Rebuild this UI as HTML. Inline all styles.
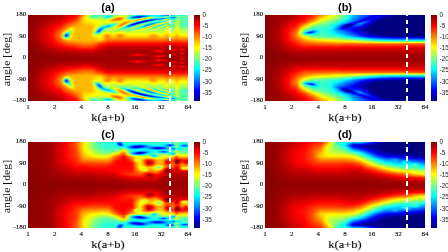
<!DOCTYPE html>
<html><head><meta charset="utf-8"><style>
*{margin:0;padding:0;box-sizing:border-box}
html,body{width:448px;height:252px;background:#fff;overflow:hidden;position:relative}
.p{position:absolute;width:160px;height:86px;overflow:hidden}
.p i{display:block;height:1px;width:160px}
.cb{position:absolute;width:6.3px;height:86.4px}
.t{position:absolute;font:bold 11px "Liberation Sans",Arial,sans-serif;color:#000;width:40px;text-align:center;line-height:1}
.yt{position:absolute;font:7px "Liberation Serif",serif;color:#000;-webkit-text-stroke:0.1px #000;text-align:right;width:20px;line-height:1}
.xt{position:absolute;font:7px "Liberation Serif",serif;color:#000;-webkit-text-stroke:0.1px #000;text-align:center;width:20px;line-height:1}
.xl{position:absolute;font:11px "Liberation Serif",serif;color:#111;-webkit-text-stroke:0.15px #111;text-align:center;width:60px;line-height:1;transform:scaleX(1.13);transform-origin:50% 50%}
.yl{position:absolute;font:11px "Liberation Serif",serif;color:#111;text-align:center;width:70px;line-height:1;transform:rotate(-90deg) scaleX(1.07);transform-origin:50% 50%}
.cl{position:absolute;font:6.4px "Liberation Sans",Arial,sans-serif;color:#222;line-height:1}
.dl{position:absolute;width:1.5px;height:86.4px}
</style></head><body>
<div class="p" style="left:28px;top:15px"><i style="background:linear-gradient(90deg,#8f0000,#900000,#920000,#930000,#940000,#960000,#970000,#990000,#9a0000,#9d0000,#9f0000,#a10000,#a30000,#a70000,#aa0000,#ae0000,#b10000,#bd0000,#c80000,#d30000,#df0000,#e60000,#ed0000,#f40000,#fb0000,#ff2700,#ff5200,#ff7d00,#ffa900,#ffd700,#f2ff0d,#b0ff4f,#64ff9b,#3dffc2,#2dffd2,#3affc5,#54ffab,#67ff98,#63ff9c,#4bffb4,#35ffca,#40ffbf,#5fffa0,#7fff80,#96ff69,#a8ff57,#b9ff46,#c5ff3a,#c6ff39,#b8ff47,#9eff61,#79ff86,#4effb1,#20ffdf,#00f6ff,#00d4ff,#00beff,#00b2ff,#00b6ff,#00c4ff,#00d4ff,#00e6ff,#00f5ff,#02fffd,#05fffa,#00faff,#00e2ff,#00beff,#009bff,#009bff,#008bff,#009aff,#00d2ff,#00ecff,#45ffba,#5bffa4,#29ffd6,#2dffd2,#31ffce,#35ffca,#39ffc6)"></i><i style="background:linear-gradient(90deg,#8f0000,#900000,#920000,#930000,#940000,#960000,#980000,#9a0000,#9c0000,#9f0000,#a10000,#a40000,#a70000,#ab0000,#af0000,#b20000,#b60000,#c20000,#ce0000,#da0000,#e60000,#ee0000,#f60000,#fe0000,#ff0700,#ff3200,#ff5e00,#ff8b00,#ffbc00,#ffeb00,#d6ff29,#8cff73,#46ffb9,#32ffcd,#3fffc0,#5dffa2,#74ff8b,#74ff8b,#4dffb2,#05fffa,#00d0ff,#00edff,#43ffbc,#95ff6a,#cbff34,#efff10,#fff700,#ffee00,#feff01,#cdff32,#88ff77,#36ffc9,#00deff,#0090ff,#0053ff,#002eff,#0025ff,#0031ff,#0056ff,#008cff,#00c6ff,#00fcff,#24ffdb,#31ffce,#22ffdd,#00ffff,#00e1ff,#00ddff,#02fffd,#5cffa3,#8dff72,#58ffa7,#25ffda,#2bffd4,#95ff6a,#b6ff49,#77ff88,#6cff93,#5bffa4,#49ffb6,#38ffc7)"></i><i style="background:linear-gradient(90deg,#8f0000,#900000,#920000,#930000,#940000,#970000,#990000,#9b0000,#9d0000,#a10000,#a40000,#a70000,#ab0000,#af0000,#b30000,#b70000,#bb0000,#c80000,#d40000,#e10000,#ed0000,#f60000,#ff0000,#ff0900,#ff1100,#ff3e00,#ff6c00,#ff9c00,#ffd200,#fdff02,#c5ff3a,#8eff71,#6aff95,#6fff90,#82ff7d,#91ff6e,#93ff6c,#86ff79,#5bffa4,#15ffea,#00e7ff,#11ffee,#77ff88,#dbff24,#ffdd00,#ffb300,#ffa100,#ffae00,#ffe100,#c5ff3a,#5dffa2,#00f1ff,#0093ff,#004fff,#0030ff,#0039ff,#0069ff,#00b5ff,#19ffe6,#7bff84,#c4ff3b,#e3ff1c,#cfff30,#99ff66,#60ff9f,#44ffbb,#50ffaf,#6bff94,#72ff8d,#79ff86,#3dffc2,#00d1ff,#0095ff,#006eff,#00f3ff,#51ffae,#40ffbf,#62ff9d,#7cff83,#87ff78,#7eff81)"></i><i style="background:linear-gradient(90deg,#8f0000,#900000,#920000,#930000,#940000,#970000,#9a0000,#9c0000,#9f0000,#a30000,#a60000,#aa0000,#ae0000,#b30000,#b70000,#bc0000,#c00000,#cd0000,#da0000,#e70000,#f40000,#fe0000,#ff0900,#ff1300,#ff1c00,#ff4a00,#ff7a00,#ffac00,#ffe300,#f8ff07,#d6ff29,#bdff42,#b1ff4e,#b3ff4c,#b3ff4c,#afff50,#a6ff59,#9fff60,#91ff6e,#7fff80,#7fff80,#abff54,#f5ff0a,#ffbe00,#ff8600,#ff6a00,#ff6f00,#ff9700,#ffe300,#bbff44,#5cffa3,#0dfff2,#00d7ff,#00c5ff,#00dcff,#1fffe0,#84ff7b,#f0ff0f,#ffc300,#ffbd00,#fff900,#a3ff5c,#3affc5,#00ecff,#00caff,#00c2ff,#00b3ff,#008cff,#0072ff,#00b3ff,#00f9ff,#13ffec,#00e9ff,#00ccff,#59ffa6,#99ff66,#4affb5,#32ffcd,#2affd5,#44ffbb,#70ff8f)"></i><i style="background:linear-gradient(90deg,#8f0000,#910000,#920000,#940000,#960000,#990000,#9c0000,#9f0000,#a20000,#a70000,#ab0000,#af0000,#b40000,#b90000,#be0000,#c30000,#c70000,#d50000,#e30000,#f10000,#ff0000,#ff0c00,#ff1900,#ff2500,#ff3100,#ff5b00,#ff8500,#ffb100,#ffdf00,#fff300,#f9ff06,#ebff14,#dfff20,#d9ff26,#d0ff2f,#c7ff38,#bfff40,#bcff43,#beff41,#c8ff37,#e0ff1f,#fff000,#ffb800,#ff8600,#ff6700,#ff6300,#ff7e00,#ffb200,#fff500,#cbff34,#9eff61,#84ff7b,#7fff80,#99ff66,#d6ff29,#ffd900,#ff9f00,#ffac00,#f5ff0a,#6aff95,#00e0ff,#007aff,#0047ff,#0046ff,#0061ff,#007bff,#0099ff,#00e0ff,#5effa1,#fff700,#ffcf00,#93ff6c,#24ffdb,#00f0ff,#58ffa7,#91ff6e,#6fff90,#87ff78,#6cff93,#39ffc6,#2dffd2)"></i><i style="background:linear-gradient(90deg,#8f0000,#910000,#930000,#950000,#970000,#9b0000,#9e0000,#a20000,#a60000,#ab0000,#b00000,#b50000,#ba0000,#bf0000,#c40000,#c90000,#cf0000,#dd0000,#ec0000,#fb0000,#ff0b00,#ff1a00,#ff2900,#ff3800,#ff4700,#ff6b00,#ff8f00,#ffb300,#ffd800,#ffe500,#fff100,#fffd00,#f6ff09,#edff12,#e5ff1a,#deff21,#d9ff26,#d6ff29,#dbff24,#eaff15,#fffc00,#ffd300,#ffad00,#ff9200,#ff8d00,#ff9b00,#ffbc00,#ffe300,#feff01,#f6ff09,#f9ff06,#fffd00,#ffeb00,#ffcb00,#ffb500,#ffd100,#c9ff36,#31ffce,#009bff,#002fff,#0000fb,#0011ff,#005dff,#00b5ff,#00f9ff,#30ffcf,#71ff8e,#a8ff57,#a4ff5b,#85ff7a,#21ffde,#05fffa,#47ffb8,#72ff8d,#e4ff1b,#c4ff3b,#32ffcd,#34ffcb,#6eff91,#84ff7b,#4affb5)"></i><i style="background:linear-gradient(90deg,#8f0000,#920000,#940000,#960000,#990000,#9d0000,#a10000,#a50000,#a90000,#af0000,#b40000,#ba0000,#bf0000,#c50000,#cb0000,#d00000,#d60000,#e60000,#f50000,#ff0600,#ff1600,#ff2800,#ff3900,#ff4b00,#ff5d00,#ff7b00,#ff9900,#ffb700,#ffd500,#ffde00,#ffe700,#fff000,#fff900,#feff01,#f8ff07,#f3ff0c,#f2ff0d,#edff12,#eeff11,#f6ff09,#fffc00,#ffe400,#ffd300,#ffd000,#ffdc00,#ffee00,#feff01,#fdff02,#ffea00,#ffc700,#ffb400,#ffb700,#ffca00,#fff600,#a9ff56,#16ffe9,#0077ff,#0000ff,#0000d6,#0000ff,#0066ff,#00e5ff,#41ffbe,#5bffa4,#50ffaf,#40ffbf,#27ffd8,#00feff,#00f4ff,#70ff8f,#f0ff0f,#ccff33,#74ff8b,#3fffc0,#94ff6b,#c4ff3b,#89ff76,#61ff9e,#2affd5,#57ffa8,#86ff79)"></i><i style="background:linear-gradient(90deg,#8f0000,#920000,#950000,#970000,#9a0000,#9f0000,#a40000,#a80000,#ad0000,#b30000,#b90000,#c00000,#c60000,#cc0000,#d20000,#d80000,#de0000,#ef0000,#ff0200,#ff1300,#ff2400,#ff3700,#ff4a00,#ff5d00,#ff7100,#ff8900,#ffa100,#ffba00,#ffd200,#ffd800,#ffde00,#ffe400,#ffea00,#fff100,#fff800,#fffd00,#ffff00,#f6ff09,#f0ff0f,#edff12,#eaff15,#f0ff0f,#ecff13,#dfff20,#ceff31,#ccff33,#e3ff1c,#ffe700,#ffa800,#ff8900,#ffa500,#ffe900,#b5ff4a,#2effd1,#0085ff,#0000f8,#0000c9,#0000f9,#0073ff,#04fffb,#6bff94,#80ff7f,#45ffba,#00f5ff,#00c6ff,#00c8ff,#04fffb,#74ff8b,#f4ff0b,#ffb000,#cdff32,#0dfff2,#2fffd0,#6eff91,#f2ff0d,#b9ff46,#2effd1,#6eff91,#79ff86,#2cffd3,#5affa5)"></i><i style="background:linear-gradient(90deg,#8f0000,#920000,#950000,#980000,#9c0000,#a10000,#a70000,#ac0000,#b20000,#b80000,#bf0000,#c60000,#cd0000,#d40000,#db0000,#e20000,#e90000,#fd0000,#ff1200,#ff2600,#ff3a00,#ff4b00,#ff5d00,#ff6f00,#ff8000,#ff9200,#ffa500,#ffb800,#ffcb00,#ffcf00,#ffd300,#ffd700,#ffdb00,#ffe800,#fff400,#ffff00,#f5ff0a,#eaff15,#deff21,#d1ff2e,#c0ff3f,#b2ff4d,#9bff64,#87ff78,#86ff79,#b1ff4e,#fff900,#ff9f00,#ff7200,#ff9600,#fff800,#82ff7d,#00deff,#002fff,#0000ca,#0000ec,#0073ff,#0ffff0,#8bff74,#adff52,#64ff9b,#00ebff,#0093ff,#0091ff,#00f1ff,#8bff74,#fff200,#ffe100,#9cff63,#32ffcd,#32ffcd,#91ff6e,#8aff75,#4dffb2,#9bff64,#ddff22,#7cff83,#2bffd4,#59ffa6,#73ff8c,#20ffdf)"></i><i style="background:linear-gradient(90deg,#8f0000,#930000,#960000,#9a0000,#9d0000,#a30000,#a90000,#b00000,#b60000,#be0000,#c50000,#cd0000,#d40000,#dc0000,#e40000,#ec0000,#f40000,#ff0c00,#ff2200,#ff3900,#ff5000,#ff5f00,#ff7000,#ff8100,#ff9000,#ff9b00,#ffa900,#ffb600,#ffc400,#ffc600,#ffc800,#ffcb00,#ffcd00,#ffdf00,#fff200,#fbff04,#e9ff16,#d8ff27,#bfff40,#9eff61,#72ff8d,#48ffb7,#2bffd4,#33ffcc,#6dff92,#d9ff26,#ffb000,#ff6f00,#ff8800,#fff200,#72ff8d,#00bbff,#0018ff,#0000e8,#004aff,#00efff,#83ff7c,#cdff32,#aaff55,#26ffd9,#009cff,#006dff,#00b9ff,#68ff97,#ffed00,#ffc000,#c7ff38,#0ffff0,#00e5ff,#ccff33,#ffb300,#6aff95,#24ffdb,#5fffa0,#f3ff0c,#a8ff57,#4affb5,#82ff7d,#28ffd7,#5dffa2,#4dffb2)"></i><i style="background:linear-gradient(90deg,#8f0000,#930000,#970000,#9b0000,#9e0000,#a50000,#ac0000,#b30000,#ba0000,#c30000,#cb0000,#d30000,#db0000,#e40000,#ed0000,#f60000,#ff0000,#ff1900,#ff3300,#ff4c00,#ff6500,#ff7400,#ff8600,#ff9800,#ffa000,#ffa400,#ffac00,#ffb400,#ffbd00,#ffbd00,#ffbe00,#ffbe00,#ffbe00,#ffd700,#ffef00,#f5ff0a,#d5ff2a,#acff53,#6eff91,#2dffd2,#00f0ff,#00d4ff,#00ecff,#39ffc6,#a9ff56,#ffd900,#ff8800,#ff8d00,#ffeb00,#75ff8a,#00beff,#0037ff,#0035ff,#00b0ff,#4bffb4,#b7ff48,#d1ff2e,#82ff7d,#00efff,#0081ff,#0085ff,#13ffec,#dfff20,#ffa800,#ffe700,#58ffa7,#00d7ff,#37ffc8,#fbff04,#ffe700,#35ffca,#2affd5,#89ff76,#5dffa2,#9aff65,#ecff13,#56ffa9,#37ffc8,#78ff87,#17ffe8,#6eff91)"></i><i style="background:linear-gradient(90deg,#8f0000,#930000,#980000,#9c0000,#a00000,#a80000,#b00000,#b70000,#bf0000,#c80000,#d10000,#da0000,#e30000,#ed0000,#f80000,#ff0300,#ff0d00,#ff2900,#ff4400,#ff6000,#ff7b00,#ff8a00,#ffa300,#ffb000,#ffab00,#ffab00,#ffb000,#ffb500,#ffba00,#ffba00,#ffba00,#ffba00,#ffba00,#ffd600,#fff500,#e2ff1d,#9fff60,#40ffbf,#00e7ff,#00c1ff,#00bcff,#00e7ff,#38ffc7,#98ff67,#fbff04,#ffb700,#ffad00,#fff200,#86ff79,#00e6ff,#0081ff,#0098ff,#0bfff4,#7eff81,#baff45,#aaff55,#55ffaa,#00e4ff,#00aaff,#00e2ff,#82ff7d,#ffd200,#ffaf00,#cfff30,#24ffdb,#06fff9,#9cff63,#fffc00,#7dff82,#3bffc4,#d9ff26,#c1ff3e,#46ffb9,#61ff9e,#f6ff09,#acff53,#7eff81,#60ff9f,#52ffad,#67ff98,#45ffba)"></i><i style="background:linear-gradient(90deg,#8f0000,#940000,#980000,#9d0000,#a10000,#aa0000,#b30000,#bc0000,#c40000,#ce0000,#d70000,#e10000,#ea0000,#f60000,#ff0300,#ff1000,#ff1c00,#ff3900,#ff5600,#ff7400,#ff9200,#ffa700,#ffcb00,#ffc700,#ffb300,#ffb000,#ffb300,#ffb700,#ffba00,#ffba00,#ffba00,#ffbb00,#ffbb00,#ffdc00,#f9ff06,#b7ff48,#39ffc6,#00bbff,#00aeff,#00eaff,#22ffdd,#5fffa0,#9eff61,#dcff23,#ffee00,#ffde00,#f3ff0c,#90ff6f,#1affe5,#00d6ff,#00f3ff,#49ffb6,#91ff6e,#a8ff57,#89ff76,#45ffba,#0afff5,#00fcff,#46ffb9,#d5ff2a,#ffc100,#ffda00,#a0ff5f,#30ffcf,#4dffb2,#cdff32,#dfff20,#55ffaa,#3effc1,#ffe300,#faff05,#42ffbd,#8eff71,#8bff74,#c7ff38,#fffe00,#66ff99,#8eff71,#64ff9b,#88ff77,#54ffab)"></i><i style="background:linear-gradient(90deg,#8f0000,#940000,#990000,#9e0000,#a30000,#ac0000,#b60000,#c00000,#c90000,#d30000,#dd0000,#e70000,#f10000,#ff0000,#ff0e00,#ff1c00,#ff2b00,#ff4a00,#ff6900,#ff8800,#ffad00,#ffd500,#feff01,#ffda00,#ffb900,#ffb600,#ffb700,#ffb900,#ffba00,#ffba00,#ffbb00,#ffbb00,#ffbe00,#ffe500,#e3ff1c,#7aff85,#00c1ff,#0084ff,#00fcff,#61ff9e,#88ff77,#a6ff59,#c5ff3a,#e4ff1b,#f0ff0f,#d6ff29,#94ff6b,#48ffb7,#23ffdc,#3cffc3,#72ff8d,#97ff68,#98ff67,#7bff84,#55ffaa,#40ffbf,#4fffb0,#92ff6d,#f9ff06,#ffd300,#f8ff07,#93ff6c,#57ffa8,#83ff7c,#d5ff2a,#c2ff3d,#62ff9d,#77ff88,#dfff20,#dfff20,#9fff60,#c0ff3f,#90ff6f,#8aff75,#fffa00,#ddff22,#a9ff56,#7dff82,#a4ff5b,#7bff84,#97ff68)"></i><i style="background:linear-gradient(90deg,#8f0000,#940000,#9a0000,#9f0000,#a40000,#af0000,#b90000,#c40000,#ce0000,#d90000,#e30000,#ee0000,#f80000,#ff0900,#ff1900,#ff2900,#ff3900,#ff5a00,#ff7c00,#ff9f00,#ffd000,#e8ff17,#cfff30,#ffe100,#ffbe00,#ffba00,#ffba00,#ffba00,#ffba00,#ffba00,#ffbb00,#ffbc00,#ffc000,#ffea00,#ceff31,#21ffde,#0054ff,#00a3ff,#5cffa3,#9fff60,#aaff55,#b8ff47,#c7ff38,#cfff30,#c2ff3d,#9cff63,#70ff8f,#60ff9f,#72ff8d,#8eff71,#9aff65,#92ff6d,#7fff80,#73ff8c,#76ff89,#8dff72,#c1ff3e,#faff05,#fff900,#d9ff26,#9fff60,#86ff79,#a4ff5b,#cbff34,#b7ff48,#87ff78,#9eff61,#ccff33,#a2ff5d,#d2ff2d,#ffee00,#a1ff5e,#a6ff59,#b1ff4e,#f6ff09,#fff400,#9fff60,#b2ff4d,#a2ff5d,#a8ff57,#b1ff4e)"></i><i style="background:linear-gradient(90deg,#8f0000,#950000,#9a0000,#9f0000,#a50000,#b00000,#bb0000,#c50000,#d00000,#dc0000,#e70000,#f20000,#fd0000,#ff1100,#ff2300,#ff3500,#ff4800,#ff6900,#ff9000,#ffba00,#ffff00,#a4ff5b,#beff41,#ffda00,#ffbc00,#ffba00,#ffba00,#ffba00,#ffba00,#ffbb00,#ffbb00,#ffbc00,#ffbf00,#ffec00,#9fff60,#00a1ff,#002eff,#02fffd,#9cff63,#bbff44,#beff41,#c4ff3b,#c6ff39,#c0ff3f,#adff52,#9bff64,#97ff68,#a2ff5d,#aaff55,#a8ff57,#9cff63,#94ff6b,#98ff67,#a8ff57,#c0ff3f,#dfff20,#eeff11,#dfff20,#c6ff39,#b8ff47,#b4ff4b,#b8ff47,#bdff42,#bbff44,#b6ff49,#b7ff48,#baff45,#b5ff4a,#b9ff46,#fbff04,#f6ff09,#bbff44,#b7ff48,#b7ff48,#fff700,#fff800,#b9ff46,#b6ff49,#b6ff49,#b8ff47,#b6ff49)"></i><i style="background:linear-gradient(90deg,#8f0000,#950000,#9a0000,#a00000,#a60000,#b10000,#bc0000,#c70000,#d30000,#df0000,#eb0000,#f60000,#ff0300,#ff1800,#ff2d00,#ff4100,#ff5600,#ff7b00,#ffaf00,#fff100,#b4ff4b,#71ff8e,#ccff33,#ffd100,#ffbb00,#ffba00,#ffba00,#ffba00,#ffba00,#ffbb00,#ffbb00,#ffbb00,#ffbe00,#fffd00,#48ffb7,#0055ff,#0089ff,#6aff95,#bfff40,#ceff31,#d1ff2e,#cfff30,#c9ff36,#c0ff3f,#bdff42,#c5ff3a,#cfff30,#ceff31,#c2ff3d,#b5ff4a,#b1ff4e,#b7ff48,#c3ff3c,#d5ff2a,#e7ff18,#e9ff16,#daff25,#ccff33,#c6ff39,#c6ff39,#c7ff38,#cbff34,#cfff30,#d0ff2f,#cdff32,#c9ff36,#c6ff39,#c5ff3a,#c9ff36,#fffb00,#fffb00,#c9ff36,#c5ff3a,#c7ff38,#fff100,#fff100,#c7ff38,#c5ff3a,#c5ff3a,#c5ff3a,#c5ff3a)"></i><i style="background:linear-gradient(90deg,#8f0000,#950000,#9b0000,#a10000,#a60000,#b20000,#be0000,#c90000,#d50000,#e10000,#ee0000,#fb0000,#ff0900,#ff2000,#ff3700,#ff4e00,#ff6500,#ff8f00,#ffe600,#a2ff5d,#4bffb4,#63ff9c,#eaff15,#ffcc00,#ffbb00,#ffba00,#ffba00,#ffba00,#ffba00,#ffba00,#ffba00,#ffbb00,#ffc200,#ddff22,#0afff5,#0098ff,#23ffdc,#afff50,#d9ff26,#e9ff16,#edff12,#e3ff1c,#d6ff29,#d4ff2b,#e0ff1f,#f5ff0a,#feff01,#f2ff0d,#dcff23,#d0ff2f,#d0ff2f,#d6ff29,#e2ff1d,#ecff13,#e9ff16,#deff21,#d6ff29,#d4ff2b,#d4ff2b,#d5ff2a,#d9ff26,#e1ff1e,#eaff15,#edff12,#e6ff19,#dcff23,#d6ff29,#d4ff2b,#d7ff28,#fff100,#fff100,#d7ff28,#d4ff2b,#d5ff2a,#ffeb00,#ffeb00,#d5ff2a,#d4ff2b,#d4ff2b,#d4ff2b,#d4ff2b)"></i><i style="background:linear-gradient(90deg,#8f0000,#950000,#9b0000,#a10000,#a70000,#b30000,#be0000,#ca0000,#d60000,#e30000,#f00000,#fd0000,#ff0b00,#ff2400,#ff3d00,#ff5500,#ff6f00,#ffa300,#ccff33,#04fffb,#00dcff,#78ff87,#fff700,#ffca00,#ffba00,#ffba00,#ffba00,#ffba00,#ffba00,#ffba00,#ffba00,#ffbb00,#ffcb00,#c2ff3d,#2bffd4,#35ffca,#96ff69,#d8ff27,#f9ff06,#ffea00,#ffe400,#fff800,#f3ff0c,#f1ff0e,#fffa00,#ffdc00,#ffce00,#ffdf00,#fffc00,#efff10,#ecff13,#f1ff0e,#f4ff0b,#f1ff0e,#eaff15,#e7ff18,#e6ff19,#e6ff19,#e6ff19,#e8ff17,#efff10,#feff01,#ffee00,#ffe900,#fff600,#f5ff0a,#eaff15,#e7ff18,#e9ff16,#ffe400,#ffe400,#e9ff16,#e6ff19,#e7ff18,#ffe100,#ffe100,#e7ff18,#e6ff19,#e6ff19,#e6ff19,#e6ff19)"></i><i style="background:linear-gradient(90deg,#8e0000,#940000,#9a0000,#a10000,#a70000,#b30000,#be0000,#ca0000,#d60000,#e30000,#f10000,#fe0000,#ff0c00,#ff2500,#ff3f00,#ff5800,#ff7300,#ffb100,#80ff7f,#0066ff,#008cff,#98ff67,#ffe500,#ffc800,#ffba00,#ffba00,#ffba00,#ffba00,#ffba00,#ffba00,#ffba00,#ffbd00,#ffd300,#cdff32,#90ff6f,#b3ff4c,#d1ff2e,#f5ff0a,#ffdf00,#ffb700,#ffae00,#ffcd00,#ffea00,#fff000,#ffda00,#ffb400,#ffa000,#ffb300,#ffd900,#fff200,#fff900,#fffa00,#fffd00,#fdff02,#fcff03,#fcff03,#fcff03,#fcff03,#fcff03,#ffff00,#fff500,#ffdf00,#ffc500,#ffbe00,#ffd100,#ffec00,#fffc00,#fdff02,#ffff00,#ffd300,#ffd300,#ffff00,#fcff03,#fdff02,#ffd300,#ffd300,#fdff02,#fcff03,#fcff03,#fcff03,#fcff03)"></i><i style="background:linear-gradient(90deg,#8d0000,#940000,#9a0000,#a00000,#a70000,#b30000,#be0000,#ca0000,#d60000,#e30000,#f10000,#fe0000,#ff0d00,#ff2700,#ff4100,#ff5b00,#ff7700,#ffba00,#58ffa7,#001cff,#007fff,#b5ff4a,#ffdd00,#ffc800,#ffba00,#ffba00,#ffba00,#ffba00,#ffba00,#ffba00,#ffbb00,#ffbe00,#ffd200,#f4ff0b,#e5ff1a,#efff10,#eaff15,#fff400,#ffc300,#ff9500,#ff8a00,#ffad00,#ffd000,#ffd900,#ffc300,#ff9c00,#ff8800,#ff9b00,#ffc100,#ffdb00,#ffe600,#ffea00,#ffec00,#ffec00,#ffec00,#ffec00,#ffec00,#ffec00,#ffec00,#ffe900,#ffde00,#ffc500,#ffa700,#ff9f00,#ffb500,#ffd300,#ffe500,#ffeb00,#ffea00,#ffc200,#ffc200,#ffea00,#ffec00,#ffec00,#ffc500,#ffc500,#ffec00,#ffec00,#ffec00,#ffec00,#ffec00)"></i><i style="background:linear-gradient(90deg,#8d0000,#930000,#9a0000,#a00000,#a70000,#b30000,#be0000,#ca0000,#d60000,#e40000,#f10000,#ff0000,#ff0e00,#ff2800,#ff4300,#ff5e00,#ff7a00,#ffb900,#6eff91,#0059ff,#00c4ff,#d0ff2f,#ffda00,#ffc800,#ffba00,#ffba00,#ffba00,#ffba00,#ffba00,#ffba00,#ffbb00,#ffbe00,#ffca00,#ffe400,#ffee00,#fff800,#f9ff06,#ffe700,#ffba00,#ff8f00,#ff8200,#ffa000,#ffbf00,#ffc700,#ffb600,#ff9700,#ff8700,#ff9600,#ffb400,#ffca00,#ffd400,#ffd600,#ffd700,#ffd700,#ffd700,#ffd700,#ffd700,#ffd700,#ffd600,#ffd400,#ffca00,#ffb400,#ff9a00,#ff9200,#ffa600,#ffc000,#ffd000,#ffd500,#ffd400,#ffb100,#ffb100,#ffd400,#ffd700,#ffd600,#ffb600,#ffb600,#ffd600,#ffd700,#ffd700,#ffd700,#ffd700)"></i><i style="background:linear-gradient(90deg,#8d0000,#930000,#990000,#a00000,#a60000,#b20000,#bd0000,#c80000,#d40000,#e10000,#ef0000,#fd0000,#ff0b00,#ff2400,#ff3d00,#ff5600,#ff7000,#ffa400,#bfff40,#00feff,#46ffb9,#f7ff08,#ffd100,#ffc400,#ffba00,#ffba00,#ffba00,#ffba00,#ffba00,#ffba00,#ffbb00,#ffbd00,#ffc100,#ffd000,#ffdd00,#ffeb00,#fff800,#ffdd00,#ffb900,#ff9500,#ff8500,#ff9800,#ffab00,#ffb000,#ffa600,#ff9400,#ff8a00,#ff9300,#ffa600,#ffb400,#ffb900,#ffba00,#ffba00,#ffba00,#ffba00,#ffba00,#ffba00,#ffba00,#ffba00,#ffb800,#ffb100,#ffa200,#ff9000,#ff8b00,#ff9900,#ffab00,#ffb600,#ffb900,#ffb800,#ff9a00,#ff9a00,#ffb800,#ffba00,#ffba00,#ffa000,#ffa000,#ffba00,#ffba00,#ffba00,#ffba00,#ffba00)"></i><i style="background:linear-gradient(90deg,#8d0000,#930000,#990000,#9f0000,#a50000,#b00000,#bc0000,#c70000,#d20000,#df0000,#ec0000,#fa0000,#ff0800,#ff1f00,#ff3600,#ff4d00,#ff6500,#ff8c00,#ffea00,#a7ff58,#c0ff3f,#ffe500,#ffc800,#ffc100,#ffba00,#ffba00,#ffba00,#ffba00,#ffba00,#ffba00,#ffbb00,#ffbc00,#ffbc00,#ffc800,#ffd400,#ffe000,#ffeb00,#ffd300,#ffb500,#ff9900,#ff8500,#ff8d00,#ff9600,#ff9800,#ff9400,#ff8b00,#ff8600,#ff8b00,#ff9400,#ff9a00,#ff9d00,#ff9d00,#ff9d00,#ff9d00,#ff9d00,#ff9d00,#ff9d00,#ff9d00,#ff9d00,#ff9c00,#ff9900,#ff9000,#ff8700,#ff8400,#ff8b00,#ff9500,#ff9b00,#ff9d00,#ff9b00,#ff8100,#ff8100,#ff9c00,#ff9d00,#ff9d00,#ff8800,#ff8800,#ff9d00,#ff9d00,#ff9d00,#ff9d00,#ff9d00)"></i><i style="background:linear-gradient(90deg,#8d0000,#930000,#990000,#9f0000,#a50000,#af0000,#ba0000,#c50000,#cf0000,#dd0000,#ea0000,#f70000,#ff0500,#ff1a00,#ff2f00,#ff4400,#ff5a00,#ff7900,#ffae00,#ffe800,#ffee00,#ffcb00,#ffc000,#ffbd00,#ffba00,#ffba00,#ffba00,#ffba00,#ffba00,#ffba00,#ffba00,#ffbb00,#ffbb00,#ffc400,#ffcd00,#ffd500,#ffde00,#ffc500,#ffaa00,#ff8f00,#ff7800,#ff7b00,#ff7e00,#ff7e00,#ff7d00,#ff7900,#ff7800,#ff7a00,#ff7d00,#ff7f00,#ff8000,#ff8000,#ff8000,#ff8000,#ff8000,#ff8000,#ff8000,#ff8000,#ff8000,#ff8000,#ff7e00,#ff7b00,#ff7700,#ff7600,#ff7900,#ff7d00,#ff7f00,#ff8000,#ff7f00,#ff6800,#ff6800,#ff7f00,#ff8000,#ff8000,#ff6f00,#ff6f00,#ff8000,#ff8000,#ff8000,#ff8000,#ff8000)"></i><i style="background:linear-gradient(90deg,#8d0000,#920000,#980000,#9e0000,#a40000,#ae0000,#b80000,#c30000,#cd0000,#da0000,#e60000,#f30000,#ff0100,#ff1400,#ff2700,#ff3a00,#ff4d00,#ff6800,#ff8900,#ffab00,#ffbe00,#ffb500,#ffb300,#ffb300,#ffb400,#ffb400,#ffb500,#ffb500,#ffb600,#ffb600,#ffb600,#ffb600,#ffb600,#ffba00,#ffbf00,#ffc300,#ffc700,#ffae00,#ff9400,#ff7a00,#ff6100,#ff6200,#ff6300,#ff6300,#ff6200,#ff6100,#ff6100,#ff6100,#ff6200,#ff6300,#ff6300,#ff6300,#ff6300,#ff6300,#ff6300,#ff6300,#ff6300,#ff6300,#ff6300,#ff6300,#ff6300,#ff6100,#ff6000,#ff6000,#ff6100,#ff6200,#ff6300,#ff6300,#ff6200,#ff4f00,#ff4f00,#ff6200,#ff6300,#ff6300,#ff5600,#ff5600,#ff6300,#ff6300,#ff6300,#ff6300,#ff6300)"></i><i style="background:linear-gradient(90deg,#8d0000,#920000,#970000,#9d0000,#a20000,#ac0000,#b60000,#bf0000,#c90000,#d50000,#e10000,#ed0000,#f90000,#ff0b00,#ff1c00,#ff2e00,#ff3f00,#ff5500,#ff6c00,#ff8300,#ff9700,#ff9800,#ff9900,#ff9c00,#ff9e00,#ffa000,#ffa300,#ffa500,#ffa700,#ffa700,#ffa700,#ffa700,#ffa700,#ffa500,#ffa200,#ff9f00,#ff9c00,#ff8600,#ff7100,#ff5b00,#ff4600,#ff4600,#ff4600,#ff4600,#ff4600,#ff4600,#ff4600,#ff4600,#ff4600,#ff4600,#ff4600,#ff4600,#ff4600,#ff4600,#ff4600,#ff4600,#ff4600,#ff4600,#ff4600,#ff4600,#ff4600,#ff4600,#ff4500,#ff4500,#ff4500,#ff4600,#ff4600,#ff4600,#ff4500,#ff3500,#ff3500,#ff4500,#ff4600,#ff4600,#ff3c00,#ff3c00,#ff4600,#ff4600,#ff4600,#ff4600,#ff4600)"></i><i style="background:linear-gradient(90deg,#8d0000,#920000,#970000,#9c0000,#a10000,#aa0000,#b30000,#bc0000,#c60000,#d10000,#dc0000,#e70000,#f20000,#ff0200,#ff1100,#ff2100,#ff3000,#ff4200,#ff5400,#ff6600,#ff7800,#ff7c00,#ff8000,#ff8400,#ff8800,#ff8c00,#ff9100,#ff9500,#ff9900,#ff9900,#ff9900,#ff9900,#ff9900,#ff8f00,#ff8500,#ff7a00,#ff7000,#ff5e00,#ff4d00,#ff3b00,#ff2900,#ff2900,#ff2900,#ff2900,#ff2900,#ff2900,#ff2900,#ff2900,#ff2900,#ff2900,#ff2900,#ff2900,#ff2900,#ff2900,#ff2900,#ff2900,#ff2900,#ff2900,#ff2900,#ff2900,#ff2900,#ff2900,#ff2900,#ff2900,#ff2900,#ff2900,#ff2900,#ff2900,#ff2800,#ff1b00,#ff1b00,#ff2800,#ff2900,#ff2900,#ff2100,#ff2100,#ff2900,#ff2900,#ff2900,#ff2900,#ff2900)"></i><i style="background:linear-gradient(90deg,#8d0000,#910000,#960000,#9b0000,#9f0000,#a80000,#b10000,#b90000,#c20000,#cc0000,#d60000,#e00000,#ea0000,#f80000,#ff0700,#ff1400,#ff2200,#ff3000,#ff3e00,#ff4c00,#ff5b00,#ff6000,#ff6600,#ff6c00,#ff7200,#ff7800,#ff7e00,#ff8400,#ff8a00,#ff8a00,#ff8a00,#ff8a00,#ff8a00,#ff7900,#ff6800,#ff5600,#ff4500,#ff3600,#ff2800,#ff1a00,#ff0c00,#ff0c00,#ff0c00,#ff0c00,#ff0c00,#ff0c00,#ff0c00,#ff0c00,#ff0c00,#ff0c00,#ff0c00,#ff0c00,#ff0c00,#ff0c00,#ff0c00,#ff0c00,#ff0c00,#ff0c00,#ff0c00,#ff0c00,#ff0c00,#ff0c00,#ff0c00,#ff0c00,#ff0c00,#ff0c00,#ff0c00,#ff0c00,#ff0b00,#ff0100,#ff0100,#ff0b00,#ff0c00,#ff0c00,#ff0600,#ff0600,#ff0c00,#ff0c00,#ff0c00,#ff0c00,#ff0c00)"></i><i style="background:linear-gradient(90deg,#8c0000,#910000,#950000,#990000,#9e0000,#a60000,#ae0000,#b50000,#bd0000,#c70000,#d00000,#da0000,#e30000,#ef0000,#fb0000,#ff0700,#ff1300,#ff1f00,#ff2b00,#ff3700,#ff4200,#ff4900,#ff5000,#ff5600,#ff5d00,#ff6300,#ff6a00,#ff7000,#ff7700,#ff7700,#ff7700,#ff7700,#ff7700,#ff6300,#ff5000,#ff3c00,#ff2800,#ff1c00,#ff0f00,#ff0300,#f60000,#f60000,#f60000,#f60000,#f60000,#f60000,#f60000,#f60000,#f60000,#f60000,#f60000,#f60000,#f60000,#f60000,#f60000,#f60000,#f60000,#f60000,#f60000,#f60000,#f60000,#f60000,#f60000,#f60000,#f60000,#f60000,#f60000,#f60000,#f50000,#ed0000,#ed0000,#f50000,#f60000,#f50000,#f10000,#f10000,#f50000,#f60000,#f60000,#f60000,#f60000)"></i><i style="background:linear-gradient(90deg,#8b0000,#900000,#940000,#980000,#9c0000,#a30000,#aa0000,#b10000,#b80000,#c10000,#ca0000,#d30000,#dc0000,#e60000,#f00000,#fa0000,#ff0500,#ff0f00,#ff1900,#ff2300,#ff2d00,#ff3300,#ff3a00,#ff4000,#ff4700,#ff4d00,#ff5400,#ff5a00,#ff6100,#ff6100,#ff6100,#ff6100,#ff6100,#ff4d00,#ff3a00,#ff2600,#ff1300,#ff0700,#fa0000,#ef0000,#e30000,#e30000,#e30000,#e30000,#e30000,#e30000,#e30000,#e30000,#e30000,#e30000,#e30000,#e30000,#e30000,#e30000,#e30000,#e30000,#e30000,#e30000,#e30000,#e30000,#e30000,#e30000,#e30000,#e30000,#e30000,#e30000,#e30000,#e30000,#e30000,#dc0000,#dc0000,#e30000,#e30000,#e30000,#e00000,#e00000,#e30000,#e30000,#e30000,#e30000,#e30000)"></i><i style="background:linear-gradient(90deg,#8b0000,#8f0000,#930000,#970000,#9b0000,#a10000,#a70000,#ad0000,#b30000,#bb0000,#c40000,#cc0000,#d50000,#dd0000,#e50000,#ed0000,#f50000,#fd0000,#ff0700,#ff0f00,#ff1700,#ff1d00,#ff2400,#ff2b00,#ff3100,#ff3800,#ff3e00,#ff4500,#ff4b00,#ff4b00,#ff4b00,#ff4b00,#ff4b00,#ff3800,#ff2400,#ff1000,#fc0000,#f10000,#e60000,#dc0000,#d10000,#d10000,#d10000,#d10000,#d10000,#d10000,#d10000,#d10000,#d10000,#d10000,#d10000,#d10000,#d10000,#d10000,#d10000,#d10000,#d10000,#d10000,#d10000,#d10000,#d10000,#d10000,#d10000,#d10000,#d10000,#d10000,#d10000,#d10000,#d10000,#cc0000,#cc0000,#d10000,#d10000,#d10000,#cf0000,#cf0000,#d10000,#d10000,#d10000,#d10000,#d10000)"></i><i style="background:linear-gradient(90deg,#8a0000,#8e0000,#920000,#960000,#990000,#9f0000,#a40000,#a90000,#ae0000,#b60000,#be0000,#c50000,#cd0000,#d40000,#da0000,#e00000,#e70000,#ed0000,#f40000,#fa0000,#ff0200,#ff0800,#ff0e00,#ff1500,#ff1b00,#ff2200,#ff2800,#ff2f00,#ff3500,#ff3500,#ff3500,#ff3500,#ff3500,#ff2200,#ff0e00,#fa0000,#e70000,#dd0000,#d30000,#ca0000,#c00000,#c00000,#c00000,#c00000,#c00000,#c00000,#c00000,#c00000,#c00000,#c00000,#c00000,#c00000,#c00000,#c00000,#c00000,#c00000,#c00000,#c00000,#c00000,#c00000,#c00000,#c00000,#c00000,#c00000,#c00000,#c00000,#c00000,#c00000,#c00000,#bc0000,#bc0000,#c00000,#c00000,#c00000,#bf0000,#bf0000,#c00000,#c10000,#c00000,#c00000,#c00000)"></i><i style="background:linear-gradient(90deg,#8a0000,#8d0000,#910000,#940000,#970000,#9c0000,#a10000,#a50000,#aa0000,#b00000,#b70000,#be0000,#c40000,#ca0000,#cf0000,#d50000,#db0000,#e00000,#e60000,#eb0000,#f10000,#f60000,#fb0000,#ff0100,#ff0500,#ff0b00,#ff1100,#ff1600,#ff1c00,#ff1c00,#ff1c00,#ff1c00,#ff1c00,#ff0b00,#fa0000,#ea0000,#da0000,#d20000,#c90000,#c10000,#b90000,#b90000,#b90000,#b90000,#b90000,#b90000,#b90000,#b90000,#b90000,#b90000,#b90000,#b90000,#b90000,#b90000,#b90000,#b90000,#b90000,#b90000,#b90000,#b90000,#b90000,#b90000,#b90000,#b90000,#b90000,#b90000,#b90000,#b90000,#b90000,#b60000,#b60000,#b90000,#bc0000,#be0000,#ba0000,#ba0000,#c30000,#cc0000,#c30000,#ba0000,#b90000)"></i><i style="background:linear-gradient(90deg,#8a0000,#8d0000,#900000,#920000,#950000,#990000,#9d0000,#a10000,#a50000,#ab0000,#b10000,#b60000,#bc0000,#c00000,#c50000,#ca0000,#ce0000,#d30000,#d70000,#dc0000,#e10000,#e40000,#e80000,#eb0000,#ef0000,#f30000,#f80000,#fd0000,#ff0200,#ff0200,#ff0200,#ff0200,#ff0200,#f40000,#e70000,#da0000,#cd0000,#c60000,#bf0000,#b80000,#b20000,#b20000,#b20000,#b20000,#b20000,#b20000,#b20000,#b20000,#b20000,#b20000,#b20000,#b20000,#b20000,#b20000,#b20000,#b20000,#b20000,#b20000,#b20000,#b20000,#b20000,#b20000,#b40000,#b70000,#ba0000,#bc0000,#bc0000,#ba0000,#b60000,#b20000,#b00000,#b80000,#db0000,#ee0000,#c40000,#ba0000,#e50000,#ff1200,#e50000,#ba0000,#b20000)"></i><i style="background:linear-gradient(90deg,#8a0000,#8c0000,#8e0000,#910000,#930000,#960000,#9a0000,#9e0000,#a10000,#a60000,#aa0000,#ae0000,#b30000,#b70000,#ba0000,#be0000,#c20000,#c60000,#c90000,#cd0000,#d10000,#d30000,#d50000,#d70000,#d90000,#dd0000,#e00000,#e40000,#e80000,#e80000,#e80000,#e80000,#e80000,#de0000,#d40000,#ca0000,#c00000,#ba0000,#b50000,#b00000,#aa0000,#aa0000,#aa0000,#aa0000,#aa0000,#aa0000,#aa0000,#aa0000,#aa0000,#aa0000,#aa0000,#aa0000,#aa0000,#aa0000,#aa0000,#aa0000,#aa0000,#aa0000,#aa0000,#ab0000,#ac0000,#b00000,#ba0000,#cb0000,#e00000,#f00000,#f00000,#e00000,#cb0000,#b80000,#ae0000,#b50000,#e80000,#ff0600,#c60000,#b10000,#cd0000,#ea0000,#cd0000,#b00000,#ab0000)"></i><i style="background:linear-gradient(90deg,#8a0000,#8b0000,#8d0000,#8f0000,#910000,#940000,#970000,#9a0000,#9d0000,#a10000,#a50000,#a80000,#ac0000,#af0000,#b20000,#b50000,#b80000,#bb0000,#bd0000,#c00000,#c30000,#c40000,#c60000,#c70000,#c80000,#cb0000,#ce0000,#d10000,#d40000,#d40000,#d40000,#d40000,#d40000,#cc0000,#c50000,#be0000,#b60000,#b20000,#ae0000,#aa0000,#a60000,#a60000,#a60000,#a60000,#a60000,#a60000,#a60000,#a60000,#a60000,#a60000,#a60000,#a60000,#a60000,#a60000,#a60000,#a60000,#a60000,#a60000,#a60000,#a70000,#a90000,#ae0000,#bb0000,#d30000,#f00000,#ff0600,#ff0600,#f00000,#d30000,#ba0000,#ad0000,#aa0000,#b30000,#b80000,#ac0000,#a70000,#aa0000,#ae0000,#aa0000,#a70000,#a60000)"></i><i style="background:linear-gradient(90deg,#890000,#8b0000,#8c0000,#8e0000,#900000,#920000,#950000,#980000,#9b0000,#9d0000,#a00000,#a30000,#a60000,#a80000,#ab0000,#ad0000,#b00000,#b20000,#b40000,#b60000,#b80000,#b90000,#ba0000,#bb0000,#bd0000,#bf0000,#c10000,#c30000,#c50000,#c50000,#c50000,#c50000,#c50000,#c00000,#bb0000,#b60000,#b10000,#ae0000,#ac0000,#a90000,#a60000,#a60000,#a60000,#a60000,#a60000,#a60000,#a60000,#a60000,#a60000,#a60000,#a60000,#a60000,#a60000,#a70000,#a70000,#a70000,#a70000,#a70000,#a60000,#a60000,#a70000,#a80000,#ac0000,#b20000,#bb0000,#c10000,#c10000,#bb0000,#b20000,#ab0000,#a70000,#a70000,#aa0000,#ab0000,#a70000,#a90000,#ba0000,#cb0000,#ba0000,#a90000,#a60000)"></i><i style="background:linear-gradient(90deg,#880000,#8a0000,#8b0000,#8d0000,#8e0000,#910000,#930000,#950000,#980000,#9a0000,#9c0000,#9e0000,#a00000,#a20000,#a40000,#a60000,#a80000,#a90000,#ab0000,#ac0000,#ad0000,#ae0000,#af0000,#b00000,#b10000,#b20000,#b40000,#b50000,#b70000,#b70000,#b70000,#b70000,#b70000,#b40000,#b20000,#af0000,#ac0000,#aa0000,#a90000,#a70000,#a50000,#a50000,#a50000,#a50000,#a50000,#a50000,#a50000,#a50000,#a50000,#a60000,#a90000,#ad0000,#b30000,#b90000,#bf0000,#c10000,#bf0000,#b90000,#b30000,#ad0000,#a90000,#a70000,#a60000,#a60000,#a60000,#a70000,#a70000,#a60000,#a60000,#a50000,#a50000,#ab0000,#ce0000,#e10000,#b80000,#af0000,#dd0000,#ff0f00,#dd0000,#ae0000,#a50000)"></i><i style="background:linear-gradient(90deg,#870000,#890000,#8a0000,#8b0000,#8d0000,#8f0000,#910000,#930000,#950000,#960000,#970000,#990000,#9a0000,#9c0000,#9d0000,#9e0000,#a00000,#a00000,#a10000,#a20000,#a30000,#a30000,#a40000,#a50000,#a50000,#a60000,#a70000,#a70000,#a80000,#a80000,#a80000,#a80000,#a80000,#a80000,#a80000,#a70000,#a70000,#a60000,#a60000,#a50000,#a40000,#a40000,#a40000,#a40000,#a40000,#a40000,#a40000,#a50000,#a60000,#aa0000,#b10000,#bf0000,#d40000,#eb0000,#fe0000,#ff0700,#fe0000,#eb0000,#d40000,#bf0000,#b20000,#ab0000,#a80000,#aa0000,#ad0000,#af0000,#af0000,#ac0000,#a90000,#a60000,#a50000,#ad0000,#e20000,#ff0000,#c00000,#a90000,#b90000,#ca0000,#b90000,#a70000,#a40000)"></i><i style="background:linear-gradient(90deg,#870000,#880000,#8a0000,#8b0000,#8c0000,#8e0000,#900000,#910000,#930000,#940000,#950000,#970000,#980000,#990000,#9a0000,#9b0000,#9c0000,#9d0000,#9e0000,#9e0000,#9f0000,#a00000,#a00000,#a10000,#a10000,#a20000,#a20000,#a30000,#a30000,#a30000,#a30000,#a30000,#a30000,#a30000,#a30000,#a30000,#a30000,#a30000,#a30000,#a30000,#a30000,#a30000,#a30000,#a30000,#a30000,#a30000,#a30000,#a30000,#a40000,#a70000,#ac0000,#b70000,#c60000,#d70000,#e50000,#ea0000,#e50000,#d70000,#c60000,#b70000,#ae0000,#ac0000,#b40000,#c40000,#d90000,#e80000,#e80000,#d90000,#c30000,#b20000,#a80000,#a60000,#af0000,#b50000,#a80000,#a40000,#a60000,#a90000,#a60000,#a30000,#a30000)"></i><i style="background:linear-gradient(90deg,#870000,#880000,#890000,#8a0000,#8b0000,#8d0000,#8e0000,#900000,#920000,#930000,#940000,#950000,#960000,#960000,#970000,#980000,#990000,#9a0000,#9b0000,#9b0000,#9c0000,#9d0000,#9d0000,#9e0000,#9f0000,#9f0000,#9f0000,#a00000,#a00000,#a00000,#a00000,#a00000,#a00000,#a00000,#a00000,#a00000,#a00000,#a00000,#a10000,#a10000,#a10000,#a10000,#a10000,#a10000,#a10000,#a10000,#a10000,#a10000,#a20000,#a20000,#a30000,#a40000,#a70000,#a90000,#ab0000,#ac0000,#ab0000,#a90000,#a70000,#a50000,#a50000,#aa0000,#b70000,#ce0000,#eb0000,#ff0100,#ff0100,#eb0000,#ce0000,#b60000,#a90000,#a40000,#a20000,#a20000,#a20000,#a50000,#bb0000,#d10000,#bb0000,#a50000,#a20000)"></i><i style="background:linear-gradient(90deg,#870000,#880000,#890000,#8a0000,#8a0000,#8c0000,#8d0000,#8f0000,#900000,#910000,#920000,#930000,#930000,#940000,#950000,#960000,#960000,#970000,#980000,#980000,#990000,#9a0000,#9a0000,#9b0000,#9c0000,#9c0000,#9c0000,#9c0000,#9c0000,#9c0000,#9c0000,#9c0000,#9c0000,#9c0000,#9c0000,#9c0000,#9c0000,#9d0000,#9e0000,#9f0000,#a00000,#a00000,#a00000,#a00000,#a00000,#a00000,#a00000,#a00000,#a00000,#a00000,#a00000,#a00000,#a00000,#a00000,#a00000,#a00000,#a00000,#a00000,#a00000,#a00000,#a10000,#a20000,#a60000,#ad0000,#b50000,#bb0000,#bb0000,#b50000,#ad0000,#a60000,#a20000,#a10000,#a00000,#a00000,#a00000,#a60000,#c70000,#e70000,#c70000,#a60000,#a00000)"></i><i style="background:linear-gradient(90deg,#870000,#880000,#890000,#890000,#8a0000,#8c0000,#8d0000,#8e0000,#900000,#900000,#910000,#920000,#920000,#930000,#940000,#950000,#950000,#960000,#970000,#970000,#980000,#990000,#990000,#9a0000,#9b0000,#9b0000,#9b0000,#9b0000,#9b0000,#9b0000,#9b0000,#9b0000,#9b0000,#9b0000,#9b0000,#9b0000,#9b0000,#9c0000,#9d0000,#9e0000,#9f0000,#9f0000,#9f0000,#9f0000,#9f0000,#9f0000,#9f0000,#9f0000,#9f0000,#9f0000,#9f0000,#9f0000,#9f0000,#9f0000,#9f0000,#9f0000,#9f0000,#9f0000,#9f0000,#9f0000,#a00000,#a00000,#a20000,#a40000,#a80000,#aa0000,#aa0000,#a80000,#a40000,#a20000,#a00000,#a00000,#9f0000,#9f0000,#9f0000,#a30000,#b90000,#cf0000,#b90000,#a30000,#a00000)"></i><i style="background:linear-gradient(90deg,#870000,#880000,#890000,#8a0000,#8b0000,#8c0000,#8e0000,#900000,#910000,#920000,#930000,#940000,#950000,#960000,#960000,#970000,#980000,#990000,#9a0000,#9a0000,#9b0000,#9b0000,#9c0000,#9d0000,#9d0000,#9e0000,#9e0000,#9e0000,#9e0000,#9e0000,#9e0000,#9e0000,#9e0000,#9e0000,#9e0000,#9e0000,#9e0000,#9f0000,#a00000,#a00000,#a10000,#a10000,#a10000,#a10000,#a10000,#a10000,#a10000,#a10000,#a10000,#a10000,#a10000,#a20000,#a20000,#a30000,#a40000,#a40000,#a40000,#a30000,#a20000,#a20000,#a30000,#a70000,#b00000,#c10000,#d70000,#e60000,#e60000,#d70000,#c10000,#b00000,#a60000,#a20000,#a10000,#a10000,#a10000,#a70000,#c70000,#e80000,#c70000,#a70000,#a10000)"></i><i style="background:linear-gradient(90deg,#870000,#880000,#890000,#8b0000,#8c0000,#8d0000,#8f0000,#910000,#930000,#940000,#950000,#960000,#970000,#980000,#990000,#9a0000,#9b0000,#9c0000,#9c0000,#9d0000,#9e0000,#9e0000,#9f0000,#a00000,#a00000,#a10000,#a10000,#a20000,#a20000,#a20000,#a20000,#a20000,#a20000,#a20000,#a20000,#a20000,#a20000,#a20000,#a20000,#a20000,#a20000,#a20000,#a20000,#a20000,#a20000,#a20000,#a20000,#a20000,#a30000,#a50000,#a80000,#ae0000,#b60000,#c00000,#c80000,#cb0000,#c80000,#c00000,#b60000,#ae0000,#aa0000,#ac0000,#b80000,#cf0000,#ec0000,#ff0200,#ff0200,#ec0000,#cf0000,#b70000,#aa0000,#a50000,#a60000,#a80000,#a40000,#a40000,#aa0000,#b10000,#aa0000,#a30000,#a20000)"></i><i style="background:linear-gradient(90deg,#870000,#890000,#8a0000,#8b0000,#8c0000,#8e0000,#900000,#920000,#940000,#950000,#960000,#980000,#990000,#9a0000,#9c0000,#9d0000,#9e0000,#9f0000,#9f0000,#a00000,#a10000,#a10000,#a20000,#a30000,#a30000,#a40000,#a40000,#a50000,#a60000,#a60000,#a60000,#a60000,#a60000,#a60000,#a60000,#a60000,#a60000,#a50000,#a50000,#a40000,#a40000,#a40000,#a40000,#a40000,#a40000,#a40000,#a40000,#a40000,#a60000,#aa0000,#b20000,#c10000,#d60000,#ef0000,#ff0500,#ff0c00,#ff0500,#ef0000,#d60000,#c10000,#b20000,#ac0000,#ac0000,#b10000,#b90000,#bf0000,#bf0000,#b90000,#b00000,#a90000,#a60000,#aa0000,#cd0000,#e00000,#b60000,#a60000,#ac0000,#b20000,#ac0000,#a50000,#a40000)"></i><i style="background:linear-gradient(90deg,#880000,#890000,#8b0000,#8c0000,#8e0000,#900000,#920000,#940000,#960000,#980000,#9a0000,#9c0000,#9e0000,#9f0000,#a10000,#a30000,#a40000,#a60000,#a70000,#a80000,#a90000,#aa0000,#ab0000,#ab0000,#ac0000,#ad0000,#af0000,#b00000,#b10000,#b10000,#b10000,#b10000,#b10000,#af0000,#ae0000,#ac0000,#aa0000,#a90000,#a70000,#a60000,#a50000,#a50000,#a50000,#a50000,#a50000,#a50000,#a50000,#a50000,#a60000,#a80000,#ac0000,#b40000,#c00000,#cd0000,#d80000,#dc0000,#d80000,#cd0000,#c00000,#b40000,#ac0000,#a80000,#a60000,#a60000,#a60000,#a70000,#a70000,#a60000,#a60000,#a40000,#a40000,#ad0000,#e20000,#ff0100,#c10000,#ae0000,#d50000,#fd0000,#d50000,#ac0000,#a50000)"></i><i style="background:linear-gradient(90deg,#890000,#8a0000,#8c0000,#8d0000,#8f0000,#920000,#940000,#970000,#990000,#9c0000,#9e0000,#a10000,#a40000,#a60000,#a80000,#aa0000,#ac0000,#ae0000,#b00000,#b20000,#b40000,#b50000,#b60000,#b70000,#b80000,#ba0000,#bc0000,#be0000,#bf0000,#bf0000,#bf0000,#bf0000,#bf0000,#bb0000,#b70000,#b30000,#af0000,#ad0000,#aa0000,#a80000,#a50000,#a50000,#a50000,#a50000,#a50000,#a50000,#a50000,#a50000,#a50000,#a60000,#a60000,#a70000,#a80000,#aa0000,#ab0000,#ac0000,#ab0000,#aa0000,#a80000,#a70000,#a60000,#a70000,#a80000,#aa0000,#ae0000,#b00000,#b00000,#ae0000,#aa0000,#a70000,#a50000,#a70000,#b10000,#b70000,#ab0000,#ac0000,#cc0000,#ee0000,#cc0000,#ab0000,#a60000)"></i><i style="background:linear-gradient(90deg,#890000,#8b0000,#8d0000,#8f0000,#900000,#930000,#960000,#990000,#9c0000,#a00000,#a30000,#a60000,#a90000,#ac0000,#af0000,#b20000,#b40000,#b70000,#ba0000,#bc0000,#bf0000,#c00000,#c10000,#c20000,#c40000,#c60000,#c90000,#cb0000,#ce0000,#ce0000,#ce0000,#ce0000,#ce0000,#c80000,#c10000,#bb0000,#b40000,#b10000,#ad0000,#aa0000,#a60000,#a60000,#a60000,#a60000,#a60000,#a60000,#a60000,#a60000,#a60000,#a60000,#a60000,#a60000,#a60000,#a60000,#a60000,#a60000,#a60000,#a60000,#a60000,#a60000,#a80000,#ac0000,#b60000,#c70000,#dc0000,#eb0000,#eb0000,#dc0000,#c70000,#b40000,#ab0000,#a80000,#aa0000,#ac0000,#a80000,#a70000,#ab0000,#af0000,#ab0000,#a70000,#a60000)"></i><i style="background:linear-gradient(90deg,#8a0000,#8c0000,#8e0000,#900000,#920000,#950000,#990000,#9c0000,#9f0000,#a30000,#a70000,#ab0000,#af0000,#b30000,#b60000,#ba0000,#bd0000,#c00000,#c40000,#c70000,#ca0000,#cc0000,#cd0000,#cf0000,#d00000,#d40000,#d70000,#da0000,#de0000,#de0000,#de0000,#de0000,#de0000,#d50000,#cc0000,#c30000,#ba0000,#b60000,#b10000,#ac0000,#a70000,#a70000,#a70000,#a70000,#a70000,#a70000,#a70000,#a70000,#a70000,#a70000,#a70000,#a70000,#a70000,#a70000,#a70000,#a70000,#a70000,#a70000,#a80000,#a80000,#aa0000,#af0000,#bd0000,#d40000,#f10000,#ff0700,#ff0700,#f10000,#d40000,#bb0000,#ae0000,#af0000,#d10000,#e40000,#ba0000,#ab0000,#b80000,#c60000,#b80000,#aa0000,#a80000)"></i><i style="background:linear-gradient(90deg,#8a0000,#8d0000,#8f0000,#920000,#940000,#980000,#9c0000,#a00000,#a40000,#a90000,#ae0000,#b30000,#b80000,#bc0000,#c10000,#c50000,#c90000,#ce0000,#d20000,#d60000,#da0000,#dd0000,#e00000,#e30000,#e60000,#ea0000,#ee0000,#f30000,#f70000,#f70000,#f70000,#f70000,#f70000,#eb0000,#df0000,#d30000,#c70000,#c10000,#bb0000,#b50000,#af0000,#af0000,#af0000,#af0000,#af0000,#af0000,#af0000,#af0000,#af0000,#af0000,#af0000,#af0000,#af0000,#af0000,#af0000,#af0000,#af0000,#af0000,#af0000,#af0000,#af0000,#b10000,#b50000,#bc0000,#c40000,#ca0000,#ca0000,#c40000,#bb0000,#b30000,#af0000,#b80000,#ec0000,#ff0b00,#cb0000,#b90000,#e70000,#ff1700,#e70000,#b70000,#af0000)"></i><i style="background:linear-gradient(90deg,#8a0000,#8d0000,#900000,#930000,#960000,#9b0000,#9f0000,#a40000,#a80000,#ae0000,#b40000,#bb0000,#c10000,#c60000,#cb0000,#d00000,#d60000,#db0000,#e00000,#e50000,#ea0000,#ef0000,#f30000,#f70000,#fc0000,#ff0200,#ff0700,#ff0c00,#ff1100,#ff1100,#ff1100,#ff1100,#ff1100,#ff0200,#f20000,#e30000,#d40000,#cd0000,#c50000,#be0000,#b60000,#b60000,#b60000,#b60000,#b60000,#b60000,#b60000,#b60000,#b60000,#b60000,#b60000,#b60000,#b60000,#b60000,#b60000,#b60000,#b60000,#b60000,#b60000,#b60000,#b60000,#b60000,#b60000,#b70000,#b70000,#b80000,#b80000,#b70000,#b70000,#b30000,#b30000,#b80000,#c20000,#c80000,#bb0000,#b90000,#cf0000,#e40000,#cf0000,#ba0000,#b60000)"></i><i style="background:linear-gradient(90deg,#8a0000,#8e0000,#910000,#950000,#990000,#9e0000,#a20000,#a70000,#ac0000,#b40000,#bb0000,#c20000,#ca0000,#d00000,#d60000,#dc0000,#e20000,#e80000,#ee0000,#f40000,#fa0000,#ff0100,#ff0700,#ff0d00,#ff1300,#ff1900,#ff1f00,#ff2500,#ff2b00,#ff2b00,#ff2b00,#ff2b00,#ff2b00,#ff1900,#ff0700,#f40000,#e20000,#d80000,#cf0000,#c60000,#bd0000,#bd0000,#bd0000,#bd0000,#bd0000,#bd0000,#bd0000,#bd0000,#bd0000,#bd0000,#bd0000,#bd0000,#bd0000,#bd0000,#bd0000,#bd0000,#bd0000,#bd0000,#bd0000,#bd0000,#bd0000,#bd0000,#bd0000,#bd0000,#bd0000,#bd0000,#bd0000,#bd0000,#bd0000,#b90000,#b90000,#bd0000,#be0000,#be0000,#bc0000,#bc0000,#bf0000,#c00000,#bf0000,#bd0000,#bd0000)"></i><i style="background:linear-gradient(90deg,#8a0000,#8e0000,#920000,#960000,#9a0000,#a00000,#a60000,#ab0000,#b10000,#b90000,#c10000,#c90000,#d20000,#d90000,#e00000,#e80000,#ef0000,#f70000,#fe0000,#ff0700,#ff0e00,#ff1500,#ff1b00,#ff2200,#ff2800,#ff2f00,#ff3500,#ff3c00,#ff4200,#ff4200,#ff4200,#ff4200,#ff4200,#ff2f00,#ff1b00,#ff0800,#f30000,#e90000,#de0000,#d40000,#ca0000,#ca0000,#ca0000,#ca0000,#ca0000,#ca0000,#ca0000,#ca0000,#ca0000,#ca0000,#ca0000,#ca0000,#ca0000,#ca0000,#ca0000,#ca0000,#ca0000,#ca0000,#ca0000,#ca0000,#ca0000,#ca0000,#ca0000,#ca0000,#ca0000,#ca0000,#ca0000,#ca0000,#ca0000,#c50000,#c50000,#ca0000,#ca0000,#ca0000,#c80000,#c80000,#ca0000,#ca0000,#ca0000,#ca0000,#ca0000)"></i><i style="background:linear-gradient(90deg,#8b0000,#8f0000,#930000,#980000,#9c0000,#a20000,#a90000,#b00000,#b60000,#bf0000,#c80000,#d00000,#d90000,#e20000,#eb0000,#f50000,#fe0000,#ff0800,#ff1100,#ff1b00,#ff2400,#ff2b00,#ff3100,#ff3800,#ff3e00,#ff4500,#ff4b00,#ff5200,#ff5800,#ff5800,#ff5800,#ff5800,#ff5800,#ff4500,#ff3100,#ff1d00,#ff0a00,#fe0000,#f20000,#e70000,#dc0000,#dc0000,#dc0000,#dc0000,#dc0000,#dc0000,#dc0000,#dc0000,#dc0000,#dc0000,#dc0000,#dc0000,#dc0000,#dc0000,#dc0000,#dc0000,#dc0000,#dc0000,#dc0000,#dc0000,#dc0000,#dc0000,#dc0000,#dc0000,#dc0000,#dc0000,#dc0000,#dc0000,#dc0000,#d60000,#d60000,#dc0000,#dc0000,#dc0000,#da0000,#da0000,#dc0000,#dc0000,#dc0000,#dc0000,#dc0000)"></i><i style="background:linear-gradient(90deg,#8c0000,#900000,#950000,#990000,#9d0000,#a50000,#ac0000,#b40000,#bb0000,#c40000,#ce0000,#d70000,#e00000,#eb0000,#f60000,#ff0200,#ff0d00,#ff1900,#ff2400,#ff2f00,#ff3a00,#ff4000,#ff4700,#ff4d00,#ff5400,#ff5a00,#ff6100,#ff6800,#ff6e00,#ff6e00,#ff6e00,#ff6e00,#ff6e00,#ff5a00,#ff4700,#ff3300,#ff2000,#ff1400,#ff0700,#fa0000,#ee0000,#ee0000,#ee0000,#ee0000,#ee0000,#ee0000,#ee0000,#ee0000,#ee0000,#ee0000,#ee0000,#ee0000,#ee0000,#ee0000,#ee0000,#ee0000,#ee0000,#ee0000,#ee0000,#ee0000,#ee0000,#ee0000,#ee0000,#ee0000,#ee0000,#ee0000,#ee0000,#ee0000,#ee0000,#e60000,#e60000,#ee0000,#ee0000,#ee0000,#eb0000,#eb0000,#ee0000,#ee0000,#ee0000,#ee0000,#ee0000)"></i><i style="background:linear-gradient(90deg,#8d0000,#910000,#960000,#9a0000,#9f0000,#a70000,#b00000,#b80000,#c00000,#ca0000,#d40000,#de0000,#e70000,#f40000,#ff0200,#ff0f00,#ff1c00,#ff2900,#ff3600,#ff4300,#ff5000,#ff5600,#ff5d00,#ff6300,#ff6a00,#ff7000,#ff7700,#ff7d00,#ff8400,#ff8400,#ff8400,#ff8400,#ff8400,#ff7000,#ff5d00,#ff4900,#ff3500,#ff2800,#ff1b00,#ff0e00,#ff0100,#ff0100,#ff0100,#ff0100,#ff0100,#ff0100,#ff0100,#ff0100,#ff0100,#ff0100,#ff0100,#ff0100,#ff0100,#ff0100,#ff0100,#ff0100,#ff0100,#ff0100,#ff0100,#ff0100,#ff0100,#ff0100,#ff0100,#ff0100,#ff0100,#ff0100,#ff0100,#ff0100,#ff0100,#f60000,#f60000,#ff0100,#ff0100,#ff0100,#fb0000,#fb0000,#ff0100,#ff0100,#ff0100,#ff0100,#ff0100)"></i><i style="background:linear-gradient(90deg,#8d0000,#910000,#960000,#9b0000,#a00000,#a90000,#b20000,#bb0000,#c40000,#cf0000,#d90000,#e40000,#ef0000,#fd0000,#ff0d00,#ff1c00,#ff2b00,#ff3b00,#ff4b00,#ff5c00,#ff6c00,#ff7100,#ff7600,#ff7b00,#ff8000,#ff8400,#ff8900,#ff8e00,#ff9300,#ff9300,#ff9300,#ff9300,#ff9300,#ff8600,#ff7900,#ff6c00,#ff5f00,#ff4e00,#ff3e00,#ff2e00,#ff1d00,#ff1d00,#ff1d00,#ff1d00,#ff1d00,#ff1d00,#ff1d00,#ff1d00,#ff1d00,#ff1d00,#ff1d00,#ff1d00,#ff1d00,#ff1d00,#ff1d00,#ff1d00,#ff1d00,#ff1d00,#ff1d00,#ff1d00,#ff1d00,#ff1d00,#ff1d00,#ff1d00,#ff1d00,#ff1d00,#ff1d00,#ff1d00,#ff1d00,#ff1100,#ff1100,#ff1d00,#ff1d00,#ff1d00,#ff1700,#ff1700,#ff1d00,#ff1d00,#ff1d00,#ff1d00,#ff1d00)"></i><i style="background:linear-gradient(90deg,#8d0000,#920000,#970000,#9c0000,#a20000,#ab0000,#b50000,#be0000,#c80000,#d30000,#df0000,#ea0000,#f60000,#ff0700,#ff1800,#ff2900,#ff3900,#ff4d00,#ff6200,#ff7700,#ff8a00,#ff8c00,#ff8f00,#ff9200,#ff9500,#ff9800,#ff9b00,#ff9f00,#ffa200,#ffa200,#ffa200,#ffa200,#ffa200,#ff9c00,#ff9600,#ff9000,#ff8a00,#ff7600,#ff6200,#ff4e00,#ff3a00,#ff3a00,#ff3a00,#ff3a00,#ff3a00,#ff3a00,#ff3a00,#ff3a00,#ff3a00,#ff3a00,#ff3a00,#ff3a00,#ff3a00,#ff3a00,#ff3a00,#ff3a00,#ff3a00,#ff3a00,#ff3a00,#ff3a00,#ff3a00,#ff3a00,#ff3a00,#ff3a00,#ff3a00,#ff3a00,#ff3a00,#ff3a00,#ff3a00,#ff2b00,#ff2b00,#ff3a00,#ff3a00,#ff3a00,#ff3100,#ff3100,#ff3a00,#ff3a00,#ff3a00,#ff3a00,#ff3a00)"></i><i style="background:linear-gradient(90deg,#8d0000,#920000,#980000,#9d0000,#a30000,#ad0000,#b70000,#c10000,#cb0000,#d80000,#e40000,#f10000,#fd0000,#ff1100,#ff2300,#ff3500,#ff4800,#ff6000,#ff7c00,#ff9900,#ffad00,#ffa900,#ffa900,#ffaa00,#ffab00,#ffac00,#ffae00,#ffaf00,#ffb000,#ffb000,#ffb000,#ffb000,#ffb000,#ffb200,#ffb300,#ffb500,#ffb600,#ff9e00,#ff8600,#ff6e00,#ff5600,#ff5700,#ff5700,#ff5700,#ff5700,#ff5600,#ff5600,#ff5600,#ff5700,#ff5700,#ff5800,#ff5800,#ff5800,#ff5800,#ff5800,#ff5800,#ff5800,#ff5800,#ff5800,#ff5700,#ff5700,#ff5700,#ff5600,#ff5600,#ff5600,#ff5700,#ff5700,#ff5800,#ff5600,#ff4500,#ff4500,#ff5600,#ff5800,#ff5700,#ff4c00,#ff4c00,#ff5700,#ff5800,#ff5800,#ff5800,#ff5800)"></i><i style="background:linear-gradient(90deg,#8d0000,#930000,#980000,#9e0000,#a40000,#af0000,#b90000,#c40000,#cf0000,#dc0000,#e90000,#f60000,#ff0400,#ff1800,#ff2d00,#ff4100,#ff5500,#ff7300,#ff9d00,#ffcc00,#ffd900,#ffc300,#ffbd00,#ffbb00,#ffba00,#ffba00,#ffba00,#ffba00,#ffba00,#ffba00,#ffba00,#ffbb00,#ffba00,#ffc200,#ffca00,#ffd100,#ffd900,#ffbe00,#ffa400,#ff8900,#ff7000,#ff7100,#ff7300,#ff7300,#ff7200,#ff7000,#ff6f00,#ff7000,#ff7200,#ff7400,#ff7400,#ff7500,#ff7500,#ff7500,#ff7500,#ff7500,#ff7500,#ff7500,#ff7500,#ff7400,#ff7300,#ff7100,#ff6e00,#ff6e00,#ff7000,#ff7200,#ff7400,#ff7400,#ff7300,#ff5e00,#ff5e00,#ff7300,#ff7500,#ff7400,#ff6500,#ff6500,#ff7400,#ff7500,#ff7500,#ff7500,#ff7500)"></i><i style="background:linear-gradient(90deg,#8d0000,#930000,#990000,#9f0000,#a50000,#b00000,#bb0000,#c60000,#d10000,#de0000,#eb0000,#f90000,#ff0700,#ff1d00,#ff3300,#ff4a00,#ff6000,#ff8400,#ffce00,#dbff24,#e5ff1a,#ffd900,#ffc500,#ffbf00,#ffba00,#ffba00,#ffba00,#ffba00,#ffba00,#ffba00,#ffbb00,#ffbb00,#ffbb00,#ffc600,#ffd100,#ffdc00,#ffe600,#ffce00,#ffb200,#ff9700,#ff8100,#ff8700,#ff8d00,#ff8e00,#ff8b00,#ff8500,#ff8200,#ff8500,#ff8b00,#ff9000,#ff9100,#ff9200,#ff9200,#ff9200,#ff9200,#ff9200,#ff9200,#ff9200,#ff9200,#ff9100,#ff8e00,#ff8800,#ff8100,#ff7f00,#ff8500,#ff8c00,#ff9000,#ff9100,#ff9000,#ff7700,#ff7700,#ff9000,#ff9200,#ff9100,#ff7e00,#ff7e00,#ff9100,#ff9200,#ff9200,#ff9200,#ff9200)"></i><i style="background:linear-gradient(90deg,#8d0000,#930000,#990000,#9f0000,#a60000,#b10000,#bc0000,#c80000,#d30000,#e00000,#ee0000,#fb0000,#ff0a00,#ff2200,#ff3a00,#ff5300,#ff6c00,#ff9a00,#e3ff1c,#47ffb8,#7bff84,#fff900,#ffce00,#ffc300,#ffba00,#ffba00,#ffba00,#ffba00,#ffba00,#ffba00,#ffbb00,#ffbc00,#ffbe00,#ffcc00,#ffd900,#ffe700,#fff300,#ffd900,#ffb800,#ff9800,#ff8600,#ff9500,#ffa300,#ffa700,#ff9f00,#ff9100,#ff8a00,#ff9100,#ff9f00,#ffaa00,#ffae00,#ffaf00,#ffaf00,#ffaf00,#ffaf00,#ffaf00,#ffaf00,#ffaf00,#ffae00,#ffad00,#ffa800,#ff9b00,#ff8d00,#ff8900,#ff9400,#ffa200,#ffab00,#ffae00,#ffad00,#ff9000,#ff9000,#ffad00,#ffaf00,#ffae00,#ff9600,#ff9600,#ffae00,#ffaf00,#ffaf00,#ffaf00,#ffaf00)"></i><i style="background:linear-gradient(90deg,#8d0000,#930000,#9a0000,#a00000,#a70000,#b20000,#be0000,#c90000,#d50000,#e30000,#f10000,#fe0000,#ff0d00,#ff2700,#ff4100,#ff5c00,#ff7700,#ffb200,#8bff74,#0094ff,#00f5ff,#dfff20,#ffd700,#ffc600,#ffba00,#ffba00,#ffba00,#ffba00,#ffba00,#ffba00,#ffbb00,#ffbe00,#ffc600,#ffda00,#ffe500,#fff200,#ffff00,#ffe300,#ffb900,#ff9100,#ff8300,#ff9d00,#ffb700,#ffbe00,#ffb000,#ff9600,#ff8900,#ff9500,#ffaf00,#ffc200,#ffca00,#ffcb00,#ffcc00,#ffcc00,#ffcc00,#ffcc00,#ffcc00,#ffcc00,#ffcb00,#ffc900,#ffc000,#ffad00,#ff9600,#ff8f00,#ffa000,#ffb800,#ffc600,#ffcb00,#ffc900,#ffa800,#ffa800,#ffca00,#ffcc00,#ffcb00,#ffae00,#ffae00,#ffcb00,#ffcc00,#ffcc00,#ffcc00,#ffcc00)"></i><i style="background:linear-gradient(90deg,#8d0000,#930000,#9a0000,#a00000,#a70000,#b30000,#be0000,#ca0000,#d60000,#e30000,#f10000,#ff0000,#ff0d00,#ff2800,#ff4200,#ff5c00,#ff7800,#ffbb00,#59ffa6,#0024ff,#0092ff,#c0ff3f,#ffdc00,#ffc800,#ffba00,#ffba00,#ffba00,#ffba00,#ffba00,#ffba00,#ffbb00,#ffbe00,#ffd000,#fff900,#fbff04,#fbff04,#f1ff0e,#ffee00,#ffbe00,#ff8f00,#ff8300,#ffa600,#ffc800,#ffd100,#ffbd00,#ff9800,#ff8500,#ff9700,#ffbb00,#ffd400,#ffdf00,#ffe300,#ffe400,#ffe400,#ffe400,#ffe400,#ffe400,#ffe400,#ffe300,#ffe000,#ffd500,#ffbd00,#ffa000,#ff9800,#ffad00,#ffcb00,#ffdc00,#ffe200,#ffe100,#ffbb00,#ffbb00,#ffe100,#ffe400,#ffe300,#ffbf00,#ffbf00,#ffe300,#ffe400,#ffe400,#ffe400,#ffe400)"></i><i style="background:linear-gradient(90deg,#8e0000,#940000,#9a0000,#a10000,#a70000,#b30000,#be0000,#ca0000,#d60000,#e30000,#f10000,#fe0000,#ff0c00,#ff2600,#ff4000,#ff5900,#ff7500,#ffb600,#69ff96,#0039ff,#007dff,#a4ff5b,#ffe100,#ffc800,#ffba00,#ffba00,#ffba00,#ffba00,#ffba00,#ffba00,#ffba00,#ffbd00,#ffd400,#dbff24,#b7ff48,#d2ff2d,#ddff22,#ffff00,#ffd200,#ffa600,#ff9d00,#ffbe00,#ffdf00,#ffe600,#ffcf00,#ffa800,#ff9300,#ffa600,#ffce00,#ffe800,#fff100,#fff400,#fff700,#fff900,#fff900,#fffa00,#fffa00,#fffa00,#fff900,#fff600,#ffec00,#ffd400,#ffb700,#ffb000,#ffc500,#ffe100,#fff200,#fff800,#fff700,#ffcc00,#ffcc00,#fff700,#fffa00,#fff900,#ffce00,#ffce00,#fff900,#fffa00,#fffa00,#fffa00,#fffa00)"></i><i style="background:linear-gradient(90deg,#8f0000,#950000,#9b0000,#a10000,#a70000,#b30000,#be0000,#ca0000,#d60000,#e30000,#f00000,#fe0000,#ff0c00,#ff2500,#ff3d00,#ff5600,#ff7100,#ffa900,#acff53,#00c0ff,#00b7ff,#85ff7a,#ffee00,#ffc900,#ffba00,#ffba00,#ffba00,#ffba00,#ffba00,#ffba00,#ffba00,#ffbc00,#ffcf00,#c2ff3d,#51ffae,#70ff8f,#b4ff4b,#e5ff1a,#fff500,#ffd500,#ffce00,#ffe600,#fffe00,#feff01,#ffec00,#ffcb00,#ffba00,#ffcb00,#ffed00,#fbff04,#f7ff08,#faff05,#f9ff06,#f4ff0b,#f0ff0f,#efff10,#efff10,#efff10,#efff10,#f1ff0e,#f9ff06,#fff200,#ffdd00,#ffd700,#ffe700,#fffd00,#f4ff0b,#f0ff0f,#f2ff0d,#ffdd00,#ffdd00,#f2ff0d,#efff10,#f0ff0f,#ffdc00,#ffdc00,#f0ff0f,#efff10,#efff10,#efff10,#efff10)"></i><i style="background:linear-gradient(90deg,#8f0000,#950000,#9b0000,#a10000,#a70000,#b20000,#be0000,#ca0000,#d60000,#e30000,#f00000,#fd0000,#ff0b00,#ff2300,#ff3b00,#ff5200,#ff6b00,#ff9900,#faff05,#66ff99,#1cffe3,#67ff98,#f6ff09,#ffcb00,#ffba00,#ffba00,#ffba00,#ffba00,#ffba00,#ffba00,#ffba00,#ffbb00,#ffc500,#cfff30,#0afff5,#00d2ff,#56ffa9,#c0ff3f,#e3ff1c,#f7ff08,#fcff03,#eeff11,#dfff20,#deff21,#eeff11,#fff800,#ffee00,#fffc00,#e9ff16,#dbff24,#daff25,#e0ff1f,#eaff15,#edff12,#e6ff19,#deff21,#daff25,#daff25,#daff25,#dbff24,#e0ff1f,#ebff14,#f7ff08,#fbff04,#f1ff0e,#e5ff1a,#ddff22,#daff25,#ddff22,#ffed00,#ffed00,#ddff22,#daff25,#dbff24,#ffe900,#ffe900,#dbff24,#daff25,#daff25,#daff25,#daff25)"></i><i style="background:linear-gradient(90deg,#8f0000,#950000,#9b0000,#a00000,#a60000,#b10000,#bd0000,#c80000,#d30000,#e00000,#ec0000,#f80000,#ff0600,#ff1b00,#ff3100,#ff4600,#ff5c00,#ff8200,#ffc200,#e9ff16,#8dff72,#66ff99,#d8ff27,#ffcf00,#ffbb00,#ffba00,#ffba00,#ffba00,#ffba00,#ffba00,#ffbb00,#ffbb00,#ffbf00,#f4ff0b,#27ffd8,#005eff,#00c6ff,#8bff74,#caff35,#d7ff28,#dbff24,#d5ff2a,#cdff32,#c6ff39,#caff35,#d8ff27,#e3ff1c,#dcff23,#cbff34,#bfff40,#beff41,#c5ff3a,#d1ff2e,#e1ff1e,#ebff14,#e4ff1b,#d5ff2a,#cdff32,#cbff34,#ccff33,#ceff31,#d3ff2c,#d9ff26,#daff25,#d6ff29,#d0ff2f,#cdff32,#cbff34,#cfff30,#fff700,#fff700,#cfff30,#cbff34,#ccff33,#ffef00,#ffef00,#ccff33,#cbff34,#cbff34,#cbff34,#cbff34)"></i><i style="background:linear-gradient(90deg,#8f0000,#950000,#9a0000,#a00000,#a50000,#b00000,#bb0000,#c60000,#d10000,#dd0000,#e80000,#f40000,#ff0000,#ff1400,#ff2700,#ff3a00,#ff4d00,#ff7000,#ff9a00,#ffcc00,#e4ff1b,#8cff73,#c0ff3f,#ffd600,#ffbb00,#ffba00,#ffba00,#ffba00,#ffba00,#ffbb00,#ffbb00,#ffbc00,#ffbe00,#fff000,#7fff80,#0075ff,#0044ff,#2dffd2,#acff53,#c2ff3d,#c5ff3a,#c8ff37,#c6ff39,#bdff42,#afff50,#a9ff56,#aeff51,#b6ff49,#b6ff49,#acff53,#a2ff5d,#a0ff5f,#aaff55,#bcff43,#d5ff2a,#eaff15,#e7ff18,#d1ff2e,#c2ff3d,#beff41,#beff41,#bfff40,#c1ff3e,#c2ff3d,#c0ff3f,#beff41,#bdff42,#bdff42,#c1ff3e,#fcff03,#fcff03,#c0ff3f,#bdff42,#beff41,#fff500,#fff500,#beff41,#bdff42,#bdff42,#bdff42,#bdff42)"></i><i style="background:linear-gradient(90deg,#8f0000,#950000,#9a0000,#9f0000,#a40000,#af0000,#ba0000,#c40000,#cf0000,#da0000,#e50000,#f00000,#fa0000,#ff0c00,#ff1d00,#ff2e00,#ff3f00,#ff6000,#ff8300,#ffa800,#ffe000,#cdff32,#c4ff3b,#ffdf00,#ffbd00,#ffba00,#ffba00,#ffba00,#ffba00,#ffba00,#ffbb00,#ffbc00,#ffc000,#ffea00,#c1ff3e,#00f0ff,#0038ff,#00c4ff,#7aff85,#adff52,#b4ff4b,#bdff42,#c7ff38,#c8ff37,#b6ff49,#94ff6b,#7aff85,#7bff84,#8fff70,#9eff61,#9cff63,#8fff70,#84ff7b,#84ff7b,#93ff6c,#b3ff4c,#e2ff1d,#fcff03,#e9ff16,#bfff40,#9dff62,#9dff62,#b9ff46,#c5ff3a,#a9ff56,#99ff66,#b9ff46,#bfff40,#9dff62,#f4ff0b,#fffc00,#a3ff5c,#b4ff4b,#acff53,#fffa00,#fffc00,#b1ff4e,#abff54,#b4ff4b,#a7ff58,#b1ff4e)"></i><i style="background:linear-gradient(90deg,#8f0000,#940000,#990000,#9e0000,#a30000,#ad0000,#b70000,#c10000,#cb0000,#d60000,#e00000,#ea0000,#f40000,#ff0400,#ff1300,#ff2200,#ff3000,#ff5000,#ff7000,#ff9100,#ffb900,#ffed00,#e9ff16,#ffde00,#ffbb00,#ffb800,#ffb900,#ffb900,#ffba00,#ffba00,#ffbb00,#ffbc00,#ffbf00,#ffe800,#dbff24,#5cffa3,#0093ff,#0088ff,#27ffd8,#82ff7d,#9cff63,#b1ff4e,#c8ff37,#ddff22,#ddff22,#baff45,#7cff83,#48ffb7,#41ffbe,#65ff9a,#8cff73,#9aff65,#8cff73,#6fff90,#59ffa6,#59ffa6,#7dff82,#cbff34,#ffea00,#ffed00,#c9ff36,#7bff84,#70ff8f,#b0ff4f,#d7ff28,#9aff65,#68ff97,#afff50,#d3ff2c,#b8ff47,#dcff23,#c2ff3d,#8aff75,#a7ff58,#f5ff0a,#f5ff0a,#a2ff5d,#97ff68,#99ff66,#a2ff5d,#88ff77)"></i><i style="background:linear-gradient(90deg,#8f0000,#940000,#990000,#9d0000,#a20000,#ab0000,#b40000,#bd0000,#c60000,#d00000,#da0000,#e30000,#ed0000,#fa0000,#ff0800,#ff1500,#ff2200,#ff4000,#ff5e00,#ff7c00,#ff9c00,#ffb700,#ffdf00,#ffcf00,#ffb600,#ffb200,#ffb500,#ffb800,#ffba00,#ffba00,#ffba00,#ffbb00,#ffbc00,#ffe000,#f0ff0f,#a0ff5f,#0afff5,#0098ff,#00c3ff,#1cffe3,#53ffac,#85ff7a,#b5ff4a,#e5ff1a,#fff700,#fffa00,#caff35,#69ff96,#0ffff0,#00f8ff,#2fffd0,#77ff88,#9fff60,#99ff66,#6bff94,#34ffcb,#18ffe7,#32ffcd,#99ff66,#ffe900,#ffc600,#e5ff1a,#68ff97,#3dffc2,#93ff6c,#e8ff17,#a4ff5b,#3affc5,#90ff6f,#ffd100,#a7ff58,#6eff91,#a3ff5c,#75ff8a,#ecff13,#f3ff0c,#76ff89,#98ff67,#6dff92,#8dff72,#76ff89)"></i><i style="background:linear-gradient(90deg,#8f0000,#940000,#980000,#9c0000,#a00000,#a90000,#b10000,#b90000,#c10000,#ca0000,#d30000,#dd0000,#e60000,#f10000,#fc0000,#ff0800,#ff1300,#ff2f00,#ff4c00,#ff6800,#ff8400,#ff9400,#ffb100,#ffb900,#ffaf00,#ffad00,#ffb100,#ffb600,#ffba00,#ffba00,#ffba00,#ffba00,#ffbb00,#ffd800,#fffa00,#d4ff2b,#7bff84,#08fff7,#00beff,#00bdff,#00d8ff,#16ffe9,#66ff99,#bcff43,#fff200,#ffbf00,#ffce00,#daff25,#51ffae,#00ccff,#00a1ff,#00e4ff,#52ffad,#a1ff5e,#b2ff4d,#7fff80,#24ffdb,#00d5ff,#00d6ff,#45ffba,#ecff13,#ffae00,#ffe900,#74ff8b,#0cfff3,#56ffa9,#e9ff16,#cdff32,#28ffd7,#86ff79,#ffca00,#7dff82,#4bffb4,#90ff6f,#d4ff2b,#c3ff3c,#94ff6b,#47ffb8,#8bff74,#3fffc0,#82ff7d)"></i><i style="background:linear-gradient(90deg,#8f0000,#930000,#970000,#9b0000,#9f0000,#a60000,#ae0000,#b50000,#bc0000,#c50000,#cd0000,#d60000,#de0000,#e80000,#f10000,#fa0000,#ff0500,#ff1f00,#ff3900,#ff5400,#ff6e00,#ff7c00,#ff9100,#ffa200,#ffa600,#ffa800,#ffae00,#ffb400,#ffba00,#ffba00,#ffba00,#ffba00,#ffba00,#ffd400,#ffef00,#f0ff0f,#c5ff3a,#89ff76,#3affc5,#00f7ff,#00c8ff,#00c7ff,#00fcff,#5bffa4,#ccff33,#ffc300,#ff8e00,#ffb000,#dbff24,#33ffcc,#008cff,#0042ff,#0083ff,#12ffed,#91ff6e,#ccff33,#aeff51,#39ffc6,#00b3ff,#0080ff,#00d0ff,#90ff6f,#ffc100,#ffb400,#aeff51,#00f9ff,#00f9ff,#b4ff4b,#fff300,#91ff6e,#1fffe0,#94ff6b,#80ff7f,#33ffcc,#caff35,#e9ff16,#2effd1,#78ff87,#3affc5,#4effb1,#3fffc0)"></i><i style="background:linear-gradient(90deg,#8f0000,#930000,#960000,#9a0000,#9e0000,#a40000,#ab0000,#b10000,#b80000,#c00000,#c70000,#cf0000,#d70000,#df0000,#e80000,#f00000,#f80000,#ff1100,#ff2900,#ff4100,#ff5800,#ff6700,#ff7800,#ff8a00,#ff9600,#ff9f00,#ffaa00,#ffb500,#ffc100,#ffc300,#ffc400,#ffc600,#ffc700,#ffdc00,#fff100,#f9ff06,#e3ff1c,#ccff33,#a7ff58,#79ff86,#41ffbe,#14ffeb,#04fffb,#27ffd8,#7cff83,#f7ff08,#ff9800,#ff7000,#ffa800,#d5ff2a,#29ffd6,#0071ff,#0001ff,#0024ff,#00b6ff,#56ffa9,#c0ff3f,#ccff33,#69ff96,#00d1ff,#0070ff,#008bff,#22ffdd,#e5ff1a,#ffb300,#fff800,#4affb5,#00d5ff,#47ffb8,#ffbe00,#fff800,#0cfff3,#40ffbf,#88ff77,#c4ff3b,#9dff62,#84ff7b,#49ffb6,#38ffc7,#72ff8d,#16ffe9)"></i><i style="background:linear-gradient(90deg,#8f0000,#920000,#960000,#990000,#9c0000,#a20000,#a80000,#ae0000,#b30000,#ba0000,#c20000,#c90000,#d00000,#d70000,#df0000,#e60000,#ee0000,#ff0400,#ff1900,#ff2d00,#ff4200,#ff5300,#ff6400,#ff7600,#ff8600,#ff9600,#ffa600,#ffb700,#ffc800,#ffcc00,#ffcf00,#ffd200,#ffd600,#ffe500,#fff300,#fdff02,#f1ff0e,#e4ff1b,#d5ff2a,#c2ff3d,#a8ff57,#8eff71,#71ff8e,#61ff9e,#73ff8c,#b9ff46,#ffdd00,#ff8400,#ff7100,#ffb300,#d1ff2e,#37ffc8,#0081ff,#0000ee,#0000d8,#0046ff,#00e9ff,#78ff87,#bfff40,#94ff6b,#15ffea,#009eff,#0079ff,#00c2ff,#61ff9e,#fdff02,#ffcd00,#c9ff36,#19ffe6,#20ffdf,#bbff44,#ccff33,#5fffa0,#2bffd4,#c9ff36,#f5ff0a,#3effc1,#41ffbe,#81ff7e,#2affd5,#58ffa7)"></i><i style="background:linear-gradient(90deg,#8f0000,#920000,#950000,#980000,#9b0000,#a00000,#a50000,#aa0000,#af0000,#b50000,#bc0000,#c20000,#c90000,#cf0000,#d60000,#dc0000,#e30000,#f50000,#ff0800,#ff1a00,#ff2d00,#ff3f00,#ff5100,#ff6400,#ff7700,#ff8d00,#ffa300,#ffb900,#ffcf00,#ffd500,#ffda00,#ffdf00,#ffe400,#ffee00,#fff600,#fffe00,#fbff04,#f1ff0e,#eaff15,#e3ff1c,#dbff24,#daff25,#cfff30,#beff41,#afff50,#bbff44,#e9ff16,#ffcc00,#ff8c00,#ff8300,#ffbc00,#e2ff1d,#66ff99,#00c3ff,#001eff,#0000c7,#0000e7,#0058ff,#00eeff,#6bff94,#93ff6c,#5fffa0,#00fbff,#00b3ff,#00abff,#00ecff,#68ff97,#e9ff16,#ffe000,#f3ff0c,#3fffc0,#05fffa,#63ff9c,#89ff76,#c6ff39,#97ff68,#63ff9c,#82ff7d,#34ffcb,#48ffb7,#7fff80)"></i><i style="background:linear-gradient(90deg,#8f0000,#920000,#940000,#970000,#990000,#9e0000,#a20000,#a60000,#ab0000,#b10000,#b60000,#bc0000,#c20000,#c80000,#cd0000,#d30000,#d90000,#e90000,#f90000,#ff0a00,#ff1a00,#ff2d00,#ff4000,#ff5300,#ff6600,#ff8100,#ff9d00,#ffb900,#ffd500,#ffdc00,#ffe400,#ffeb00,#fff300,#fff900,#ffff00,#fcff03,#fbff04,#f4ff0b,#f2ff0d,#f6ff09,#fcff03,#fff200,#ffea00,#ffee00,#ffff00,#f1ff0e,#edff12,#ffff00,#ffd300,#ffaa00,#ffa200,#ffbc00,#ffed00,#beff41,#38ffc7,#0093ff,#000eff,#0000cf,#0000ec,#0053ff,#00d7ff,#47ffb8,#6cff93,#50ffaf,#24ffdb,#02fffd,#00eaff,#00f1ff,#3fffc0,#f8ff07,#ffb800,#9fff60,#3dffc2,#2cffd3,#c2ff3d,#f2ff0d,#66ff99,#2bffd4,#53ffac,#87ff78,#43ffbc)"></i><i style="background:linear-gradient(90deg,#8f0000,#910000,#930000,#960000,#980000,#9c0000,#a00000,#a30000,#a70000,#ac0000,#b20000,#b70000,#bc0000,#c10000,#c70000,#cc0000,#d20000,#e10000,#f00000,#ff0000,#ff0f00,#ff1f00,#ff2f00,#ff4000,#ff5000,#ff7100,#ff9300,#ffb500,#ffd600,#ffe100,#ffec00,#fff700,#fcff03,#f4ff0b,#ecff13,#e6ff19,#e3ff1c,#e0ff1f,#e4ff1b,#f1ff0e,#fff800,#ffd600,#ffb700,#ffa700,#ffaa00,#ffbc00,#ffd900,#fff400,#fffc00,#fff000,#ffe200,#ffd700,#ffca00,#ffc000,#ffd700,#d1ff2e,#43ffbc,#00a2ff,#0029ff,#0000ef,#0000f9,#004bff,#00b7ff,#0efff1,#3dffc2,#5effa1,#7cff83,#76ff89,#3cffc3,#29ffd6,#27ffd8,#5bffa4,#7fff80,#83ff7c,#bfff40,#93ff6c,#3bffc4,#75ff8a,#81ff7e,#41ffbe,#31ffce)"></i><i style="background:linear-gradient(90deg,#8f0000,#910000,#930000,#950000,#960000,#9a0000,#9d0000,#a00000,#a40000,#a80000,#ad0000,#b20000,#b60000,#bb0000,#c00000,#c50000,#ca0000,#d90000,#e70000,#f50000,#ff0400,#ff1200,#ff1f00,#ff2c00,#ff3a00,#ff6100,#ff8900,#ffb200,#ffdb00,#ffec00,#fffb00,#f6ff09,#eaff15,#e2ff1d,#d9ff26,#d0ff2f,#caff35,#c7ff38,#cbff34,#d9ff26,#f3ff0c,#ffde00,#ffac00,#ff8300,#ff6e00,#ff7300,#ff9300,#ffc500,#fffb00,#daff25,#c2ff3d,#b9ff46,#c2ff3d,#e6ff19,#ffdd00,#ffaa00,#ffad00,#fdff02,#70ff8f,#00ddff,#0067ff,#0028ff,#0025ff,#0050ff,#0086ff,#00b6ff,#00f4ff,#59ffa6,#c6ff39,#ffde00,#dcff23,#35ffca,#10ffef,#10ffef,#9dff62,#d6ff29,#83ff7c,#59ffa6,#2dffd2,#3bffc4,#76ff89)"></i><i style="background:linear-gradient(90deg,#8f0000,#910000,#920000,#930000,#950000,#980000,#9a0000,#9d0000,#a00000,#a40000,#a80000,#ac0000,#b00000,#b50000,#ba0000,#be0000,#c30000,#d00000,#de0000,#eb0000,#f80000,#ff0400,#ff0f00,#ff1900,#ff2400,#ff5100,#ff7e00,#ffaf00,#ffe300,#feff01,#e4ff1b,#d2ff2d,#c7ff38,#c5ff3a,#c1ff3e,#b9ff46,#afff50,#aaff55,#a5ff5a,#a3ff5c,#b0ff4f,#ddff22,#ffe000,#ffa000,#ff7100,#ff5e00,#ff6d00,#ff9d00,#ffe900,#bdff42,#70ff8f,#36ffc9,#17ffe8,#18ffe7,#42ffbd,#93ff6c,#faff05,#ffb400,#ffa600,#ffe700,#a6ff59,#2effd1,#00caff,#0094ff,#0086ff,#0085ff,#0077ff,#006cff,#0095ff,#2affd5,#a4ff5b,#8cff73,#2bffd4,#00f2ff,#52ffad,#6eff91,#23ffdc,#39ffc6,#64ff9b,#85ff7a,#79ff86)"></i><i style="background:linear-gradient(90deg,#8f0000,#900000,#920000,#930000,#940000,#970000,#990000,#9c0000,#9e0000,#a10000,#a50000,#a80000,#ac0000,#b00000,#b50000,#b90000,#bd0000,#ca0000,#d70000,#e30000,#f00000,#f90000,#ff0300,#ff0d00,#ff1600,#ff4300,#ff7100,#ffa200,#ffda00,#f9ff06,#c8ff37,#9eff61,#86ff79,#8dff72,#9aff65,#a0ff5f,#9cff63,#90ff6f,#6fff90,#3dffc2,#22ffdd,#4cffb3,#a8ff57,#fffa00,#ffb800,#ff9100,#ff8700,#ff9f00,#ffdf00,#bfff40,#53ffac,#00edff,#009bff,#0069ff,#005fff,#0080ff,#00caff,#2effd1,#9bff64,#f0ff0f,#ffec00,#feff01,#bdff42,#6dff92,#35ffca,#25ffda,#2dffd2,#26ffd9,#00feff,#00eeff,#00c0ff,#0099ff,#0084ff,#006bff,#0ffff0,#87ff78,#78ff87,#85ff7a,#75ff8a,#54ffab,#33ffcc)"></i><i style="background:linear-gradient(90deg,#8f0000,#900000,#920000,#930000,#940000,#960000,#980000,#9a0000,#9c0000,#9f0000,#a20000,#a50000,#a80000,#ac0000,#b00000,#b40000,#b80000,#c40000,#d10000,#dd0000,#e90000,#f10000,#f90000,#ff0300,#ff0b00,#ff3700,#ff6400,#ff9200,#ffc400,#fff400,#cbff34,#86ff79,#4cffb3,#44ffbb,#58ffa7,#73ff8c,#82ff7d,#7aff85,#4bffb4,#00f9ff,#00c0ff,#00e4ff,#49ffb6,#aaff55,#eaff15,#ffeb00,#ffd300,#ffd100,#fff000,#cdff32,#77ff88,#15ffea,#00b5ff,#0064ff,#002cff,#0016ff,#0020ff,#0044ff,#0082ff,#00d0ff,#1dffe2,#5bffa4,#7bff84,#75ff8a,#53ffac,#2effd1,#21ffde,#3cffc3,#73ff8c,#c5ff3a,#d2ff2d,#61ff9e,#05fffa,#00eeff,#54ffab,#78ff87,#37ffc8,#2effd1,#29ffd6,#2fffd0,#3fffc0)"></i><i style="background:linear-gradient(90deg,#8f0000,#900000,#920000,#930000,#940000,#960000,#980000,#990000,#9b0000,#9d0000,#a00000,#a20000,#a50000,#a80000,#ac0000,#b00000,#b30000,#bf0000,#ca0000,#d60000,#e20000,#e90000,#f00000,#f80000,#ff0000,#ff2b00,#ff5700,#ff8200,#ffb000,#ffde00,#e8ff17,#a1ff5e,#53ffac,#30ffcf,#2bffd4,#42ffbd,#5fffa0,#6dff92,#5bffa4,#2fffd0,#0dfff2,#1effe1,#52ffad,#84ff7b,#a7ff58,#c1ff3e,#d6ff29,#e2ff1d,#ddff22,#c3ff3c,#99ff66,#62ff9d,#25ffda,#00e6ff,#00b0ff,#0088ff,#0070ff,#0067ff,#0072ff,#008bff,#00a7ff,#00c4ff,#00ddff,#00ecff,#00ecff,#00d7ff,#00b4ff,#008dff,#0078ff,#0098ff,#00aaff,#00c0ff,#00ebff,#09fff6,#6fff90,#8fff70,#61ff9e,#6bff94,#74ff8b,#7cff83,#83ff7c)"></i></div>
<div class="p" style="left:265px;top:15px"><i style="background:linear-gradient(90deg,#8f0000,#900000,#920000,#930000,#940000,#960000,#970000,#990000,#9a0000,#9e0000,#a10000,#a50000,#a90000,#af0000,#b60000,#bc0000,#c30000,#cd0000,#d70000,#e10000,#ec0000,#fa0000,#ff0900,#ff1700,#ff2500,#ff4000,#ff5b00,#ff7600,#ff9100,#ffa500,#ffb800,#ffcc00,#ffdf00,#fff300,#f7ff08,#e4ff1b,#d0ff2f,#b1ff4e,#92ff6d,#74ff8b,#55ffaa,#33ffcc,#11ffee,#00efff,#00cdff,#00b4ff,#009bff,#0081ff,#0068ff,#005bff,#004eff,#0040ff,#002fff,#001eff,#000aff,#0000f9,#0000f5,#0000f3,#0000f0,#0000e7,#0000da,#0000c8,#0000b6,#0000a4,#000092,#00008d,#000087,#000081,#000080,#000080,#000080,#000080,#000080,#000080,#000080,#000080,#000080,#000080,#000080,#000080,#000080)"></i><i style="background:linear-gradient(90deg,#8f0000,#900000,#920000,#930000,#940000,#960000,#980000,#9a0000,#9c0000,#a00000,#a40000,#a80000,#ac0000,#b30000,#b90000,#c00000,#c60000,#d20000,#dd0000,#e80000,#f30000,#ff0400,#ff1400,#ff2300,#ff3300,#ff5000,#ff6d00,#ff8a00,#ffa700,#ffba00,#ffce00,#ffe200,#fff500,#f5ff0a,#e2ff1d,#ceff31,#baff45,#9fff60,#84ff7b,#69ff96,#4dffb2,#2affd5,#07fff8,#00e2ff,#00bfff,#00a7ff,#0090ff,#0078ff,#0061ff,#0053ff,#0044ff,#0031ff,#0015ff,#0000f6,#0000e1,#0000df,#0000e7,#0000e6,#0000dc,#0000cd,#0000bd,#0000af,#0000a0,#000092,#000084,#000080,#000080,#000080,#000080,#000080,#000080,#000080,#000080,#000080,#000080,#000080,#000080,#000080,#000080,#000080,#000080)"></i><i style="background:linear-gradient(90deg,#8f0000,#900000,#920000,#930000,#940000,#970000,#990000,#9b0000,#9d0000,#a20000,#a70000,#ab0000,#b00000,#b60000,#bd0000,#c30000,#ca0000,#d60000,#e20000,#ee0000,#fa0000,#ff0d00,#ff1f00,#ff3000,#ff4200,#ff6000,#ff7f00,#ff9e00,#ffbd00,#ffd000,#ffe400,#fff700,#f3ff0c,#dfff20,#ccff33,#b8ff47,#a5ff5a,#8dff72,#75ff8a,#5effa1,#46ffb9,#21ffde,#00fbff,#00d5ff,#00b0ff,#009bff,#0085ff,#006fff,#0059ff,#0048ff,#0030ff,#000dff,#0000e7,#0000d0,#0000d3,#0000e0,#0000e3,#0000d7,#0000c5,#0000b2,#0000a0,#000095,#00008a,#000080,#000080,#000080,#000080,#000080,#000080,#000080,#000080,#000080,#000080,#000080,#000080,#000080,#000080,#000080,#000080,#000080,#000080)"></i><i style="background:linear-gradient(90deg,#8f0000,#900000,#920000,#930000,#940000,#970000,#9a0000,#9c0000,#9f0000,#a40000,#a90000,#ae0000,#b30000,#ba0000,#c10000,#c70000,#ce0000,#db0000,#e80000,#f50000,#ff0300,#ff1600,#ff2900,#ff3d00,#ff5000,#ff7100,#ff9100,#ffb200,#ffd200,#ffe600,#fffa00,#f1ff0e,#ddff22,#caff35,#b6ff49,#a2ff5d,#8fff70,#7bff84,#67ff98,#53ffac,#3fffc0,#18ffe7,#00f0ff,#00c9ff,#00a2ff,#008eff,#007aff,#0065ff,#004bff,#002fff,#0005ff,#0000dc,#0000ce,#0000d9,#0000e9,#0000e9,#0000d8,#0000c1,#0000ab,#000096,#000082,#000080,#000080,#000080,#000080,#000080,#000080,#000080,#000080,#000080,#000080,#000080,#000080,#000080,#000080,#000080,#000080,#000080,#000080,#000080,#000080)"></i><i style="background:linear-gradient(90deg,#8f0000,#910000,#920000,#940000,#950000,#980000,#9b0000,#9e0000,#a10000,#a70000,#ae0000,#b40000,#ba0000,#c20000,#c90000,#d00000,#d80000,#e60000,#f40000,#ff0200,#ff1000,#ff2700,#ff3e00,#ff5500,#ff6c00,#ff8d00,#ffad00,#ffce00,#ffef00,#fcff03,#e8ff17,#d5ff2a,#c1ff3e,#afff50,#9dff62,#8bff74,#79ff86,#64ff9b,#4effb1,#39ffc6,#24ffdb,#00ffff,#00dbff,#00b7ff,#0093ff,#0080ff,#006cff,#0052ff,#002dff,#0000fe,#0000d9,#0000d5,#0000ef,#0001ff,#0000f9,#0000df,#0000c2,#0000ac,#00009a,#000089,#000080,#000080,#000080,#000080,#000080,#000080,#000080,#000080,#000080,#000080,#000080,#000080,#000080,#000080,#000080,#000080,#000080,#000080,#000080,#000080,#000080)"></i><i style="background:linear-gradient(90deg,#8f0000,#910000,#920000,#940000,#960000,#990000,#9c0000,#a00000,#a30000,#ab0000,#b20000,#ba0000,#c20000,#ca0000,#d20000,#da0000,#e30000,#f10000,#ff0100,#ff1000,#ff1f00,#ff3900,#ff5400,#ff6e00,#ff8900,#ffaa00,#ffca00,#ffeb00,#f2ff0d,#dfff20,#cbff34,#b7ff48,#a4ff5b,#94ff6b,#83ff7c,#73ff8c,#63ff9c,#4cffb3,#35ffca,#1effe1,#07fff8,#00e6ff,#00c5ff,#00a4ff,#0082ff,#006dff,#0052ff,#002cff,#0002ff,#0000e7,#0000f2,#0013ff,#0024ff,#000fff,#0000e9,#0000c5,#0000a7,#000098,#00008b,#000080,#000080,#000080,#000080,#000080,#000080,#000080,#000080,#000080,#000080,#000080,#000080,#000080,#000080,#000080,#000080,#000080,#000080,#000080,#000080,#000080,#000080)"></i><i style="background:linear-gradient(90deg,#8f0000,#910000,#930000,#950000,#970000,#9a0000,#9e0000,#a20000,#a50000,#ae0000,#b70000,#c00000,#c90000,#d20000,#db0000,#e40000,#ee0000,#fd0000,#ff0e00,#ff1e00,#ff2d00,#ff4c00,#ff6a00,#ff8800,#ffa600,#ffc700,#ffe700,#f6ff09,#d5ff2a,#c2ff3d,#aeff51,#9aff65,#87ff78,#78ff87,#6aff95,#5cffa3,#4dffb2,#34ffcb,#1cffe3,#03fffc,#00e9ff,#00cbff,#00adff,#008bff,#0064ff,#0045ff,#0023ff,#0008ff,#0007ff,#0022ff,#0043ff,#0044ff,#0025ff,#0000f4,#0000ca,#0000aa,#00008f,#000086,#000080,#000080,#000080,#000080,#000080,#000080,#000080,#000080,#000080,#000080,#000080,#000080,#000080,#000080,#000080,#000080,#000080,#000080,#000080,#000080,#000080,#000080,#000080)"></i><i style="background:linear-gradient(90deg,#8f0000,#910000,#930000,#950000,#970000,#9b0000,#a00000,#a40000,#a80000,#b20000,#bc0000,#c60000,#d00000,#da0000,#e40000,#ee0000,#f80000,#ff0c00,#ff1e00,#ff3000,#ff4200,#ff6400,#ff8600,#ffa800,#ffca00,#ffe900,#f6ff09,#d7ff28,#b8ff47,#a6ff59,#93ff6c,#81ff7e,#6eff91,#60ff9f,#52ffad,#44ffbb,#35ffca,#1affe5,#00feff,#00e2ff,#00c6ff,#00a9ff,#0084ff,#0057ff,#0026ff,#0009ff,#0005ff,#0023ff,#0056ff,#006fff,#005dff,#002eff,#0000fb,#0000d1,#0000b2,#000097,#000080,#000080,#000080,#000080,#000080,#000080,#000080,#000080,#000080,#000080,#000080,#000080,#000080,#000080,#000080,#000080,#000080,#000080,#000080,#000080,#000080,#000080,#000080,#000080,#000080)"></i><i style="background:linear-gradient(90deg,#8f0000,#910000,#940000,#960000,#980000,#9d0000,#a20000,#a70000,#ab0000,#b60000,#c10000,#cc0000,#d70000,#e20000,#ed0000,#f80000,#ff0400,#ff1d00,#ff3600,#ff4e00,#ff6700,#ff8c00,#ffb200,#ffd700,#fffc00,#e8ff17,#ceff31,#b5ff4a,#9bff64,#8cff73,#7dff82,#6eff91,#60ff9f,#4effb1,#3cffc3,#2affd5,#18ffe7,#00f8ff,#00d9ff,#00b8ff,#0090ff,#0067ff,#0030ff,#0000f6,#0000d6,#0000ed,#002dff,#006fff,#008bff,#0068ff,#002fff,#0000f9,#0000d2,#0000b8,#0000a1,#00008c,#000080,#000080,#000080,#000080,#000080,#000080,#000080,#000080,#000080,#000080,#000080,#000080,#000080,#000080,#000080,#000080,#000080,#000080,#000080,#000080,#000080,#000080,#000080,#000080,#000080)"></i><i style="background:linear-gradient(90deg,#8f0000,#920000,#940000,#960000,#990000,#9e0000,#a40000,#a90000,#af0000,#bb0000,#c70000,#d30000,#df0000,#eb0000,#f60000,#ff0300,#ff0f00,#ff2e00,#ff4d00,#ff6c00,#ff8b00,#ffb400,#ffdd00,#f8ff07,#cfff30,#bbff44,#a6ff59,#92ff6d,#7eff81,#73ff8c,#68ff97,#5cffa3,#51ffae,#3cffc3,#26ffd9,#11ffee,#00faff,#00d7ff,#00b0ff,#0080ff,#003dff,#0000fa,#0000ba,#0000a2,#0000c9,#0020ff,#0069ff,#0080ff,#006bff,#0030ff,#0000fc,#0000d6,#0000b7,#0000a4,#000092,#000081,#000080,#000080,#000080,#000080,#000080,#000080,#000080,#000080,#000080,#000080,#000080,#000080,#000080,#000080,#000080,#000080,#000080,#000080,#000080,#000080,#000080,#000080,#000080,#000080,#000080)"></i><i style="background:linear-gradient(90deg,#8f0000,#920000,#940000,#970000,#990000,#a00000,#a60000,#ac0000,#b30000,#c00000,#cc0000,#d90000,#e60000,#f30000,#ff0100,#ff0d00,#ff1a00,#ff3f00,#ff6500,#ff8a00,#ffaf00,#ffdc00,#f5ff0a,#c9ff36,#9cff63,#8dff72,#7eff81,#70ff8f,#61ff9e,#59ffa6,#52ffad,#4affb5,#42ffbd,#29ffd6,#10ffef,#00f6ff,#00dcff,#00b1ff,#007aff,#002dff,#0000c7,#000085,#000080,#0000ab,#0004ff,#004bff,#005fff,#004fff,#0037ff,#0008ff,#0000e2,#0000c0,#0000a0,#000092,#000084,#000080,#000080,#000080,#000080,#000080,#000080,#000080,#000080,#000080,#000080,#000080,#000080,#000080,#000080,#000080,#000080,#000080,#000080,#000080,#000080,#000080,#000080,#000080,#000080,#000080,#000080)"></i><i style="background:linear-gradient(90deg,#8f0000,#920000,#950000,#970000,#9a0000,#a10000,#a80000,#af0000,#b60000,#c40000,#d20000,#df0000,#ed0000,#fc0000,#ff0b00,#ff1900,#ff2800,#ff5500,#ff8300,#ffb000,#ffde00,#f6ff09,#ccff33,#a2ff5d,#78ff87,#6fff90,#66ff99,#5cffa3,#53ffac,#4dffb2,#46ffb9,#40ffbf,#39ffc6,#1effe1,#02fffd,#00e5ff,#00c4ff,#008fff,#0044ff,#0000e2,#000088,#000080,#0000ab,#0000f4,#0026ff,#0034ff,#0028ff,#0018ff,#000dff,#0000ec,#0000ce,#0000b1,#000095,#000089,#000080,#000080,#000080,#000080,#000080,#000080,#000080,#000080,#000080,#000080,#000080,#000080,#000080,#000080,#000080,#000080,#000080,#000080,#000080,#000080,#000080,#000080,#000080,#000080,#000080,#000080,#000080)"></i><i style="background:linear-gradient(90deg,#8f0000,#920000,#950000,#980000,#9b0000,#a30000,#aa0000,#b20000,#ba0000,#c90000,#d70000,#e60000,#f40000,#ff0600,#ff1600,#ff2600,#ff3600,#ff6d00,#ffa300,#ffda00,#edff12,#c9ff36,#a4ff5b,#80ff7f,#5bffa4,#57ffa8,#53ffac,#4fffb0,#4cffb3,#45ffba,#3fffc0,#38ffc7,#32ffcd,#14ffeb,#00f5ff,#00d4ff,#00aaff,#006aff,#001bff,#0000d1,#0000ae,#0000cd,#0000fb,#0016ff,#0015ff,#000aff,#0000fd,#0000f3,#0000eb,#0000d4,#0000bc,#0000a5,#00008d,#000083,#000080,#000080,#000080,#000080,#000080,#000080,#000080,#000080,#000080,#000080,#000080,#000080,#000080,#000080,#000080,#000080,#000080,#000080,#000080,#000080,#000080,#000080,#000080,#000080,#000080,#000080,#000080)"></i><i style="background:linear-gradient(90deg,#8f0000,#920000,#950000,#990000,#9c0000,#a40000,#ad0000,#b50000,#be0000,#cd0000,#dd0000,#ec0000,#fc0000,#ff0f00,#ff2100,#ff3300,#ff4500,#ff8400,#ffc400,#faff05,#baff45,#9bff64,#7cff83,#5dffa2,#3dffc2,#3dffc2,#3effc1,#40ffbf,#42ffbd,#3dffc2,#37ffc8,#31ffce,#2affd5,#0bfff4,#00e8ff,#00c1ff,#008eff,#0054ff,#001fff,#0001ff,#0000fd,#0010ff,#0016ff,#000cff,#0000fa,#0000ed,#0000e2,#0000d8,#0000ce,#0000bc,#0000aa,#000098,#000086,#000080,#000080,#000080,#000080,#000080,#000080,#000080,#000080,#000080,#000080,#000080,#000080,#000080,#000080,#000080,#000080,#000080,#000080,#000080,#000080,#000080,#000080,#000080,#000080,#000080,#000080,#000080,#000080)"></i><i style="background:linear-gradient(90deg,#8f0000,#920000,#960000,#990000,#9c0000,#a60000,#af0000,#b80000,#c10000,#d10000,#e20000,#f20000,#ff0400,#ff1800,#ff2b00,#ff3f00,#ff5300,#ff9c00,#ffe400,#d1ff2e,#89ff76,#6fff90,#54ffab,#35ffca,#12ffed,#11ffee,#18ffe7,#27ffd8,#37ffc8,#36ffc9,#31ffce,#2affd5,#24ffdb,#02fffd,#00dcff,#00b2ff,#0083ff,#005eff,#0044ff,#0037ff,#002eff,#0024ff,#0014ff,#0000ff,#0000eb,#0000dd,#0000cf,#0000c2,#0000b5,#0000a7,#00009a,#00008d,#000080,#000080,#000080,#000080,#000080,#000080,#000080,#000080,#000080,#000080,#000080,#000080,#000080,#000080,#000080,#000080,#000080,#000080,#000080,#000080,#000080,#000080,#000080,#000080,#000080,#000080,#000080,#000080,#000080)"></i><i style="background:linear-gradient(90deg,#8f0000,#930000,#960000,#9a0000,#9d0000,#a60000,#b00000,#b90000,#c20000,#d30000,#e40000,#f50000,#ff0700,#ff1e00,#ff3400,#ff4b00,#ff6200,#ffb000,#fffe00,#b2ff4d,#63ff9c,#49ffb6,#23ffdc,#00ecff,#00b7ff,#00bfff,#00e8ff,#16ffe9,#35ffca,#36ffc9,#31ffce,#2affd5,#23ffdc,#05fffa,#00e3ff,#00c1ff,#009fff,#0088ff,#0075ff,#0063ff,#004fff,#003cff,#0029ff,#0015ff,#0001ff,#0000ef,#0000de,#0000cd,#0000bc,#0000af,#0000a2,#000095,#000087,#000080,#000080,#000080,#000080,#000080,#000080,#000080,#000080,#000080,#000080,#000080,#000080,#000080,#000080,#000080,#000080,#000080,#000080,#000080,#000080,#000080,#000080,#000080,#000080,#000080,#000080,#000080,#000080)"></i><i style="background:linear-gradient(90deg,#8f0000,#930000,#960000,#9a0000,#9e0000,#a70000,#b10000,#ba0000,#c40000,#d50000,#e70000,#f80000,#ff0b00,#ff2400,#ff3e00,#ff5700,#ff7000,#ffc400,#e7ff18,#91ff6e,#33ffcc,#02fffd,#00aeff,#0059ff,#003fff,#0087ff,#00e0ff,#1cffe3,#3affc5,#37ffc8,#31ffce,#2affd5,#23ffdc,#09fff6,#00edff,#00d2ff,#00baff,#00a5ff,#0090ff,#007bff,#0065ff,#0052ff,#003eff,#002bff,#0017ff,#0002ff,#0000ec,#0000d8,#0000c3,#0000b6,#0000a9,#00009c,#00008f,#000084,#000080,#000080,#000080,#000080,#000080,#000080,#000080,#000080,#000080,#000080,#000080,#000080,#000080,#000080,#000080,#000080,#000080,#000080,#000080,#000080,#000080,#000080,#000080,#000080,#000080,#000080,#000080)"></i><i style="background:linear-gradient(90deg,#8f0000,#930000,#970000,#9b0000,#9f0000,#a80000,#b20000,#bc0000,#c50000,#d70000,#e90000,#fb0000,#ff0f00,#ff2b00,#ff4700,#ff6300,#ff7f00,#ffd800,#cbff34,#68ff97,#00e9ff,#0095ff,#003bff,#001eff,#0052ff,#00b9ff,#01fffe,#27ffd8,#3dffc2,#37ffc8,#31ffce,#2affd5,#23ffdc,#0dfff2,#00f7ff,#00e1ff,#00ccff,#00b8ff,#00a4ff,#0090ff,#007bff,#0068ff,#0054ff,#0040ff,#002dff,#0014ff,#0000fb,#0000e3,#0000ca,#0000bd,#0000b0,#0000a3,#000096,#00008a,#000080,#000080,#000080,#000080,#000080,#000080,#000080,#000080,#000080,#000080,#000080,#000080,#000080,#000080,#000080,#000080,#000080,#000080,#000080,#000080,#000080,#000080,#000080,#000080,#000080,#000080,#000080)"></i><i style="background:linear-gradient(90deg,#8f0000,#930000,#970000,#9b0000,#9f0000,#a90000,#b30000,#bc0000,#c60000,#d80000,#eb0000,#fd0000,#ff1000,#ff2e00,#ff4b00,#ff6900,#ff8600,#ffdc00,#c8ff37,#5fffa0,#00ddff,#00a1ff,#0088ff,#00a1ff,#00cdff,#01fffe,#1effe1,#31ffce,#42ffbd,#3bffc4,#35ffca,#2effd1,#27ffd8,#16ffe9,#06fff9,#00f4ff,#00e3ff,#00cfff,#00bcff,#00a8ff,#0095ff,#0081ff,#006dff,#005aff,#0046ff,#002dff,#0014ff,#0000f9,#0000e0,#0000d2,#0000c4,#0000b6,#0000a8,#00009b,#00008e,#000081,#000080,#000080,#000080,#000080,#000080,#000080,#000080,#000080,#000080,#000080,#000080,#000080,#000080,#000080,#000080,#000080,#000080,#000080,#000080,#000080,#000080,#000080,#000080,#000080,#000080)"></i><i style="background:linear-gradient(90deg,#8e0000,#920000,#960000,#9b0000,#9f0000,#a90000,#b30000,#bc0000,#c60000,#d80000,#eb0000,#fd0000,#ff1000,#ff2e00,#ff4b00,#ff6900,#ff8600,#ffce00,#e4ff1b,#90ff6f,#39ffc6,#23ffdc,#1fffe0,#22ffdd,#20ffdf,#2dffd2,#37ffc8,#40ffbf,#49ffb6,#42ffbd,#3cffc3,#35ffca,#2fffd0,#23ffdc,#18ffe7,#0dfff2,#01fffe,#00ecff,#00d9ff,#00c5ff,#00b2ff,#009eff,#008aff,#0077ff,#0063ff,#004cff,#0034ff,#001dff,#0005ff,#0000f5,#0000e5,#0000d5,#0000c5,#0000b8,#0000ab,#00009e,#000091,#00008e,#00008b,#000089,#000086,#000083,#000081,#000080,#000080,#000080,#000080,#000080,#000080,#000080,#000080,#000080,#000080,#000080,#000080,#000080,#000080,#000080,#000080,#000080,#000080)"></i><i style="background:linear-gradient(90deg,#8d0000,#920000,#960000,#9b0000,#9f0000,#a90000,#b30000,#bc0000,#c60000,#d80000,#eb0000,#fd0000,#ff1000,#ff2e00,#ff4b00,#ff6900,#ff8600,#ffbf00,#fff800,#cbff34,#92ff6d,#80ff7f,#6fff90,#5dffa2,#4affb5,#4cffb3,#4dffb2,#4fffb0,#50ffaf,#4affb5,#43ffbc,#3dffc2,#36ffc9,#30ffcf,#2affd5,#24ffdb,#1effe1,#0bfff4,#00f6ff,#00e2ff,#00cfff,#00bbff,#00a7ff,#0094ff,#0080ff,#006bff,#0055ff,#003fff,#002aff,#0018ff,#0007ff,#0000f4,#0000e2,#0000d5,#0000c8,#0000bb,#0000ae,#0000a9,#0000a5,#0000a0,#00009c,#000097,#000093,#00008e,#00008a,#00008a,#00008a,#00008a,#00008a,#00008a,#00008a,#00008a,#00008a,#00008a,#00008a,#00008a,#00008a,#00008a,#00008a,#00008a,#00008a)"></i><i style="background:linear-gradient(90deg,#8d0000,#910000,#960000,#9a0000,#9f0000,#a90000,#b30000,#bc0000,#c60000,#d80000,#eb0000,#fd0000,#ff1000,#ff2e00,#ff4b00,#ff6900,#ff8600,#ffaf00,#ffd800,#fdff02,#d5ff2a,#bbff44,#a2ff5d,#88ff77,#6fff90,#69ff96,#63ff9c,#5dffa2,#58ffa7,#51ffae,#4affb5,#44ffbb,#3dffc2,#3dffc2,#3cffc3,#3cffc3,#3bffc4,#28ffd7,#14ffeb,#00ffff,#00ecff,#00d8ff,#00c5ff,#00b1ff,#009dff,#0089ff,#0076ff,#0062ff,#004eff,#003bff,#0027ff,#0014ff,#0000ff,#0000f2,#0000e5,#0000d8,#0000cb,#0000c5,#0000be,#0000b8,#0000b2,#0000ab,#0000a5,#00009f,#000098,#000098,#000098,#000098,#000098,#000098,#000098,#000098,#000098,#000098,#000098,#000098,#000098,#000098,#000098,#000098,#000098)"></i><i style="background:linear-gradient(90deg,#8d0000,#910000,#950000,#9a0000,#9e0000,#a80000,#b10000,#bb0000,#c40000,#d60000,#e80000,#fa0000,#ff0d00,#ff2800,#ff4300,#ff5e00,#ff7900,#ff9b00,#ffbe00,#ffe000,#fcff03,#e5ff1a,#ceff31,#b7ff48,#a0ff5f,#9aff65,#93ff6c,#8dff72,#86ff79,#7fff80,#79ff86,#72ff8d,#6cff93,#6aff95,#69ff96,#67ff98,#65ff9a,#55ffaa,#45ffba,#34ffcb,#24ffdb,#14ffeb,#03fffc,#00f2ff,#00e2ff,#00d0ff,#00beff,#00acff,#009aff,#0088ff,#0076ff,#0064ff,#0052ff,#0045ff,#0038ff,#002aff,#001dff,#0017ff,#0010ff,#000aff,#0003ff,#0000fc,#0000f5,#0000ef,#0000e8,#0000e8,#0000e8,#0000e8,#0000e8,#0000e8,#0000e8,#0000e8,#0000e8,#0000e8,#0000e8,#0000e8,#0000e8,#0000e8,#0000e8,#0000e8,#0000e8)"></i><i style="background:linear-gradient(90deg,#8d0000,#910000,#950000,#990000,#9e0000,#a70000,#b00000,#b90000,#c20000,#d40000,#e50000,#f70000,#ff0900,#ff2200,#ff3a00,#ff5200,#ff6a00,#ff8700,#ffa400,#ffc100,#ffde00,#fff100,#faff05,#e6ff19,#d3ff2c,#cdff32,#c6ff39,#bfff40,#b9ff46,#b2ff4d,#acff53,#a5ff5a,#9fff60,#9bff64,#98ff67,#94ff6b,#91ff6e,#84ff7b,#78ff87,#6bff94,#5effa1,#51ffae,#45ffba,#38ffc7,#2bffd4,#1bffe4,#0bfff4,#00faff,#00eaff,#00d9ff,#00c9ff,#00b9ff,#00a9ff,#009cff,#008fff,#0082ff,#0075ff,#006eff,#0068ff,#0061ff,#005aff,#0054ff,#004dff,#0047ff,#0040ff,#0040ff,#0040ff,#0040ff,#0040ff,#0040ff,#0040ff,#0040ff,#0040ff,#0040ff,#0040ff,#0040ff,#0040ff,#0040ff,#0040ff,#0040ff,#0040ff)"></i><i style="background:linear-gradient(90deg,#8d0000,#910000,#950000,#990000,#9d0000,#a60000,#ae0000,#b70000,#c00000,#d10000,#e20000,#f40000,#ff0600,#ff1b00,#ff3100,#ff4600,#ff5c00,#ff7300,#ff8b00,#ffa200,#ffba00,#ffc900,#ffd900,#ffe800,#fff800,#ffff00,#f9ff06,#f2ff0d,#ecff13,#e5ff1a,#dfff20,#d8ff27,#d2ff2d,#ccff33,#c7ff38,#c2ff3d,#bdff42,#b3ff4c,#aaff55,#a1ff5e,#98ff67,#8fff70,#86ff79,#7dff82,#74ff8b,#66ff99,#57ffa8,#49ffb6,#3affc5,#2cffd3,#1effe1,#0ffff0,#01fffe,#00f3ff,#00e6ff,#00d9ff,#00ccff,#00c5ff,#00bfff,#00b8ff,#00b2ff,#00abff,#00a5ff,#009eff,#0097ff,#0097ff,#0097ff,#0097ff,#0097ff,#0097ff,#0097ff,#0097ff,#0097ff,#0097ff,#0097ff,#0097ff,#0097ff,#0097ff,#0097ff,#0097ff,#0097ff)"></i><i style="background:linear-gradient(90deg,#8d0000,#900000,#940000,#980000,#9c0000,#a40000,#ad0000,#b50000,#bd0000,#ce0000,#df0000,#ef0000,#ff0100,#ff1400,#ff2700,#ff3a00,#ff4d00,#ff6000,#ff7400,#ff8700,#ff9a00,#ffa600,#ffb200,#ffbe00,#ffcb00,#ffd100,#ffd700,#ffdd00,#ffe400,#ffea00,#fff000,#fff600,#fffc00,#fcff03,#f6ff09,#efff10,#e9ff16,#e3ff1c,#deff21,#d8ff27,#d2ff2d,#ccff33,#c6ff39,#c0ff3f,#baff45,#aeff51,#a2ff5d,#96ff69,#8aff75,#7eff81,#72ff8d,#66ff99,#5affa5,#4effb1,#42ffbd,#36ffc9,#2affd5,#25ffda,#1fffe0,#19ffe6,#13ffec,#0dfff2,#07fff8,#01fffe,#00faff,#00faff,#00faff,#00faff,#00faff,#00faff,#00faff,#00faff,#00fbff,#00fbff,#00fbff,#00fbff,#00fbff,#00fbff,#00fbff,#00fbff,#00fbff)"></i><i style="background:linear-gradient(90deg,#8d0000,#900000,#940000,#980000,#9b0000,#a30000,#ab0000,#b30000,#ba0000,#ca0000,#da0000,#e90000,#f90000,#ff0b00,#ff1c00,#ff2e00,#ff3f00,#ff5000,#ff6100,#ff7300,#ff8400,#ff8d00,#ff9700,#ffa000,#ffaa00,#ffaf00,#ffb500,#ffba00,#ffbf00,#ffc400,#ffc800,#ffcc00,#ffd000,#ffd500,#ffdb00,#ffe000,#ffe600,#ffe900,#ffec00,#ffef00,#fff200,#fff600,#fffa00,#fffe00,#fcff03,#f3ff0c,#ebff14,#e3ff1c,#daff25,#d2ff2d,#caff35,#c1ff3e,#b9ff46,#b1ff4e,#a8ff57,#a0ff5f,#97ff68,#93ff6c,#8fff70,#8bff74,#87ff78,#83ff7c,#7eff81,#7aff85,#76ff89,#76ff89,#76ff89,#76ff89,#76ff89,#77ff88,#78ff87,#7aff85,#7bff84,#7bff84,#7bff84,#7bff84,#7bff84,#7bff84,#7bff84,#7bff84,#7bff84)"></i><i style="background:linear-gradient(90deg,#8d0000,#900000,#940000,#970000,#9b0000,#a20000,#a90000,#b00000,#b80000,#c60000,#d50000,#e30000,#f20000,#ff0200,#ff1100,#ff2100,#ff3000,#ff4000,#ff4f00,#ff5f00,#ff6e00,#ff7500,#ff7c00,#ff8200,#ff8900,#ff8e00,#ff9200,#ff9700,#ff9b00,#ff9d00,#ffa000,#ffa200,#ffa500,#ffa900,#ffad00,#ffb200,#ffb600,#ffb700,#ffb700,#ffb700,#ffb700,#ffba00,#ffbc00,#ffbf00,#ffc100,#ffc600,#ffca00,#ffcf00,#ffd400,#ffd800,#ffdd00,#ffe200,#ffe700,#ffeb00,#fff000,#fff500,#fffa00,#fffc00,#fffe00,#fdff02,#fbff04,#f9ff06,#f6ff09,#f4ff0b,#f2ff0d,#f2ff0d,#f2ff0d,#f2ff0d,#f2ff0d,#f4ff0b,#f6ff09,#f8ff07,#faff05,#faff05,#faff05,#faff05,#faff05,#faff05,#faff05,#faff05,#faff05)"></i><i style="background:linear-gradient(90deg,#8d0000,#900000,#930000,#970000,#9a0000,#a10000,#a70000,#ae0000,#b50000,#c20000,#cf0000,#dd0000,#ea0000,#f80000,#ff0700,#ff1400,#ff2200,#ff2f00,#ff3d00,#ff4b00,#ff5800,#ff5c00,#ff6000,#ff6500,#ff6900,#ff6c00,#ff7000,#ff7300,#ff7700,#ff7700,#ff7800,#ff7800,#ff7900,#ff7d00,#ff8000,#ff8400,#ff8700,#ff8500,#ff8200,#ff8000,#ff7d00,#ff7e00,#ff7e00,#ff7f00,#ff8000,#ff8100,#ff8200,#ff8300,#ff8400,#ff8500,#ff8600,#ff8700,#ff8800,#ff8900,#ff8a00,#ff8b00,#ff8d00,#ff8d00,#ff8e00,#ff8e00,#ff8f00,#ff8f00,#ff9000,#ff9000,#ff9100,#ff9100,#ff9100,#ff9100,#ff9100,#ff8e00,#ff8b00,#ff8800,#ff8500,#ff8500,#ff8500,#ff8500,#ff8500,#ff8500,#ff8500,#ff8500,#ff8500)"></i><i style="background:linear-gradient(90deg,#8c0000,#8f0000,#920000,#950000,#990000,#9f0000,#a50000,#ab0000,#b10000,#be0000,#ca0000,#d70000,#e30000,#ef0000,#fb0000,#ff0700,#ff1300,#ff1f00,#ff2b00,#ff3700,#ff4200,#ff4500,#ff4800,#ff4a00,#ff4d00,#ff5000,#ff5200,#ff5500,#ff5800,#ff5800,#ff5800,#ff5800,#ff5800,#ff5a00,#ff5d00,#ff5f00,#ff6200,#ff5f00,#ff5c00,#ff5800,#ff5500,#ff5500,#ff5500,#ff5500,#ff5500,#ff5500,#ff5500,#ff5500,#ff5500,#ff5500,#ff5500,#ff5500,#ff5500,#ff5500,#ff5500,#ff5500,#ff5500,#ff5500,#ff5500,#ff5500,#ff5500,#ff5500,#ff5500,#ff5500,#ff5500,#ff5500,#ff5500,#ff5500,#ff5500,#ff5200,#ff4e00,#ff4b00,#ff4800,#ff4800,#ff4800,#ff4800,#ff4800,#ff4800,#ff4800,#ff4800,#ff4800)"></i><i style="background:linear-gradient(90deg,#8b0000,#8e0000,#910000,#940000,#970000,#9d0000,#a20000,#a80000,#ae0000,#b90000,#c50000,#d00000,#dc0000,#e60000,#f00000,#fa0000,#ff0500,#ff0f00,#ff1900,#ff2300,#ff2d00,#ff2e00,#ff3000,#ff3200,#ff3400,#ff3500,#ff3700,#ff3900,#ff3a00,#ff3a00,#ff3a00,#ff3a00,#ff3a00,#ff3c00,#ff3e00,#ff4000,#ff4100,#ff3e00,#ff3b00,#ff3800,#ff3400,#ff3400,#ff3400,#ff3400,#ff3400,#ff3400,#ff3400,#ff3400,#ff3400,#ff3400,#ff3400,#ff3400,#ff3400,#ff3400,#ff3400,#ff3400,#ff3400,#ff3400,#ff3400,#ff3400,#ff3400,#ff3400,#ff3400,#ff3400,#ff3400,#ff3400,#ff3400,#ff3400,#ff3400,#ff3100,#ff2e00,#ff2a00,#ff2700,#ff2700,#ff2700,#ff2700,#ff2700,#ff2700,#ff2700,#ff2700,#ff2700)"></i><i style="background:linear-gradient(90deg,#8b0000,#8d0000,#900000,#930000,#960000,#9b0000,#a00000,#a50000,#aa0000,#b50000,#bf0000,#ca0000,#d50000,#dd0000,#e50000,#ed0000,#f50000,#fd0000,#ff0700,#ff0f00,#ff1700,#ff1800,#ff1900,#ff1900,#ff1a00,#ff1b00,#ff1c00,#ff1d00,#ff1d00,#ff1d00,#ff1d00,#ff1d00,#ff1d00,#ff1e00,#ff1f00,#ff2000,#ff2100,#ff1d00,#ff1a00,#ff1700,#ff1400,#ff1400,#ff1400,#ff1400,#ff1400,#ff1400,#ff1400,#ff1400,#ff1400,#ff1400,#ff1400,#ff1400,#ff1400,#ff1400,#ff1400,#ff1400,#ff1400,#ff1400,#ff1400,#ff1400,#ff1400,#ff1400,#ff1400,#ff1400,#ff1400,#ff1400,#ff1400,#ff1400,#ff1400,#ff1000,#ff0d00,#ff0a00,#ff0700,#ff0700,#ff0700,#ff0700,#ff0700,#ff0700,#ff0700,#ff0700,#ff0700)"></i><i style="background:linear-gradient(90deg,#8a0000,#8d0000,#8f0000,#920000,#940000,#990000,#9d0000,#a20000,#a60000,#b00000,#ba0000,#c40000,#cd0000,#d40000,#da0000,#e10000,#e70000,#ed0000,#f40000,#fa0000,#ff0100,#ff0100,#ff0100,#ff0100,#ff0100,#ff0100,#ff0100,#ff0100,#ff0100,#ff0100,#ff0100,#ff0100,#ff0100,#ff0100,#ff0100,#ff0100,#ff0100,#fd0000,#fa0000,#f70000,#f40000,#f40000,#f40000,#f40000,#f40000,#f40000,#f40000,#f40000,#f40000,#f40000,#f40000,#f40000,#f40000,#f40000,#f40000,#f40000,#f40000,#f40000,#f40000,#f40000,#f40000,#f40000,#f40000,#f40000,#f40000,#f40000,#f40000,#f40000,#f40000,#f10000,#ed0000,#ea0000,#e70000,#e70000,#e70000,#e70000,#e70000,#e70000,#e70000,#e70000,#e70000)"></i><i style="background:linear-gradient(90deg,#8a0000,#8c0000,#8e0000,#910000,#930000,#970000,#9b0000,#9f0000,#a30000,#ac0000,#b40000,#bd0000,#c60000,#cc0000,#d10000,#d70000,#dc0000,#e10000,#e50000,#ea0000,#ee0000,#ee0000,#ee0000,#ee0000,#ee0000,#ee0000,#ee0000,#ee0000,#ee0000,#ee0000,#ee0000,#ee0000,#ee0000,#ee0000,#ee0000,#ee0000,#ee0000,#ec0000,#ea0000,#e70000,#e50000,#e50000,#e50000,#e50000,#e50000,#e50000,#e50000,#e50000,#e50000,#e50000,#e50000,#e50000,#e50000,#e50000,#e50000,#e50000,#e50000,#e50000,#e50000,#e50000,#e50000,#e50000,#e50000,#e50000,#e50000,#e50000,#e50000,#e50000,#e50000,#e30000,#e10000,#de0000,#dc0000,#dc0000,#dc0000,#dc0000,#dc0000,#dc0000,#dc0000,#dc0000,#dc0000)"></i><i style="background:linear-gradient(90deg,#8a0000,#8c0000,#8e0000,#900000,#910000,#950000,#980000,#9c0000,#9f0000,#a70000,#af0000,#b70000,#bf0000,#c30000,#c80000,#cd0000,#d10000,#d40000,#d70000,#d90000,#dc0000,#dc0000,#dc0000,#dc0000,#dc0000,#dc0000,#dc0000,#dc0000,#dc0000,#dc0000,#dc0000,#dc0000,#dc0000,#dc0000,#dc0000,#dc0000,#dc0000,#db0000,#d90000,#d80000,#d70000,#d70000,#d70000,#d70000,#d70000,#d70000,#d70000,#d70000,#d70000,#d70000,#d70000,#d70000,#d70000,#d70000,#d70000,#d70000,#d70000,#d70000,#d70000,#d70000,#d70000,#d70000,#d70000,#d70000,#d70000,#d70000,#d70000,#d70000,#d70000,#d50000,#d40000,#d30000,#d10000,#d10000,#d10000,#d10000,#d10000,#d10000,#d10000,#d10000,#d10000)"></i><i style="background:linear-gradient(90deg,#8a0000,#8b0000,#8d0000,#8e0000,#900000,#930000,#960000,#990000,#9b0000,#a20000,#a90000,#b00000,#b70000,#bb0000,#bf0000,#c30000,#c60000,#c70000,#c80000,#c90000,#ca0000,#ca0000,#ca0000,#ca0000,#ca0000,#ca0000,#ca0000,#ca0000,#ca0000,#ca0000,#ca0000,#ca0000,#ca0000,#ca0000,#ca0000,#ca0000,#ca0000,#ca0000,#c90000,#c90000,#c80000,#c80000,#c80000,#c80000,#c80000,#c80000,#c80000,#c80000,#c80000,#c80000,#c80000,#c80000,#c80000,#c80000,#c80000,#c80000,#c80000,#c80000,#c80000,#c80000,#c80000,#c80000,#c80000,#c80000,#c80000,#c80000,#c80000,#c80000,#c80000,#c80000,#c70000,#c70000,#c60000,#c60000,#c60000,#c60000,#c60000,#c60000,#c60000,#c60000,#c60000)"></i><i style="background:linear-gradient(90deg,#8a0000,#8b0000,#8c0000,#8e0000,#8f0000,#910000,#940000,#960000,#990000,#9f0000,#a50000,#aa0000,#b00000,#b30000,#b60000,#b90000,#bd0000,#bd0000,#bd0000,#bd0000,#bd0000,#bd0000,#bd0000,#bd0000,#bd0000,#bd0000,#bd0000,#bd0000,#bd0000,#bd0000,#bd0000,#bd0000,#bd0000,#bd0000,#bd0000,#bd0000,#bd0000,#bd0000,#bd0000,#bd0000,#bd0000,#bd0000,#bd0000,#bd0000,#bd0000,#bd0000,#bd0000,#bd0000,#bd0000,#bd0000,#bd0000,#bd0000,#bd0000,#bd0000,#bd0000,#bd0000,#bd0000,#bd0000,#bd0000,#bd0000,#bd0000,#bd0000,#bd0000,#bd0000,#bd0000,#bd0000,#bd0000,#bd0000,#bd0000,#bd0000,#bd0000,#bd0000,#bd0000,#bd0000,#bd0000,#bd0000,#bd0000,#bd0000,#bd0000,#bd0000,#bd0000)"></i><i style="background:linear-gradient(90deg,#890000,#8a0000,#8b0000,#8d0000,#8e0000,#900000,#930000,#950000,#970000,#9c0000,#a00000,#a50000,#a90000,#ac0000,#ae0000,#b10000,#b40000,#b40000,#b40000,#b50000,#b50000,#b50000,#b50000,#b60000,#b60000,#b60000,#b60000,#b60000,#b60000,#b60000,#b60000,#b60000,#b60000,#b60000,#b60000,#b60000,#b60000,#b60000,#b60000,#b60000,#b60000,#b60000,#b60000,#b60000,#b60000,#b60000,#b60000,#b60000,#b60000,#b60000,#b60000,#b60000,#b60000,#b60000,#b60000,#b60000,#b60000,#b60000,#b60000,#b60000,#b60000,#b60000,#b60000,#b60000,#b60000,#b60000,#b60000,#b60000,#b60000,#b60000,#b60000,#b60000,#b60000,#b60000,#b60000,#b60000,#b60000,#b60000,#b60000,#b60000,#b60000)"></i><i style="background:linear-gradient(90deg,#880000,#890000,#8b0000,#8c0000,#8d0000,#900000,#920000,#940000,#960000,#990000,#9c0000,#9f0000,#a20000,#a40000,#a60000,#a90000,#ab0000,#ac0000,#ac0000,#ac0000,#ad0000,#ad0000,#ae0000,#ae0000,#af0000,#af0000,#af0000,#af0000,#af0000,#af0000,#af0000,#af0000,#af0000,#af0000,#af0000,#af0000,#af0000,#af0000,#af0000,#af0000,#af0000,#af0000,#af0000,#af0000,#af0000,#af0000,#af0000,#af0000,#af0000,#af0000,#af0000,#af0000,#af0000,#af0000,#af0000,#af0000,#af0000,#af0000,#af0000,#af0000,#af0000,#af0000,#af0000,#af0000,#af0000,#af0000,#af0000,#af0000,#af0000,#af0000,#af0000,#af0000,#af0000,#af0000,#af0000,#af0000,#af0000,#af0000,#af0000,#af0000,#af0000)"></i><i style="background:linear-gradient(90deg,#870000,#890000,#8a0000,#8b0000,#8d0000,#8f0000,#910000,#930000,#950000,#960000,#970000,#990000,#9a0000,#9c0000,#9e0000,#a00000,#a20000,#a30000,#a40000,#a40000,#a50000,#a60000,#a60000,#a70000,#a70000,#a70000,#a70000,#a70000,#a70000,#a70000,#a70000,#a70000,#a70000,#a70000,#a70000,#a70000,#a70000,#a70000,#a70000,#a70000,#a70000,#a70000,#a70000,#a70000,#a70000,#a70000,#a70000,#a70000,#a70000,#a70000,#a70000,#a70000,#a70000,#a70000,#a70000,#a70000,#a70000,#a70000,#a70000,#a70000,#a70000,#a70000,#a70000,#a70000,#a70000,#a70000,#a70000,#a70000,#a70000,#a70000,#a70000,#a70000,#a70000,#a70000,#a70000,#a70000,#a70000,#a70000,#a70000,#a70000,#a70000)"></i><i style="background:linear-gradient(90deg,#870000,#880000,#8a0000,#8b0000,#8c0000,#8e0000,#900000,#910000,#930000,#940000,#960000,#970000,#980000,#9a0000,#9c0000,#9d0000,#9f0000,#a00000,#a00000,#a10000,#a10000,#a20000,#a20000,#a30000,#a30000,#a30000,#a30000,#a30000,#a30000,#a30000,#a30000,#a30000,#a30000,#a30000,#a30000,#a30000,#a30000,#a30000,#a30000,#a30000,#a30000,#a30000,#a30000,#a30000,#a30000,#a30000,#a30000,#a30000,#a30000,#a30000,#a30000,#a30000,#a30000,#a30000,#a30000,#a30000,#a30000,#a30000,#a30000,#a30000,#a30000,#a30000,#a30000,#a30000,#a30000,#a30000,#a30000,#a30000,#a30000,#a30000,#a30000,#a30000,#a30000,#a30000,#a30000,#a30000,#a30000,#a30000,#a30000,#a30000,#a30000)"></i><i style="background:linear-gradient(90deg,#870000,#880000,#890000,#8a0000,#8b0000,#8d0000,#8e0000,#900000,#920000,#930000,#940000,#960000,#970000,#980000,#990000,#9b0000,#9c0000,#9d0000,#9d0000,#9e0000,#9f0000,#9f0000,#9f0000,#a00000,#a00000,#a00000,#a00000,#a00000,#a00000,#a00000,#a00000,#a00000,#a00000,#a00000,#a00000,#a00000,#a00000,#a00000,#a00000,#a00000,#a00000,#a00000,#a00000,#a00000,#a00000,#a00000,#a00000,#a00000,#a00000,#a00000,#a00000,#a00000,#a00000,#a00000,#a00000,#a00000,#a00000,#a00000,#a00000,#a00000,#a00000,#a00000,#a00000,#a00000,#a00000,#a00000,#a00000,#a00000,#a00000,#a00000,#a00000,#a00000,#a00000,#a00000,#a00000,#a00000,#a00000,#a00000,#a00000,#a00000,#a00000)"></i><i style="background:linear-gradient(90deg,#870000,#880000,#890000,#8a0000,#8a0000,#8c0000,#8d0000,#8f0000,#900000,#920000,#930000,#940000,#950000,#960000,#970000,#980000,#990000,#9a0000,#9a0000,#9b0000,#9c0000,#9c0000,#9c0000,#9c0000,#9c0000,#9c0000,#9c0000,#9c0000,#9c0000,#9c0000,#9c0000,#9c0000,#9c0000,#9c0000,#9c0000,#9c0000,#9c0000,#9c0000,#9c0000,#9c0000,#9c0000,#9c0000,#9c0000,#9c0000,#9c0000,#9c0000,#9c0000,#9c0000,#9c0000,#9c0000,#9c0000,#9c0000,#9c0000,#9c0000,#9c0000,#9c0000,#9c0000,#9c0000,#9c0000,#9c0000,#9c0000,#9c0000,#9c0000,#9c0000,#9c0000,#9c0000,#9c0000,#9c0000,#9c0000,#9c0000,#9c0000,#9c0000,#9c0000,#9c0000,#9c0000,#9c0000,#9c0000,#9c0000,#9c0000,#9c0000,#9c0000)"></i><i style="background:linear-gradient(90deg,#870000,#880000,#890000,#890000,#8a0000,#8c0000,#8d0000,#8e0000,#900000,#910000,#920000,#940000,#950000,#960000,#960000,#970000,#980000,#990000,#990000,#9a0000,#9b0000,#9b0000,#9b0000,#9b0000,#9b0000,#9b0000,#9b0000,#9b0000,#9b0000,#9b0000,#9b0000,#9b0000,#9b0000,#9b0000,#9b0000,#9b0000,#9b0000,#9b0000,#9b0000,#9b0000,#9b0000,#9b0000,#9b0000,#9b0000,#9b0000,#9b0000,#9b0000,#9b0000,#9b0000,#9b0000,#9b0000,#9b0000,#9b0000,#9b0000,#9b0000,#9b0000,#9b0000,#9b0000,#9b0000,#9b0000,#9b0000,#9b0000,#9b0000,#9b0000,#9b0000,#9b0000,#9b0000,#9b0000,#9b0000,#9b0000,#9b0000,#9b0000,#9b0000,#9b0000,#9b0000,#9b0000,#9b0000,#9b0000,#9b0000,#9b0000,#9b0000)"></i><i style="background:linear-gradient(90deg,#870000,#880000,#890000,#8a0000,#8b0000,#8c0000,#8e0000,#900000,#910000,#920000,#940000,#950000,#960000,#970000,#990000,#9a0000,#9b0000,#9b0000,#9c0000,#9d0000,#9d0000,#9e0000,#9e0000,#9e0000,#9e0000,#9e0000,#9e0000,#9e0000,#9e0000,#9e0000,#9e0000,#9e0000,#9e0000,#9e0000,#9e0000,#9e0000,#9e0000,#9e0000,#9e0000,#9e0000,#9e0000,#9e0000,#9e0000,#9e0000,#9e0000,#9e0000,#9e0000,#9e0000,#9e0000,#9e0000,#9e0000,#9e0000,#9e0000,#9e0000,#9e0000,#9e0000,#9e0000,#9e0000,#9e0000,#9e0000,#9e0000,#9e0000,#9e0000,#9e0000,#9e0000,#9e0000,#9e0000,#9e0000,#9e0000,#9e0000,#9e0000,#9e0000,#9e0000,#9e0000,#9e0000,#9e0000,#9e0000,#9e0000,#9e0000,#9e0000,#9e0000)"></i><i style="background:linear-gradient(90deg,#870000,#880000,#890000,#8b0000,#8c0000,#8d0000,#8f0000,#910000,#930000,#940000,#950000,#960000,#980000,#990000,#9b0000,#9c0000,#9e0000,#9e0000,#9f0000,#a00000,#a00000,#a10000,#a10000,#a20000,#a20000,#a20000,#a20000,#a20000,#a20000,#a20000,#a20000,#a20000,#a20000,#a20000,#a20000,#a20000,#a20000,#a20000,#a20000,#a20000,#a20000,#a20000,#a20000,#a20000,#a20000,#a20000,#a20000,#a20000,#a20000,#a20000,#a20000,#a20000,#a20000,#a20000,#a20000,#a20000,#a20000,#a20000,#a20000,#a20000,#a20000,#a20000,#a20000,#a20000,#a20000,#a20000,#a20000,#a20000,#a20000,#a20000,#a20000,#a20000,#a20000,#a20000,#a20000,#a20000,#a20000,#a20000,#a20000,#a20000,#a20000)"></i><i style="background:linear-gradient(90deg,#870000,#890000,#8a0000,#8b0000,#8c0000,#8e0000,#900000,#920000,#940000,#950000,#970000,#980000,#990000,#9b0000,#9d0000,#9f0000,#a10000,#a10000,#a20000,#a30000,#a30000,#a40000,#a40000,#a50000,#a60000,#a60000,#a60000,#a60000,#a60000,#a60000,#a60000,#a60000,#a60000,#a60000,#a60000,#a60000,#a60000,#a60000,#a60000,#a60000,#a60000,#a60000,#a60000,#a60000,#a60000,#a60000,#a60000,#a60000,#a60000,#a60000,#a60000,#a60000,#a60000,#a60000,#a60000,#a60000,#a60000,#a60000,#a60000,#a60000,#a60000,#a60000,#a60000,#a60000,#a60000,#a60000,#a60000,#a60000,#a60000,#a60000,#a60000,#a60000,#a60000,#a60000,#a60000,#a60000,#a60000,#a60000,#a60000,#a60000,#a60000)"></i><i style="background:linear-gradient(90deg,#880000,#890000,#8a0000,#8c0000,#8d0000,#8f0000,#910000,#930000,#950000,#980000,#9a0000,#9c0000,#9f0000,#a10000,#a30000,#a50000,#a80000,#a80000,#a90000,#a90000,#aa0000,#aa0000,#ab0000,#ab0000,#ac0000,#ac0000,#ac0000,#ac0000,#ac0000,#ac0000,#ac0000,#ac0000,#ac0000,#ac0000,#ac0000,#ac0000,#ac0000,#ac0000,#ac0000,#ac0000,#ac0000,#ac0000,#ac0000,#ac0000,#ac0000,#ac0000,#ac0000,#ac0000,#ac0000,#ac0000,#ac0000,#ac0000,#ac0000,#ac0000,#ac0000,#ac0000,#ac0000,#ac0000,#ac0000,#ac0000,#ac0000,#ac0000,#ac0000,#ac0000,#ac0000,#ac0000,#ac0000,#ac0000,#ac0000,#ac0000,#ac0000,#ac0000,#ac0000,#ac0000,#ac0000,#ac0000,#ac0000,#ac0000,#ac0000,#ac0000,#ac0000)"></i><i style="background:linear-gradient(90deg,#890000,#8a0000,#8b0000,#8d0000,#8e0000,#900000,#920000,#950000,#970000,#9b0000,#9e0000,#a20000,#a60000,#a90000,#ab0000,#ae0000,#b00000,#b10000,#b10000,#b10000,#b20000,#b20000,#b20000,#b30000,#b30000,#b30000,#b30000,#b30000,#b30000,#b30000,#b30000,#b30000,#b30000,#b30000,#b30000,#b30000,#b30000,#b30000,#b30000,#b30000,#b30000,#b30000,#b30000,#b30000,#b30000,#b30000,#b30000,#b30000,#b30000,#b30000,#b30000,#b30000,#b30000,#b30000,#b30000,#b30000,#b30000,#b30000,#b30000,#b30000,#b30000,#b30000,#b30000,#b30000,#b30000,#b30000,#b30000,#b30000,#b30000,#b30000,#b30000,#b30000,#b30000,#b30000,#b30000,#b30000,#b30000,#b30000,#b30000,#b30000,#b30000)"></i><i style="background:linear-gradient(90deg,#890000,#8b0000,#8c0000,#8d0000,#8f0000,#910000,#930000,#960000,#980000,#9e0000,#a30000,#a80000,#ad0000,#b00000,#b30000,#b60000,#b90000,#b90000,#b90000,#ba0000,#ba0000,#ba0000,#ba0000,#ba0000,#ba0000,#ba0000,#ba0000,#ba0000,#ba0000,#ba0000,#ba0000,#ba0000,#ba0000,#ba0000,#ba0000,#ba0000,#ba0000,#ba0000,#ba0000,#ba0000,#ba0000,#ba0000,#ba0000,#ba0000,#ba0000,#ba0000,#ba0000,#ba0000,#ba0000,#ba0000,#ba0000,#ba0000,#ba0000,#ba0000,#ba0000,#ba0000,#ba0000,#ba0000,#ba0000,#ba0000,#ba0000,#ba0000,#ba0000,#ba0000,#ba0000,#ba0000,#ba0000,#ba0000,#ba0000,#ba0000,#ba0000,#ba0000,#ba0000,#ba0000,#ba0000,#ba0000,#ba0000,#ba0000,#ba0000,#ba0000,#ba0000)"></i><i style="background:linear-gradient(90deg,#8a0000,#8b0000,#8d0000,#8e0000,#8f0000,#920000,#950000,#970000,#9a0000,#a10000,#a70000,#ae0000,#b50000,#b80000,#bb0000,#bf0000,#c20000,#c20000,#c20000,#c30000,#c30000,#c30000,#c30000,#c30000,#c30000,#c30000,#c30000,#c30000,#c30000,#c30000,#c30000,#c30000,#c30000,#c30000,#c30000,#c30000,#c30000,#c30000,#c30000,#c20000,#c20000,#c20000,#c20000,#c20000,#c20000,#c20000,#c20000,#c20000,#c20000,#c20000,#c20000,#c20000,#c20000,#c20000,#c20000,#c20000,#c20000,#c20000,#c20000,#c20000,#c20000,#c20000,#c20000,#c20000,#c20000,#c20000,#c20000,#c20000,#c20000,#c20000,#c20000,#c20000,#c20000,#c20000,#c20000,#c20000,#c20000,#c20000,#c20000,#c20000,#c20000)"></i><i style="background:linear-gradient(90deg,#8a0000,#8c0000,#8d0000,#8f0000,#910000,#940000,#970000,#9a0000,#9e0000,#a50000,#ad0000,#b40000,#bc0000,#c00000,#c40000,#c90000,#cd0000,#cf0000,#d10000,#d30000,#d50000,#d50000,#d50000,#d50000,#d50000,#d50000,#d50000,#d50000,#d50000,#d50000,#d50000,#d50000,#d50000,#d50000,#d50000,#d50000,#d50000,#d40000,#d30000,#d20000,#d10000,#d10000,#d10000,#d10000,#d10000,#d10000,#d10000,#d10000,#d10000,#d10000,#d10000,#d10000,#d10000,#d10000,#d10000,#d10000,#d10000,#d10000,#d10000,#d10000,#d10000,#d10000,#d10000,#d10000,#d10000,#d10000,#d10000,#d10000,#d10000,#d00000,#cf0000,#ce0000,#cd0000,#cd0000,#cd0000,#cd0000,#cd0000,#cd0000,#cd0000,#cd0000,#cd0000)"></i><i style="background:linear-gradient(90deg,#8a0000,#8c0000,#8e0000,#900000,#920000,#960000,#9a0000,#9e0000,#a10000,#aa0000,#b20000,#bb0000,#c30000,#c80000,#cd0000,#d30000,#d80000,#dc0000,#df0000,#e30000,#e70000,#e70000,#e70000,#e70000,#e70000,#e70000,#e70000,#e70000,#e70000,#e70000,#e70000,#e70000,#e70000,#e70000,#e70000,#e70000,#e70000,#e50000,#e30000,#e10000,#df0000,#df0000,#df0000,#df0000,#df0000,#df0000,#df0000,#df0000,#df0000,#df0000,#df0000,#df0000,#df0000,#df0000,#df0000,#df0000,#df0000,#df0000,#df0000,#df0000,#df0000,#df0000,#df0000,#df0000,#df0000,#df0000,#df0000,#df0000,#df0000,#dd0000,#dc0000,#da0000,#d80000,#d80000,#d80000,#d80000,#d80000,#d80000,#d80000,#d80000,#d80000)"></i><i style="background:linear-gradient(90deg,#8a0000,#8c0000,#8f0000,#910000,#940000,#980000,#9c0000,#a10000,#a50000,#ae0000,#b80000,#c10000,#ca0000,#d00000,#d60000,#dd0000,#e30000,#e80000,#ee0000,#f40000,#f90000,#f90000,#f90000,#f90000,#f90000,#f90000,#f90000,#f90000,#f90000,#f90000,#f90000,#f90000,#f90000,#f90000,#f90000,#f90000,#f90000,#f60000,#f40000,#f10000,#ee0000,#ee0000,#ee0000,#ee0000,#ee0000,#ee0000,#ee0000,#ee0000,#ee0000,#ee0000,#ee0000,#ee0000,#ee0000,#ee0000,#ee0000,#ee0000,#ee0000,#ee0000,#ee0000,#ee0000,#ee0000,#ee0000,#ee0000,#ee0000,#ee0000,#ee0000,#ee0000,#ee0000,#ee0000,#eb0000,#e80000,#e50000,#e30000,#e30000,#e30000,#e30000,#e30000,#e30000,#e30000,#e30000,#e30000)"></i><i style="background:linear-gradient(90deg,#8a0000,#8d0000,#900000,#920000,#950000,#9a0000,#9f0000,#a40000,#a90000,#b30000,#bd0000,#c70000,#d20000,#d90000,#e00000,#e80000,#ef0000,#f70000,#fe0000,#ff0700,#ff0e00,#ff0f00,#ff0f00,#ff1000,#ff1000,#ff1000,#ff1100,#ff1100,#ff1200,#ff1200,#ff1200,#ff1200,#ff1200,#ff1200,#ff1300,#ff1300,#ff1400,#ff1000,#ff0d00,#ff0a00,#ff0700,#ff0700,#ff0700,#ff0700,#ff0700,#ff0700,#ff0700,#ff0700,#ff0700,#ff0700,#ff0700,#ff0700,#ff0700,#ff0700,#ff0700,#ff0700,#ff0700,#ff0700,#ff0700,#ff0700,#ff0700,#ff0700,#ff0700,#ff0700,#ff0700,#ff0700,#ff0700,#ff0700,#ff0700,#ff0300,#ff0000,#fc0000,#f80000,#f80000,#f80000,#f80000,#f80000,#f80000,#f80000,#f80000,#f80000)"></i><i style="background:linear-gradient(90deg,#8b0000,#8e0000,#910000,#940000,#970000,#9c0000,#a10000,#a70000,#ac0000,#b70000,#c30000,#ce0000,#d90000,#e20000,#eb0000,#f50000,#fe0000,#ff0800,#ff1100,#ff1b00,#ff2400,#ff2500,#ff2700,#ff2800,#ff2900,#ff2b00,#ff2c00,#ff2d00,#ff2f00,#ff2f00,#ff2f00,#ff2f00,#ff2f00,#ff3000,#ff3200,#ff3300,#ff3400,#ff3100,#ff2e00,#ff2a00,#ff2700,#ff2700,#ff2700,#ff2700,#ff2700,#ff2700,#ff2700,#ff2700,#ff2700,#ff2700,#ff2700,#ff2700,#ff2700,#ff2700,#ff2700,#ff2700,#ff2700,#ff2700,#ff2700,#ff2700,#ff2700,#ff2700,#ff2700,#ff2700,#ff2700,#ff2700,#ff2700,#ff2700,#ff2700,#ff2400,#ff2100,#ff1d00,#ff1a00,#ff1a00,#ff1a00,#ff1a00,#ff1a00,#ff1a00,#ff1a00,#ff1a00,#ff1a00)"></i><i style="background:linear-gradient(90deg,#8c0000,#8f0000,#920000,#950000,#980000,#9e0000,#a40000,#aa0000,#b00000,#bc0000,#c80000,#d40000,#e00000,#eb0000,#f60000,#ff0200,#ff0d00,#ff1900,#ff2400,#ff2f00,#ff3a00,#ff3c00,#ff3e00,#ff4100,#ff4300,#ff4500,#ff4700,#ff4a00,#ff4c00,#ff4c00,#ff4c00,#ff4c00,#ff4c00,#ff4e00,#ff5000,#ff5300,#ff5500,#ff5200,#ff4e00,#ff4b00,#ff4800,#ff4800,#ff4800,#ff4800,#ff4800,#ff4800,#ff4800,#ff4800,#ff4800,#ff4800,#ff4800,#ff4800,#ff4800,#ff4800,#ff4800,#ff4800,#ff4800,#ff4800,#ff4800,#ff4800,#ff4800,#ff4800,#ff4800,#ff4800,#ff4800,#ff4800,#ff4800,#ff4800,#ff4800,#ff4500,#ff4100,#ff3e00,#ff3b00,#ff3b00,#ff3b00,#ff3b00,#ff3b00,#ff3b00,#ff3b00,#ff3b00,#ff3b00)"></i><i style="background:linear-gradient(90deg,#8d0000,#900000,#930000,#960000,#9a0000,#a00000,#a60000,#ad0000,#b30000,#c00000,#cd0000,#da0000,#e70000,#f40000,#ff0200,#ff0f00,#ff1c00,#ff2900,#ff3600,#ff4300,#ff5000,#ff5300,#ff5600,#ff5900,#ff5c00,#ff5f00,#ff6300,#ff6600,#ff6900,#ff6900,#ff6900,#ff6900,#ff6900,#ff6c00,#ff6f00,#ff7300,#ff7600,#ff7200,#ff6f00,#ff6c00,#ff6900,#ff6900,#ff6900,#ff6900,#ff6900,#ff6900,#ff6900,#ff6900,#ff6900,#ff6900,#ff6900,#ff6900,#ff6900,#ff6900,#ff6900,#ff6900,#ff6900,#ff6900,#ff6900,#ff6900,#ff6900,#ff6900,#ff6900,#ff6900,#ff6900,#ff6900,#ff6900,#ff6900,#ff6900,#ff6500,#ff6200,#ff5f00,#ff5c00,#ff5c00,#ff5c00,#ff5c00,#ff5c00,#ff5c00,#ff5c00,#ff5c00,#ff5c00)"></i><i style="background:linear-gradient(90deg,#8d0000,#900000,#930000,#970000,#9a0000,#a10000,#a80000,#af0000,#b60000,#c40000,#d30000,#e10000,#ef0000,#fd0000,#ff0d00,#ff1c00,#ff2a00,#ff3900,#ff4800,#ff5700,#ff6500,#ff6b00,#ff7100,#ff7700,#ff7c00,#ff8000,#ff8400,#ff8800,#ff8d00,#ff8e00,#ff9000,#ff9100,#ff9300,#ff9700,#ff9b00,#ff9f00,#ffa300,#ffa300,#ffa200,#ffa100,#ffa000,#ffa200,#ffa300,#ffa500,#ffa700,#ffaa00,#ffad00,#ffb100,#ffb400,#ffb700,#ffba00,#ffbe00,#ffc100,#ffc400,#ffc700,#ffcb00,#ffce00,#ffd000,#ffd100,#ffd300,#ffd400,#ffd600,#ffd800,#ffd900,#ffdb00,#ffdb00,#ffdb00,#ffdb00,#ffdb00,#ffd900,#ffd600,#ffd400,#ffd100,#ffd100,#ffd100,#ffd100,#ffd100,#ffd100,#ffd100,#ffd100,#ffd100)"></i><i style="background:linear-gradient(90deg,#8d0000,#900000,#940000,#970000,#9b0000,#a30000,#aa0000,#b20000,#b90000,#c80000,#d80000,#e70000,#f60000,#ff0700,#ff1800,#ff2900,#ff3900,#ff4a00,#ff5a00,#ff6b00,#ff7b00,#ff8400,#ff8c00,#ff9400,#ff9d00,#ffa200,#ffa700,#ffac00,#ffb100,#ffb400,#ffb800,#ffbb00,#ffbf00,#ffc400,#ffc900,#ffce00,#ffd300,#ffd500,#ffd600,#ffd800,#ffda00,#ffde00,#ffe100,#ffe500,#ffe800,#ffef00,#fff600,#fffd00,#faff05,#f3ff0c,#ecff13,#e6ff19,#dfff20,#d8ff27,#d1ff2e,#caff35,#c3ff3c,#c0ff3f,#bcff43,#b9ff46,#b5ff4a,#b2ff4d,#aeff51,#abff54,#a7ff58,#a7ff58,#a7ff58,#a7ff58,#a7ff58,#a9ff56,#abff54,#acff53,#aeff51,#aeff51,#aeff51,#aeff51,#aeff51,#aeff51,#aeff51,#aeff51,#aeff51)"></i><i style="background:linear-gradient(90deg,#8d0000,#900000,#940000,#980000,#9c0000,#a40000,#ac0000,#b40000,#bc0000,#cc0000,#dd0000,#ed0000,#fd0000,#ff1100,#ff2300,#ff3500,#ff4800,#ff5a00,#ff6c00,#ff7f00,#ff9100,#ff9c00,#ffa700,#ffb200,#ffbe00,#ffc400,#ffc900,#ffcf00,#ffd500,#ffda00,#ffe000,#ffe500,#ffea00,#fff000,#fff600,#fffc00,#fcff03,#f7ff08,#f3ff0c,#eeff11,#eaff15,#e4ff1b,#dfff20,#daff25,#d5ff2a,#caff35,#bfff40,#b5ff4a,#aaff55,#a0ff5f,#95ff6a,#8bff74,#80ff7f,#76ff89,#6bff94,#61ff9e,#56ffa9,#51ffae,#4cffb3,#46ffb9,#41ffbe,#3cffc3,#36ffc9,#31ffce,#2cffd3,#2cffd3,#2cffd3,#2cffd3,#2cffd3,#2dffd2,#2dffd2,#2effd1,#2effd1,#2effd1,#2effd1,#2effd1,#2effd1,#2effd1,#2effd1,#2effd1,#2effd1)"></i><i style="background:linear-gradient(90deg,#8d0000,#910000,#950000,#990000,#9c0000,#a50000,#ae0000,#b60000,#bf0000,#d00000,#e10000,#f20000,#ff0400,#ff1900,#ff2d00,#ff4200,#ff5600,#ff6b00,#ff8100,#ff9600,#ffab00,#ffb900,#ffc700,#ffd600,#ffe400,#ffea00,#fff100,#fff700,#fffe00,#faff05,#f3ff0c,#ecff13,#e6ff19,#e0ff1f,#daff25,#d4ff2b,#ceff31,#c6ff39,#bfff40,#b7ff48,#afff50,#a8ff57,#a0ff5f,#99ff66,#91ff6e,#83ff7c,#76ff89,#68ff97,#5affa5,#4dffb2,#3fffc0,#32ffcd,#24ffdb,#17ffe8,#0afff5,#00fcff,#00efff,#00e8ff,#00e2ff,#00dbff,#00d5ff,#00ceff,#00c7ff,#00c1ff,#00baff,#00baff,#00baff,#00baff,#00baff,#00baff,#00baff,#00baff,#00baff,#00baff,#00baff,#00baff,#00baff,#00baff,#00baff,#00baff,#00baff)"></i><i style="background:linear-gradient(90deg,#8d0000,#910000,#950000,#990000,#9d0000,#a60000,#af0000,#b80000,#c10000,#d30000,#e40000,#f60000,#ff0800,#ff1f00,#ff3600,#ff4d00,#ff6500,#ff7f00,#ff9a00,#ffb500,#ffcf00,#ffe100,#fff300,#f9ff06,#e7ff18,#e1ff1e,#daff25,#d4ff2b,#cdff32,#c7ff38,#c0ff3f,#baff45,#b3ff4c,#afff50,#abff54,#a7ff58,#a2ff5d,#97ff68,#8cff73,#81ff7e,#75ff8a,#6aff95,#5fffa0,#54ffab,#48ffb7,#39ffc6,#29ffd6,#1affe5,#0bfff4,#00faff,#00ebff,#00dbff,#00ccff,#00bfff,#00b2ff,#00a5ff,#0097ff,#0091ff,#008aff,#0084ff,#007dff,#0077ff,#0070ff,#006aff,#0063ff,#0063ff,#0063ff,#0063ff,#0063ff,#0063ff,#0063ff,#0063ff,#0063ff,#0063ff,#0063ff,#0063ff,#0063ff,#0063ff,#0063ff,#0063ff,#0063ff)"></i><i style="background:linear-gradient(90deg,#8d0000,#910000,#950000,#9a0000,#9e0000,#a70000,#b10000,#ba0000,#c30000,#d50000,#e70000,#f90000,#ff0c00,#ff2600,#ff3f00,#ff5900,#ff7300,#ff9300,#ffb300,#ffd400,#fff400,#f5ff0a,#dfff20,#caff35,#b5ff4a,#aeff51,#a7ff58,#a1ff5e,#9aff65,#94ff6b,#8dff72,#87ff78,#80ff7f,#7eff81,#7cff83,#79ff86,#77ff88,#68ff97,#59ffa6,#4affb5,#3bffc4,#2cffd3,#1dffe2,#0ffff0,#00ffff,#00edff,#00dcff,#00cbff,#00baff,#00a8ff,#0097ff,#0086ff,#0075ff,#0068ff,#005aff,#004dff,#0040ff,#003aff,#0033ff,#002dff,#0026ff,#0020ff,#0019ff,#0013ff,#000cff,#000cff,#000cff,#000cff,#000cff,#000cff,#000cff,#000cff,#000cff,#000cff,#000cff,#000cff,#000cff,#000cff,#000cff,#000cff,#000cff)"></i><i style="background:linear-gradient(90deg,#8d0000,#910000,#960000,#9a0000,#9f0000,#a80000,#b20000,#bc0000,#c50000,#d80000,#ea0000,#fc0000,#ff0f00,#ff2c00,#ff4800,#ff6500,#ff8200,#ffa700,#ffcd00,#fff300,#e6ff19,#cdff32,#b4ff4b,#9bff64,#82ff7d,#7bff84,#75ff8a,#6eff91,#68ff97,#61ff9e,#5affa5,#54ffab,#4dffb2,#4dffb2,#4cffb3,#4cffb3,#4bffb4,#39ffc6,#26ffd9,#14ffeb,#01fffe,#00eeff,#00dbff,#00c9ff,#00b6ff,#00a3ff,#0090ff,#007dff,#006aff,#0057ff,#0044ff,#0030ff,#001dff,#0010ff,#0003ff,#0000f5,#0000e8,#0000e2,#0000db,#0000d5,#0000ce,#0000c7,#0000c1,#0000ba,#0000b4,#0000b4,#0000b4,#0000b4,#0000b4,#0000b4,#0000b4,#0000b4,#0000b4,#0000b4,#0000b4,#0000b4,#0000b4,#0000b4,#0000b4,#0000b4,#0000b4)"></i><i style="background:linear-gradient(90deg,#8d0000,#920000,#960000,#9a0000,#9f0000,#a90000,#b30000,#bc0000,#c60000,#d80000,#eb0000,#fd0000,#ff1000,#ff2e00,#ff4b00,#ff6900,#ff8600,#ffb800,#ffeb00,#e0ff1f,#afff50,#9aff65,#85ff7a,#6fff90,#59ffa6,#58ffa7,#56ffa9,#55ffaa,#53ffac,#4dffb2,#46ffb9,#40ffbf,#39ffc6,#35ffca,#31ffce,#2effd1,#2affd5,#16ffe9,#03fffc,#00eeff,#00daff,#00c7ff,#00b3ff,#009fff,#008cff,#0077ff,#0062ff,#004dff,#0038ff,#0026ff,#0014ff,#0001ff,#0000ee,#0000e1,#0000d4,#0000c7,#0000ba,#0000b4,#0000af,#0000aa,#0000a5,#00009f,#00009a,#000095,#00008f,#00008f,#00008f,#00008f,#00008f,#00008f,#00008f,#00008f,#00008f,#00008f,#00008f,#00008f,#00008f,#00008f,#00008f,#00008f,#00008f)"></i><i style="background:linear-gradient(90deg,#8e0000,#920000,#960000,#9b0000,#9f0000,#a90000,#b30000,#bc0000,#c60000,#d80000,#eb0000,#fd0000,#ff1000,#ff2e00,#ff4b00,#ff6900,#ff8600,#ffc800,#f1ff0e,#a8ff57,#60ff9f,#4fffb0,#46ffb9,#3effc1,#33ffcc,#3affc5,#40ffbf,#46ffb9,#4cffb3,#45ffba,#3fffc0,#38ffc7,#32ffcd,#28ffd7,#1fffe0,#16ffe9,#0dfff2,#00f8ff,#00e4ff,#00d1ff,#00bdff,#00aaff,#0096ff,#0082ff,#006fff,#0058ff,#0041ff,#002bff,#0014ff,#0003ff,#0000f2,#0000e1,#0000d1,#0000c4,#0000b7,#0000aa,#00009d,#000099,#000096,#000092,#00008f,#00008b,#000088,#000084,#000081,#000081,#000081,#000081,#000081,#000081,#000081,#000081,#000081,#000081,#000081,#000081,#000081,#000081,#000081,#000081,#000081)"></i><i style="background:linear-gradient(90deg,#8f0000,#930000,#970000,#9b0000,#9f0000,#a90000,#b30000,#bc0000,#c60000,#d80000,#eb0000,#fd0000,#ff1000,#ff2e00,#ff4b00,#ff6900,#ff8600,#ffd600,#d2ff2d,#6fff90,#00fdff,#00d3ff,#00cbff,#00e0ff,#00f6ff,#16ffe9,#29ffd6,#37ffc8,#45ffba,#3effc1,#38ffc7,#31ffce,#2affd5,#1cffe3,#0dfff2,#00fdff,#00efff,#00dbff,#00c7ff,#00b4ff,#00a0ff,#008dff,#0079ff,#0065ff,#0052ff,#0039ff,#0021ff,#0008ff,#0000ef,#0000e0,#0000d1,#0000c3,#0000b4,#0000a7,#00009a,#00008d,#000080,#000080,#000080,#000080,#000080,#000080,#000080,#000080,#000080,#000080,#000080,#000080,#000080,#000080,#000080,#000080,#000080,#000080,#000080,#000080,#000080,#000080,#000080,#000080,#000080)"></i><i style="background:linear-gradient(90deg,#8f0000,#930000,#970000,#9b0000,#9f0000,#a90000,#b20000,#bc0000,#c60000,#d80000,#ea0000,#fd0000,#ff1000,#ff2d00,#ff4a00,#ff6700,#ff8500,#ffe000,#bfff40,#54ffab,#00ccff,#007aff,#0039ff,#003dff,#007cff,#00d4ff,#0bfff4,#28ffd7,#3effc1,#38ffc7,#31ffce,#2affd5,#24ffdb,#0ffff0,#00faff,#00e6ff,#00d3ff,#00bfff,#00abff,#0098ff,#0084ff,#0070ff,#005dff,#0049ff,#0035ff,#001cff,#0002ff,#0000e7,#0000cd,#0000c0,#0000b3,#0000a6,#000099,#00008c,#000080,#000080,#000080,#000080,#000080,#000080,#000080,#000080,#000080,#000080,#000080,#000080,#000080,#000080,#000080,#000080,#000080,#000080,#000080,#000080,#000080,#000080,#000080,#000080,#000080,#000080,#000080)"></i><i style="background:linear-gradient(90deg,#8f0000,#930000,#970000,#9a0000,#9e0000,#a80000,#b10000,#bb0000,#c50000,#d60000,#e80000,#fa0000,#ff0c00,#ff2700,#ff4100,#ff5c00,#ff7600,#ffcc00,#dcff23,#82ff7d,#19ffe6,#00d6ff,#0074ff,#002aff,#0031ff,#0092ff,#00ecff,#21ffde,#3cffc3,#37ffc8,#31ffce,#2affd5,#23ffdc,#0bfff4,#00f1ff,#00d9ff,#00c2ff,#00adff,#0099ff,#0084ff,#006eff,#005aff,#0047ff,#0033ff,#0020ff,#0009ff,#0000f2,#0000dc,#0000c6,#0000b9,#0000ac,#00009f,#000092,#000087,#000080,#000080,#000080,#000080,#000080,#000080,#000080,#000080,#000080,#000080,#000080,#000080,#000080,#000080,#000080,#000080,#000080,#000080,#000080,#000080,#000080,#000080,#000080,#000080,#000080,#000080,#000080)"></i><i style="background:linear-gradient(90deg,#8f0000,#930000,#960000,#9a0000,#9d0000,#a70000,#b00000,#ba0000,#c30000,#d40000,#e50000,#f70000,#ff0900,#ff2000,#ff3800,#ff5000,#ff6800,#ffb800,#f6ff09,#a6ff59,#52ffad,#33ffcc,#00fdff,#00b7ff,#0081ff,#009dff,#00ddff,#16ffe9,#37ffc8,#36ffc9,#31ffce,#2affd5,#23ffdc,#06fff9,#00e7ff,#00c8ff,#00abff,#0095ff,#0082ff,#006eff,#0058ff,#0045ff,#0031ff,#001dff,#000aff,#0000f6,#0000e4,#0000d1,#0000bf,#0000b2,#0000a5,#000097,#00008a,#000081,#000080,#000080,#000080,#000080,#000080,#000080,#000080,#000080,#000080,#000080,#000080,#000080,#000080,#000080,#000080,#000080,#000080,#000080,#000080,#000080,#000080,#000080,#000080,#000080,#000080,#000080,#000080)"></i><i style="background:linear-gradient(90deg,#8f0000,#930000,#960000,#990000,#9d0000,#a60000,#af0000,#b80000,#c20000,#d20000,#e30000,#f30000,#ff0500,#ff1a00,#ff2f00,#ff4400,#ff5900,#ffa400,#ffee00,#c5ff3a,#7aff85,#62ff9d,#45ffba,#22ffdd,#00f7ff,#00f5ff,#05fffa,#1fffe0,#35ffca,#35ffca,#31ffce,#2affd5,#23ffdc,#03fffc,#00deff,#00b7ff,#008eff,#006fff,#005bff,#004cff,#003dff,#002fff,#001cff,#0008ff,#0000f3,#0000e4,#0000d5,#0000c6,#0000b7,#0000aa,#00009d,#000090,#000083,#000080,#000080,#000080,#000080,#000080,#000080,#000080,#000080,#000080,#000080,#000080,#000080,#000080,#000080,#000080,#000080,#000080,#000080,#000080,#000080,#000080,#000080,#000080,#000080,#000080,#000080,#000080,#000080)"></i><i style="background:linear-gradient(90deg,#8f0000,#920000,#960000,#990000,#9c0000,#a50000,#ad0000,#b60000,#bf0000,#cf0000,#df0000,#ef0000,#ff0000,#ff1200,#ff2500,#ff3800,#ff4a00,#ff8e00,#ffd100,#e9ff16,#a6ff59,#89ff76,#6cff93,#4effb1,#2fffd0,#2fffd0,#31ffce,#37ffc8,#3effc1,#3affc5,#34ffcb,#2effd1,#27ffd8,#07fff8,#00e2ff,#00b9ff,#0087ff,#0054ff,#002cff,#0019ff,#0016ff,#001cff,#0016ff,#0006ff,#0000f1,#0000e5,#0000d9,#0000ce,#0000c2,#0000b3,#0000a3,#000093,#000083,#000080,#000080,#000080,#000080,#000080,#000080,#000080,#000080,#000080,#000080,#000080,#000080,#000080,#000080,#000080,#000080,#000080,#000080,#000080,#000080,#000080,#000080,#000080,#000080,#000080,#000080,#000080,#000080)"></i><i style="background:linear-gradient(90deg,#8f0000,#920000,#950000,#980000,#9b0000,#a30000,#ab0000,#b30000,#bb0000,#ca0000,#d90000,#e80000,#f70000,#ff0900,#ff1a00,#ff2b00,#ff3c00,#ff7600,#ffb100,#ffeb00,#d9ff26,#b7ff48,#94ff6b,#72ff8d,#4fffb0,#4effb1,#4cffb3,#4affb5,#48ffb7,#42ffbd,#3cffc3,#35ffca,#2fffd0,#11ffee,#00f0ff,#00ccff,#009eff,#005eff,#0016ff,#0000df,#0000ce,#0000ed,#000dff,#0015ff,#0009ff,#0000fc,#0000f1,#0000e8,#0000e0,#0000ca,#0000b5,#0000a0,#00008a,#000081,#000080,#000080,#000080,#000080,#000080,#000080,#000080,#000080,#000080,#000080,#000080,#000080,#000080,#000080,#000080,#000080,#000080,#000080,#000080,#000080,#000080,#000080,#000080,#000080,#000080,#000080,#000080)"></i><i style="background:linear-gradient(90deg,#8f0000,#920000,#950000,#980000,#9a0000,#a20000,#a90000,#b00000,#b80000,#c60000,#d40000,#e20000,#f00000,#ff0000,#ff0f00,#ff1e00,#ff2d00,#ff5f00,#ff9000,#ffc100,#fff200,#e4ff1b,#bcff43,#94ff6b,#6dff92,#66ff99,#5effa1,#57ffa8,#50ffaf,#4affb5,#43ffbc,#3dffc2,#36ffc9,#1affe5,#00fcff,#00deff,#00baff,#0080ff,#0030ff,#0000d3,#00008d,#000097,#0000cf,#000aff,#0023ff,#0022ff,#0014ff,#0007ff,#0000fe,#0000e2,#0000c7,#0000ac,#000092,#000087,#000080,#000080,#000080,#000080,#000080,#000080,#000080,#000080,#000080,#000080,#000080,#000080,#000080,#000080,#000080,#000080,#000080,#000080,#000080,#000080,#000080,#000080,#000080,#000080,#000080,#000080,#000080)"></i><i style="background:linear-gradient(90deg,#8f0000,#920000,#940000,#970000,#9a0000,#a00000,#a70000,#ae0000,#b40000,#c10000,#cf0000,#dc0000,#e90000,#f60000,#ff0400,#ff1200,#ff1f00,#ff4700,#ff6f00,#ff9700,#ffbf00,#ffed00,#e4ff1b,#b7ff48,#8aff75,#7dff82,#71ff8e,#64ff9b,#58ffa7,#51ffae,#4affb5,#44ffbb,#3dffc2,#23ffdc,#09fff6,#00edff,#00d1ff,#00a1ff,#0061ff,#0008ff,#00009e,#000080,#000080,#0000c6,#0018ff,#0048ff,#004aff,#0038ff,#0027ff,#0000fd,#0000da,#0000b9,#000099,#00008c,#000080,#000080,#000080,#000080,#000080,#000080,#000080,#000080,#000080,#000080,#000080,#000080,#000080,#000080,#000080,#000080,#000080,#000080,#000080,#000080,#000080,#000080,#000080,#000080,#000080,#000080,#000080)"></i><i style="background:linear-gradient(90deg,#8f0000,#920000,#940000,#970000,#990000,#9f0000,#a50000,#ab0000,#b10000,#bd0000,#c90000,#d50000,#e20000,#ee0000,#fa0000,#ff0700,#ff1400,#ff3500,#ff5700,#ff7800,#ff9a00,#ffc400,#ffef00,#e5ff1a,#baff45,#a8ff57,#96ff69,#84ff7b,#72ff8d,#69ff96,#5fffa0,#55ffaa,#4bffb4,#34ffcb,#1dffe2,#06fff9,#00eeff,#00c9ff,#009dff,#0063ff,#0011ff,#0000c7,#000093,#000099,#0000dc,#0038ff,#006eff,#0070ff,#0054ff,#001cff,#0000ef,#0000cc,#0000ae,#00009d,#00008d,#000080,#000080,#000080,#000080,#000080,#000080,#000080,#000080,#000080,#000080,#000080,#000080,#000080,#000080,#000080,#000080,#000080,#000080,#000080,#000080,#000080,#000080,#000080,#000080,#000080,#000080)"></i><i style="background:linear-gradient(90deg,#8f0000,#910000,#940000,#960000,#980000,#9d0000,#a30000,#a80000,#ad0000,#b80000,#c40000,#cf0000,#da0000,#e60000,#f10000,#fc0000,#ff0900,#ff2400,#ff3f00,#ff5a00,#ff7500,#ff9c00,#ffc300,#ffea00,#edff12,#d6ff29,#beff41,#a7ff58,#8fff70,#82ff7d,#75ff8a,#67ff98,#5affa5,#46ffb9,#33ffcc,#20ffdf,#0dfff2,#00ebff,#00caff,#00a4ff,#0074ff,#0041ff,#0002ff,#0000cd,#0000c5,#0000fa,#0049ff,#0081ff,#0086ff,#0053ff,#0018ff,#0000e9,#0000c6,#0000b0,#00009b,#000087,#000080,#000080,#000080,#000080,#000080,#000080,#000080,#000080,#000080,#000080,#000080,#000080,#000080,#000080,#000080,#000080,#000080,#000080,#000080,#000080,#000080,#000080,#000080,#000080,#000080)"></i><i style="background:linear-gradient(90deg,#8f0000,#910000,#930000,#950000,#980000,#9c0000,#a00000,#a50000,#a90000,#b40000,#be0000,#c90000,#d30000,#dd0000,#e80000,#f20000,#fd0000,#ff1300,#ff2700,#ff3c00,#ff5100,#ff7400,#ff9700,#ffbb00,#ffde00,#fffb00,#e6ff19,#c9ff36,#adff52,#9bff64,#8aff75,#79ff86,#68ff97,#59ffa6,#49ffb6,#39ffc6,#2affd5,#0dfff2,#00efff,#00d2ff,#00b2ff,#0093ff,#0068ff,#0034ff,#0004ff,#0000f4,#000cff,#0041ff,#0075ff,#0077ff,#0050ff,#0019ff,#0000e9,#0000c6,#0000ab,#000092,#000080,#000080,#000080,#000080,#000080,#000080,#000080,#000080,#000080,#000080,#000080,#000080,#000080,#000080,#000080,#000080,#000080,#000080,#000080,#000080,#000080,#000080,#000080,#000080,#000080)"></i><i style="background:linear-gradient(90deg,#8f0000,#910000,#930000,#950000,#970000,#9b0000,#9e0000,#a20000,#a60000,#b00000,#b90000,#c20000,#cc0000,#d50000,#df0000,#e80000,#f20000,#ff0300,#ff1300,#ff2300,#ff3300,#ff5300,#ff7200,#ff9200,#ffb200,#ffd200,#fff300,#eaff15,#caff35,#b6ff49,#a2ff5d,#8fff70,#7bff84,#6eff91,#60ff9f,#52ffad,#45ffba,#2bffd4,#11ffee,#00f7ff,#00ddff,#00c0ff,#00a1ff,#007cff,#0050ff,#002eff,#0011ff,#0008ff,#0021ff,#0046ff,#0058ff,#0044ff,#0017ff,#0000e5,#0000bf,#0000a1,#000086,#000080,#000080,#000080,#000080,#000080,#000080,#000080,#000080,#000080,#000080,#000080,#000080,#000080,#000080,#000080,#000080,#000080,#000080,#000080,#000080,#000080,#000080,#000080,#000080)"></i><i style="background:linear-gradient(90deg,#8f0000,#910000,#930000,#940000,#960000,#9a0000,#9d0000,#a00000,#a40000,#ac0000,#b40000,#bc0000,#c50000,#cd0000,#d60000,#de0000,#e70000,#f60000,#ff0600,#ff1600,#ff2500,#ff4100,#ff5d00,#ff7900,#ff9500,#ffb500,#ffd600,#fff700,#e7ff18,#d3ff2c,#bfff40,#acff53,#98ff67,#89ff76,#79ff86,#6aff95,#5affa5,#43ffbc,#2bffd4,#13ffec,#00faff,#00dbff,#00bcff,#009bff,#0078ff,#0060ff,#0041ff,#001aff,#0000f9,#0000f4,#0012ff,#002eff,#002cff,#0008ff,#0000dd,#0000ba,#00009d,#000091,#000085,#000080,#000080,#000080,#000080,#000080,#000080,#000080,#000080,#000080,#000080,#000080,#000080,#000080,#000080,#000080,#000080,#000080,#000080,#000080,#000080,#000080,#000080)"></i><i style="background:linear-gradient(90deg,#8f0000,#910000,#920000,#940000,#950000,#980000,#9c0000,#9f0000,#a20000,#a90000,#af0000,#b60000,#bd0000,#c50000,#cd0000,#d40000,#dc0000,#ea0000,#f90000,#ff0800,#ff1600,#ff2e00,#ff4700,#ff5f00,#ff7800,#ff9800,#ffb900,#ffda00,#fffa00,#f0ff0f,#dcff23,#c9ff36,#b5ff4a,#a4ff5b,#93ff6c,#81ff7e,#70ff8f,#5affa5,#44ffbb,#2effd1,#18ffe7,#00f5ff,#00d2ff,#00b0ff,#008dff,#007aff,#0064ff,#0045ff,#001bff,#0000ed,#0000d8,#0000e8,#0007ff,#000cff,#0000f6,#0000d6,#0000b7,#0000a4,#000094,#000085,#000080,#000080,#000080,#000080,#000080,#000080,#000080,#000080,#000080,#000080,#000080,#000080,#000080,#000080,#000080,#000080,#000080,#000080,#000080,#000080,#000080)"></i><i style="background:linear-gradient(90deg,#8f0000,#910000,#920000,#930000,#950000,#970000,#9a0000,#9d0000,#a00000,#a50000,#ab0000,#b00000,#b60000,#bd0000,#c40000,#ca0000,#d10000,#df0000,#ec0000,#f90000,#ff0800,#ff1c00,#ff3100,#ff4600,#ff5a00,#ff7b00,#ff9c00,#ffbd00,#ffdd00,#fff100,#faff05,#e6ff19,#d2ff2d,#bfff40,#acff53,#99ff66,#86ff79,#72ff8d,#5effa1,#4affb5,#35ffca,#0ffff0,#00e8ff,#00c2ff,#009cff,#0089ff,#0075ff,#005fff,#0042ff,#001dff,#0000ef,#0000d0,#0000d4,#0000e8,#0000f2,#0000e8,#0000d0,#0000b9,#0000a4,#000090,#000080,#000080,#000080,#000080,#000080,#000080,#000080,#000080,#000080,#000080,#000080,#000080,#000080,#000080,#000080,#000080,#000080,#000080,#000080,#000080,#000080)"></i><i style="background:linear-gradient(90deg,#8f0000,#900000,#920000,#930000,#940000,#970000,#990000,#9c0000,#9e0000,#a30000,#a80000,#ac0000,#b10000,#b80000,#be0000,#c50000,#cb0000,#d80000,#e40000,#f10000,#fd0000,#ff1100,#ff2300,#ff3500,#ff4800,#ff6700,#ff8600,#ffa600,#ffc500,#ffd900,#ffec00,#feff01,#eaff15,#d7ff28,#c3ff3c,#afff50,#9cff63,#86ff79,#70ff8f,#59ffa6,#43ffbc,#1dffe2,#00f6ff,#00d0ff,#00aaff,#0095ff,#0081ff,#006bff,#0055ff,#0041ff,#0022ff,#0000f8,#0000d7,#0000cd,#0000d9,#0000e4,#0000e0,#0000cf,#0000bb,#0000a7,#000094,#00008b,#000082,#000080,#000080,#000080,#000080,#000080,#000080,#000080,#000080,#000080,#000080,#000080,#000080,#000080,#000080,#000080,#000080,#000080,#000080)"></i><i style="background:linear-gradient(90deg,#8f0000,#900000,#920000,#930000,#940000,#960000,#980000,#9a0000,#9c0000,#a10000,#a50000,#a90000,#ae0000,#b40000,#bb0000,#c10000,#c80000,#d30000,#df0000,#ea0000,#f60000,#ff0700,#ff1800,#ff2900,#ff3900,#ff5700,#ff7400,#ff9200,#ffaf00,#ffc300,#ffd700,#ffea00,#fffe00,#ecff13,#d9ff26,#c5ff3a,#b2ff4d,#98ff67,#7eff81,#64ff9b,#4affb5,#26ffd9,#02fffd,#00ddff,#00b9ff,#00a2ff,#008bff,#0075ff,#005eff,#0050ff,#003eff,#0026ff,#0004ff,#0000e4,#0000d7,#0000dc,#0000e5,#0000e1,#0000d3,#0000c3,#0000b1,#0000a4,#000098,#00008b,#000080,#000080,#000080,#000080,#000080,#000080,#000080,#000080,#000080,#000080,#000080,#000080,#000080,#000080,#000080,#000080,#000080)"></i><i style="background:linear-gradient(90deg,#8f0000,#900000,#920000,#930000,#940000,#960000,#980000,#990000,#9b0000,#9f0000,#a20000,#a60000,#aa0000,#b10000,#b70000,#be0000,#c40000,#cf0000,#d90000,#e40000,#ef0000,#fd0000,#ff0d00,#ff1c00,#ff2a00,#ff4600,#ff6200,#ff7e00,#ff9a00,#ffad00,#ffc100,#ffd500,#ffe800,#fffc00,#efff10,#dbff24,#c7ff38,#aaff55,#8dff72,#6fff90,#52ffad,#2fffd0,#0dfff2,#00eaff,#00c7ff,#00afff,#0096ff,#007eff,#0065ff,#0058ff,#004bff,#003bff,#0027ff,#0010ff,#0000f8,#0000ec,#0000ed,#0000ed,#0000e8,#0000dd,#0000ce,#0000be,#0000ad,#00009d,#00008d,#000088,#000083,#000080,#000080,#000080,#000080,#000080,#000080,#000080,#000080,#000080,#000080,#000080,#000080,#000080,#000080)"></i></div>
<div class="p" style="left:28px;top:142px"><i style="background:linear-gradient(90deg,#8f0000,#900000,#920000,#930000,#940000,#960000,#970000,#980000,#9a0000,#9d0000,#a00000,#a30000,#a70000,#b10000,#bb0000,#c50000,#cf0000,#dc0000,#e90000,#f70000,#ff0500,#ff1800,#ff2b00,#ff3f00,#ff5200,#ff7900,#ffa000,#ffc700,#ffef00,#efff10,#ceff31,#adff52,#8dff72,#79ff86,#65ff9a,#52ffad,#3effc1,#38ffc7,#31ffce,#2affd5,#24ffdb,#24ffdb,#24ffdb,#23ffdc,#05fffa,#0080ff,#0057ff,#00f1ff,#32ffcd,#36ffc9,#35ffca,#34ffcb,#33ffcc,#33ffcc,#33ffcc,#33ffcc,#33ffcc,#34ffcb,#36ffc9,#37ffc8,#39ffc6,#39ffc6,#39ffc6,#3affc5,#3affc5,#34ffcb,#2dffd2,#27ffd8,#20ffdf,#20ffdf,#20ffdf,#20ffdf,#20ffdf,#2dffd2,#a8ff57,#61ff9e,#3bffc4,#3affc5,#3affc5,#3affc5,#3affc5)"></i><i style="background:linear-gradient(90deg,#8f0000,#900000,#920000,#930000,#940000,#960000,#970000,#980000,#9a0000,#9d0000,#a00000,#a30000,#a70000,#b10000,#bb0000,#c60000,#d00000,#de0000,#ec0000,#fa0000,#ff0900,#ff1b00,#ff2d00,#ff3f00,#ff5200,#ff7900,#ffa000,#ffc700,#ffef00,#efff10,#ceff31,#adff52,#8dff72,#79ff86,#65ff9a,#52ffad,#3effc1,#38ffc7,#31ffce,#2affd5,#24ffdb,#24ffdb,#24ffdb,#23ffdc,#0afff5,#0060ff,#0000cb,#0098ff,#1bffe4,#25ffda,#23ffdc,#20ffdf,#1cffe3,#1bffe4,#19ffe6,#17ffe8,#15ffea,#18ffe7,#1cffe3,#21ffde,#28ffd7,#2affd5,#2cffd3,#2effd1,#30ffcf,#2bffd4,#25ffda,#1fffe0,#16ffe9,#0ffff0,#05fffa,#00ffff,#05fffa,#1cffe3,#abff54,#5effa1,#31ffce,#2cffd3,#28ffd7,#28ffd7,#2cffd3)"></i><i style="background:linear-gradient(90deg,#8f0000,#900000,#920000,#930000,#940000,#960000,#970000,#980000,#9a0000,#9d0000,#a00000,#a30000,#a70000,#b10000,#bc0000,#c70000,#d20000,#e00000,#ee0000,#fd0000,#ff0c00,#ff1e00,#ff2f00,#ff4000,#ff5200,#ff7900,#ffa000,#ffc700,#ffef00,#efff10,#ceff31,#adff52,#8dff72,#79ff86,#65ff9a,#52ffad,#3effc1,#38ffc7,#31ffce,#2affd5,#24ffdb,#24ffdb,#24ffdb,#24ffdb,#16ffe9,#0092ff,#0000c4,#0057ff,#00feff,#13ffec,#0dfff2,#05fffa,#00f9ff,#00f0ff,#00e5ff,#00d9ff,#00ceff,#00d1ff,#00daff,#00e9ff,#00fcff,#09fff6,#14ffeb,#1dffe2,#23ffdc,#20ffdf,#1bffe4,#12ffed,#00faff,#00ceff,#0090ff,#0070ff,#0090ff,#00ddff,#9eff61,#51ffae,#14ffeb,#00f0ff,#00cfff,#00cfff,#00f0ff)"></i><i style="background:linear-gradient(90deg,#8f0000,#900000,#920000,#930000,#940000,#960000,#970000,#980000,#9a0000,#9d0000,#a00000,#a30000,#a70000,#b20000,#bd0000,#c80000,#d30000,#e20000,#f10000,#ff0100,#ff1000,#ff2000,#ff3100,#ff4100,#ff5200,#ff7900,#ffa000,#ffc700,#ffef00,#efff10,#ceff31,#adff52,#8dff72,#79ff86,#65ff9a,#52ffad,#3effc1,#38ffc7,#31ffce,#2affd5,#24ffdb,#24ffdb,#24ffdb,#24ffdb,#1fffe0,#00ddff,#0040ff,#0067ff,#00e6ff,#00f7ff,#00e6ff,#00cdff,#00acff,#008aff,#0068ff,#004bff,#003bff,#004aff,#006aff,#0094ff,#00c2ff,#00dfff,#00f4ff,#03fffc,#0bfff4,#08fff7,#04fffb,#00fbff,#00e0ff,#00a7ff,#0054ff,#002bff,#0058ff,#00bdff,#98ff67,#44ffbb,#00eaff,#0098ff,#004aff,#004aff,#0098ff)"></i><i style="background:linear-gradient(90deg,#8f0000,#900000,#920000,#930000,#940000,#960000,#970000,#980000,#9a0000,#9d0000,#a10000,#a40000,#a70000,#b30000,#be0000,#ca0000,#d50000,#e40000,#f20000,#ff0200,#ff1000,#ff2000,#ff2f00,#ff3f00,#ff4e00,#ff7700,#ff9f00,#ffc700,#ffef00,#f0ff0f,#d1ff2e,#b2ff4d,#93ff6c,#7fff80,#6cff93,#58ffa7,#45ffba,#3effc1,#38ffc7,#31ffce,#2affd5,#2affd5,#2affd5,#2affd5,#29ffd6,#1bffe4,#00daff,#00d1ff,#0cfff3,#00fdff,#00ceff,#0091ff,#004aff,#0012ff,#0000e4,#0000ce,#0000d6,#0000ff,#0039ff,#0072ff,#00a1ff,#00b7ff,#00bfff,#00bcff,#00b7ff,#00b1ff,#00b2ff,#00b9ff,#00bfff,#00c2ff,#00bbff,#00bdff,#00d3ff,#00feff,#baff45,#54ffab,#02fffd,#00c9ff,#0093ff,#0093ff,#00c9ff)"></i><i style="background:linear-gradient(90deg,#8f0000,#900000,#920000,#930000,#940000,#960000,#970000,#980000,#9a0000,#9d0000,#a10000,#a40000,#a80000,#b40000,#c00000,#cc0000,#d70000,#e50000,#f30000,#ff0200,#ff1000,#ff1f00,#ff2e00,#ff3c00,#ff4b00,#ff7400,#ff9d00,#ffc600,#ffef00,#f2ff0d,#d5ff2a,#b8ff47,#9aff65,#87ff78,#73ff8c,#60ff9f,#4cffb3,#45ffba,#3fffc0,#38ffc7,#32ffcd,#32ffcd,#32ffcd,#31ffce,#30ffcf,#39ffc6,#30ffcf,#29ffd6,#35ffca,#05fffa,#00c0ff,#0072ff,#0026ff,#0000fd,#0000ed,#0000f8,#001aff,#004aff,#0077ff,#0094ff,#009aff,#0089ff,#0068ff,#0043ff,#0027ff,#001aff,#0022ff,#003fff,#0066ff,#0096ff,#00c0ff,#00dfff,#00ecff,#00f7ff,#a8ff57,#50ffaf,#21ffde,#1dffe2,#13ffec,#14ffeb,#1effe1)"></i><i style="background:linear-gradient(90deg,#8f0000,#900000,#920000,#930000,#940000,#960000,#970000,#980000,#9a0000,#9d0000,#a10000,#a50000,#a90000,#b50000,#c10000,#cd0000,#da0000,#e70000,#f40000,#ff0300,#ff1000,#ff1e00,#ff2c00,#ff3900,#ff4700,#ff7100,#ff9b00,#ffc500,#ffef00,#f4ff0b,#d8ff27,#bdff42,#a2ff5d,#8eff71,#7aff85,#67ff98,#53ffac,#4dffb2,#46ffb9,#40ffbf,#39ffc6,#39ffc6,#39ffc6,#38ffc7,#36ffc9,#4bffb4,#5bffa4,#65ff9a,#6eff91,#36ffc9,#00f7ff,#00baff,#0085ff,#007eff,#0087ff,#009bff,#00b4ff,#00c7ff,#00cfff,#00c8ff,#00afff,#008aff,#005bff,#002eff,#000dff,#0000fe,#000aff,#002bff,#0059ff,#0090ff,#00bfff,#00d6ff,#00bbff,#007fff,#1fffe0,#00fdff,#12ffed,#31ffce,#37ffc8,#37ffc8,#38ffc7)"></i><i style="background:linear-gradient(90deg,#8f0000,#900000,#920000,#930000,#940000,#960000,#970000,#980000,#9a0000,#9e0000,#a10000,#a50000,#a90000,#b60000,#c20000,#cf0000,#db0000,#e80000,#f50000,#ff0300,#ff1000,#ff1d00,#ff2a00,#ff3700,#ff4400,#ff6e00,#ff9800,#ffc200,#ffec00,#f8ff07,#deff21,#c5ff3a,#abff54,#97ff68,#84ff7b,#70ff8f,#5dffa2,#56ffa9,#50ffaf,#49ffb6,#42ffbd,#44ffbb,#45ffba,#46ffb9,#47ffb8,#67ff98,#85ff7a,#a0ff5f,#bbff44,#86ff79,#51ffae,#1fffe0,#00f1ff,#00f3ff,#00f9ff,#01fffe,#07fff8,#05fffa,#00fdff,#00f1ff,#00deff,#00cbff,#00b6ff,#00a1ff,#0092ff,#008cff,#0092ff,#00a2ff,#00b8ff,#00d6ff,#00efff,#00f6ff,#00d0ff,#008dff,#2cffd3,#09fff6,#1cffe3,#3cffc3,#42ffbd,#42ffbd,#42ffbd)"></i><i style="background:linear-gradient(90deg,#8f0000,#900000,#920000,#930000,#940000,#960000,#970000,#980000,#9a0000,#9e0000,#a10000,#a50000,#a90000,#b60000,#c20000,#cf0000,#db0000,#e80000,#f50000,#ff0300,#ff1000,#ff1c00,#ff2800,#ff3400,#ff4000,#ff6900,#ff9300,#ffbc00,#ffe500,#fffd00,#e9ff16,#d1ff2e,#baff45,#a6ff59,#92ff6d,#7fff80,#6bff94,#65ff9a,#5effa1,#58ffa7,#51ffae,#58ffa7,#5fffa0,#66ff99,#6cff93,#93ff6c,#baff45,#e0ff1f,#fff800,#c8ff37,#8bff74,#4dffb2,#10ffef,#0cfff3,#07fff8,#00ffff,#00f7ff,#00f2ff,#00efff,#00eeff,#00f1ff,#00f5ff,#00f9ff,#00fbff,#00fbff,#00f4ff,#00e9ff,#00e0ff,#00e2ff,#00f4ff,#0bfff4,#1affe5,#19ffe6,#1cffe3,#ceff31,#73ff8c,#49ffb6,#50ffaf,#51ffae,#51ffae,#51ffae)"></i><i style="background:linear-gradient(90deg,#8f0000,#900000,#920000,#930000,#940000,#960000,#970000,#980000,#9a0000,#9e0000,#a10000,#a50000,#a90000,#b60000,#c20000,#cf0000,#db0000,#e80000,#f50000,#ff0300,#ff1000,#ff1b00,#ff2600,#ff3100,#ff3c00,#ff6500,#ff8d00,#ffb600,#ffde00,#fff400,#f4ff0b,#deff21,#c8ff37,#b5ff4a,#a1ff5e,#8dff72,#7aff85,#73ff8c,#6dff92,#66ff99,#60ff9f,#6cff93,#79ff86,#85ff7a,#91ff6e,#bfff40,#ecff13,#ffe500,#ffb900,#f8ff07,#a9ff56,#57ffa8,#00ffff,#00eaff,#00cfff,#00b1ff,#0096ff,#008fff,#0098ff,#00aeff,#00cdff,#00eaff,#03fffc,#11ffee,#0ffff0,#00edff,#00b2ff,#0077ff,#0069ff,#0095ff,#00d9ff,#0efff1,#26ffd9,#40ffbf,#faff05,#96ff69,#60ff9f,#5fffa0,#60ff9f,#60ff9f,#60ff9f)"></i><i style="background:linear-gradient(90deg,#8f0000,#900000,#920000,#930000,#940000,#960000,#970000,#980000,#9a0000,#9e0000,#a10000,#a50000,#a90000,#b60000,#c20000,#cf0000,#db0000,#e80000,#f50000,#ff0300,#ff1000,#ff1a00,#ff2500,#ff2f00,#ff3900,#ff6000,#ff8800,#ffaf00,#ffd700,#ffeb00,#ffff00,#ebff14,#d7ff28,#c3ff3c,#afff50,#9cff63,#88ff77,#82ff7d,#7bff84,#75ff8a,#6eff91,#80ff7f,#92ff6d,#a4ff5b,#b6ff49,#e9ff16,#ffe300,#ffb100,#ff8000,#ffe100,#b5ff4a,#44ffbb,#00c4ff,#008eff,#0050ff,#0017ff,#0000f1,#0000fe,#002cff,#006bff,#00afff,#00e4ff,#0afff5,#1fffe0,#20ffdf,#00feff,#00c3ff,#0088ff,#0079ff,#00a3ff,#00e4ff,#0cfff3,#05fffa,#16ffe9,#e7ff18,#9dff62,#6eff91,#6eff91,#6eff91,#6eff91,#6eff91)"></i><i style="background:linear-gradient(90deg,#8f0000,#900000,#920000,#930000,#940000,#960000,#970000,#980000,#9a0000,#9e0000,#a10000,#a50000,#a90000,#b60000,#c20000,#cf0000,#db0000,#e80000,#f50000,#ff0300,#ff1000,#ff1a00,#ff2400,#ff2e00,#ff3800,#ff5e00,#ff8300,#ffa900,#ffcf00,#ffe200,#fff400,#f8ff07,#e5ff1a,#d4ff2b,#c3ff3c,#b2ff4d,#a1ff5e,#9cff63,#96ff69,#91ff6e,#8cff73,#a3ff5c,#bbff44,#d2ff2d,#eaff15,#ffe500,#ffb700,#ff8900,#ff5f00,#ffc200,#ceff31,#50ffaf,#00c0ff,#0073ff,#002aff,#0000f6,#0000e9,#0016ff,#005cff,#00a9ff,#00ecff,#18ffe7,#32ffcd,#40ffbf,#48ffb7,#48ffb7,#41ffbe,#39ffc6,#3affc5,#43ffbc,#4effb1,#33ffcc,#00cbff,#00b6ff,#c7ff38,#b7ff48,#95ff6a,#96ff69,#96ff69,#96ff69,#96ff69)"></i><i style="background:linear-gradient(90deg,#8f0000,#900000,#920000,#930000,#940000,#960000,#970000,#980000,#9a0000,#9e0000,#a10000,#a50000,#a90000,#b60000,#c20000,#cf0000,#db0000,#e80000,#f50000,#ff0300,#ff1000,#ff1a00,#ff2400,#ff2e00,#ff3800,#ff5c00,#ff8000,#ffa400,#ffc800,#ffd900,#ffe900,#fffa00,#f4ff0b,#e6ff19,#d9ff26,#cbff34,#beff41,#bbff44,#b7ff48,#b4ff4b,#b0ff4f,#cdff32,#eaff15,#fff700,#ffda00,#ffb300,#ff8c00,#ff6700,#ff4500,#ff9c00,#fffe00,#93ff6c,#1effe1,#00e3ff,#00b6ff,#00a1ff,#00a6ff,#00d1ff,#02fffd,#2dffd2,#4bffb4,#50ffaf,#3fffc0,#33ffcc,#44ffbb,#68ff97,#7eff81,#89ff76,#93ff6c,#96ff69,#95ff6a,#72ff8d,#09fff6,#00eeff,#f3ff0c,#e8ff17,#c8ff37,#c9ff36,#c9ff36,#c9ff36,#c9ff36)"></i><i style="background:linear-gradient(90deg,#8f0000,#900000,#920000,#930000,#940000,#960000,#970000,#980000,#9a0000,#9e0000,#a10000,#a50000,#a90000,#b60000,#c20000,#cf0000,#db0000,#e80000,#f50000,#ff0300,#ff1000,#ff1a00,#ff2400,#ff2e00,#ff3800,#ff5a00,#ff7c00,#ff9f00,#ffc100,#ffd000,#ffde00,#ffed00,#fffc00,#f8ff07,#efff10,#e5ff1a,#dbff24,#d9ff26,#d8ff27,#d6ff29,#d4ff2b,#f7ff08,#ffe500,#ffc300,#ffa000,#ff8000,#ff6000,#ff4200,#ff2600,#ff6900,#ffb000,#fffb00,#b8ff47,#97ff68,#7fff80,#70ff8f,#69ff96,#78ff87,#85ff7a,#8eff71,#8aff75,#5effa1,#02fffd,#00c7ff,#00faff,#64ff9b,#9fff60,#b8ff47,#c8ff37,#cdff32,#d1ff2e,#caff35,#afff50,#b1ff4e,#ff9f00,#ffdb00,#fcff03,#fcff03,#fcff03,#fcff03,#fcff03)"></i><i style="background:linear-gradient(90deg,#8f0000,#900000,#920000,#930000,#940000,#960000,#970000,#980000,#9a0000,#9e0000,#a10000,#a50000,#a90000,#b60000,#c20000,#cf0000,#db0000,#e80000,#f50000,#ff0300,#ff1000,#ff1a00,#ff2400,#ff2d00,#ff3700,#ff5800,#ff7800,#ff9800,#ffb900,#ffc600,#ffd300,#ffdf00,#ffec00,#fff300,#fff900,#ffff00,#f8ff07,#f8ff07,#f8ff07,#f8ff07,#f8ff07,#ffdf00,#ffb800,#ff9100,#ff6a00,#ff5000,#ff3700,#ff1e00,#ff0600,#ff3500,#ff6600,#ff9600,#ffc600,#ffe100,#fffb00,#ebff14,#d4ff2b,#d3ff2c,#d1ff2e,#ceff31,#c1ff3e,#8fff70,#2dffd2,#00ecff,#1bffe4,#87ff78,#c6ff39,#e3ff1c,#f8ff07,#fffd00,#fff500,#fff100,#ffee00,#ffe200,#ff5e00,#ffa600,#ffce00,#ffcf00,#ffcf00,#ffcf00,#ffcf00)"></i><i style="background:linear-gradient(90deg,#8f0000,#900000,#920000,#930000,#940000,#960000,#970000,#980000,#9a0000,#9e0000,#a10000,#a50000,#a90000,#b50000,#c10000,#cd0000,#d90000,#e60000,#f20000,#ff0000,#ff0c00,#ff1600,#ff2000,#ff2a00,#ff3400,#ff5100,#ff6f00,#ff8d00,#ffaa00,#ffb400,#ffbf00,#ffc900,#ffd300,#ffd800,#ffde00,#ffe300,#ffe900,#ffe900,#ffe900,#ffe900,#ffe900,#ffc400,#ff9e00,#ff7900,#ff5400,#ff3f00,#ff2a00,#ff1500,#ff0000,#ff2500,#ff4a00,#ff7000,#ff9600,#ffb800,#ffdc00,#fff900,#edff12,#f8ff07,#fffd00,#fff300,#ffeb00,#fbff04,#d3ff2c,#b0ff4f,#acff53,#d2ff2d,#ecff13,#feff01,#ffee00,#ffda00,#ffcb00,#ffc500,#ffbe00,#ffae00,#ff3500,#ff7200,#ff9300,#ff9600,#ff9800,#ff9a00,#ff9c00)"></i><i style="background:linear-gradient(90deg,#8f0000,#900000,#920000,#930000,#940000,#960000,#970000,#980000,#9a0000,#9e0000,#a10000,#a50000,#a90000,#b50000,#c10000,#cc0000,#d80000,#e40000,#f00000,#fc0000,#ff0900,#ff1300,#ff1c00,#ff2600,#ff3000,#ff4b00,#ff6600,#ff8100,#ff9c00,#ffa300,#ffab00,#ffb200,#ffb900,#ffbe00,#ffc300,#ffc700,#ffcc00,#ffcc00,#ffcc00,#ffcc00,#ffcc00,#ffa800,#ff8500,#ff6200,#ff3e00,#ff2e00,#ff1d00,#ff0c00,#fb0000,#ff1800,#ff3500,#ff5300,#ff7600,#ffac00,#ffe700,#f6ff09,#eeff11,#ffea00,#ffcd00,#ffb300,#ff9700,#ffa600,#ffbe00,#ffdd00,#fffd00,#fff800,#fff000,#ffe500,#ffd300,#ffac00,#ff9200,#ff9400,#ff9000,#ff7c00,#ff0600,#ff3400,#ff5300,#ff5d00,#ff6100,#ff6400,#ff6900)"></i><i style="background:linear-gradient(90deg,#8f0000,#900000,#920000,#930000,#940000,#960000,#970000,#980000,#9a0000,#9e0000,#a10000,#a50000,#a90000,#b50000,#c00000,#cb0000,#d70000,#e20000,#ed0000,#f90000,#ff0500,#ff0f00,#ff1900,#ff2300,#ff2c00,#ff4500,#ff5d00,#ff7500,#ff8d00,#ff9200,#ff9700,#ff9b00,#ffa000,#ffa400,#ffa700,#ffab00,#ffaf00,#ffaf00,#ffaf00,#ffaf00,#ffaf00,#ff8d00,#ff6c00,#ff4a00,#ff2800,#ff1c00,#ff1000,#ff0400,#f70000,#ff0c00,#ff2100,#ff3800,#ff5c00,#ffb000,#efff10,#caff35,#e0ff1f,#ffd100,#ff9d00,#ff6e00,#ff3e00,#ff4c00,#ff6a00,#ff9600,#ffc700,#ffcf00,#ffd000,#ffca00,#ffb300,#ff6e00,#ff4500,#ff5800,#ff6000,#ff4500,#c10000,#da0000,#ff0600,#ff2100,#ff2600,#ff2600,#ff3200)"></i><i style="background:linear-gradient(90deg,#8f0000,#900000,#920000,#930000,#940000,#960000,#970000,#980000,#9a0000,#9d0000,#a10000,#a50000,#a90000,#b40000,#bf0000,#ca0000,#d50000,#e00000,#eb0000,#f60000,#ff0100,#ff0b00,#ff1500,#ff1f00,#ff2900,#ff3d00,#ff5200,#ff6700,#ff7b00,#ff7e00,#ff8200,#ff8500,#ff8800,#ff8b00,#ff8e00,#ff9100,#ff9300,#ff9300,#ff9300,#ff9300,#ff9300,#ff7500,#ff5700,#ff3800,#ff1a00,#ff1100,#ff0800,#fe0000,#f50000,#ff0500,#ff1300,#ff2500,#ff4500,#ffa500,#ecff13,#c1ff3e,#dbff24,#ffc400,#ff7f00,#ff3e00,#f90000,#ff0600,#ff2800,#ff6200,#ffa400,#ffb600,#ffbd00,#ffb800,#ff9700,#ff3100,#fa0000,#ff2e00,#ff4a00,#ff2700,#870000,#880000,#d70000,#ff0e00,#ff0b00,#f80000,#ff1700)"></i><i style="background:linear-gradient(90deg,#8e0000,#900000,#910000,#930000,#940000,#960000,#970000,#980000,#9a0000,#9d0000,#a10000,#a50000,#a80000,#b30000,#bd0000,#c80000,#d30000,#dd0000,#e80000,#f20000,#fd0000,#ff0800,#ff1100,#ff1b00,#ff2500,#ff3500,#ff4500,#ff5500,#ff6500,#ff6900,#ff6c00,#ff6f00,#ff7200,#ff7400,#ff7600,#ff7800,#ff7a00,#ff7a00,#ff7a00,#ff7a00,#ff7a00,#ff6000,#ff4600,#ff2c00,#ff1300,#ff0b00,#ff0400,#fc0000,#f50000,#ff0100,#ff0c00,#ff1900,#ff2e00,#ff7e00,#ffd600,#f6ff09,#ecff13,#ffbf00,#ff7700,#ff2800,#d10000,#da0000,#ff0100,#ff4500,#ff9400,#ffad00,#ffb700,#ffb100,#ff8400,#ff0900,#cc0000,#ff1f00,#ff5300,#ff2a00,#800000,#800000,#d70000,#ff2800,#ff0f00,#d70000,#ff1700)"></i><i style="background:linear-gradient(90deg,#8d0000,#8f0000,#910000,#930000,#940000,#960000,#970000,#980000,#9a0000,#9d0000,#a10000,#a40000,#a80000,#b20000,#bc0000,#c60000,#d00000,#db0000,#e50000,#ef0000,#f90000,#ff0400,#ff0e00,#ff1800,#ff2100,#ff2d00,#ff3800,#ff4400,#ff5000,#ff5300,#ff5600,#ff5900,#ff5d00,#ff5e00,#ff5f00,#ff6000,#ff6100,#ff6100,#ff6100,#ff6100,#ff6100,#ff4b00,#ff3600,#ff2100,#ff0b00,#ff0600,#ff0100,#fa0000,#f50000,#fc0000,#ff0500,#ff0c00,#ff1700,#ff5900,#ff9d00,#ffd600,#fdff02,#ffbd00,#ff7200,#ff1900,#b60000,#bf0000,#e80000,#ff3500,#ff8d00,#ffa800,#ffb200,#ffab00,#ff7b00,#fe0000,#c60000,#ff2400,#ff6000,#ff3a00,#870000,#800000,#f30000,#ff4700,#ff1a00,#c80000,#ff1f00)"></i><i style="background:linear-gradient(90deg,#8d0000,#8f0000,#910000,#920000,#940000,#960000,#970000,#980000,#9a0000,#9d0000,#a00000,#a40000,#a70000,#b10000,#ba0000,#c40000,#ce0000,#d80000,#e20000,#ec0000,#f60000,#ff0000,#ff0a00,#ff1400,#ff1e00,#ff2500,#ff2c00,#ff3300,#ff3a00,#ff3d00,#ff4000,#ff4400,#ff4700,#ff4700,#ff4700,#ff4700,#ff4700,#ff4700,#ff4700,#ff4700,#ff4700,#ff3600,#ff2600,#ff1500,#ff0400,#ff0100,#fc0000,#f90000,#f50000,#f90000,#fc0000,#ff0100,#ff0500,#ff4700,#ff8900,#ffc900,#f8ff07,#ffc200,#ff7300,#ff1500,#ad0000,#bb0000,#e80000,#ff3700,#ff9000,#ffa800,#ffb000,#ffa700,#ff7c00,#ff1a00,#ee0000,#ff3e00,#ff7300,#ff5c00,#d60000,#cb0000,#ff3300,#ff6f00,#ff4500,#fd0000,#ff4600)"></i><i style="background:linear-gradient(90deg,#8d0000,#8e0000,#900000,#920000,#940000,#950000,#960000,#980000,#990000,#9c0000,#a00000,#a30000,#a60000,#af0000,#b80000,#c20000,#cb0000,#d40000,#dd0000,#e60000,#ef0000,#f80000,#ff0300,#ff0d00,#ff1700,#ff1c00,#ff2100,#ff2600,#ff2a00,#ff2e00,#ff3100,#ff3400,#ff3800,#ff3800,#ff3800,#ff3800,#ff3800,#ff3800,#ff3800,#ff3800,#ff3800,#ff2a00,#ff1d00,#ff1000,#ff0300,#ff0100,#fd0000,#fb0000,#f80000,#fb0000,#fd0000,#ff0100,#ff0300,#ff4500,#ff8600,#ffc700,#f8ff07,#ffce00,#ff8d00,#ff3f00,#e80000,#f70000,#ff2100,#ff6400,#ffb200,#ffc000,#ffc100,#ffae00,#ff8300,#ff4000,#ff2000,#ff4f00,#ff6e00,#ff6500,#ff1400,#ff1800,#ff5d00,#ff8300,#ff7000,#ff4d00,#ff7400)"></i><i style="background:linear-gradient(90deg,#8d0000,#8e0000,#900000,#910000,#930000,#940000,#960000,#970000,#980000,#9c0000,#9f0000,#a20000,#a50000,#ae0000,#b60000,#bf0000,#c70000,#cf0000,#d70000,#df0000,#e70000,#f10000,#fb0000,#ff0600,#ff1000,#ff1300,#ff1600,#ff1900,#ff1c00,#ff1f00,#ff2300,#ff2600,#ff2900,#ff2900,#ff2900,#ff2900,#ff2900,#ff2900,#ff2900,#ff2900,#ff2900,#ff2000,#ff1600,#ff0d00,#ff0300,#ff0200,#ff0000,#fe0000,#fc0000,#fe0000,#ff0000,#ff0200,#ff0300,#ff4500,#ff8600,#ffc700,#f7ff08,#ffde00,#ffad00,#ff7300,#ff3200,#ff4300,#ff6600,#ff9c00,#ffde00,#ffef00,#fff300,#ffc800,#ff8c00,#ff5e00,#ff4800,#ff5b00,#ff6400,#ff6000,#ff2100,#ff2800,#ff6b00,#ff9000,#ff9200,#ff8a00,#ff9900)"></i><i style="background:linear-gradient(90deg,#8d0000,#8e0000,#8f0000,#910000,#920000,#940000,#950000,#960000,#980000,#9b0000,#9e0000,#a10000,#a50000,#ac0000,#b40000,#bc0000,#c30000,#cb0000,#d20000,#d90000,#e00000,#ea0000,#f40000,#fe0000,#ff0800,#ff0a00,#ff0b00,#ff0c00,#ff0d00,#ff1100,#ff1400,#ff1700,#ff1b00,#ff1b00,#ff1b00,#ff1b00,#ff1b00,#ff1b00,#ff1b00,#ff1b00,#ff1b00,#ff1500,#ff0f00,#ff0900,#ff0300,#ff0300,#ff0200,#ff0100,#ff0100,#ff0100,#ff0200,#ff0300,#ff0300,#ff4500,#ff8600,#ffc700,#f4ff0b,#fff100,#ffd700,#ffaf00,#ff7e00,#ff8c00,#ffa800,#ffd200,#eeff11,#c4ff3b,#aaff55,#fffe00,#ff9500,#ff6700,#ff5300,#ff5700,#ff5600,#ff4c00,#fd0000,#fd0000,#ff6000,#ffa000,#ffb500,#ffb900,#ffba00)"></i><i style="background:linear-gradient(90deg,#8d0000,#8e0000,#8f0000,#900000,#920000,#930000,#940000,#960000,#970000,#9a0000,#9d0000,#a10000,#a40000,#ab0000,#b20000,#b90000,#c00000,#c60000,#cd0000,#d30000,#da0000,#e30000,#ec0000,#f60000,#ff0000,#ff0000,#ff0000,#ff0000,#ff0000,#ff0300,#ff0700,#ff0a00,#ff0d00,#ff0d00,#ff0d00,#ff0d00,#ff0d00,#ff0d00,#ff0e00,#ff0e00,#ff0e00,#ff0b00,#ff0900,#ff0600,#ff0300,#ff0400,#ff0400,#ff0400,#ff0400,#ff0400,#ff0400,#ff0400,#ff0400,#ff4300,#ff8200,#ffc200,#f7ff08,#f9ff06,#f8ff07,#ffed00,#ffbb00,#ffbd00,#ffd000,#fff000,#d3ff2c,#93ff6c,#66ff99,#dfff20,#ff8b00,#ff4b00,#ff3200,#ff3c00,#ff3f00,#ff3200,#d40000,#ce0000,#ff5700,#ffc600,#fffc00,#fbff04,#ffe600)"></i><i style="background:linear-gradient(90deg,#8d0000,#8e0000,#8f0000,#900000,#920000,#930000,#940000,#960000,#970000,#9a0000,#9d0000,#a00000,#a30000,#a90000,#b00000,#b60000,#bc0000,#c20000,#c80000,#ce0000,#d40000,#dc0000,#e40000,#ec0000,#f40000,#f40000,#f40000,#f40000,#f40000,#f70000,#fb0000,#fe0000,#ff0200,#ff0200,#ff0200,#ff0200,#ff0200,#ff0300,#ff0500,#ff0600,#ff0700,#ff0600,#ff0500,#ff0400,#ff0300,#ff0400,#ff0600,#ff0700,#ff0800,#ff0800,#ff0800,#ff0800,#ff0800,#ff3f00,#ff7600,#ffae00,#fff200,#f6ff09,#d7ff28,#eaff15,#ffcd00,#ffbb00,#ffc600,#ffdf00,#eeff11,#c1ff3e,#a3ff5c,#ffec00,#ff5a00,#ff0100,#de0000,#ff0200,#ff1b00,#ff1400,#c30000,#c00000,#ff4800,#ffd200,#d6ff29,#d1ff2e,#ffeb00)"></i><i style="background:linear-gradient(90deg,#8d0000,#8e0000,#8f0000,#900000,#920000,#930000,#940000,#960000,#970000,#9a0000,#9d0000,#a00000,#a20000,#a80000,#ad0000,#b30000,#b90000,#be0000,#c40000,#ca0000,#cf0000,#d60000,#dc0000,#e30000,#e90000,#e90000,#e90000,#e90000,#e90000,#ec0000,#f00000,#f30000,#f60000,#f60000,#f60000,#f60000,#f60000,#f80000,#fa0000,#fd0000,#ff0000,#ff0100,#ff0100,#ff0200,#ff0300,#ff0500,#ff0700,#ff0a00,#ff0c00,#ff0c00,#ff0c00,#ff0c00,#ff0c00,#ff3a00,#ff6900,#ff9a00,#ffdb00,#fcff03,#c8ff37,#d9ff26,#ffd100,#ffaf00,#ffb400,#ffc800,#ffe900,#ffe900,#ffe100,#ff9400,#ff1f00,#b20000,#860000,#c40000,#f70000,#ff0000,#d20000,#d40000,#ff2800,#ff8300,#ffbf00,#ffc200,#ff9100)"></i><i style="background:linear-gradient(90deg,#8d0000,#8e0000,#8f0000,#900000,#920000,#930000,#940000,#960000,#970000,#9a0000,#9c0000,#9f0000,#a20000,#a70000,#ab0000,#b00000,#b50000,#ba0000,#c00000,#c50000,#ca0000,#cf0000,#d40000,#d90000,#de0000,#de0000,#de0000,#de0000,#de0000,#e20000,#e50000,#e80000,#eb0000,#eb0000,#eb0000,#eb0000,#eb0000,#ee0000,#f10000,#f40000,#f70000,#fa0000,#fd0000,#ff0100,#ff0300,#ff0600,#ff0900,#ff0c00,#ff0f00,#ff0f00,#ff0f00,#ff0f00,#ff0f00,#ff3600,#ff5c00,#ff8500,#ffbb00,#ffdd00,#f3ff0c,#fffd00,#ffb400,#ff9800,#ff9c00,#ffae00,#ffc500,#ffa800,#ff8900,#ff5200,#f50000,#8a0000,#800000,#a00000,#da0000,#e90000,#d60000,#d70000,#f30000,#ff0f00,#ff2000,#ff2100,#ff1400)"></i><i style="background:linear-gradient(90deg,#8c0000,#8d0000,#8f0000,#900000,#910000,#930000,#940000,#950000,#970000,#990000,#9c0000,#9e0000,#a00000,#a50000,#a90000,#ad0000,#b10000,#b60000,#bb0000,#c00000,#c50000,#c90000,#cd0000,#d20000,#d60000,#d60000,#d50000,#d50000,#d40000,#d70000,#da0000,#dd0000,#e00000,#e10000,#e20000,#e20000,#e30000,#e60000,#e80000,#eb0000,#ee0000,#f10000,#f50000,#f90000,#fd0000,#ff0300,#ff0900,#ff0e00,#ff1300,#ff1400,#ff1500,#ff1700,#ff1800,#ff3600,#ff5500,#ff7400,#ff9b00,#ffa800,#ffbb00,#ffac00,#ff7b00,#ff7100,#ff7900,#ff8a00,#ff9c00,#ff7a00,#ff5700,#ff2e00,#e80000,#990000,#800000,#a50000,#ce0000,#da0000,#d40000,#d50000,#dc0000,#e00000,#e20000,#e20000,#e00000)"></i><i style="background:linear-gradient(90deg,#8b0000,#8d0000,#8e0000,#8f0000,#910000,#920000,#930000,#940000,#960000,#980000,#9a0000,#9d0000,#9f0000,#a30000,#a60000,#aa0000,#ae0000,#b20000,#b60000,#bb0000,#bf0000,#c30000,#c70000,#cb0000,#cf0000,#ce0000,#cd0000,#cc0000,#cb0000,#ce0000,#d00000,#d30000,#d60000,#d70000,#d90000,#da0000,#dc0000,#dd0000,#df0000,#e10000,#e30000,#e70000,#ec0000,#f10000,#f60000,#fe0000,#ff0700,#ff0f00,#ff1700,#ff1a00,#ff1d00,#ff2000,#ff2300,#ff3900,#ff4f00,#ff6600,#ff7f00,#ff7800,#ff7400,#ff6100,#ff4000,#ff4100,#ff4e00,#ff6000,#ff7000,#ff5200,#ff3400,#ff1400,#e50000,#ba0000,#a40000,#b70000,#c70000,#ce0000,#cb0000,#cd0000,#cf0000,#cf0000,#d00000,#d00000,#d00000)"></i><i style="background:linear-gradient(90deg,#8b0000,#8c0000,#8d0000,#8f0000,#900000,#910000,#920000,#940000,#950000,#970000,#990000,#9b0000,#9e0000,#a10000,#a40000,#a70000,#aa0000,#ae0000,#b20000,#b50000,#b90000,#bd0000,#c00000,#c40000,#c70000,#c60000,#c40000,#c30000,#c20000,#c40000,#c60000,#c80000,#cb0000,#cd0000,#d00000,#d20000,#d50000,#d50000,#d60000,#d70000,#d80000,#dd0000,#e30000,#e90000,#ef0000,#f90000,#ff0500,#ff1000,#ff1a00,#ff1f00,#ff2400,#ff2900,#ff2e00,#ff3c00,#ff4a00,#ff5800,#ff6600,#ff5600,#ff4500,#ff2b00,#ff0700,#ff0400,#ff1700,#ff3100,#ff4300,#ff2c00,#ff1400,#f90000,#db0000,#c80000,#bc0000,#be0000,#be0000,#c00000,#bf0000,#c00000,#c10000,#c10000,#c10000,#c10000,#c10000)"></i><i style="background:linear-gradient(90deg,#8a0000,#8b0000,#8d0000,#8e0000,#8f0000,#900000,#920000,#930000,#940000,#960000,#980000,#9a0000,#9c0000,#9f0000,#a10000,#a40000,#a60000,#aa0000,#ad0000,#b00000,#b30000,#b70000,#ba0000,#bd0000,#c00000,#be0000,#bc0000,#ba0000,#b80000,#ba0000,#bc0000,#be0000,#c00000,#c30000,#c70000,#ca0000,#cd0000,#cd0000,#cd0000,#cd0000,#cd0000,#d40000,#da0000,#e10000,#e70000,#f40000,#ff0200,#ff0e00,#ff1b00,#ff2200,#ff2800,#ff2f00,#ff3500,#ff3c00,#ff4200,#ff4800,#ff4f00,#ff3c00,#ff2500,#ff0200,#cb0000,#bc0000,#d70000,#ff0100,#ff1800,#ff0800,#f40000,#e00000,#cb0000,#c30000,#bb0000,#b70000,#b30000,#b30000,#b20000,#b30000,#b30000,#b30000,#b30000,#b30000,#b30000)"></i><i style="background:linear-gradient(90deg,#8a0000,#8b0000,#8c0000,#8d0000,#8e0000,#900000,#910000,#920000,#940000,#950000,#970000,#990000,#9b0000,#9d0000,#9f0000,#a10000,#a40000,#a60000,#a90000,#ac0000,#ae0000,#b10000,#b40000,#b60000,#b90000,#b70000,#b60000,#b40000,#b30000,#b40000,#b60000,#b70000,#b90000,#bc0000,#bf0000,#c30000,#c60000,#c60000,#c60000,#c60000,#c60000,#cc0000,#d10000,#d70000,#dc0000,#e60000,#f00000,#fa0000,#ff0500,#ff0c00,#ff1300,#ff1900,#ff2000,#ff2400,#ff2900,#ff2d00,#ff3200,#ff2500,#ff1300,#ee0000,#b30000,#9a0000,#ba0000,#ec0000,#ff0800,#f90000,#e70000,#d50000,#c20000,#bd0000,#b80000,#b40000,#b00000,#b00000,#af0000,#af0000,#b00000,#b00000,#b00000,#b00000,#b00000)"></i><i style="background:linear-gradient(90deg,#8a0000,#8b0000,#8c0000,#8d0000,#8e0000,#8f0000,#900000,#920000,#930000,#940000,#960000,#980000,#990000,#9b0000,#9d0000,#9f0000,#a10000,#a30000,#a50000,#a70000,#a90000,#ab0000,#ad0000,#b00000,#b20000,#b00000,#af0000,#ae0000,#ad0000,#ae0000,#af0000,#b00000,#b20000,#b50000,#b80000,#bb0000,#bf0000,#bf0000,#bf0000,#bf0000,#bf0000,#c30000,#c80000,#cd0000,#d10000,#d90000,#e00000,#e70000,#ef0000,#f50000,#fc0000,#ff0300,#ff0a00,#ff0d00,#ff0f00,#ff1200,#ff1500,#ff0e00,#ff0300,#e80000,#b90000,#a10000,#ba0000,#e40000,#f90000,#ec0000,#da0000,#c90000,#b70000,#b40000,#b20000,#af0000,#ac0000,#ac0000,#ac0000,#ac0000,#ac0000,#ac0000,#ac0000,#ac0000,#ac0000)"></i><i style="background:linear-gradient(90deg,#8a0000,#8b0000,#8b0000,#8c0000,#8d0000,#8e0000,#900000,#910000,#920000,#940000,#950000,#960000,#980000,#990000,#9b0000,#9c0000,#9e0000,#9f0000,#a10000,#a20000,#a40000,#a60000,#a70000,#a90000,#aa0000,#aa0000,#a90000,#a80000,#a70000,#a80000,#a90000,#aa0000,#aa0000,#ae0000,#b10000,#b40000,#b70000,#b70000,#b70000,#b70000,#b70000,#bb0000,#bf0000,#c30000,#c60000,#cb0000,#d00000,#d40000,#d90000,#df0000,#e60000,#ec0000,#f30000,#f40000,#f50000,#f60000,#f70000,#f60000,#f40000,#e90000,#d20000,#c20000,#ce0000,#e30000,#ed0000,#de0000,#ce0000,#bd0000,#ac0000,#ab0000,#aa0000,#a90000,#a90000,#a90000,#a80000,#a80000,#a90000,#a90000,#a90000,#a90000,#a90000)"></i><i style="background:linear-gradient(90deg,#8a0000,#8a0000,#8b0000,#8c0000,#8c0000,#8e0000,#8f0000,#900000,#910000,#930000,#940000,#950000,#960000,#980000,#990000,#9a0000,#9c0000,#9d0000,#9e0000,#9f0000,#a00000,#a20000,#a30000,#a40000,#a50000,#a40000,#a40000,#a30000,#a30000,#a30000,#a40000,#a40000,#a50000,#a80000,#ab0000,#ae0000,#b10000,#b10000,#b10000,#b10000,#b10000,#b40000,#b70000,#ba0000,#bd0000,#c00000,#c30000,#c60000,#c90000,#cf0000,#d50000,#db0000,#e10000,#e10000,#e10000,#e10000,#e10000,#e40000,#e50000,#e40000,#df0000,#d70000,#d90000,#df0000,#e00000,#d20000,#c30000,#b40000,#a60000,#a60000,#a60000,#a60000,#a60000,#a60000,#a50000,#a60000,#a60000,#a60000,#a60000,#a60000,#a60000)"></i><i style="background:linear-gradient(90deg,#890000,#8a0000,#8a0000,#8b0000,#8b0000,#8d0000,#8e0000,#8f0000,#910000,#920000,#930000,#940000,#950000,#960000,#970000,#990000,#9a0000,#9b0000,#9c0000,#9d0000,#9e0000,#9f0000,#a00000,#a10000,#a10000,#a10000,#a10000,#a00000,#a00000,#a00000,#a10000,#a10000,#a10000,#a40000,#a60000,#a90000,#ab0000,#ab0000,#ab0000,#ab0000,#ab0000,#ad0000,#af0000,#b20000,#b40000,#b60000,#b90000,#bb0000,#be0000,#c30000,#c80000,#cd0000,#d20000,#d20000,#d20000,#d20000,#d20000,#d40000,#d60000,#d70000,#d70000,#d40000,#d30000,#d30000,#d20000,#c70000,#bb0000,#af0000,#a30000,#a30000,#a30000,#a30000,#a30000,#a30000,#a30000,#a30000,#a30000,#a30000,#a30000,#a30000,#a30000)"></i><i style="background:linear-gradient(90deg,#880000,#890000,#890000,#8a0000,#8b0000,#8c0000,#8d0000,#8f0000,#900000,#910000,#920000,#930000,#930000,#950000,#960000,#970000,#990000,#990000,#9a0000,#9b0000,#9c0000,#9c0000,#9d0000,#9d0000,#9e0000,#9d0000,#9d0000,#9d0000,#9d0000,#9d0000,#9d0000,#9d0000,#9e0000,#a00000,#a10000,#a30000,#a50000,#a50000,#a50000,#a50000,#a50000,#a70000,#a80000,#aa0000,#ab0000,#ad0000,#af0000,#b10000,#b30000,#b70000,#bb0000,#c00000,#c40000,#c40000,#c40000,#c40000,#c40000,#c50000,#c60000,#c70000,#c70000,#c60000,#c50000,#c50000,#c40000,#bb0000,#b30000,#aa0000,#a10000,#a10000,#a10000,#a10000,#a10000,#a10000,#a10000,#a10000,#a10000,#a10000,#a10000,#a10000,#a10000)"></i><i style="background:linear-gradient(90deg,#870000,#880000,#890000,#890000,#8a0000,#8b0000,#8d0000,#8e0000,#8f0000,#900000,#910000,#910000,#920000,#930000,#950000,#960000,#970000,#980000,#990000,#990000,#9a0000,#9a0000,#9a0000,#9a0000,#9a0000,#9a0000,#9a0000,#9a0000,#9a0000,#9a0000,#9a0000,#9a0000,#9a0000,#9b0000,#9d0000,#9e0000,#9f0000,#9f0000,#9f0000,#9f0000,#9f0000,#a00000,#a10000,#a20000,#a20000,#a40000,#a50000,#a60000,#a80000,#ab0000,#af0000,#b20000,#b50000,#b50000,#b50000,#b50000,#b50000,#b50000,#b50000,#b60000,#b60000,#b50000,#b50000,#b50000,#b50000,#b00000,#aa0000,#a50000,#9f0000,#9f0000,#9f0000,#9f0000,#9f0000,#9f0000,#9f0000,#9f0000,#9f0000,#9f0000,#9f0000,#9f0000,#9f0000)"></i><i style="background:linear-gradient(90deg,#870000,#880000,#890000,#890000,#8a0000,#8b0000,#8c0000,#8d0000,#8f0000,#8f0000,#900000,#900000,#910000,#920000,#930000,#950000,#960000,#960000,#970000,#980000,#980000,#980000,#980000,#980000,#980000,#980000,#980000,#980000,#980000,#980000,#980000,#980000,#980000,#9a0000,#9b0000,#9c0000,#9e0000,#9e0000,#9e0000,#9e0000,#9e0000,#9e0000,#9f0000,#9f0000,#a00000,#a10000,#a10000,#a20000,#a30000,#a60000,#a80000,#ab0000,#ad0000,#ad0000,#ad0000,#ad0000,#ad0000,#ad0000,#ad0000,#ad0000,#ad0000,#ad0000,#ad0000,#ad0000,#ad0000,#a90000,#a50000,#a10000,#9e0000,#9e0000,#9e0000,#9e0000,#9e0000,#9e0000,#9e0000,#9e0000,#9e0000,#9e0000,#9e0000,#9e0000,#9e0000)"></i><i style="background:linear-gradient(90deg,#870000,#880000,#890000,#890000,#8a0000,#8b0000,#8c0000,#8d0000,#8e0000,#8e0000,#8f0000,#900000,#900000,#910000,#920000,#930000,#940000,#950000,#960000,#960000,#970000,#970000,#970000,#970000,#970000,#970000,#970000,#970000,#970000,#970000,#970000,#970000,#970000,#980000,#9a0000,#9b0000,#9c0000,#9c0000,#9c0000,#9c0000,#9c0000,#9c0000,#9d0000,#9d0000,#9d0000,#9e0000,#9f0000,#9f0000,#a00000,#a10000,#a30000,#a40000,#a60000,#a60000,#a60000,#a60000,#a60000,#a60000,#a60000,#a60000,#a60000,#a60000,#a60000,#a60000,#a60000,#a40000,#a10000,#9f0000,#9c0000,#9c0000,#9c0000,#9c0000,#9c0000,#9c0000,#9c0000,#9c0000,#9c0000,#9c0000,#9c0000,#9c0000,#9c0000)"></i><i style="background:linear-gradient(90deg,#870000,#880000,#890000,#890000,#8a0000,#8b0000,#8c0000,#8c0000,#8d0000,#8e0000,#8e0000,#8f0000,#900000,#900000,#910000,#920000,#930000,#930000,#940000,#950000,#950000,#950000,#950000,#950000,#950000,#950000,#950000,#950000,#950000,#950000,#950000,#950000,#950000,#970000,#980000,#990000,#9b0000,#9b0000,#9b0000,#9b0000,#9b0000,#9b0000,#9b0000,#9b0000,#9b0000,#9b0000,#9c0000,#9c0000,#9c0000,#9d0000,#9d0000,#9e0000,#9f0000,#9f0000,#9f0000,#9f0000,#9f0000,#9f0000,#9f0000,#9f0000,#9f0000,#9f0000,#9f0000,#9f0000,#9f0000,#9e0000,#9d0000,#9c0000,#9b0000,#9b0000,#9b0000,#9b0000,#9b0000,#9b0000,#9b0000,#9b0000,#9b0000,#9b0000,#9b0000,#9b0000,#9b0000)"></i><i style="background:linear-gradient(90deg,#870000,#880000,#890000,#890000,#8a0000,#8b0000,#8b0000,#8c0000,#8d0000,#8d0000,#8e0000,#8f0000,#8f0000,#900000,#910000,#920000,#920000,#930000,#940000,#940000,#950000,#950000,#950000,#950000,#950000,#950000,#950000,#950000,#950000,#950000,#950000,#950000,#950000,#960000,#970000,#990000,#9a0000,#9a0000,#9a0000,#9a0000,#9a0000,#9a0000,#9a0000,#9a0000,#9a0000,#9a0000,#9b0000,#9b0000,#9b0000,#9b0000,#9b0000,#9c0000,#9c0000,#9c0000,#9c0000,#9c0000,#9c0000,#9c0000,#9c0000,#9c0000,#9c0000,#9c0000,#9c0000,#9c0000,#9c0000,#9b0000,#9b0000,#9b0000,#9a0000,#9a0000,#9a0000,#9a0000,#9a0000,#9a0000,#9a0000,#9a0000,#9a0000,#9a0000,#9a0000,#9a0000,#9a0000)"></i><i style="background:linear-gradient(90deg,#870000,#880000,#890000,#890000,#8a0000,#8b0000,#8c0000,#8d0000,#8e0000,#8e0000,#8f0000,#8f0000,#900000,#910000,#920000,#930000,#940000,#940000,#950000,#960000,#960000,#960000,#960000,#960000,#960000,#960000,#960000,#960000,#960000,#960000,#960000,#960000,#960000,#980000,#990000,#9a0000,#9c0000,#9c0000,#9c0000,#9c0000,#9c0000,#9c0000,#9c0000,#9c0000,#9c0000,#9d0000,#9d0000,#9e0000,#9e0000,#a00000,#a10000,#a20000,#a30000,#a30000,#a30000,#a30000,#a30000,#a30000,#a30000,#a30000,#a30000,#a30000,#a30000,#a30000,#a30000,#a10000,#9f0000,#9d0000,#9c0000,#9c0000,#9c0000,#9c0000,#9c0000,#9c0000,#9c0000,#9c0000,#9c0000,#9c0000,#9c0000,#9c0000,#9c0000)"></i><i style="background:linear-gradient(90deg,#870000,#880000,#890000,#890000,#8a0000,#8b0000,#8c0000,#8d0000,#8e0000,#8f0000,#900000,#900000,#910000,#920000,#930000,#940000,#950000,#960000,#960000,#970000,#980000,#980000,#980000,#980000,#980000,#980000,#980000,#980000,#980000,#980000,#980000,#980000,#980000,#990000,#9a0000,#9c0000,#9d0000,#9d0000,#9d0000,#9d0000,#9d0000,#9d0000,#9e0000,#9e0000,#9f0000,#a00000,#a00000,#a10000,#a20000,#a40000,#a60000,#a80000,#aa0000,#aa0000,#aa0000,#aa0000,#aa0000,#aa0000,#aa0000,#aa0000,#aa0000,#aa0000,#aa0000,#aa0000,#aa0000,#a70000,#a40000,#a00000,#9d0000,#9d0000,#9d0000,#9d0000,#9d0000,#9d0000,#9d0000,#9d0000,#9d0000,#9d0000,#9d0000,#9d0000,#9d0000)"></i><i style="background:linear-gradient(90deg,#870000,#880000,#890000,#890000,#8a0000,#8b0000,#8c0000,#8e0000,#8f0000,#900000,#900000,#910000,#920000,#930000,#940000,#950000,#970000,#970000,#980000,#990000,#990000,#990000,#990000,#990000,#990000,#990000,#990000,#990000,#990000,#990000,#990000,#990000,#990000,#9b0000,#9c0000,#9d0000,#9e0000,#9e0000,#9e0000,#9e0000,#9e0000,#9f0000,#a00000,#a00000,#a10000,#a20000,#a30000,#a40000,#a60000,#a90000,#ac0000,#af0000,#b20000,#b20000,#b20000,#b20000,#b20000,#b20000,#b20000,#b20000,#b20000,#b20000,#b20000,#b20000,#b20000,#ad0000,#a80000,#a30000,#9e0000,#9e0000,#9e0000,#9e0000,#9e0000,#9e0000,#9e0000,#9e0000,#9e0000,#9e0000,#9e0000,#9e0000,#9e0000)"></i><i style="background:linear-gradient(90deg,#880000,#890000,#890000,#8a0000,#8a0000,#8c0000,#8d0000,#8e0000,#900000,#900000,#910000,#920000,#930000,#940000,#950000,#970000,#980000,#990000,#9a0000,#9a0000,#9b0000,#9b0000,#9c0000,#9c0000,#9c0000,#9c0000,#9c0000,#9c0000,#9c0000,#9c0000,#9c0000,#9c0000,#9c0000,#9e0000,#a00000,#a10000,#a30000,#a30000,#a30000,#a30000,#a30000,#a40000,#a50000,#a60000,#a80000,#a90000,#ab0000,#ad0000,#ae0000,#b20000,#b60000,#ba0000,#be0000,#be0000,#be0000,#be0000,#be0000,#bf0000,#bf0000,#c00000,#c00000,#c00000,#bf0000,#bf0000,#be0000,#b70000,#af0000,#a80000,#a00000,#a00000,#a00000,#a00000,#a00000,#a00000,#a00000,#a00000,#a00000,#a00000,#a00000,#a00000,#a00000)"></i><i style="background:linear-gradient(90deg,#890000,#890000,#8a0000,#8b0000,#8b0000,#8d0000,#8e0000,#8f0000,#900000,#910000,#920000,#930000,#940000,#960000,#970000,#980000,#9a0000,#9a0000,#9b0000,#9c0000,#9d0000,#9e0000,#9f0000,#9f0000,#a00000,#a00000,#9f0000,#9f0000,#9f0000,#9f0000,#9f0000,#a00000,#a00000,#a20000,#a40000,#a70000,#a90000,#a90000,#a90000,#a90000,#a90000,#ab0000,#ad0000,#ae0000,#b00000,#b30000,#b50000,#b70000,#b90000,#be0000,#c30000,#c80000,#cd0000,#cd0000,#cd0000,#cd0000,#cd0000,#ce0000,#cf0000,#d10000,#d10000,#cf0000,#ce0000,#cd0000,#cc0000,#c20000,#b80000,#ad0000,#a30000,#a30000,#a30000,#a30000,#a30000,#a30000,#a20000,#a30000,#a30000,#a30000,#a30000,#a30000,#a30000)"></i><i style="background:linear-gradient(90deg,#890000,#8a0000,#8b0000,#8b0000,#8c0000,#8d0000,#8f0000,#900000,#910000,#920000,#930000,#950000,#960000,#970000,#980000,#9a0000,#9b0000,#9c0000,#9d0000,#9e0000,#a00000,#a10000,#a10000,#a20000,#a30000,#a30000,#a20000,#a20000,#a10000,#a20000,#a20000,#a30000,#a30000,#a60000,#a90000,#ac0000,#af0000,#af0000,#af0000,#af0000,#af0000,#b10000,#b40000,#b60000,#b90000,#bc0000,#bf0000,#c10000,#c40000,#ca0000,#d00000,#d50000,#db0000,#db0000,#db0000,#db0000,#db0000,#dd0000,#df0000,#df0000,#dd0000,#d80000,#d80000,#db0000,#da0000,#cd0000,#c00000,#b20000,#a50000,#a50000,#a50000,#a50000,#a50000,#a50000,#a50000,#a50000,#a50000,#a50000,#a50000,#a50000,#a50000)"></i><i style="background:linear-gradient(90deg,#8a0000,#8b0000,#8b0000,#8c0000,#8d0000,#8e0000,#8f0000,#910000,#920000,#930000,#950000,#960000,#970000,#990000,#9a0000,#9b0000,#9d0000,#9e0000,#9f0000,#a10000,#a20000,#a30000,#a50000,#a60000,#a70000,#a70000,#a60000,#a50000,#a50000,#a50000,#a60000,#a70000,#a70000,#ab0000,#ae0000,#b10000,#b50000,#b50000,#b50000,#b50000,#b50000,#b80000,#bb0000,#bf0000,#c20000,#c60000,#c90000,#cd0000,#d00000,#d70000,#dd0000,#e40000,#ea0000,#ea0000,#eb0000,#eb0000,#eb0000,#ed0000,#ee0000,#e90000,#dc0000,#cf0000,#d60000,#e30000,#e80000,#d90000,#c90000,#b80000,#a80000,#a80000,#a70000,#a70000,#a70000,#a70000,#a70000,#a70000,#a70000,#a70000,#a70000,#a70000,#a70000)"></i><i style="background:linear-gradient(90deg,#8a0000,#8b0000,#8c0000,#8d0000,#8d0000,#8f0000,#900000,#910000,#930000,#940000,#960000,#970000,#990000,#9a0000,#9c0000,#9e0000,#9f0000,#a10000,#a30000,#a50000,#a70000,#a90000,#ab0000,#ad0000,#af0000,#ae0000,#ad0000,#ac0000,#ab0000,#ac0000,#ad0000,#ae0000,#af0000,#b20000,#b50000,#b90000,#bc0000,#bc0000,#bc0000,#bc0000,#bc0000,#c00000,#c40000,#c90000,#cd0000,#d30000,#d90000,#e00000,#e60000,#ec0000,#f30000,#fa0000,#ff0100,#ff0300,#ff0500,#ff0700,#ff0900,#ff0500,#fc0000,#e80000,#c20000,#ad0000,#c10000,#e30000,#f40000,#e60000,#d50000,#c40000,#b30000,#b10000,#af0000,#ad0000,#ab0000,#ab0000,#aa0000,#ab0000,#ab0000,#ab0000,#ab0000,#ab0000,#ab0000)"></i><i style="background:linear-gradient(90deg,#8a0000,#8b0000,#8c0000,#8d0000,#8e0000,#8f0000,#910000,#920000,#930000,#950000,#970000,#980000,#9a0000,#9c0000,#9e0000,#a00000,#a20000,#a50000,#a70000,#aa0000,#ac0000,#af0000,#b10000,#b40000,#b60000,#b50000,#b30000,#b20000,#b00000,#b20000,#b30000,#b50000,#b60000,#b90000,#bd0000,#c00000,#c30000,#c30000,#c30000,#c30000,#c30000,#c80000,#cd0000,#d30000,#d80000,#e10000,#ea0000,#f30000,#fc0000,#ff0300,#ff0a00,#ff1000,#ff1700,#ff1b00,#ff1f00,#ff2200,#ff2600,#ff1b00,#ff0c00,#ea0000,#b20000,#980000,#b60000,#e70000,#ff0200,#f40000,#e20000,#d00000,#be0000,#ba0000,#b60000,#b20000,#ae0000,#ae0000,#ad0000,#ae0000,#ae0000,#ae0000,#ae0000,#ae0000,#ae0000)"></i><i style="background:linear-gradient(90deg,#8a0000,#8b0000,#8c0000,#8e0000,#8f0000,#900000,#910000,#930000,#940000,#960000,#980000,#9a0000,#9c0000,#9e0000,#a00000,#a30000,#a50000,#a80000,#ab0000,#ae0000,#b10000,#b40000,#b70000,#ba0000,#bd0000,#bb0000,#ba0000,#b80000,#b60000,#b80000,#ba0000,#bb0000,#bd0000,#c10000,#c40000,#c70000,#ca0000,#ca0000,#ca0000,#ca0000,#ca0000,#d00000,#d60000,#dd0000,#e30000,#ee0000,#fa0000,#ff0700,#ff1300,#ff1900,#ff2000,#ff2600,#ff2d00,#ff3200,#ff3800,#ff3e00,#ff4300,#ff3200,#ff1e00,#f80000,#bf0000,#ab0000,#c90000,#f70000,#ff1100,#ff0200,#ef0000,#dc0000,#c80000,#c10000,#bb0000,#b60000,#b20000,#b20000,#b10000,#b20000,#b20000,#b20000,#b20000,#b20000,#b20000)"></i><i style="background:linear-gradient(90deg,#8a0000,#8c0000,#8d0000,#8e0000,#900000,#910000,#920000,#930000,#950000,#970000,#990000,#9b0000,#9d0000,#a00000,#a30000,#a60000,#a90000,#ac0000,#b00000,#b30000,#b70000,#ba0000,#be0000,#c10000,#c50000,#c30000,#c10000,#bf0000,#be0000,#c00000,#c20000,#c40000,#c60000,#c90000,#cc0000,#cf0000,#d20000,#d20000,#d30000,#d30000,#d30000,#d90000,#e00000,#e60000,#ec0000,#f70000,#ff0400,#ff1000,#ff1c00,#ff2100,#ff2700,#ff2c00,#ff3200,#ff3d00,#ff4700,#ff5200,#ff5d00,#ff4b00,#ff3700,#ff1900,#ed0000,#e70000,#fd0000,#ff1d00,#ff3000,#ff1d00,#ff0600,#ef0000,#d50000,#c70000,#be0000,#bc0000,#ba0000,#bb0000,#b90000,#ba0000,#bb0000,#bb0000,#bb0000,#bb0000,#bb0000)"></i><i style="background:linear-gradient(90deg,#8b0000,#8c0000,#8e0000,#8f0000,#900000,#920000,#930000,#940000,#960000,#980000,#9a0000,#9c0000,#9e0000,#a20000,#a50000,#a90000,#ac0000,#b00000,#b40000,#b80000,#bd0000,#c00000,#c40000,#c80000,#cc0000,#cb0000,#c90000,#c80000,#c70000,#ca0000,#cc0000,#cf0000,#d10000,#d30000,#d50000,#d70000,#d90000,#da0000,#dc0000,#dd0000,#de0000,#e30000,#e90000,#ee0000,#f30000,#fc0000,#ff0600,#ff0f00,#ff1800,#ff1c00,#ff2000,#ff2300,#ff2700,#ff3a00,#ff4d00,#ff6000,#ff7500,#ff6900,#ff5e00,#ff4a00,#ff2900,#ff2b00,#ff3a00,#ff4e00,#ff5e00,#ff4300,#ff2700,#ff0a00,#e20000,#c20000,#b10000,#bc0000,#c40000,#c90000,#c60000,#c80000,#c90000,#ca0000,#ca0000,#ca0000,#ca0000)"></i><i style="background:linear-gradient(90deg,#8c0000,#8d0000,#8e0000,#900000,#910000,#920000,#940000,#950000,#960000,#990000,#9b0000,#9d0000,#a00000,#a40000,#a80000,#ac0000,#b00000,#b40000,#b90000,#be0000,#c20000,#c70000,#cb0000,#cf0000,#d30000,#d20000,#d20000,#d10000,#d10000,#d40000,#d60000,#d90000,#dc0000,#dd0000,#de0000,#df0000,#e00000,#e20000,#e50000,#e70000,#e90000,#ed0000,#f20000,#f60000,#fa0000,#ff0200,#ff0800,#ff0e00,#ff1400,#ff1600,#ff1800,#ff1a00,#ff1c00,#ff3700,#ff5200,#ff6e00,#ff8f00,#ff9300,#ff9b00,#ff8b00,#ff6300,#ff5e00,#ff6900,#ff7a00,#ff8a00,#ff6a00,#ff4900,#ff2300,#e70000,#a70000,#890000,#ad0000,#cb0000,#d60000,#d10000,#d30000,#d70000,#d90000,#d90000,#d90000,#d90000)"></i><i style="background:linear-gradient(90deg,#8d0000,#8e0000,#8f0000,#900000,#920000,#930000,#940000,#960000,#970000,#9a0000,#9c0000,#9f0000,#a10000,#a60000,#aa0000,#af0000,#b30000,#b90000,#be0000,#c30000,#c80000,#cd0000,#d10000,#d60000,#da0000,#da0000,#da0000,#da0000,#da0000,#dd0000,#e10000,#e40000,#e70000,#e70000,#e70000,#e70000,#e70000,#eb0000,#ee0000,#f10000,#f40000,#f70000,#fb0000,#fe0000,#ff0300,#ff0600,#ff0a00,#ff0d00,#ff1100,#ff1100,#ff1100,#ff1100,#ff1100,#ff3500,#ff5800,#ff7d00,#ffad00,#ffc800,#ffec00,#ffdf00,#ff9f00,#ff8a00,#ff9100,#ffa200,#ffb700,#ff9500,#ff7200,#ff4100,#ed0000,#8a0000,#800000,#9c0000,#d20000,#e00000,#d30000,#d40000,#e30000,#f00000,#f80000,#f80000,#f20000)"></i><i style="background:linear-gradient(90deg,#8d0000,#8e0000,#8f0000,#900000,#920000,#930000,#940000,#960000,#970000,#9a0000,#9d0000,#9f0000,#a20000,#a70000,#ad0000,#b20000,#b70000,#bd0000,#c20000,#c80000,#cd0000,#d30000,#d90000,#df0000,#e50000,#e50000,#e50000,#e50000,#e50000,#e80000,#eb0000,#ef0000,#f20000,#f20000,#f20000,#f20000,#f20000,#f40000,#f70000,#f90000,#fc0000,#fd0000,#ff0000,#ff0200,#ff0300,#ff0600,#ff0800,#ff0b00,#ff0d00,#ff0d00,#ff0d00,#ff0d00,#ff0d00,#ff3800,#ff6400,#ff9200,#ffcf00,#fff700,#d2ff2d,#e1ff1e,#ffc900,#ffa700,#ffab00,#ffbe00,#ffda00,#ffcb00,#ffb700,#ff7500,#ff0c00,#9b0000,#800000,#b10000,#eb0000,#f70000,#d60000,#d80000,#ff1400,#ff5100,#ff7a00,#ff7c00,#ff5b00)"></i><i style="background:linear-gradient(90deg,#8d0000,#8e0000,#8f0000,#900000,#920000,#930000,#940000,#960000,#970000,#9a0000,#9d0000,#a00000,#a30000,#a90000,#af0000,#b50000,#bb0000,#c10000,#c70000,#cc0000,#d20000,#da0000,#e10000,#e80000,#f00000,#f00000,#f00000,#f00000,#f00000,#f30000,#f60000,#fa0000,#fd0000,#fd0000,#fd0000,#fd0000,#fd0000,#fe0000,#ff0100,#ff0200,#ff0400,#ff0400,#ff0400,#ff0300,#ff0300,#ff0500,#ff0600,#ff0800,#ff0900,#ff0900,#ff0900,#ff0900,#ff0900,#ff3d00,#ff7100,#ffa700,#ffea00,#f5ff0a,#ccff33,#deff21,#ffd200,#ffb800,#ffbf00,#ffd700,#fdff02,#e2ff1d,#d3ff2c,#ffc900,#ff4200,#df0000,#b90000,#e70000,#ff0d00,#ff0c00,#c70000,#c70000,#ff4000,#ffbf00,#ecff13,#e8ff17,#ffd400)"></i><i style="background:linear-gradient(90deg,#8d0000,#8e0000,#8f0000,#900000,#920000,#930000,#940000,#960000,#970000,#9a0000,#9d0000,#a00000,#a40000,#aa0000,#b10000,#b80000,#be0000,#c50000,#cb0000,#d10000,#d70000,#e00000,#e90000,#f20000,#fb0000,#fb0000,#fb0000,#fb0000,#fb0000,#fe0000,#ff0200,#ff0500,#ff0900,#ff0900,#ff0900,#ff0900,#ff0900,#ff0900,#ff0a00,#ff0b00,#ff0b00,#ff0900,#ff0700,#ff0500,#ff0300,#ff0400,#ff0500,#ff0500,#ff0600,#ff0600,#ff0600,#ff0600,#ff0600,#ff4100,#ff7d00,#ffba00,#fffe00,#f8ff07,#ecff13,#fffc00,#ffc300,#ffbd00,#ffcd00,#ffeb00,#dcff23,#9dff62,#71ff8e,#ebff14,#ff7a00,#ff3100,#ff1500,#ff2600,#ff3100,#ff2500,#c60000,#c00000,#ff4f00,#ffd000,#e8ff17,#e2ff1d,#ffee00)"></i><i style="background:linear-gradient(90deg,#8d0000,#8e0000,#8f0000,#910000,#920000,#930000,#950000,#960000,#970000,#9b0000,#9e0000,#a10000,#a40000,#ac0000,#b30000,#bb0000,#c20000,#c90000,#d00000,#d60000,#dd0000,#e70000,#f10000,#fb0000,#ff0500,#ff0600,#ff0700,#ff0700,#ff0800,#ff0b00,#ff0e00,#ff1100,#ff1500,#ff1500,#ff1500,#ff1500,#ff1500,#ff1500,#ff1500,#ff1500,#ff1500,#ff1000,#ff0c00,#ff0800,#ff0300,#ff0300,#ff0300,#ff0200,#ff0200,#ff0200,#ff0300,#ff0300,#ff0300,#ff4500,#ff8600,#ffc800,#f2ff0d,#fffc00,#ffec00,#ffcc00,#ff9e00,#ffa800,#ffc000,#ffe600,#dcff23,#a6ff59,#82ff7d,#eaff15,#ff9600,#ff6200,#ff4d00,#ff5100,#ff4f00,#ff4400,#ed0000,#ea0000,#ff5e00,#ffb000,#ffd000,#ffd500,#ffce00)"></i><i style="background:linear-gradient(90deg,#8d0000,#8e0000,#900000,#910000,#930000,#940000,#950000,#970000,#980000,#9b0000,#9f0000,#a20000,#a50000,#ad0000,#b50000,#bd0000,#c60000,#cd0000,#d50000,#dd0000,#e40000,#ee0000,#f80000,#ff0300,#ff0d00,#ff0f00,#ff1100,#ff1400,#ff1600,#ff1900,#ff1d00,#ff2000,#ff2300,#ff2300,#ff2300,#ff2300,#ff2300,#ff2300,#ff2300,#ff2300,#ff2300,#ff1b00,#ff1300,#ff0b00,#ff0300,#ff0200,#ff0100,#ff0000,#fe0000,#ff0000,#ff0100,#ff0200,#ff0300,#ff4500,#ff8600,#ffc700,#f6ff09,#ffe500,#ffbc00,#ff8a00,#ff5100,#ff6100,#ff8100,#ffb200,#fff200,#f3ff0c,#e8ff17,#ffdb00,#ff9000,#ff6500,#ff5100,#ff5b00,#ff5f00,#ff5900,#ff1600,#ff1c00,#ff6700,#ff9500,#ff9d00,#ff9c00,#ffa500)"></i><i style="background:linear-gradient(90deg,#8d0000,#8e0000,#900000,#920000,#930000,#950000,#960000,#970000,#990000,#9c0000,#9f0000,#a30000,#a60000,#af0000,#b80000,#c00000,#c90000,#d20000,#da0000,#e30000,#ec0000,#f60000,#ff0000,#ff0a00,#ff1400,#ff1800,#ff1c00,#ff2100,#ff2500,#ff2800,#ff2b00,#ff2e00,#ff3200,#ff3200,#ff3200,#ff3200,#ff3200,#ff3200,#ff3200,#ff3200,#ff3200,#ff2600,#ff1b00,#ff0f00,#ff0300,#ff0100,#fe0000,#fc0000,#fa0000,#fc0000,#fe0000,#ff0100,#ff0300,#ff4500,#ff8600,#ffc700,#f7ff08,#ffd400,#ff9900,#ff5300,#ff0600,#ff1600,#ff3c00,#ff7a00,#ffc300,#ffd000,#ffd000,#ffb500,#ff8700,#ff4e00,#ff3300,#ff5500,#ff6a00,#ff6500,#ff2000,#ff2700,#ff6700,#ff8900,#ff7f00,#ff6900,#ff8400)"></i><i style="background:linear-gradient(90deg,#8d0000,#8e0000,#900000,#920000,#940000,#960000,#970000,#980000,#990000,#9d0000,#a00000,#a30000,#a70000,#b00000,#ba0000,#c30000,#cd0000,#d60000,#e00000,#e90000,#f30000,#fd0000,#ff0800,#ff1100,#ff1b00,#ff2100,#ff2700,#ff2d00,#ff3300,#ff3600,#ff3a00,#ff3d00,#ff4000,#ff4000,#ff4000,#ff4000,#ff4000,#ff4000,#ff4000,#ff4000,#ff4000,#ff3100,#ff2200,#ff1300,#ff0300,#ff0000,#fc0000,#f90000,#f60000,#f90000,#fc0000,#ff0000,#ff0300,#ff4500,#ff8700,#ffc800,#f8ff07,#ffc600,#ff7c00,#ff2200,#c00000,#ce0000,#fa0000,#ff4500,#ff9b00,#ffaf00,#ffb400,#ffa900,#ff7e00,#ff2900,#ff0200,#ff4600,#ff7300,#ff6200,#f30000,#ef0000,#ff4700,#ff7900,#ff5700,#ff1d00,#ff5900)"></i><i style="background:linear-gradient(90deg,#8d0000,#8f0000,#910000,#930000,#940000,#960000,#970000,#980000,#9a0000,#9d0000,#a00000,#a40000,#a70000,#b10000,#bb0000,#c50000,#cf0000,#da0000,#e40000,#ee0000,#f80000,#ff0300,#ff0c00,#ff1600,#ff2000,#ff2a00,#ff3300,#ff3d00,#ff4700,#ff4a00,#ff4d00,#ff5100,#ff5400,#ff5500,#ff5500,#ff5600,#ff5600,#ff5600,#ff5600,#ff5600,#ff5600,#ff4300,#ff2f00,#ff1c00,#ff0800,#ff0400,#fe0000,#fa0000,#f50000,#fb0000,#ff0200,#ff0800,#ff0f00,#ff5000,#ff9100,#ffcd00,#fdff02,#ffbe00,#ff7200,#ff1600,#b10000,#ba0000,#e50000,#ff3300,#ff8d00,#ffa700,#ffb000,#ffa900,#ff7a00,#ff0600,#d10000,#ff2c00,#ff6700,#ff4600,#a20000,#8e0000,#ff0a00,#ff5600,#ff2700,#d40000,#ff2b00)"></i><i style="background:linear-gradient(90deg,#8e0000,#8f0000,#910000,#930000,#940000,#960000,#970000,#980000,#9a0000,#9d0000,#a10000,#a40000,#a80000,#b20000,#bd0000,#c70000,#d20000,#dc0000,#e70000,#f10000,#fb0000,#ff0600,#ff1000,#ff1a00,#ff2400,#ff3200,#ff4000,#ff4e00,#ff5d00,#ff6000,#ff6300,#ff6600,#ff6a00,#ff6b00,#ff6d00,#ff6e00,#ff7000,#ff7000,#ff7000,#ff7000,#ff7000,#ff5800,#ff4000,#ff2800,#ff1000,#ff0900,#ff0300,#fc0000,#f50000,#ff0000,#ff0900,#ff1400,#ff2400,#ff6d00,#ffbb00,#ffef00,#f5ff0a,#ffbe00,#ff7400,#ff2000,#c50000,#cc0000,#f40000,#ff3c00,#ff9000,#ffaa00,#ffb400,#ffae00,#ff7f00,#ff0000,#c30000,#ff1e00,#ff5800,#ff2e00,#800000,#800000,#dd0000,#ff3300,#ff1000,#cb0000,#ff1800)"></i><i style="background:linear-gradient(90deg,#8f0000,#900000,#910000,#930000,#940000,#960000,#970000,#980000,#9a0000,#9d0000,#a10000,#a50000,#a90000,#b30000,#be0000,#c90000,#d40000,#df0000,#e90000,#f40000,#ff0000,#ff0a00,#ff1400,#ff1d00,#ff2700,#ff3a00,#ff4d00,#ff6000,#ff7200,#ff7600,#ff7900,#ff7c00,#ff8000,#ff8200,#ff8400,#ff8700,#ff8900,#ff8900,#ff8900,#ff8900,#ff8900,#ff6d00,#ff5000,#ff3300,#ff1700,#ff0f00,#ff0700,#fd0000,#f50000,#ff0300,#ff1100,#ff2000,#ff3c00,#ff9900,#feff01,#d1ff2e,#dfff20,#ffc300,#ff7c00,#ff3500,#e80000,#f20000,#ff1700,#ff5500,#ff9d00,#ffb200,#ffba00,#ffb500,#ff8f00,#ff1f00,#e40000,#ff2600,#ff4d00,#ff2700,#800000,#800000,#d50000,#ff1800,#ff0d00,#ed0000,#ff1800)"></i><i style="background:linear-gradient(90deg,#8f0000,#900000,#920000,#930000,#940000,#960000,#970000,#980000,#9a0000,#9e0000,#a10000,#a50000,#a90000,#b40000,#c00000,#cb0000,#d60000,#e10000,#ec0000,#f70000,#ff0400,#ff0d00,#ff1700,#ff2100,#ff2b00,#ff4200,#ff5900,#ff7000,#ff8700,#ff8b00,#ff8f00,#ff9200,#ff9600,#ff9900,#ff9c00,#ffa000,#ffa300,#ffa300,#ffa300,#ffa300,#ffa300,#ff8200,#ff6100,#ff4000,#ff2000,#ff1500,#ff0b00,#ff0100,#f60000,#ff0800,#ff1900,#ff2d00,#ff5000,#ffac00,#e9ff16,#c2ff3d,#dfff20,#ffc500,#ff8800,#ff5200,#ff1900,#ff2700,#ff4700,#ff7900,#ffb200,#ffbf00,#ffc400,#ffbf00,#ffa500,#ff5100,#ff2100,#ff3e00,#ff4c00,#ff2c00,#9d0000,#ac0000,#e20000,#ff0800,#ff0c00,#ff0700,#ff1900)"></i><i style="background:linear-gradient(90deg,#8f0000,#900000,#920000,#930000,#940000,#960000,#970000,#980000,#9a0000,#9e0000,#a10000,#a50000,#a90000,#b50000,#c00000,#cc0000,#d70000,#e30000,#ef0000,#fb0000,#ff0700,#ff1100,#ff1b00,#ff2500,#ff2e00,#ff4800,#ff6200,#ff7c00,#ff9600,#ff9c00,#ffa300,#ffa900,#ffaf00,#ffb300,#ffb800,#ffbc00,#ffc000,#ffc000,#ffc000,#ffc000,#ffc000,#ff9d00,#ff7b00,#ff5800,#ff3500,#ff2700,#ff1800,#ff0900,#f90000,#ff1400,#ff2d00,#ff4800,#ff6b00,#ffad00,#fff700,#e4ff1b,#e8ff17,#ffe000,#ffba00,#ff9800,#ff7400,#ff8300,#ff9c00,#ffc000,#ffe700,#ffe800,#ffe300,#ffdb00,#ffc600,#ff9600,#ff7600,#ff7d00,#ff7d00,#ff6700,#ed0000,#ff1500,#ff3600,#ff4500,#ff4a00,#ff4d00,#ff5400)"></i><i style="background:linear-gradient(90deg,#8f0000,#900000,#920000,#930000,#940000,#960000,#970000,#980000,#9a0000,#9e0000,#a10000,#a50000,#a90000,#b50000,#c10000,#cd0000,#d90000,#e50000,#f10000,#fe0000,#ff0b00,#ff1500,#ff1f00,#ff2800,#ff3200,#ff4f00,#ff6b00,#ff8800,#ffa500,#ffae00,#ffb700,#ffc000,#ffc900,#ffce00,#ffd300,#ffd800,#ffdd00,#ffdd00,#ffdd00,#ffdd00,#ffdd00,#ffb900,#ff9400,#ff7000,#ff4b00,#ff3800,#ff2500,#ff1100,#fd0000,#ff2000,#ff4100,#ff6300,#ff8800,#ffb000,#ffdb00,#fffa00,#f0ff0f,#fffa00,#ffea00,#ffda00,#ffca00,#ffdb00,#fff800,#e8ff17,#d6ff29,#eaff15,#faff05,#fff500,#ffe400,#ffca00,#ffb700,#ffb200,#ffab00,#ff9a00,#ff2300,#ff5b00,#ff7a00,#ff8000,#ff8300,#ff8500,#ff8800)"></i><i style="background:linear-gradient(90deg,#8f0000,#900000,#920000,#930000,#940000,#960000,#970000,#980000,#9a0000,#9e0000,#a10000,#a50000,#a90000,#b60000,#c20000,#ce0000,#da0000,#e70000,#f40000,#ff0200,#ff0f00,#ff1800,#ff2200,#ff2c00,#ff3600,#ff5500,#ff7400,#ff9400,#ffb300,#ffbf00,#ffcb00,#ffd600,#ffe200,#ffe800,#ffee00,#fff400,#fffa00,#fffa00,#fffa00,#fffa00,#fffa00,#ffd400,#ffae00,#ff8700,#ff6100,#ff4900,#ff3200,#ff1a00,#ff0300,#ff2e00,#ff5900,#ff8400,#ffaf00,#ffcd00,#ffea00,#faff05,#e1ff1e,#e3ff1c,#e5ff1a,#e6ff19,#e1ff1e,#baff45,#70ff8f,#3cffc3,#56ffa9,#a5ff5a,#d5ff2a,#eeff11,#fffd00,#fff000,#ffe500,#ffe000,#ffd900,#ffcb00,#ff4d00,#ff9200,#ffb700,#ffb800,#ffb900,#ffba00,#ffbb00)"></i><i style="background:linear-gradient(90deg,#8f0000,#900000,#920000,#930000,#940000,#960000,#970000,#980000,#9a0000,#9e0000,#a10000,#a50000,#a90000,#b60000,#c20000,#cf0000,#db0000,#e80000,#f50000,#ff0300,#ff1000,#ff1a00,#ff2400,#ff2e00,#ff3800,#ff5900,#ff7b00,#ff9c00,#ffbe00,#ffcc00,#ffda00,#ffe800,#fff600,#fffe00,#f7ff08,#efff10,#e7ff18,#e6ff19,#e5ff1a,#e4ff1b,#e3ff1c,#fff600,#ffd200,#ffad00,#ff8900,#ff6c00,#ff4e00,#ff3200,#ff1800,#ff5300,#ff9000,#ffce00,#f3ff0c,#d6ff29,#bfff40,#adff52,#9eff61,#a4ff5b,#a8ff57,#aaff55,#9eff61,#68ff97,#00faff,#00b5ff,#00efff,#69ff96,#adff52,#caff35,#dcff23,#e2ff1d,#e8ff17,#e8ff17,#dfff20,#e8ff17,#ff8000,#ffc500,#ffee00,#ffee00,#ffee00,#ffee00,#ffee00)"></i><i style="background:linear-gradient(90deg,#8f0000,#900000,#920000,#930000,#940000,#960000,#970000,#980000,#9a0000,#9e0000,#a10000,#a50000,#a90000,#b60000,#c20000,#cf0000,#db0000,#e80000,#f50000,#ff0300,#ff1000,#ff1a00,#ff2400,#ff2e00,#ff3800,#ff5b00,#ff7e00,#ffa200,#ffc500,#ffd500,#ffe500,#fff500,#faff05,#eeff11,#e2ff1d,#d6ff29,#caff35,#c7ff38,#c4ff3b,#c1ff3e,#bfff40,#deff21,#fdff02,#ffe200,#ffc300,#ff9e00,#ff7a00,#ff5800,#ff3900,#ff8900,#ffe100,#bdff42,#5affa5,#2bffd4,#0afff5,#00faff,#00fdff,#1effe1,#3fffc0,#5affa5,#68ff97,#59ffa6,#2affd5,#0dfff2,#2affd5,#68ff97,#8cff73,#9dff62,#a9ff56,#adff52,#adff52,#96ff69,#4cffb3,#3effc1,#ffdf00,#fffe00,#ddff22,#ddff22,#ddff22,#ddff22,#ddff22)"></i><i style="background:linear-gradient(90deg,#8f0000,#900000,#920000,#930000,#940000,#960000,#970000,#980000,#9a0000,#9e0000,#a10000,#a50000,#a90000,#b60000,#c20000,#cf0000,#db0000,#e80000,#f50000,#ff0300,#ff1000,#ff1a00,#ff2400,#ff2e00,#ff3800,#ff5d00,#ff8200,#ffa700,#ffcd00,#ffde00,#fff000,#fdff02,#ebff14,#dbff24,#ccff33,#bcff43,#adff52,#a8ff57,#a3ff5c,#9fff60,#9aff65,#b4ff4b,#ceff31,#e7ff18,#fffd00,#ffd100,#ffa600,#ff7c00,#ff5500,#ffb400,#dfff20,#64ff9b,#00daff,#0090ff,#0050ff,#002aff,#0027ff,#0058ff,#009bff,#00ddff,#14ffeb,#33ffcc,#40ffbf,#47ffb8,#50ffaf,#5bffa4,#61ff9e,#63ff9c,#68ff97,#6dff92,#6fff90,#47ffb8,#00ccff,#00adff,#caff35,#c8ff37,#aaff55,#aaff55,#aaff55,#aaff55,#aaff55)"></i><i style="background:linear-gradient(90deg,#8f0000,#900000,#920000,#930000,#940000,#960000,#970000,#980000,#9a0000,#9e0000,#a10000,#a50000,#a90000,#b60000,#c20000,#cf0000,#db0000,#e80000,#f50000,#ff0300,#ff1000,#ff1a00,#ff2400,#ff2e00,#ff3800,#ff5f00,#ff8600,#ffad00,#ffd400,#ffe700,#fffb00,#f0ff0f,#dcff23,#c9ff36,#b6ff49,#a3ff5c,#8fff70,#89ff76,#83ff7c,#7cff83,#76ff89,#8aff75,#9eff61,#b3ff4c,#c7ff38,#faff05,#ffd100,#ff9e00,#ff6d00,#ffd500,#baff45,#3dffc2,#00aeff,#006bff,#0023ff,#0000e7,#0000c9,#0000e5,#0022ff,#006eff,#00b9ff,#00efff,#15ffea,#2affd5,#2fffd0,#1bffe4,#00f5ff,#00cfff,#00c6ff,#00e1ff,#0afff5,#15ffea,#00e8ff,#00ebff,#d5ff2a,#a0ff5f,#77ff88,#77ff88,#78ff87,#78ff87,#78ff87)"></i><i style="background:linear-gradient(90deg,#8f0000,#900000,#920000,#930000,#940000,#960000,#970000,#980000,#9a0000,#9e0000,#a10000,#a50000,#a90000,#b60000,#c20000,#cf0000,#db0000,#e80000,#f50000,#ff0300,#ff1000,#ff1b00,#ff2600,#ff3000,#ff3b00,#ff6300,#ff8b00,#ffb300,#ffdb00,#fff000,#f8ff07,#e3ff1c,#ceff31,#baff45,#a7ff58,#93ff6c,#7fff80,#79ff86,#72ff8d,#6cff93,#65ff9a,#74ff8b,#83ff7c,#91ff6e,#a0ff5f,#cfff30,#ffff00,#ffd000,#ffa100,#fff700,#b0ff4f,#53ffac,#00edff,#00ccff,#00a3ff,#0078ff,#0056ff,#0053ff,#0067ff,#008dff,#00bbff,#00e4ff,#04fffb,#15ffea,#12ffed,#00e9ff,#00a1ff,#005aff,#0048ff,#007cff,#00cdff,#09fff6,#1fffe0,#3affc5,#f8ff07,#9aff65,#66ff99,#65ff9a,#65ff9a,#65ff9a,#65ff9a)"></i><i style="background:linear-gradient(90deg,#8f0000,#900000,#920000,#930000,#940000,#960000,#970000,#980000,#9a0000,#9e0000,#a10000,#a50000,#a90000,#b60000,#c20000,#cf0000,#db0000,#e80000,#f50000,#ff0300,#ff1000,#ff1c00,#ff2700,#ff3300,#ff3e00,#ff6700,#ff9000,#ffb900,#ffe200,#fff900,#eeff11,#d6ff29,#bfff40,#acff53,#98ff67,#85ff7a,#71ff8e,#6aff95,#64ff9b,#5dffa2,#57ffa8,#60ff9f,#69ff96,#72ff8d,#7bff84,#a5ff5a,#ceff31,#f7ff08,#ffdd00,#ddff22,#99ff66,#54ffab,#0efff1,#06fff9,#00f9ff,#00eaff,#00dbff,#00d5ff,#00d5ff,#00dbff,#00e7ff,#00f5ff,#02fffd,#0afff5,#0afff5,#00faff,#00dfff,#00c5ff,#00c0ff,#00d9ff,#00fdff,#19ffe6,#25ffda,#35ffca,#ecff13,#88ff77,#54ffab,#56ffa9,#57ffa8,#57ffa8,#57ffa8)"></i><i style="background:linear-gradient(90deg,#8f0000,#900000,#920000,#930000,#940000,#960000,#970000,#980000,#9a0000,#9e0000,#a10000,#a50000,#a90000,#b60000,#c20000,#cf0000,#db0000,#e80000,#f50000,#ff0300,#ff1000,#ff1d00,#ff2900,#ff3600,#ff4200,#ff6c00,#ff9600,#ffc000,#ffea00,#fcff03,#e3ff1c,#caff35,#b1ff4e,#9dff62,#8aff75,#76ff89,#62ff9d,#5cffa3,#55ffaa,#4fffb0,#48ffb7,#4cffb3,#50ffaf,#53ffac,#56ffa9,#79ff86,#9aff65,#bbff44,#dbff24,#a3ff5c,#6dff92,#38ffc7,#05fffa,#06fff9,#08fff7,#09fff6,#09fff6,#06fff9,#00ffff,#00f7ff,#00edff,#00e4ff,#00daff,#00d0ff,#00c9ff,#00c5ff,#00c6ff,#00ceff,#00daff,#00efff,#03fffc,#0afff5,#00f1ff,#00cdff,#75ff8a,#38ffc7,#30ffcf,#44ffbb,#48ffb7,#48ffb7,#48ffb7)"></i><i style="background:linear-gradient(90deg,#8f0000,#900000,#920000,#930000,#940000,#960000,#970000,#980000,#9a0000,#9e0000,#a10000,#a50000,#a90000,#b50000,#c20000,#ce0000,#da0000,#e80000,#f50000,#ff0300,#ff1000,#ff1e00,#ff2b00,#ff3800,#ff4600,#ff7000,#ff9a00,#ffc400,#ffef00,#f5ff0a,#daff25,#bfff40,#a5ff5a,#91ff6e,#7dff82,#6aff95,#56ffa9,#50ffaf,#49ffb6,#42ffbd,#3cffc3,#3cffc3,#3cffc3,#3bffc4,#39ffc6,#53ffac,#69ff96,#7bff84,#8bff74,#55ffaa,#1dffe2,#00e6ff,#00b8ff,#00b8ff,#00c2ff,#00d2ff,#00e3ff,#00eaff,#00e9ff,#00dbff,#00c1ff,#00a0ff,#0079ff,#0053ff,#0038ff,#002dff,#0037ff,#0052ff,#0078ff,#00a7ff,#00cfff,#00deff,#00b3ff,#0063ff,#00fcff,#00e8ff,#0dfff2,#33ffcc,#3bffc4,#3bffc4,#3cffc3)"></i><i style="background:linear-gradient(90deg,#8f0000,#900000,#920000,#930000,#940000,#960000,#970000,#980000,#9a0000,#9d0000,#a10000,#a50000,#a80000,#b40000,#c00000,#cc0000,#d80000,#e60000,#f40000,#ff0300,#ff1000,#ff1f00,#ff2d00,#ff3b00,#ff4900,#ff7300,#ff9c00,#ffc500,#ffef00,#f3ff0c,#d6ff29,#baff45,#9dff62,#8aff75,#76ff89,#62ff9d,#4fffb0,#48ffb7,#42ffbd,#3bffc4,#35ffca,#35ffca,#34ffcb,#34ffcb,#32ffcd,#40ffbf,#44ffbb,#42ffbd,#48ffb7,#12ffed,#00ccff,#0083ff,#003fff,#0026ff,#0023ff,#0036ff,#0059ff,#007fff,#009dff,#00a8ff,#009eff,#007fff,#0053ff,#0025ff,#0003ff,#0000f4,#0000ff,#0021ff,#0050ff,#0088ff,#00b9ff,#00d9ff,#00dbff,#00cfff,#7cff83,#36ffc9,#1fffe0,#2affd5,#29ffd6,#29ffd6,#2dffd2)"></i><i style="background:linear-gradient(90deg,#8f0000,#900000,#920000,#930000,#940000,#960000,#970000,#980000,#9a0000,#9d0000,#a10000,#a40000,#a80000,#b30000,#bf0000,#ca0000,#d60000,#e40000,#f30000,#ff0200,#ff1000,#ff2000,#ff2f00,#ff3e00,#ff4d00,#ff7500,#ff9e00,#ffc600,#ffef00,#f1ff0e,#d3ff2c,#b4ff4b,#96ff69,#82ff7d,#6fff90,#5bffa4,#48ffb7,#41ffbe,#3affc5,#34ffcb,#2dffd2,#2dffd2,#2dffd2,#2dffd2,#2cffd3,#29ffd6,#06fff9,#00f9ff,#1cffe3,#00fdff,#00c3ff,#007bff,#002cff,#0000f4,#0000cf,#0000c6,#0000db,#000eff,#0047ff,#007aff,#009cff,#00a4ff,#009cff,#008cff,#007eff,#0075ff,#0079ff,#0089ff,#009eff,#00b7ff,#00c9ff,#00daff,#00ecff,#0afff5,#bfff40,#5affa5,#14ffeb,#00f1ff,#00d1ff,#00d1ff,#00f2ff)"></i><i style="background:linear-gradient(90deg,#8f0000,#900000,#920000,#930000,#940000,#960000,#970000,#980000,#9a0000,#9d0000,#a00000,#a40000,#a70000,#b20000,#bd0000,#c90000,#d40000,#e30000,#f20000,#ff0100,#ff1000,#ff2000,#ff3000,#ff4100,#ff5100,#ff7800,#ffa000,#ffc700,#ffef00,#efff10,#cfff30,#afff50,#8fff70,#7bff84,#68ff97,#54ffab,#40ffbf,#3affc5,#33ffcc,#2dffd2,#26ffd9,#26ffd9,#26ffd9,#26ffd9,#23ffdc,#00f9ff,#0083ff,#008eff,#00f1ff,#00f8ff,#00ddff,#00b6ff,#0085ff,#0058ff,#002dff,#000eff,#0005ff,#001dff,#0048ff,#007dff,#00b0ff,#00d0ff,#00e4ff,#00eeff,#00f3ff,#00f0ff,#00eeff,#00eaff,#00daff,#00b5ff,#007dff,#0063ff,#0087ff,#00d5ff,#a5ff5a,#48ffb7,#00ecff,#009aff,#004cff,#004cff,#009aff)"></i><i style="background:linear-gradient(90deg,#8f0000,#900000,#920000,#930000,#940000,#960000,#970000,#980000,#9a0000,#9d0000,#a00000,#a30000,#a70000,#b20000,#bc0000,#c70000,#d20000,#e10000,#ef0000,#fe0000,#ff0e00,#ff1f00,#ff3000,#ff4100,#ff5200,#ff7900,#ffa000,#ffc700,#ffef00,#efff10,#ceff31,#adff52,#8dff72,#79ff86,#65ff9a,#52ffad,#3effc1,#38ffc7,#31ffce,#2affd5,#24ffdb,#24ffdb,#24ffdb,#24ffdb,#1bffe4,#00b1ff,#0000ec,#0053ff,#00f4ff,#0afff5,#01fffe,#00f3ff,#00e2ff,#00d1ff,#00bdff,#00aaff,#009cff,#00a1ff,#00b0ff,#00c8ff,#00e5ff,#00f8ff,#09fff6,#15ffea,#1cffe3,#1affe5,#15ffea,#0bfff4,#00edff,#00b2ff,#005dff,#0032ff,#005eff,#00c2ff,#97ff68,#4bffb4,#01fffe,#00c8ff,#0092ff,#0092ff,#00c8ff)"></i><i style="background:linear-gradient(90deg,#8f0000,#900000,#920000,#930000,#940000,#960000,#970000,#980000,#9a0000,#9d0000,#a00000,#a30000,#a70000,#b10000,#bc0000,#c60000,#d10000,#df0000,#ed0000,#fb0000,#ff0a00,#ff1c00,#ff2e00,#ff4000,#ff5200,#ff7900,#ffa000,#ffc700,#ffef00,#efff10,#ceff31,#adff52,#8dff72,#79ff86,#65ff9a,#52ffad,#3effc1,#38ffc7,#31ffce,#2affd5,#24ffdb,#24ffdb,#24ffdb,#23ffdc,#0ffff0,#006cff,#0000b4,#0076ff,#10ffef,#1effe1,#1bffe4,#16ffe9,#11ffee,#0efff1,#0afff5,#05fffa,#00ffff,#04fffb,#09fff6,#10ffef,#1affe5,#1fffe0,#24ffdb,#28ffd7,#2cffd3,#27ffd8,#22ffdd,#1affe5,#0dfff2,#00fbff,#00e3ff,#00d6ff,#00e3ff,#0afff5,#a8ff57,#5affa5,#28ffd7,#1dffe2,#12ffed,#12ffed,#1dffe2)"></i><i style="background:linear-gradient(90deg,#8f0000,#900000,#920000,#930000,#940000,#960000,#970000,#980000,#9a0000,#9d0000,#a00000,#a30000,#a70000,#b10000,#bb0000,#c50000,#cf0000,#dd0000,#ea0000,#f80000,#ff0700,#ff1900,#ff2c00,#ff3f00,#ff5200,#ff7900,#ffa000,#ffc700,#ffef00,#efff10,#ceff31,#adff52,#8dff72,#79ff86,#65ff9a,#52ffad,#3effc1,#38ffc7,#31ffce,#2affd5,#24ffdb,#24ffdb,#24ffdb,#23ffdc,#05fffa,#0069ff,#0018ff,#00d0ff,#2affd5,#2fffd0,#2effd1,#2cffd3,#2affd5,#2affd5,#2affd5,#29ffd6,#28ffd7,#2bffd4,#2effd1,#31ffce,#34ffcb,#34ffcb,#35ffca,#36ffc9,#36ffc9,#30ffcf,#2affd5,#24ffdb,#1dffe2,#1cffe3,#1affe5,#1affe5,#1affe5,#29ffd6,#abff54,#60ff9f,#37ffc8,#36ffc9,#36ffc9,#36ffc9,#36ffc9)"></i></div>
<div class="p" style="left:265px;top:142px"><i style="background:linear-gradient(90deg,#8f0000,#900000,#900000,#910000,#920000,#950000,#990000,#9c0000,#9f0000,#a50000,#aa0000,#b00000,#b60000,#bc0000,#c30000,#c90000,#d00000,#d60000,#dd0000,#e30000,#ea0000,#f40000,#fe0000,#ff0a00,#ff1400,#ff1800,#ff1c00,#ff2100,#ff2500,#ff4d00,#ff7500,#ff9d00,#ffc500,#f5ff0a,#b2ff4d,#6fff90,#2bffd4,#28ffd7,#24ffdb,#20ffdf,#1dffe2,#02fffd,#00e6ff,#00cbff,#00b0ff,#00b4ff,#00b8ff,#00bcff,#00bfff,#00a2ff,#0085ff,#0068ff,#004bff,#0029ff,#0008ff,#0000e5,#0000c3,#0000b8,#0000ad,#0000a1,#000096,#000090,#00008b,#000085,#000080,#000080,#000080,#000080,#000080,#000080,#000080,#000080,#000080,#000080,#000080,#000080,#000080,#000080,#000080,#000080,#000080)"></i><i style="background:linear-gradient(90deg,#8f0000,#900000,#900000,#910000,#920000,#950000,#990000,#9c0000,#a00000,#a60000,#ad0000,#b30000,#b90000,#c00000,#c60000,#cd0000,#d30000,#da0000,#e00000,#e70000,#ee0000,#f90000,#ff0500,#ff1000,#ff1b00,#ff2100,#ff2700,#ff2d00,#ff3300,#ff5d00,#ff8700,#ffb100,#ffdb00,#e9ff16,#aeff51,#74ff8b,#3affc5,#2fffd0,#24ffdb,#19ffe6,#0efff1,#00e4ff,#00baff,#0091ff,#0068ff,#0066ff,#0064ff,#0063ff,#0061ff,#004bff,#0035ff,#0020ff,#000aff,#0000f2,#0000db,#0000c4,#0000ad,#0000a6,#00009e,#000096,#00008f,#00008b,#000087,#000083,#000080,#000080,#000080,#000080,#000080,#000080,#000080,#000080,#000080,#000080,#000080,#000080,#000080,#000080,#000080,#000080,#000080)"></i><i style="background:linear-gradient(90deg,#8f0000,#900000,#900000,#910000,#920000,#960000,#990000,#9d0000,#a10000,#a80000,#af0000,#b60000,#bd0000,#c30000,#ca0000,#d10000,#d70000,#de0000,#e40000,#eb0000,#f10000,#fd0000,#ff0a00,#ff1600,#ff2300,#ff2a00,#ff3200,#ff3a00,#ff4200,#ff6e00,#ff9900,#ffc500,#fff100,#dcff23,#abff54,#7aff85,#48ffb7,#36ffc9,#24ffdb,#12ffed,#00ffff,#00c7ff,#008fff,#0057ff,#001fff,#0018ff,#0011ff,#000aff,#0003ff,#0000f3,#0000e4,#0000d6,#0000c7,#0000bb,#0000af,#0000a3,#000097,#000093,#00008f,#00008b,#000087,#000085,#000083,#000081,#000080,#000080,#000080,#000080,#000080,#000080,#000080,#000080,#000080,#000080,#000080,#000080,#000080,#000080,#000080,#000080,#000080)"></i><i style="background:linear-gradient(90deg,#8f0000,#900000,#900000,#910000,#920000,#960000,#9a0000,#9e0000,#a10000,#a90000,#b10000,#b90000,#c10000,#c70000,#ce0000,#d40000,#db0000,#e10000,#e80000,#ee0000,#f50000,#ff0300,#ff1000,#ff1d00,#ff2a00,#ff3300,#ff3d00,#ff4700,#ff5000,#ff7e00,#ffab00,#ffd900,#f7ff08,#cfff30,#a7ff58,#7fff80,#57ffa8,#3dffc2,#24ffdb,#0bfff4,#00f0ff,#00aaff,#0063ff,#001dff,#0000d5,#0000c9,#0000bc,#0000b0,#0000a3,#00009c,#000095,#00008d,#000086,#000085,#000084,#000083,#000082,#000081,#000081,#000081,#000080,#000080,#000080,#000080,#000080,#000080,#000080,#000080,#000080,#000080,#000080,#000080,#000080,#000080,#000080,#000080,#000080,#000080,#000080,#000080,#000080)"></i><i style="background:linear-gradient(90deg,#8f0000,#900000,#900000,#910000,#920000,#960000,#9a0000,#9f0000,#a30000,#ab0000,#b30000,#bc0000,#c40000,#cb0000,#d20000,#d90000,#e00000,#e60000,#ec0000,#f20000,#f80000,#ff0700,#ff1500,#ff2300,#ff3100,#ff3c00,#ff4800,#ff5300,#ff5f00,#ff8d00,#ffba00,#ffe800,#e8ff17,#c7ff38,#a7ff58,#86ff79,#65ff9a,#4effb1,#38ffc7,#21ffde,#0afff5,#00c6ff,#0083ff,#0040ff,#0000fc,#0000eb,#0000db,#0000cb,#0000ba,#0000b1,#0000a7,#00009d,#000093,#000090,#00008d,#000089,#000086,#000084,#000083,#000081,#000080,#000080,#000080,#000080,#000080,#000080,#000080,#000080,#000080,#000080,#000080,#000080,#000080,#000080,#000080,#000080,#000080,#000080,#000080,#000080,#000080)"></i><i style="background:linear-gradient(90deg,#8f0000,#900000,#900000,#910000,#920000,#960000,#9b0000,#a00000,#a40000,#ad0000,#b60000,#bf0000,#c80000,#cf0000,#d60000,#dd0000,#e50000,#eb0000,#f00000,#f60000,#fc0000,#ff0c00,#ff1b00,#ff2a00,#ff3800,#ff4600,#ff5300,#ff6000,#ff6d00,#ff9b00,#ffc900,#fff700,#daff25,#c0ff3f,#a7ff58,#8dff72,#74ff8b,#61ff9e,#4dffb2,#3affc5,#27ffd8,#00e8ff,#00abff,#006dff,#0030ff,#001cff,#0008ff,#0000f3,#0000df,#0000d1,#0000c4,#0000b6,#0000a9,#0000a2,#00009b,#000094,#00008d,#00008a,#000086,#000083,#000080,#000080,#000080,#000080,#000080,#000080,#000080,#000080,#000080,#000080,#000080,#000080,#000080,#000080,#000080,#000080,#000080,#000080,#000080,#000080,#000080)"></i><i style="background:linear-gradient(90deg,#8f0000,#900000,#900000,#910000,#920000,#970000,#9c0000,#a10000,#a60000,#af0000,#b90000,#c20000,#cb0000,#d30000,#db0000,#e20000,#ea0000,#ef0000,#f50000,#fa0000,#ff0100,#ff1000,#ff2000,#ff3000,#ff4000,#ff4f00,#ff5e00,#ff6d00,#ff7c00,#ffaa00,#ffd700,#f9ff06,#cbff34,#b9ff46,#a7ff58,#95ff6a,#82ff7d,#73ff8c,#63ff9c,#54ffab,#44ffbb,#0cfff3,#00d3ff,#009bff,#0062ff,#004bff,#0033ff,#001cff,#0004ff,#0000f2,#0000e1,#0000d0,#0000bf,#0000b4,#0000aa,#00009f,#000095,#00008f,#00008a,#000085,#000080,#000080,#000080,#000080,#000080,#000080,#000080,#000080,#000080,#000080,#000080,#000080,#000080,#000080,#000080,#000080,#000080,#000080,#000080,#000080,#000080)"></i><i style="background:linear-gradient(90deg,#8f0000,#900000,#900000,#910000,#920000,#970000,#9c0000,#a20000,#a70000,#b10000,#bb0000,#c50000,#cf0000,#d70000,#de0000,#e60000,#ee0000,#f40000,#f90000,#fe0000,#ff0400,#ff1500,#ff2500,#ff3500,#ff4600,#ff5700,#ff6800,#ff7900,#ff8a00,#ffb700,#ffe300,#efff10,#c3ff3c,#b7ff48,#aaff55,#9dff62,#91ff6e,#84ff7b,#78ff87,#6bff94,#5fffa0,#2dffd2,#00fbff,#00c9ff,#0097ff,#007dff,#0063ff,#0049ff,#002fff,#001aff,#0004ff,#0000ee,#0000d9,#0000ca,#0000bb,#0000ad,#00009e,#000097,#000090,#000089,#000082,#000081,#000081,#000080,#000080,#000080,#000080,#000080,#000080,#000080,#000080,#000080,#000080,#000080,#000080,#000080,#000080,#000080,#000080,#000080,#000080)"></i><i style="background:linear-gradient(90deg,#8f0000,#900000,#900000,#910000,#920000,#980000,#9d0000,#a30000,#a90000,#b30000,#bd0000,#c70000,#d10000,#d90000,#e10000,#e90000,#f10000,#f70000,#fc0000,#ff0300,#ff0800,#ff1800,#ff2900,#ff3900,#ff4900,#ff5d00,#ff7100,#ff8500,#ff9900,#ffc000,#ffe600,#f1ff0e,#caff35,#c0ff3f,#b5ff4a,#aaff55,#9fff60,#95ff6a,#8aff75,#7fff80,#75ff8a,#4cffb3,#24ffdb,#00faff,#00d2ff,#00b7ff,#009dff,#0083ff,#0069ff,#004eff,#0034ff,#0019ff,#0000fd,#0000e9,#0000d5,#0000c1,#0000ad,#0000a4,#00009b,#000092,#000089,#000087,#000084,#000082,#000080,#000080,#000080,#000080,#000080,#000080,#000080,#000080,#000080,#000080,#000080,#000080,#000080,#000080,#000080,#000080,#000080)"></i><i style="background:linear-gradient(90deg,#8f0000,#900000,#900000,#910000,#920000,#980000,#9e0000,#a40000,#aa0000,#b40000,#bf0000,#c90000,#d30000,#db0000,#e40000,#ec0000,#f40000,#fa0000,#ff0000,#ff0600,#ff0c00,#ff1c00,#ff2c00,#ff3d00,#ff4d00,#ff6400,#ff7a00,#ff9100,#ffa700,#ffc900,#ffea00,#f3ff0c,#d2ff2d,#c9ff36,#c0ff3f,#b7ff48,#aeff51,#a5ff5a,#9cff63,#93ff6c,#8aff75,#6bff94,#4cffb3,#2cffd3,#0dfff2,#00f2ff,#00d7ff,#00bdff,#00a3ff,#0083ff,#0063ff,#0043ff,#0023ff,#0009ff,#0000ee,#0000d5,#0000bb,#0000b0,#0000a6,#00009b,#000090,#00008c,#000088,#000084,#000080,#000080,#000080,#000080,#000080,#000080,#000080,#000080,#000080,#000080,#000080,#000080,#000080,#000080,#000080,#000080,#000080)"></i><i style="background:linear-gradient(90deg,#8f0000,#900000,#900000,#910000,#920000,#980000,#9f0000,#a50000,#ac0000,#b60000,#c00000,#cb0000,#d50000,#de0000,#e60000,#ee0000,#f70000,#fd0000,#ff0400,#ff0900,#ff0f00,#ff2000,#ff3000,#ff4000,#ff5100,#ff6a00,#ff8300,#ff9d00,#ffb600,#ffd200,#ffee00,#f5ff0a,#d9ff26,#d2ff2d,#cbff34,#c4ff3b,#bdff42,#b5ff4a,#aeff51,#a7ff58,#a0ff5f,#8aff75,#74ff8b,#5dffa2,#47ffb8,#2dffd2,#13ffec,#00f7ff,#00ddff,#00b8ff,#0092ff,#006cff,#0047ff,#0028ff,#0009ff,#0000e9,#0000ca,#0000bd,#0000b1,#0000a4,#000097,#000091,#00008b,#000085,#000080,#000080,#000080,#000080,#000080,#000080,#000080,#000080,#000080,#000080,#000080,#000080,#000080,#000080,#000080,#000080,#000080)"></i><i style="background:linear-gradient(90deg,#8f0000,#900000,#900000,#910000,#920000,#980000,#9f0000,#a60000,#ac0000,#b70000,#c20000,#cc0000,#d70000,#df0000,#e80000,#f00000,#f90000,#fe0000,#ff0500,#ff0b00,#ff1000,#ff2100,#ff3100,#ff4100,#ff5200,#ff6d00,#ff8900,#ffa400,#ffbf00,#ffd600,#ffec00,#fcff03,#e5ff1a,#e0ff1f,#dbff24,#d5ff2a,#d0ff2f,#cbff34,#c6ff39,#c0ff3f,#bbff44,#aaff55,#99ff66,#88ff77,#77ff88,#5dffa2,#42ffbd,#28ffd7,#0efff1,#00e6ff,#00bfff,#0097ff,#0070ff,#004eff,#002cff,#000aff,#0000e7,#0000d9,#0000cb,#0000bc,#0000ae,#0000a7,#0000a1,#00009a,#000094,#000093,#000091,#000090,#00008f,#00008d,#00008c,#00008b,#00008a,#000088,#000087,#000086,#000085,#000083,#000082,#000081,#000080)"></i><i style="background:linear-gradient(90deg,#8f0000,#900000,#900000,#910000,#920000,#990000,#a00000,#a60000,#ad0000,#b80000,#c30000,#ce0000,#d80000,#e10000,#e90000,#f20000,#fa0000,#ff0100,#ff0600,#ff0b00,#ff1000,#ff2100,#ff3100,#ff4100,#ff5200,#ff6f00,#ff8c00,#ffa900,#ffc700,#ffd800,#ffe800,#fff900,#f4ff0b,#f0ff0f,#edff12,#e9ff16,#e6ff19,#e2ff1d,#dfff20,#dcff23,#d8ff27,#cbff34,#bdff42,#b0ff4f,#a2ff5d,#88ff77,#6eff91,#54ffab,#3affc5,#13ffec,#00eaff,#00c3ff,#009cff,#0078ff,#0054ff,#0030ff,#000dff,#0000fc,#0000eb,#0000db,#0000cb,#0000c5,#0000be,#0000b8,#0000b1,#0000ae,#0000ab,#0000a8,#0000a5,#0000a1,#00009e,#00009b,#000098,#000095,#000092,#00008f,#00008c,#000089,#000086,#000083,#000080)"></i><i style="background:linear-gradient(90deg,#8f0000,#900000,#900000,#910000,#920000,#990000,#a00000,#a70000,#ae0000,#b90000,#c40000,#cf0000,#da0000,#e20000,#eb0000,#f30000,#fc0000,#ff0200,#ff0700,#ff0b00,#ff1000,#ff2100,#ff3100,#ff4100,#ff5200,#ff7100,#ff9000,#ffaf00,#ffce00,#ffd900,#ffe500,#fff000,#fffc00,#fffd00,#ffff00,#fdff02,#fcff03,#faff05,#f8ff07,#f7ff08,#f5ff0a,#ebff14,#e2ff1d,#d8ff27,#ceff31,#b4ff4b,#9aff65,#80ff80,#65ff9a,#3effc1,#17ffe8,#00efff,#00c7ff,#00a2ff,#007cff,#0057ff,#0031ff,#001fff,#000dff,#0000fa,#0000e8,#0000e2,#0000db,#0000d5,#0000cf,#0000cb,#0000c5,#0000c0,#0000bb,#0000b5,#0000b1,#0000ac,#0000a7,#0000a2,#00009d,#000098,#000093,#00008e,#000089,#000084,#000080)"></i><i style="background:linear-gradient(90deg,#8f0000,#900000,#900000,#910000,#920000,#990000,#a00000,#a70000,#af0000,#ba0000,#c50000,#d00000,#db0000,#e40000,#ec0000,#f50000,#fd0000,#ff0300,#ff0700,#ff0c00,#ff1000,#ff2100,#ff3100,#ff4100,#ff5100,#ff7200,#ff9200,#ffb200,#ffd200,#ffd900,#ffdf00,#ffe500,#ffec00,#ffec00,#ffec00,#ffec00,#ffec00,#ffec00,#ffec00,#ffec00,#ffec00,#fff200,#fff900,#ffff00,#f8ff07,#deff21,#c4ff3b,#aaff55,#90ff6f,#69ff96,#42ffbd,#1bffe4,#00f3ff,#00ccff,#00a5ff,#007eff,#0057ff,#0043ff,#002fff,#001bff,#0008ff,#0001ff,#0000fa,#0000f6,#0000f2,#0000ed,#0000e5,#0000db,#0000d3,#0000cc,#0000c5,#0000bf,#0000b8,#0000b2,#0000ab,#0000a5,#00009e,#000097,#000091,#00008a,#000084)"></i><i style="background:linear-gradient(90deg,#8f0000,#900000,#900000,#910000,#920000,#990000,#a00000,#a70000,#af0000,#ba0000,#c50000,#d00000,#db0000,#e40000,#ec0000,#f50000,#fd0000,#ff0300,#ff0700,#ff0c00,#ff1000,#ff2000,#ff2f00,#ff3e00,#ff4e00,#ff6900,#ff8500,#ffa100,#ffbd00,#ffc100,#ffc600,#ffca00,#ffcf00,#ffcf00,#ffcf00,#ffcf00,#ffcf00,#ffcf00,#ffcf00,#ffcf00,#ffcf00,#ffd500,#ffdc00,#ffe200,#ffe900,#fdff02,#e5ff1a,#cdff32,#b5ff4a,#8fff70,#6aff95,#45ffba,#20ffdf,#00f9ff,#00d4ff,#00afff,#008aff,#0074ff,#005eff,#0049ff,#0033ff,#002bff,#0026ff,#0025ff,#0027ff,#0025ff,#0019ff,#0009ff,#0000fa,#0000f3,#0000ee,#0000e9,#0000e4,#0000dd,#0000d7,#0000d0,#0000ca,#0000c3,#0000bd,#0000b6,#0000af)"></i><i style="background:linear-gradient(90deg,#8f0000,#900000,#900000,#910000,#920000,#990000,#a00000,#a70000,#af0000,#ba0000,#c50000,#d00000,#db0000,#e40000,#ec0000,#f50000,#fd0000,#ff0300,#ff0700,#ff0c00,#ff1000,#ff1f00,#ff2d00,#ff3c00,#ff4a00,#ff6100,#ff7800,#ff9000,#ffa700,#ffa900,#ffac00,#ffaf00,#ffb200,#ffb200,#ffb200,#ffb200,#ffb200,#ffb200,#ffb200,#ffb200,#ffb200,#ffb800,#ffbf00,#ffc500,#ffcc00,#ffe200,#fff800,#efff10,#d9ff26,#b5ff4a,#92ff6d,#6fff90,#4bffb4,#28ffd7,#04fffb,#00e0ff,#00bdff,#00a5ff,#008eff,#0076ff,#005fff,#0056ff,#0052ff,#0057ff,#0063ff,#0068ff,#0056ff,#003aff,#0025ff,#001eff,#001bff,#0017ff,#0012ff,#000aff,#0003ff,#0000fc,#0000f5,#0000ef,#0000e8,#0000e2,#0000db)"></i><i style="background:linear-gradient(90deg,#8f0000,#900000,#900000,#910000,#920000,#990000,#a00000,#a70000,#af0000,#ba0000,#c50000,#d00000,#db0000,#e40000,#ec0000,#f50000,#fd0000,#ff0300,#ff0700,#ff0c00,#ff1000,#ff1e00,#ff2b00,#ff3900,#ff4600,#ff5900,#ff6c00,#ff7e00,#ff9100,#ff9200,#ff9300,#ff9400,#ff9500,#ff9500,#ff9500,#ff9500,#ff9500,#ff9500,#ff9500,#ff9500,#ff9500,#ff9b00,#ffa200,#ffa800,#ffaf00,#ffc300,#ffd800,#ffec00,#fdff02,#dcff23,#baff45,#98ff67,#77ff88,#55ffaa,#34ffcb,#12ffed,#00efff,#00d6ff,#00bdff,#00a4ff,#008bff,#0080ff,#007dff,#0086ff,#0098ff,#00a1ff,#008cff,#0069ff,#0053ff,#0051ff,#0053ff,#004dff,#0044ff,#0038ff,#0030ff,#0029ff,#0022ff,#001bff,#0015ff,#000eff,#0008ff)"></i><i style="background:linear-gradient(90deg,#8f0000,#900000,#900000,#910000,#920000,#990000,#a00000,#a70000,#ae0000,#b90000,#c40000,#cf0000,#da0000,#e20000,#eb0000,#f30000,#fc0000,#ff0100,#ff0600,#ff0a00,#ff0f00,#ff1b00,#ff2800,#ff3400,#ff4100,#ff5000,#ff5e00,#ff6d00,#ff7b00,#ff7b00,#ff7b00,#ff7b00,#ff7b00,#ff7b00,#ff7b00,#ff7b00,#ff7b00,#ff7b00,#ff7a00,#ff7a00,#ff7900,#ff7f00,#ff8500,#ff8c00,#ff9200,#ffa400,#ffb700,#ffca00,#ffdc00,#fffd00,#e0ff1f,#bfff40,#9fff60,#7eff81,#5dffa2,#3dffc2,#1cffe3,#02fffd,#00e7ff,#00cdff,#00b3ff,#00a7ff,#00a1ff,#00a7ff,#00b5ff,#00bbff,#00a7ff,#008bff,#0080ff,#008eff,#0098ff,#008cff,#0077ff,#0062ff,#0056ff,#004fff,#0048ff,#0040ff,#0039ff,#0033ff,#002cff)"></i><i style="background:linear-gradient(90deg,#8e0000,#8f0000,#900000,#910000,#920000,#990000,#a00000,#a70000,#ad0000,#b80000,#c30000,#cd0000,#d80000,#e00000,#e80000,#f00000,#f90000,#fd0000,#ff0200,#ff0700,#ff0b00,#ff1700,#ff2200,#ff2e00,#ff3a00,#ff4500,#ff5000,#ff5a00,#ff6500,#ff6500,#ff6500,#ff6500,#ff6500,#ff6500,#ff6500,#ff6500,#ff6500,#ff6400,#ff6300,#ff6100,#ff6000,#ff6500,#ff6a00,#ff6f00,#ff7500,#ff8500,#ff9600,#ffa700,#ffb800,#ffd900,#fffa00,#e4ff1b,#c3ff3c,#a2ff5d,#82ff7d,#61ff9e,#40ffbf,#26ffd9,#0cfff3,#00f1ff,#00d7ff,#00cbff,#00c2ff,#00bfff,#00c1ff,#00c0ff,#00b1ff,#00a3ff,#00a9ff,#00caff,#00dbff,#00c9ff,#00a5ff,#0088ff,#007cff,#0075ff,#006cff,#0061ff,#0058ff,#0050ff,#0049ff)"></i><i style="background:linear-gradient(90deg,#8d0000,#8e0000,#900000,#910000,#920000,#990000,#9f0000,#a60000,#ad0000,#b70000,#c10000,#cb0000,#d60000,#de0000,#e60000,#ee0000,#f60000,#fa0000,#fe0000,#ff0300,#ff0700,#ff1200,#ff1d00,#ff2800,#ff3200,#ff3a00,#ff4100,#ff4800,#ff5000,#ff5000,#ff5000,#ff5000,#ff5000,#ff5000,#ff5000,#ff5000,#ff5000,#ff4d00,#ff4b00,#ff4900,#ff4600,#ff4b00,#ff4f00,#ff5300,#ff5800,#ff6700,#ff7600,#ff8500,#ff9400,#ffb500,#ffd500,#fff600,#e7ff18,#c7ff38,#a6ff59,#85ff7a,#65ff9a,#4affb5,#30ffcf,#16ffe9,#00fbff,#00eeff,#00e3ff,#00d9ff,#00d2ff,#00caff,#00beff,#00b9ff,#00c6ff,#00edff,#02fffd,#00eeff,#00c9ff,#00b0ff,#00adff,#00abff,#009dff,#0088ff,#0078ff,#006eff,#0066ff)"></i><i style="background:linear-gradient(90deg,#8d0000,#8e0000,#8f0000,#910000,#920000,#980000,#9f0000,#a50000,#ac0000,#b60000,#c00000,#ca0000,#d30000,#db0000,#e30000,#eb0000,#f30000,#f70000,#fb0000,#ff0000,#ff0400,#ff0e00,#ff1700,#ff2100,#ff2b00,#ff2f00,#ff3200,#ff3600,#ff3a00,#ff3a00,#ff3a00,#ff3a00,#ff3a00,#ff3a00,#ff3a00,#ff3a00,#ff3a00,#ff3700,#ff3300,#ff3000,#ff2d00,#ff3000,#ff3400,#ff3700,#ff3a00,#ff4800,#ff5500,#ff6200,#ff7000,#ff9000,#ffb100,#ffd200,#fff200,#ebff14,#caff35,#aaff55,#89ff76,#6fff90,#55ffaa,#3affc5,#20ffdf,#13ffec,#07fff8,#00f9ff,#00eeff,#00e2ff,#00d6ff,#00cfff,#00d5ff,#00f1ff,#01fffe,#00f3ff,#00dfff,#00daff,#00e9ff,#00f0ff,#00daff,#00b6ff,#009aff,#008cff,#0083ff)"></i><i style="background:linear-gradient(90deg,#8d0000,#8e0000,#8f0000,#900000,#920000,#980000,#9e0000,#a40000,#ab0000,#b40000,#bd0000,#c70000,#d00000,#d70000,#df0000,#e60000,#ee0000,#f10000,#f50000,#f80000,#fc0000,#ff0600,#ff0f00,#ff1800,#ff2100,#ff2400,#ff2700,#ff2a00,#ff2e00,#ff2e00,#ff2e00,#ff2e00,#ff2e00,#ff2e00,#ff2e00,#ff2e00,#ff2e00,#ff2a00,#ff2700,#ff2400,#ff2100,#ff2200,#ff2400,#ff2600,#ff2700,#ff3300,#ff3e00,#ff4a00,#ff5500,#ff7300,#ff9100,#ffb000,#ffce00,#ffeb00,#f5ff0a,#d8ff27,#baff45,#a0ff5f,#86ff79,#6cff93,#52ffad,#43ffbc,#34ffcb,#26ffd9,#17ffe8,#0afff5,#00fdff,#00f3ff,#00efff,#00faff,#00ffff,#00f9ff,#00f6ff,#04fffb,#23ffdc,#30ffcf,#15ffea,#00e5ff,#00c2ff,#00b0ff,#00a7ff)"></i><i style="background:linear-gradient(90deg,#8d0000,#8e0000,#8f0000,#900000,#920000,#980000,#9e0000,#a30000,#a90000,#b20000,#bb0000,#c40000,#cc0000,#d30000,#db0000,#e20000,#e90000,#ec0000,#ef0000,#f20000,#f40000,#fd0000,#ff0600,#ff0e00,#ff1600,#ff1900,#ff1c00,#ff2000,#ff2300,#ff2300,#ff2300,#ff2300,#ff2300,#ff2300,#ff2300,#ff2300,#ff2300,#ff2000,#ff1c00,#ff1900,#ff1600,#ff1600,#ff1500,#ff1500,#ff1500,#ff1f00,#ff2800,#ff3200,#ff3c00,#ff5700,#ff7300,#ff8e00,#ffaa00,#ffc300,#ffdd00,#fff700,#edff12,#d3ff2c,#b9ff46,#9fff60,#85ff7a,#74ff8b,#64ff9b,#53ffac,#43ffbc,#35ffca,#29ffd6,#1dffe2,#12ffed,#12ffed,#11ffee,#0efff1,#10ffef,#20ffdf,#3cffc3,#48ffb7,#2fffd0,#05fffa,#00e4ff,#00d4ff,#00cbff)"></i><i style="background:linear-gradient(90deg,#8d0000,#8e0000,#8f0000,#900000,#920000,#970000,#9d0000,#a20000,#a80000,#b00000,#b80000,#c00000,#c90000,#cf0000,#d60000,#dd0000,#e40000,#e60000,#e90000,#eb0000,#ed0000,#f40000,#fc0000,#ff0400,#ff0b00,#ff0e00,#ff1100,#ff1500,#ff1800,#ff1800,#ff1800,#ff1800,#ff1800,#ff1800,#ff1800,#ff1800,#ff1800,#ff1500,#ff1100,#ff0e00,#ff0b00,#ff0900,#ff0700,#ff0500,#ff0300,#ff0b00,#ff1300,#ff1a00,#ff2200,#ff3b00,#ff5400,#ff6d00,#ff8500,#ff9b00,#ffb200,#ffc800,#ffde00,#fff800,#ecff13,#d2ff2d,#b7ff48,#a5ff5a,#93ff6c,#80ff7f,#6eff91,#61ff9e,#54ffab,#47ffb8,#3affc5,#36ffc9,#31ffce,#2dffd2,#2cffd3,#33ffcc,#40ffbf,#44ffbb,#33ffcc,#19ffe6,#04fffb,#00f7ff,#00f0ff)"></i><i style="background:linear-gradient(90deg,#8d0000,#8e0000,#8f0000,#900000,#920000,#970000,#9c0000,#a10000,#a60000,#ae0000,#b60000,#bd0000,#c50000,#cb0000,#d20000,#d80000,#de0000,#e00000,#e20000,#e40000,#e60000,#ec0000,#f20000,#f90000,#ff0000,#ff0300,#ff0700,#ff0a00,#ff0d00,#ff0d00,#ff0d00,#ff0d00,#ff0d00,#ff0d00,#ff0d00,#ff0d00,#ff0d00,#ff0a00,#ff0700,#ff0300,#ff0000,#fc0000,#f80000,#f50000,#f20000,#f80000,#fe0000,#ff0500,#ff0b00,#ff2100,#ff3700,#ff4d00,#ff6300,#ff7600,#ff8900,#ff9c00,#ffaf00,#ffc900,#ffe300,#fffc00,#e8ff17,#d5ff2a,#c1ff3e,#adff52,#9aff65,#8dff72,#80ff7f,#72ff8d,#65ff9a,#5fffa0,#59ffa6,#52ffad,#4effb1,#4cffb3,#4dffb2,#4affb5,#40ffbf,#32ffcd,#26ffd9,#1effe1,#17ffe8)"></i><i style="background:linear-gradient(90deg,#8d0000,#8e0000,#8f0000,#900000,#910000,#960000,#9b0000,#a00000,#a50000,#ac0000,#b30000,#ba0000,#c10000,#c70000,#cd0000,#d20000,#d80000,#d90000,#db0000,#dd0000,#df0000,#e40000,#e90000,#ef0000,#f40000,#f70000,#fb0000,#fe0000,#ff0200,#ff0200,#ff0200,#ff0200,#ff0200,#ff0200,#ff0200,#ff0200,#ff0200,#fe0000,#fb0000,#f70000,#f40000,#f10000,#ee0000,#ea0000,#e70000,#eb0000,#ef0000,#f40000,#f80000,#ff0c00,#ff1f00,#ff3300,#ff4600,#ff5700,#ff6900,#ff7a00,#ff8b00,#ffa300,#ffbb00,#ffd300,#ffea00,#fffe00,#ecff13,#d9ff26,#c5ff3a,#b8ff47,#abff54,#9eff61,#91ff6e,#8aff75,#84ff7b,#7dff82,#77ff88,#72ff8d,#6dff92,#67ff98,#60ff9f,#58ffa7,#50ffaf,#49ffb6,#42ffbd)"></i><i style="background:linear-gradient(90deg,#8d0000,#8d0000,#8e0000,#8f0000,#900000,#950000,#9a0000,#9f0000,#a30000,#aa0000,#b10000,#b70000,#be0000,#c30000,#c70000,#cc0000,#d10000,#d30000,#d40000,#d60000,#d70000,#dc0000,#e00000,#e50000,#e90000,#ec0000,#f00000,#f30000,#f60000,#f60000,#f60000,#f60000,#f60000,#f60000,#f60000,#f60000,#f60000,#f30000,#f00000,#ec0000,#e90000,#e60000,#e30000,#df0000,#dc0000,#de0000,#e10000,#e30000,#e60000,#f60000,#ff0800,#ff1800,#ff2900,#ff3800,#ff4800,#ff5700,#ff6700,#ff7d00,#ff9300,#ffa900,#ffbf00,#ffd200,#ffe600,#fffa00,#f1ff0e,#e4ff1b,#d7ff28,#caff35,#bdff42,#b6ff49,#afff50,#a9ff56,#a2ff5d,#9cff63,#96ff69,#8fff70,#89ff76,#82ff7d,#7bff84,#75ff8a,#6eff91)"></i><i style="background:linear-gradient(90deg,#8d0000,#8d0000,#8e0000,#8f0000,#8f0000,#940000,#990000,#9d0000,#a20000,#a80000,#ae0000,#b40000,#ba0000,#be0000,#c20000,#c70000,#cb0000,#cc0000,#cd0000,#cf0000,#d00000,#d40000,#d70000,#db0000,#de0000,#e20000,#e50000,#e80000,#eb0000,#eb0000,#eb0000,#eb0000,#eb0000,#eb0000,#eb0000,#eb0000,#eb0000,#e80000,#e50000,#e20000,#de0000,#db0000,#d80000,#d50000,#d10000,#d20000,#d20000,#d30000,#d30000,#e10000,#ef0000,#fd0000,#ff0c00,#ff1a00,#ff2700,#ff3500,#ff4200,#ff5700,#ff6b00,#ff7f00,#ff9300,#ffa700,#ffba00,#ffce00,#ffe200,#ffef00,#fffc00,#f5ff0a,#e8ff17,#e2ff1d,#dbff24,#d5ff2a,#ceff31,#c7ff38,#c1ff3e,#baff45,#b4ff4b,#adff52,#a7ff58,#a0ff5f,#9aff65)"></i><i style="background:linear-gradient(90deg,#8c0000,#8d0000,#8e0000,#8e0000,#8f0000,#940000,#980000,#9c0000,#a00000,#a60000,#ab0000,#b10000,#b60000,#ba0000,#bd0000,#c10000,#c50000,#c60000,#c70000,#c80000,#c90000,#cc0000,#cf0000,#d20000,#d50000,#d80000,#db0000,#de0000,#e00000,#e00000,#e00000,#e00000,#e00000,#e00000,#e00000,#e00000,#e00000,#dd0000,#da0000,#d70000,#d40000,#d20000,#cf0000,#cc0000,#c90000,#c90000,#c90000,#c90000,#c90000,#d40000,#df0000,#ea0000,#f60000,#ff0200,#ff0e00,#ff1a00,#ff2600,#ff3700,#ff4900,#ff5b00,#ff6d00,#ff7e00,#ff9000,#ffa200,#ffb300,#ffc000,#ffcc00,#ffd900,#ffe500,#ffed00,#fff500,#fffd00,#faff05,#f0ff0f,#e7ff18,#deff21,#d5ff2a,#cfff30,#c8ff37,#c2ff3d,#bbff44)"></i><i style="background:linear-gradient(90deg,#8b0000,#8c0000,#8d0000,#8e0000,#8f0000,#930000,#970000,#9b0000,#9f0000,#a40000,#a80000,#ad0000,#b20000,#b50000,#b80000,#bc0000,#bf0000,#c00000,#c00000,#c10000,#c20000,#c40000,#c70000,#ca0000,#cc0000,#cf0000,#d10000,#d30000,#d60000,#d60000,#d60000,#d60000,#d60000,#d60000,#d60000,#d60000,#d60000,#d30000,#d00000,#ce0000,#cb0000,#c90000,#c60000,#c40000,#c20000,#c20000,#c20000,#c20000,#c20000,#ca0000,#d30000,#db0000,#e30000,#ed0000,#f70000,#ff0200,#ff0c00,#ff1b00,#ff2a00,#ff3900,#ff4800,#ff5700,#ff6600,#ff7500,#ff8400,#ff9000,#ff9b00,#ffa700,#ffb200,#ffbc00,#ffc600,#ffcf00,#ffd900,#ffe600,#fff200,#ffff00,#f2ff0d,#ecff13,#e5ff1a,#dfff20,#d8ff27)"></i><i style="background:linear-gradient(90deg,#8b0000,#8c0000,#8d0000,#8e0000,#8f0000,#930000,#960000,#9a0000,#9e0000,#a10000,#a50000,#a90000,#ad0000,#b00000,#b30000,#b60000,#b90000,#b90000,#ba0000,#ba0000,#ba0000,#bd0000,#bf0000,#c10000,#c30000,#c50000,#c70000,#c90000,#cb0000,#cb0000,#cb0000,#cb0000,#cb0000,#cb0000,#cb0000,#cb0000,#cb0000,#c80000,#c60000,#c40000,#c20000,#c00000,#be0000,#bc0000,#ba0000,#ba0000,#ba0000,#ba0000,#ba0000,#c00000,#c60000,#cc0000,#d10000,#d90000,#e20000,#ea0000,#f20000,#fe0000,#ff0b00,#ff1800,#ff2400,#ff3000,#ff3c00,#ff4900,#ff5500,#ff6000,#ff6a00,#ff7500,#ff7f00,#ff8b00,#ff9600,#ffa200,#ffad00,#ffbe00,#ffce00,#ffde00,#ffef00,#fff500,#fffc00,#fcff03,#f5ff0a)"></i><i style="background:linear-gradient(90deg,#8a0000,#8b0000,#8d0000,#8e0000,#8f0000,#920000,#960000,#990000,#9c0000,#9f0000,#a30000,#a60000,#a90000,#ac0000,#ae0000,#b10000,#b30000,#b30000,#b30000,#b30000,#b30000,#b50000,#b70000,#b90000,#bb0000,#bc0000,#be0000,#bf0000,#c00000,#c00000,#c00000,#c00000,#c00000,#c00000,#c00000,#c00000,#c00000,#be0000,#bc0000,#ba0000,#b80000,#b70000,#b60000,#b50000,#b30000,#b30000,#b30000,#b30000,#b30000,#b70000,#ba0000,#bd0000,#c00000,#c70000,#cd0000,#d30000,#da0000,#e30000,#ed0000,#f70000,#ff0100,#ff0b00,#ff1500,#ff1e00,#ff2800,#ff3200,#ff3b00,#ff4500,#ff4f00,#ff5c00,#ff6800,#ff7500,#ff8200,#ff9500,#ffa800,#ffbc00,#ffcf00,#ffd500,#ffdc00,#ffe200,#ffe900)"></i><i style="background:linear-gradient(90deg,#8a0000,#8b0000,#8c0000,#8d0000,#8e0000,#910000,#950000,#980000,#9b0000,#9e0000,#a00000,#a30000,#a60000,#a80000,#ab0000,#ad0000,#af0000,#af0000,#af0000,#ae0000,#ae0000,#b00000,#b20000,#b30000,#b50000,#b60000,#b70000,#b80000,#b90000,#b90000,#b90000,#b90000,#b90000,#b90000,#b90000,#b90000,#b90000,#b70000,#b60000,#b40000,#b30000,#b20000,#b10000,#b00000,#af0000,#af0000,#af0000,#af0000,#af0000,#b10000,#b40000,#b60000,#b90000,#be0000,#c30000,#c80000,#cd0000,#d50000,#dd0000,#e50000,#ed0000,#f50000,#fd0000,#ff0600,#ff0f00,#ff1700,#ff2000,#ff2900,#ff3200,#ff3c00,#ff4600,#ff5000,#ff5a00,#ff6900,#ff7700,#ff8600,#ff9500,#ff9b00,#ffa200,#ffa800,#ffaf00)"></i><i style="background:linear-gradient(90deg,#8a0000,#8b0000,#8c0000,#8d0000,#8e0000,#910000,#930000,#960000,#990000,#9c0000,#9e0000,#a10000,#a30000,#a50000,#a70000,#a90000,#ab0000,#aa0000,#aa0000,#aa0000,#a90000,#ab0000,#ac0000,#ae0000,#af0000,#b00000,#b10000,#b10000,#b20000,#b20000,#b20000,#b20000,#b20000,#b20000,#b20000,#b20000,#b20000,#b00000,#af0000,#ae0000,#ad0000,#ac0000,#ac0000,#ab0000,#ab0000,#ab0000,#ab0000,#ab0000,#ab0000,#ac0000,#ae0000,#b00000,#b20000,#b50000,#b90000,#bd0000,#c10000,#c70000,#cd0000,#d30000,#d90000,#e00000,#e70000,#ed0000,#f40000,#fc0000,#ff0500,#ff0d00,#ff1500,#ff1c00,#ff2300,#ff2b00,#ff3200,#ff3c00,#ff4600,#ff5000,#ff5a00,#ff6100,#ff6800,#ff6e00,#ff7500)"></i><i style="background:linear-gradient(90deg,#8a0000,#8b0000,#8b0000,#8c0000,#8d0000,#900000,#920000,#950000,#980000,#9a0000,#9c0000,#9e0000,#a00000,#a20000,#a30000,#a50000,#a60000,#a60000,#a50000,#a50000,#a40000,#a50000,#a70000,#a80000,#aa0000,#aa0000,#aa0000,#aa0000,#aa0000,#aa0000,#aa0000,#aa0000,#aa0000,#aa0000,#aa0000,#aa0000,#aa0000,#aa0000,#a90000,#a80000,#a70000,#a70000,#a70000,#a60000,#a60000,#a60000,#a60000,#a60000,#a60000,#a70000,#a80000,#a90000,#aa0000,#ad0000,#b00000,#b20000,#b50000,#b90000,#bd0000,#c10000,#c50000,#cb0000,#d00000,#d50000,#db0000,#e20000,#e90000,#f00000,#f70000,#fb0000,#ff0100,#ff0600,#ff0a00,#ff1000,#ff1500,#ff1b00,#ff2000,#ff2700,#ff2d00,#ff3400,#ff3a00)"></i><i style="background:linear-gradient(90deg,#8a0000,#8a0000,#8b0000,#8c0000,#8c0000,#8f0000,#910000,#940000,#960000,#980000,#9a0000,#9c0000,#9e0000,#9f0000,#a00000,#a10000,#a30000,#a20000,#a20000,#a10000,#a00000,#a20000,#a30000,#a40000,#a50000,#a50000,#a50000,#a50000,#a50000,#a50000,#a50000,#a50000,#a50000,#a50000,#a50000,#a50000,#a50000,#a40000,#a40000,#a30000,#a30000,#a30000,#a30000,#a30000,#a30000,#a30000,#a30000,#a30000,#a30000,#a30000,#a40000,#a40000,#a50000,#a70000,#a80000,#aa0000,#ac0000,#af0000,#b20000,#b50000,#b80000,#bc0000,#c00000,#c40000,#c80000,#ce0000,#d40000,#d90000,#df0000,#e20000,#e50000,#e80000,#eb0000,#ee0000,#f10000,#f40000,#f70000,#fd0000,#ff0400,#ff0900,#ff0f00)"></i><i style="background:linear-gradient(90deg,#890000,#8a0000,#8a0000,#8b0000,#8b0000,#8e0000,#900000,#930000,#950000,#970000,#980000,#9a0000,#9c0000,#9d0000,#9e0000,#9f0000,#a00000,#9f0000,#9f0000,#9f0000,#9e0000,#9f0000,#a00000,#a10000,#a10000,#a10000,#a10000,#a10000,#a10000,#a10000,#a10000,#a10000,#a10000,#a10000,#a10000,#a10000,#a10000,#a10000,#a10000,#a00000,#a00000,#a00000,#a00000,#a00000,#a00000,#a00000,#a00000,#a00000,#a00000,#a00000,#a10000,#a10000,#a10000,#a30000,#a40000,#a60000,#a70000,#a90000,#ab0000,#ad0000,#b00000,#b30000,#b60000,#b90000,#bd0000,#c10000,#c50000,#c90000,#cd0000,#cf0000,#d20000,#d40000,#d70000,#d90000,#dc0000,#df0000,#e20000,#e50000,#e90000,#ed0000,#f10000)"></i><i style="background:linear-gradient(90deg,#880000,#890000,#890000,#8a0000,#8b0000,#8d0000,#8f0000,#910000,#930000,#950000,#960000,#980000,#990000,#9a0000,#9b0000,#9c0000,#9d0000,#9d0000,#9c0000,#9c0000,#9c0000,#9c0000,#9d0000,#9d0000,#9e0000,#9e0000,#9e0000,#9e0000,#9e0000,#9e0000,#9e0000,#9e0000,#9e0000,#9e0000,#9e0000,#9e0000,#9e0000,#9d0000,#9d0000,#9d0000,#9d0000,#9d0000,#9d0000,#9d0000,#9d0000,#9d0000,#9d0000,#9d0000,#9d0000,#9d0000,#9d0000,#9d0000,#9e0000,#9f0000,#a00000,#a10000,#a20000,#a30000,#a50000,#a60000,#a80000,#aa0000,#ac0000,#af0000,#b10000,#b30000,#b60000,#b80000,#bb0000,#bd0000,#bf0000,#c00000,#c20000,#c50000,#c70000,#c90000,#cc0000,#ce0000,#d00000,#d20000,#d40000)"></i><i style="background:linear-gradient(90deg,#870000,#880000,#890000,#890000,#8a0000,#8c0000,#8e0000,#900000,#920000,#930000,#950000,#960000,#970000,#980000,#990000,#990000,#9a0000,#9a0000,#9a0000,#9a0000,#9a0000,#9a0000,#9a0000,#9a0000,#9a0000,#9a0000,#9a0000,#9a0000,#9a0000,#9a0000,#9a0000,#9a0000,#9a0000,#9a0000,#9a0000,#9a0000,#9a0000,#9a0000,#9a0000,#9a0000,#9a0000,#9a0000,#9a0000,#9a0000,#9a0000,#9a0000,#9a0000,#9a0000,#9a0000,#9a0000,#9a0000,#9a0000,#9a0000,#9b0000,#9b0000,#9c0000,#9d0000,#9e0000,#9e0000,#9f0000,#a00000,#a10000,#a20000,#a40000,#a50000,#a60000,#a70000,#a80000,#a90000,#aa0000,#ab0000,#ad0000,#ae0000,#b00000,#b20000,#b40000,#b60000,#b60000,#b60000,#b70000,#b70000)"></i><i style="background:linear-gradient(90deg,#870000,#880000,#890000,#890000,#8a0000,#8c0000,#8d0000,#8f0000,#900000,#920000,#930000,#940000,#960000,#960000,#970000,#980000,#980000,#980000,#980000,#980000,#980000,#980000,#980000,#980000,#980000,#980000,#980000,#980000,#980000,#980000,#980000,#980000,#980000,#980000,#980000,#980000,#980000,#980000,#980000,#980000,#980000,#980000,#980000,#980000,#980000,#980000,#980000,#980000,#980000,#980000,#980000,#980000,#980000,#990000,#990000,#9a0000,#9a0000,#9b0000,#9b0000,#9c0000,#9c0000,#9d0000,#9e0000,#9f0000,#a00000,#a10000,#a10000,#a20000,#a20000,#a30000,#a40000,#a60000,#a70000,#a80000,#aa0000,#ac0000,#ad0000,#ad0000,#ad0000,#ad0000,#ad0000)"></i><i style="background:linear-gradient(90deg,#870000,#880000,#890000,#890000,#8a0000,#8b0000,#8d0000,#8e0000,#8f0000,#900000,#920000,#930000,#940000,#950000,#960000,#960000,#970000,#970000,#970000,#970000,#970000,#970000,#970000,#970000,#970000,#970000,#970000,#970000,#970000,#970000,#970000,#970000,#970000,#970000,#970000,#970000,#970000,#970000,#970000,#970000,#970000,#970000,#970000,#970000,#970000,#970000,#970000,#970000,#970000,#970000,#970000,#970000,#970000,#970000,#980000,#980000,#980000,#980000,#990000,#990000,#990000,#9a0000,#9b0000,#9b0000,#9c0000,#9c0000,#9c0000,#9d0000,#9d0000,#9e0000,#9f0000,#a00000,#a10000,#a20000,#a30000,#a50000,#a60000,#a60000,#a60000,#a60000,#a60000)"></i><i style="background:linear-gradient(90deg,#870000,#880000,#890000,#890000,#8a0000,#8b0000,#8c0000,#8d0000,#8e0000,#8f0000,#900000,#920000,#930000,#930000,#940000,#950000,#950000,#950000,#950000,#950000,#950000,#950000,#950000,#950000,#950000,#950000,#950000,#950000,#950000,#950000,#950000,#950000,#950000,#950000,#950000,#950000,#950000,#950000,#950000,#950000,#950000,#950000,#950000,#950000,#950000,#950000,#950000,#950000,#950000,#950000,#950000,#950000,#950000,#960000,#960000,#960000,#960000,#960000,#960000,#960000,#960000,#970000,#970000,#970000,#970000,#980000,#980000,#980000,#980000,#990000,#9a0000,#9a0000,#9b0000,#9c0000,#9d0000,#9e0000,#9f0000,#9f0000,#9f0000,#9f0000,#9f0000)"></i><i style="background:linear-gradient(90deg,#870000,#880000,#890000,#890000,#8a0000,#8b0000,#8b0000,#8c0000,#8d0000,#8e0000,#900000,#910000,#920000,#930000,#940000,#940000,#950000,#950000,#950000,#950000,#950000,#950000,#950000,#950000,#950000,#950000,#950000,#950000,#950000,#950000,#950000,#950000,#950000,#950000,#950000,#950000,#950000,#950000,#950000,#950000,#950000,#950000,#950000,#950000,#950000,#950000,#950000,#950000,#950000,#950000,#950000,#950000,#950000,#950000,#950000,#950000,#950000,#950000,#950000,#950000,#950000,#950000,#960000,#960000,#960000,#960000,#960000,#960000,#960000,#970000,#970000,#980000,#990000,#9a0000,#9a0000,#9b0000,#9c0000,#9c0000,#9c0000,#9c0000,#9c0000)"></i><i style="background:linear-gradient(90deg,#870000,#880000,#890000,#890000,#8a0000,#8b0000,#8c0000,#8d0000,#8e0000,#900000,#910000,#920000,#940000,#940000,#950000,#960000,#960000,#960000,#960000,#960000,#960000,#960000,#960000,#960000,#960000,#960000,#960000,#960000,#960000,#960000,#960000,#960000,#960000,#960000,#960000,#960000,#960000,#960000,#960000,#960000,#960000,#960000,#960000,#960000,#960000,#960000,#960000,#960000,#960000,#960000,#960000,#960000,#960000,#970000,#970000,#970000,#970000,#970000,#980000,#980000,#980000,#990000,#990000,#9a0000,#9a0000,#9a0000,#9b0000,#9b0000,#9b0000,#9c0000,#9d0000,#9e0000,#9f0000,#a00000,#a10000,#a20000,#a30000,#a30000,#a30000,#a30000,#a30000)"></i><i style="background:linear-gradient(90deg,#870000,#880000,#890000,#890000,#8a0000,#8b0000,#8d0000,#8e0000,#900000,#910000,#930000,#940000,#950000,#960000,#960000,#970000,#980000,#980000,#980000,#980000,#980000,#980000,#980000,#980000,#980000,#980000,#980000,#980000,#980000,#980000,#980000,#980000,#980000,#980000,#980000,#980000,#980000,#980000,#980000,#980000,#980000,#980000,#980000,#980000,#980000,#980000,#980000,#980000,#980000,#980000,#980000,#980000,#980000,#980000,#990000,#990000,#990000,#9a0000,#9a0000,#9b0000,#9b0000,#9c0000,#9d0000,#9e0000,#9e0000,#9f0000,#9f0000,#a00000,#a00000,#a10000,#a20000,#a30000,#a40000,#a60000,#a70000,#a90000,#aa0000,#aa0000,#aa0000,#aa0000,#aa0000)"></i><i style="background:linear-gradient(90deg,#870000,#880000,#890000,#890000,#8a0000,#8c0000,#8e0000,#900000,#910000,#930000,#940000,#950000,#970000,#970000,#980000,#990000,#990000,#990000,#990000,#990000,#990000,#990000,#990000,#990000,#990000,#990000,#990000,#990000,#990000,#990000,#990000,#990000,#990000,#990000,#990000,#990000,#990000,#990000,#990000,#990000,#990000,#990000,#990000,#990000,#990000,#990000,#990000,#990000,#990000,#990000,#990000,#990000,#990000,#9a0000,#9a0000,#9b0000,#9c0000,#9c0000,#9d0000,#9d0000,#9e0000,#9f0000,#a00000,#a20000,#a30000,#a30000,#a40000,#a50000,#a50000,#a60000,#a80000,#a90000,#aa0000,#ac0000,#ae0000,#b00000,#b20000,#b20000,#b20000,#b20000,#b20000)"></i><i style="background:linear-gradient(90deg,#880000,#890000,#890000,#8a0000,#8a0000,#8d0000,#8f0000,#910000,#930000,#940000,#960000,#970000,#990000,#990000,#9a0000,#9b0000,#9c0000,#9c0000,#9b0000,#9b0000,#9b0000,#9b0000,#9c0000,#9c0000,#9c0000,#9c0000,#9c0000,#9c0000,#9c0000,#9c0000,#9c0000,#9c0000,#9c0000,#9c0000,#9c0000,#9c0000,#9c0000,#9c0000,#9c0000,#9c0000,#9c0000,#9c0000,#9c0000,#9c0000,#9c0000,#9c0000,#9c0000,#9c0000,#9c0000,#9c0000,#9c0000,#9c0000,#9c0000,#9d0000,#9e0000,#9f0000,#a00000,#a10000,#a20000,#a30000,#a40000,#a60000,#a80000,#aa0000,#ac0000,#ae0000,#b00000,#b20000,#b30000,#b50000,#b70000,#b90000,#ba0000,#bc0000,#bf0000,#c10000,#c30000,#c40000,#c60000,#c70000,#c80000)"></i><i style="background:linear-gradient(90deg,#890000,#890000,#8a0000,#8b0000,#8b0000,#8d0000,#900000,#920000,#940000,#960000,#980000,#990000,#9b0000,#9c0000,#9d0000,#9e0000,#9f0000,#9e0000,#9e0000,#9e0000,#9d0000,#9e0000,#9f0000,#9f0000,#a00000,#a00000,#a00000,#a00000,#a00000,#a00000,#a00000,#a00000,#a00000,#a00000,#a00000,#a00000,#a00000,#a00000,#9f0000,#9f0000,#9f0000,#9f0000,#9f0000,#9f0000,#9f0000,#9f0000,#9f0000,#9f0000,#9f0000,#9f0000,#9f0000,#a00000,#a00000,#a10000,#a20000,#a40000,#a50000,#a70000,#a90000,#ab0000,#ac0000,#af0000,#b20000,#b50000,#b80000,#bb0000,#bf0000,#c20000,#c60000,#c80000,#ca0000,#cc0000,#cf0000,#d10000,#d40000,#d60000,#d90000,#dc0000,#df0000,#e20000,#e50000)"></i><i style="background:linear-gradient(90deg,#890000,#8a0000,#8b0000,#8b0000,#8c0000,#8e0000,#910000,#930000,#960000,#980000,#990000,#9b0000,#9d0000,#9e0000,#9f0000,#a00000,#a10000,#a10000,#a10000,#a00000,#a00000,#a10000,#a10000,#a20000,#a30000,#a30000,#a30000,#a30000,#a30000,#a30000,#a30000,#a30000,#a30000,#a30000,#a30000,#a30000,#a30000,#a30000,#a20000,#a20000,#a10000,#a10000,#a10000,#a10000,#a10000,#a10000,#a10000,#a10000,#a10000,#a20000,#a20000,#a30000,#a30000,#a50000,#a70000,#a80000,#aa0000,#ad0000,#af0000,#b20000,#b40000,#b80000,#bc0000,#c00000,#c30000,#c90000,#ce0000,#d30000,#d80000,#db0000,#dd0000,#e00000,#e30000,#e60000,#e90000,#ec0000,#ef0000,#f40000,#f80000,#fd0000,#ff0300)"></i><i style="background:linear-gradient(90deg,#8a0000,#8b0000,#8b0000,#8c0000,#8d0000,#8f0000,#920000,#950000,#970000,#990000,#9b0000,#9d0000,#9f0000,#a10000,#a20000,#a30000,#a50000,#a40000,#a30000,#a30000,#a20000,#a30000,#a50000,#a60000,#a70000,#a70000,#a70000,#a70000,#a70000,#a70000,#a70000,#a70000,#a70000,#a70000,#a70000,#a70000,#a70000,#a70000,#a60000,#a50000,#a50000,#a50000,#a50000,#a50000,#a50000,#a50000,#a50000,#a50000,#a50000,#a50000,#a60000,#a70000,#a70000,#aa0000,#ac0000,#ae0000,#b00000,#b30000,#b70000,#ba0000,#be0000,#c20000,#c70000,#cc0000,#d10000,#d70000,#de0000,#e40000,#eb0000,#ef0000,#f20000,#f60000,#f90000,#fd0000,#ff0200,#ff0500,#ff0900,#ff1000,#ff1600,#ff1d00,#ff2300)"></i><i style="background:linear-gradient(90deg,#8a0000,#8b0000,#8c0000,#8d0000,#8d0000,#900000,#930000,#960000,#990000,#9b0000,#9d0000,#a00000,#a20000,#a40000,#a50000,#a70000,#a90000,#a80000,#a80000,#a80000,#a70000,#a90000,#aa0000,#ac0000,#ad0000,#ae0000,#ae0000,#ae0000,#af0000,#af0000,#af0000,#af0000,#af0000,#af0000,#af0000,#af0000,#af0000,#ae0000,#ad0000,#ac0000,#ab0000,#aa0000,#aa0000,#a90000,#a90000,#a90000,#a90000,#a90000,#a90000,#aa0000,#ac0000,#ad0000,#af0000,#b20000,#b50000,#b90000,#bc0000,#c10000,#c70000,#cc0000,#d10000,#d70000,#de0000,#e40000,#ea0000,#f10000,#f90000,#ff0200,#ff0900,#ff0f00,#ff1600,#ff1c00,#ff2200,#ff2a00,#ff3300,#ff3b00,#ff4300,#ff4a00,#ff5000,#ff5700,#ff5d00)"></i><i style="background:linear-gradient(90deg,#8a0000,#8b0000,#8c0000,#8d0000,#8e0000,#910000,#940000,#970000,#9a0000,#9d0000,#a00000,#a20000,#a50000,#a70000,#a90000,#ab0000,#ad0000,#ad0000,#ad0000,#ac0000,#ac0000,#ae0000,#b00000,#b10000,#b30000,#b40000,#b40000,#b50000,#b60000,#b60000,#b60000,#b60000,#b60000,#b60000,#b60000,#b60000,#b60000,#b50000,#b30000,#b20000,#b00000,#b00000,#af0000,#ae0000,#ad0000,#ad0000,#ad0000,#ad0000,#ad0000,#af0000,#b20000,#b40000,#b60000,#bb0000,#bf0000,#c40000,#c90000,#d00000,#d70000,#de0000,#e50000,#ec0000,#f40000,#fc0000,#ff0400,#ff0d00,#ff1500,#ff1e00,#ff2600,#ff2f00,#ff3800,#ff4100,#ff4a00,#ff5700,#ff6400,#ff7100,#ff7d00,#ff8400,#ff8a00,#ff9100,#ff9700)"></i><i style="background:linear-gradient(90deg,#8a0000,#8b0000,#8c0000,#8e0000,#8f0000,#920000,#950000,#980000,#9c0000,#9f0000,#a20000,#a50000,#a80000,#aa0000,#ad0000,#af0000,#b20000,#b20000,#b10000,#b10000,#b10000,#b30000,#b50000,#b70000,#b90000,#ba0000,#bb0000,#bc0000,#bd0000,#bd0000,#bd0000,#bd0000,#bd0000,#bd0000,#bd0000,#bd0000,#bd0000,#bb0000,#ba0000,#b80000,#b60000,#b50000,#b40000,#b30000,#b20000,#b20000,#b20000,#b20000,#b20000,#b50000,#b70000,#ba0000,#bd0000,#c30000,#c90000,#cf0000,#d50000,#de0000,#e70000,#f00000,#f80000,#ff0300,#ff0c00,#ff1500,#ff1e00,#ff2700,#ff3000,#ff3a00,#ff4300,#ff4f00,#ff5b00,#ff6600,#ff7200,#ff8300,#ff9500,#ffa600,#ffb700,#ffbe00,#ffc500,#ffcb00,#ffd200)"></i><i style="background:linear-gradient(90deg,#8a0000,#8c0000,#8d0000,#8e0000,#8f0000,#930000,#960000,#9a0000,#9d0000,#a10000,#a40000,#a80000,#ac0000,#ae0000,#b10000,#b40000,#b70000,#b70000,#b70000,#b70000,#b70000,#ba0000,#bc0000,#be0000,#c00000,#c20000,#c30000,#c50000,#c60000,#c60000,#c60000,#c60000,#c60000,#c60000,#c60000,#c60000,#c60000,#c40000,#c20000,#c00000,#be0000,#bc0000,#bb0000,#b90000,#b70000,#b70000,#b70000,#b70000,#b70000,#bc0000,#c10000,#c50000,#ca0000,#d10000,#d90000,#e00000,#e80000,#f30000,#fe0000,#ff0a00,#ff1500,#ff2100,#ff2c00,#ff3700,#ff4200,#ff4c00,#ff5700,#ff6100,#ff6b00,#ff7700,#ff8300,#ff9000,#ff9c00,#ffae00,#ffbf00,#ffd100,#ffe300,#ffea00,#fff000,#fff700,#fffd00)"></i><i style="background:linear-gradient(90deg,#8b0000,#8c0000,#8d0000,#8e0000,#8f0000,#930000,#970000,#9b0000,#9e0000,#a30000,#a70000,#ac0000,#b00000,#b30000,#b60000,#b90000,#bd0000,#bd0000,#be0000,#be0000,#bf0000,#c10000,#c40000,#c60000,#c90000,#cb0000,#cd0000,#cf0000,#d10000,#d10000,#d10000,#d10000,#d10000,#d10000,#d10000,#d10000,#d10000,#cf0000,#cc0000,#ca0000,#c70000,#c50000,#c30000,#c10000,#bf0000,#bf0000,#bf0000,#bf0000,#bf0000,#c60000,#cd0000,#d50000,#dc0000,#e50000,#ef0000,#f80000,#ff0200,#ff1000,#ff1e00,#ff2c00,#ff3a00,#ff4800,#ff5600,#ff6300,#ff7100,#ff7d00,#ff8800,#ff9300,#ff9e00,#ffa800,#ffb300,#ffbd00,#ffc700,#ffd600,#ffe400,#fff200,#feff01,#f7ff08,#f1ff0e,#eaff15,#e4ff1b)"></i><i style="background:linear-gradient(90deg,#8c0000,#8d0000,#8d0000,#8e0000,#8f0000,#930000,#980000,#9c0000,#a00000,#a50000,#aa0000,#af0000,#b40000,#b80000,#bb0000,#bf0000,#c20000,#c30000,#c40000,#c50000,#c60000,#c90000,#cc0000,#cf0000,#d10000,#d40000,#d70000,#d90000,#dc0000,#dc0000,#dc0000,#dc0000,#dc0000,#dc0000,#dc0000,#dc0000,#dc0000,#d90000,#d60000,#d40000,#d10000,#ce0000,#cb0000,#c90000,#c60000,#c60000,#c60000,#c60000,#c60000,#d00000,#da0000,#e40000,#ee0000,#f90000,#ff0500,#ff1100,#ff1c00,#ff2c00,#ff3d00,#ff4d00,#ff5e00,#ff6f00,#ff7f00,#ff9000,#ffa100,#ffad00,#ffb900,#ffc500,#ffd100,#ffd900,#ffe200,#ffea00,#fff300,#fffe00,#f6ff09,#ebff14,#e1ff1e,#daff25,#d4ff2b,#cdff32,#c7ff38)"></i><i style="background:linear-gradient(90deg,#8d0000,#8d0000,#8e0000,#8f0000,#8f0000,#940000,#980000,#9d0000,#a10000,#a70000,#ad0000,#b30000,#b90000,#bc0000,#c00000,#c40000,#c80000,#c90000,#cb0000,#cc0000,#cd0000,#d00000,#d40000,#d70000,#da0000,#dd0000,#e10000,#e40000,#e70000,#e70000,#e70000,#e70000,#e70000,#e70000,#e70000,#e70000,#e70000,#e40000,#e10000,#dd0000,#da0000,#d70000,#d40000,#d00000,#cd0000,#cd0000,#cd0000,#cd0000,#cd0000,#da0000,#e70000,#f40000,#ff0100,#ff0e00,#ff1b00,#ff2800,#ff3500,#ff4800,#ff5c00,#ff6f00,#ff8200,#ff9600,#ffa900,#ffbc00,#ffd000,#ffdd00,#ffea00,#fff700,#faff05,#f4ff0b,#edff12,#e6ff19,#dfff20,#d9ff26,#d2ff2d,#cbff34,#c4ff3b,#bdff42,#b7ff48,#b0ff4f,#aaff55)"></i><i style="background:linear-gradient(90deg,#8d0000,#8d0000,#8e0000,#8f0000,#900000,#950000,#990000,#9e0000,#a30000,#a90000,#b00000,#b60000,#bc0000,#c10000,#c50000,#ca0000,#cf0000,#d00000,#d20000,#d30000,#d50000,#d90000,#dd0000,#e10000,#e50000,#e80000,#eb0000,#ef0000,#f20000,#f20000,#f20000,#f20000,#f20000,#f20000,#f20000,#f20000,#f20000,#ef0000,#eb0000,#e80000,#e50000,#e20000,#de0000,#db0000,#d80000,#d90000,#db0000,#dd0000,#de0000,#ee0000,#fd0000,#ff0e00,#ff1d00,#ff2c00,#ff3b00,#ff4a00,#ff5800,#ff6e00,#ff8300,#ff9800,#ffad00,#ffc100,#ffd400,#ffe800,#fffc00,#f5ff0a,#e8ff17,#dbff24,#ceff31,#c7ff38,#c1ff3e,#baff45,#b4ff4b,#adff52,#a7ff58,#a0ff5f,#9aff65,#93ff6c,#8dff72,#86ff79,#80ff7f)"></i><i style="background:linear-gradient(90deg,#8d0000,#8e0000,#8f0000,#900000,#910000,#950000,#9a0000,#9f0000,#a40000,#ab0000,#b20000,#b90000,#c00000,#c50000,#cb0000,#d00000,#d50000,#d70000,#d80000,#da0000,#dc0000,#e10000,#e60000,#eb0000,#f00000,#f30000,#f60000,#fa0000,#fd0000,#fd0000,#fd0000,#fd0000,#fd0000,#fd0000,#fd0000,#fd0000,#fd0000,#fa0000,#f60000,#f30000,#f00000,#ec0000,#e90000,#e60000,#e30000,#e60000,#ea0000,#ed0000,#f00000,#ff0400,#ff1600,#ff2800,#ff3a00,#ff4b00,#ff5c00,#ff6c00,#ff7d00,#ff9400,#ffab00,#ffc200,#ffd900,#ffec00,#feff01,#eaff15,#d7ff28,#caff35,#bdff42,#afff50,#a2ff5d,#9cff63,#95ff6a,#8fff70,#89ff76,#83ff7c,#7dff82,#77ff88,#70ff8f,#68ff97,#61ff9e,#5bffa4,#54ffab)"></i><i style="background:linear-gradient(90deg,#8d0000,#8e0000,#8f0000,#900000,#910000,#960000,#9c0000,#a10000,#a60000,#ad0000,#b50000,#bc0000,#c40000,#ca0000,#d00000,#d60000,#dc0000,#de0000,#df0000,#e10000,#e30000,#e90000,#ef0000,#f50000,#fb0000,#fe0000,#ff0200,#ff0500,#ff0900,#ff0900,#ff0900,#ff0900,#ff0900,#ff0900,#ff0900,#ff0900,#ff0900,#ff0500,#ff0200,#fe0000,#fb0000,#f70000,#f40000,#f10000,#ee0000,#f30000,#f80000,#fd0000,#ff0400,#ff1900,#ff2e00,#ff4300,#ff5800,#ff6a00,#ff7c00,#ff8f00,#ffa100,#ffba00,#ffd300,#ffec00,#faff05,#e6ff19,#d2ff2d,#bfff40,#abff54,#9eff61,#91ff6e,#84ff7b,#77ff88,#70ff8f,#6aff95,#64ff9b,#5effa1,#5bffa4,#58ffa7,#54ffab,#4bffb4,#40ffbf,#37ffc8,#2fffd0,#28ffd7)"></i><i style="background:linear-gradient(90deg,#8d0000,#8e0000,#8f0000,#900000,#920000,#970000,#9c0000,#a20000,#a70000,#af0000,#b70000,#bf0000,#c70000,#ce0000,#d50000,#db0000,#e20000,#e40000,#e60000,#e80000,#ea0000,#f10000,#f80000,#ff0000,#ff0700,#ff0a00,#ff0d00,#ff1000,#ff1400,#ff1400,#ff1400,#ff1400,#ff1400,#ff1400,#ff1400,#ff1400,#ff1400,#ff1000,#ff0d00,#ff0a00,#ff0700,#ff0400,#ff0100,#fd0000,#fb0000,#ff0300,#ff0a00,#ff1100,#ff1800,#ff3000,#ff4700,#ff5f00,#ff7700,#ff8b00,#ffa000,#ffb500,#ffca00,#ffe400,#fffe00,#e6ff19,#ccff33,#b9ff46,#a6ff59,#93ff6c,#80ff7f,#72ff8d,#65ff9a,#58ffa7,#4cffb3,#46ffb9,#40ffbf,#3bffc4,#38ffc7,#3bffc4,#43ffbc,#43ffbc,#36ffc9,#21ffde,#11ffee,#06fff9,#00feff)"></i><i style="background:linear-gradient(90deg,#8d0000,#8e0000,#8f0000,#900000,#920000,#980000,#9d0000,#a30000,#a90000,#b10000,#ba0000,#c20000,#cb0000,#d20000,#d90000,#e00000,#e70000,#ea0000,#ec0000,#ef0000,#f20000,#f90000,#ff0200,#ff0a00,#ff1100,#ff1500,#ff1800,#ff1b00,#ff1f00,#ff1f00,#ff1f00,#ff1f00,#ff1f00,#ff1f00,#ff1f00,#ff1f00,#ff1f00,#ff1b00,#ff1800,#ff1500,#ff1100,#ff1100,#ff1000,#ff0f00,#ff0e00,#ff1700,#ff2000,#ff2900,#ff3100,#ff4c00,#ff6600,#ff8100,#ff9b00,#ffb300,#ffcc00,#ffe400,#fffc00,#e7ff18,#cdff32,#b3ff4c,#99ff66,#88ff77,#76ff89,#65ff9a,#54ffab,#47ffb8,#3affc5,#2dffd2,#22ffdd,#1fffe0,#1dffe2,#19ffe6,#1bffe4,#28ffd7,#3fffc0,#47ffb8,#32ffcd,#0dfff2,#00f1ff,#00e2ff,#00daff)"></i><i style="background:linear-gradient(90deg,#8d0000,#8e0000,#8f0000,#900000,#920000,#980000,#9e0000,#a40000,#aa0000,#b30000,#bc0000,#c50000,#ce0000,#d60000,#dd0000,#e50000,#ec0000,#ef0000,#f20000,#f60000,#f90000,#ff0200,#ff0b00,#ff1400,#ff1c00,#ff2000,#ff2300,#ff2600,#ff2900,#ff2900,#ff2900,#ff2900,#ff2900,#ff2900,#ff2900,#ff2900,#ff2900,#ff2600,#ff2300,#ff2000,#ff1c00,#ff1d00,#ff1e00,#ff1f00,#ff2000,#ff2b00,#ff3500,#ff4000,#ff4b00,#ff6800,#ff8500,#ffa200,#ffbf00,#ffdb00,#fff700,#ebff14,#cfff30,#b5ff4a,#9aff65,#80ff7f,#66ff99,#57ffa8,#47ffb8,#38ffc7,#28ffd7,#1cffe3,#0ffff0,#04fffb,#00fcff,#02fffd,#04fffb,#00ffff,#01fffe,#11ffee,#31ffce,#3fffc0,#23ffdc,#00f4ff,#00d0ff,#00bfff,#00b6ff)"></i><i style="background:linear-gradient(90deg,#8d0000,#8e0000,#8f0000,#900000,#920000,#980000,#9f0000,#a50000,#ac0000,#b50000,#bf0000,#c80000,#d20000,#da0000,#e20000,#e90000,#f10000,#f50000,#f90000,#fc0000,#ff0100,#ff0b00,#ff1400,#ff1e00,#ff2700,#ff2a00,#ff2e00,#ff3100,#ff3400,#ff3400,#ff3400,#ff3400,#ff3400,#ff3400,#ff3400,#ff3400,#ff3400,#ff3100,#ff2e00,#ff2a00,#ff2700,#ff2a00,#ff2d00,#ff2f00,#ff3200,#ff3f00,#ff4b00,#ff5800,#ff6400,#ff8400,#ffa400,#ffc400,#ffe400,#fbff04,#dbff24,#bbff44,#9cff63,#82ff7d,#68ff97,#4dffb2,#33ffcc,#26ffd9,#18ffe7,#0bfff4,#00fdff,#00f0ff,#00e4ff,#00ddff,#00deff,#00f3ff,#00feff,#00f4ff,#00e8ff,#00ebff,#03fffc,#0efff1,#00f4ff,#00caff,#00aaff,#009aff,#0091ff)"></i><i style="background:linear-gradient(90deg,#8d0000,#8e0000,#8f0000,#910000,#920000,#980000,#9f0000,#a60000,#ac0000,#b70000,#c10000,#cb0000,#d50000,#dd0000,#e50000,#ed0000,#f50000,#f90000,#fd0000,#ff0200,#ff0600,#ff1000,#ff1b00,#ff2500,#ff3000,#ff3500,#ff3b00,#ff4100,#ff4700,#ff4700,#ff4700,#ff4700,#ff4700,#ff4700,#ff4700,#ff4700,#ff4700,#ff4400,#ff4200,#ff3f00,#ff3c00,#ff4000,#ff4400,#ff4800,#ff4c00,#ff5a00,#ff6900,#ff7700,#ff8500,#ffa600,#ffc700,#ffe700,#f6ff09,#d5ff2a,#b5ff4a,#94ff6b,#73ff8c,#59ffa6,#3fffc0,#25ffda,#0bfff4,#00fdff,#00f0ff,#00e6ff,#00dcff,#00d2ff,#00c7ff,#00c2ff,#00ceff,#00f1ff,#05fffa,#00f3ff,#00d3ff,#00c1ff,#00c4ff,#00c6ff,#00b5ff,#009aff,#0086ff,#007aff,#0072ff)"></i><i style="background:linear-gradient(90deg,#8e0000,#8f0000,#900000,#910000,#920000,#990000,#a00000,#a60000,#ad0000,#b80000,#c20000,#cc0000,#d70000,#df0000,#e70000,#ef0000,#f80000,#fc0000,#ff0100,#ff0500,#ff0900,#ff1500,#ff2000,#ff2b00,#ff3700,#ff4000,#ff4a00,#ff5300,#ff5d00,#ff5d00,#ff5d00,#ff5d00,#ff5d00,#ff5d00,#ff5d00,#ff5d00,#ff5d00,#ff5b00,#ff5900,#ff5700,#ff5600,#ff5b00,#ff5f00,#ff6400,#ff6900,#ff7900,#ff8900,#ff9900,#ffaa00,#ffca00,#ffeb00,#f2ff0d,#d2ff2d,#b1ff4e,#90ff6f,#70ff8f,#4fffb0,#35ffca,#1bffe4,#00ffff,#00e5ff,#00d9ff,#00cfff,#00c9ff,#00c6ff,#00c2ff,#00b5ff,#00acff,#00b7ff,#00dcff,#00f0ff,#00dcff,#00b6ff,#0098ff,#008dff,#0088ff,#007dff,#0070ff,#0064ff,#005cff,#0055ff)"></i><i style="background:linear-gradient(90deg,#8f0000,#8f0000,#900000,#910000,#920000,#990000,#a00000,#a70000,#ae0000,#b90000,#c30000,#ce0000,#d90000,#e10000,#ea0000,#f20000,#fa0000,#ff0000,#ff0400,#ff0900,#ff0d00,#ff1900,#ff2600,#ff3200,#ff3e00,#ff4b00,#ff5800,#ff6500,#ff7200,#ff7200,#ff7200,#ff7200,#ff7200,#ff7200,#ff7200,#ff7200,#ff7200,#ff7200,#ff7100,#ff7000,#ff6f00,#ff7500,#ff7b00,#ff8000,#ff8600,#ff9800,#ffaa00,#ffbc00,#ffce00,#ffef00,#efff10,#ceff31,#adff52,#8dff72,#6cff93,#4bffb4,#2bffd4,#10ffef,#00f5ff,#00dbff,#00c1ff,#00b5ff,#00aeff,#00b1ff,#00baff,#00beff,#00acff,#0095ff,#0091ff,#00a7ff,#00b4ff,#00a6ff,#008aff,#0071ff,#0064ff,#005dff,#0055ff,#004dff,#0045ff,#003eff,#0038ff)"></i><i style="background:linear-gradient(90deg,#8f0000,#900000,#900000,#910000,#920000,#990000,#a00000,#a70000,#af0000,#ba0000,#c50000,#d00000,#db0000,#e40000,#ec0000,#f50000,#fd0000,#ff0300,#ff0700,#ff0c00,#ff1000,#ff1e00,#ff2b00,#ff3800,#ff4500,#ff5600,#ff6700,#ff7700,#ff8800,#ff8800,#ff8900,#ff8900,#ff8900,#ff8900,#ff8900,#ff8900,#ff8900,#ff8900,#ff8900,#ff8900,#ff8900,#ff8f00,#ff9600,#ff9d00,#ffa300,#ffb700,#ffcb00,#ffde00,#fff200,#ebff14,#caff35,#a9ff56,#88ff77,#67ff98,#46ffb9,#26ffd9,#05fffa,#00eaff,#00d0ff,#00b6ff,#009cff,#0091ff,#008dff,#0095ff,#00a7ff,#00b0ff,#009aff,#0079ff,#0066ff,#006aff,#006eff,#0067ff,#005bff,#004bff,#0042ff,#003bff,#0034ff,#002dff,#0026ff,#0020ff,#0019ff)"></i><i style="background:linear-gradient(90deg,#8f0000,#900000,#900000,#910000,#920000,#990000,#a00000,#a70000,#af0000,#ba0000,#c50000,#d00000,#db0000,#e40000,#ec0000,#f50000,#fd0000,#ff0300,#ff0700,#ff0c00,#ff1000,#ff1e00,#ff2c00,#ff3b00,#ff4900,#ff5e00,#ff7300,#ff8900,#ff9e00,#ffa000,#ffa200,#ffa400,#ffa600,#ffa600,#ffa600,#ffa600,#ffa600,#ffa600,#ffa600,#ffa600,#ffa600,#ffad00,#ffb300,#ffba00,#ffc000,#ffd600,#ffeb00,#fdff02,#e7ff18,#c5ff3a,#a2ff5d,#7fff80,#5dffa2,#3affc5,#17ffe8,#00f4ff,#00d1ff,#00b9ff,#00a1ff,#0088ff,#0071ff,#0067ff,#0063ff,#006bff,#007aff,#0081ff,#006eff,#004eff,#0037ff,#0031ff,#002fff,#002bff,#0026ff,#001dff,#0015ff,#000eff,#0008ff,#0001ff,#0000fa,#0000f3,#0000ec)"></i><i style="background:linear-gradient(90deg,#8f0000,#900000,#900000,#910000,#920000,#990000,#a00000,#a70000,#af0000,#ba0000,#c50000,#d00000,#db0000,#e40000,#ec0000,#f50000,#fd0000,#ff0300,#ff0700,#ff0c00,#ff1000,#ff1f00,#ff2e00,#ff3d00,#ff4c00,#ff6600,#ff8000,#ff9a00,#ffb400,#ffb800,#ffbb00,#ffbf00,#ffc300,#ffc300,#ffc300,#ffc300,#ffc300,#ffc300,#ffc300,#ffc300,#ffc300,#ffca00,#ffd000,#ffd700,#ffdd00,#fff500,#f2ff0d,#daff25,#c3ff3c,#9fff60,#7aff85,#56ffa9,#31ffce,#0dfff2,#00e7ff,#00c3ff,#009eff,#0088ff,#0071ff,#005bff,#0045ff,#003cff,#0037ff,#0039ff,#003eff,#003fff,#0031ff,#001cff,#000bff,#0004ff,#0000ff,#0000fa,#0000f6,#0000ef,#0000e8,#0000e2,#0000db,#0000d5,#0000ce,#0000c7,#0000c1)"></i><i style="background:linear-gradient(90deg,#8f0000,#900000,#900000,#910000,#920000,#990000,#a00000,#a70000,#af0000,#ba0000,#c50000,#d00000,#db0000,#e40000,#ec0000,#f50000,#fd0000,#ff0300,#ff0700,#ff0c00,#ff1000,#ff2000,#ff3000,#ff4000,#ff5000,#ff6e00,#ff8d00,#ffab00,#ffca00,#ffcf00,#ffd500,#ffda00,#ffe000,#ffe000,#ffe000,#ffe000,#ffe000,#ffe000,#ffe000,#ffe000,#ffe000,#ffe700,#ffed00,#fff400,#fffa00,#eaff15,#d1ff2e,#b8ff47,#9fff60,#78ff87,#52ffad,#2cffd3,#05fffa,#00deff,#00b8ff,#0091ff,#006bff,#0057ff,#0042ff,#002eff,#0019ff,#0012ff,#000cff,#0008ff,#0006ff,#0002ff,#0000f8,#0000ec,#0000e2,#0000db,#0000d5,#0000cf,#0000ca,#0000c3,#0000bd,#0000b6,#0000af,#0000a9,#0000a2,#00009c,#000095)"></i><i style="background:linear-gradient(90deg,#8f0000,#900000,#900000,#910000,#920000,#990000,#a00000,#a70000,#ae0000,#b90000,#c40000,#cf0000,#da0000,#e30000,#eb0000,#f40000,#fc0000,#ff0200,#ff0700,#ff0c00,#ff1000,#ff2100,#ff3100,#ff4100,#ff5200,#ff7200,#ff9100,#ffb100,#ffd100,#ffda00,#ffe300,#ffed00,#fff600,#fff700,#fff800,#fff900,#fffa00,#fffa00,#fffb00,#fffc00,#fffd00,#f8ff07,#f0ff0f,#e8ff17,#dfff20,#c5ff3a,#abff54,#91ff6e,#77ff88,#50ffaf,#28ffd7,#01fffe,#00d9ff,#00b3ff,#008cff,#0066ff,#0040ff,#002dff,#001aff,#0007ff,#0000f4,#0000ed,#0000e7,#0000e1,#0000dc,#0000d7,#0000d1,#0000ca,#0000c3,#0000be,#0000b8,#0000b2,#0000ad,#0000a7,#0000a1,#00009c,#000096,#000090,#00008b,#000085,#000080)"></i><i style="background:linear-gradient(90deg,#8f0000,#900000,#900000,#910000,#920000,#990000,#a00000,#a70000,#ad0000,#b80000,#c30000,#ce0000,#d90000,#e10000,#ea0000,#f20000,#fb0000,#ff0100,#ff0600,#ff0b00,#ff1000,#ff2100,#ff3100,#ff4100,#ff5200,#ff7000,#ff8e00,#ffac00,#ffca00,#ffd800,#ffe700,#fff600,#faff05,#f7ff08,#f4ff0b,#f1ff0e,#efff10,#ecff13,#e9ff16,#e6ff19,#e4ff1b,#d8ff27,#ccff33,#c0ff3f,#b4ff4b,#9aff65,#80ff7f,#65ff9a,#4bffb4,#24ffdb,#00fcff,#00d5ff,#00adff,#0089ff,#0064ff,#0040ff,#001bff,#000aff,#0000f8,#0000e8,#0000d7,#0000d0,#0000ca,#0000c3,#0000bd,#0000b9,#0000b5,#0000b1,#0000ad,#0000a9,#0000a6,#0000a2,#00009e,#00009a,#000096,#000093,#00008f,#00008b,#000087,#000083,#000080)"></i><i style="background:linear-gradient(90deg,#8f0000,#900000,#900000,#910000,#920000,#990000,#9f0000,#a60000,#ad0000,#b70000,#c20000,#cd0000,#d70000,#e00000,#e80000,#f10000,#f90000,#ff0000,#ff0500,#ff0b00,#ff1000,#ff2100,#ff3100,#ff4100,#ff5200,#ff6e00,#ff8a00,#ffa600,#ffc200,#ffd600,#ffeb00,#ffff00,#ebff14,#e6ff19,#e2ff1d,#ddff22,#d9ff26,#d4ff2b,#d0ff2f,#cbff34,#c7ff38,#b7ff48,#a7ff58,#98ff67,#88ff77,#6eff91,#54ffab,#3affc5,#20ffdf,#00f7ff,#00d0ff,#00a9ff,#0082ff,#005fff,#003cff,#001aff,#0000f6,#0000e7,#0000d8,#0000c9,#0000ba,#0000b3,#0000ad,#0000a6,#0000a0,#00009e,#00009c,#000099,#000097,#000095,#000093,#000091,#00008f,#00008d,#00008b,#000089,#000087,#000085,#000083,#000081,#000080)"></i><i style="background:linear-gradient(90deg,#8f0000,#900000,#900000,#910000,#920000,#980000,#9f0000,#a50000,#ac0000,#b70000,#c10000,#cb0000,#d60000,#de0000,#e70000,#ef0000,#f80000,#fe0000,#ff0500,#ff0a00,#ff1000,#ff2100,#ff3100,#ff4100,#ff5200,#ff6c00,#ff8600,#ffa100,#ffbb00,#ffd500,#ffee00,#f6ff09,#dcff23,#d6ff29,#d0ff2f,#c9ff36,#c3ff3c,#bdff42,#b6ff49,#b0ff4f,#aaff55,#96ff69,#83ff7c,#70ff8f,#5dffa2,#42ffbd,#28ffd7,#0efff1,#00f3ff,#00ccff,#00a5ff,#007dff,#0056ff,#0035ff,#0014ff,#0000f2,#0000d2,#0000c4,#0000b7,#0000aa,#00009d,#000096,#00008f,#000089,#000082,#000082,#000082,#000082,#000082,#000081,#000081,#000081,#000081,#000081,#000081,#000080,#000080,#000080,#000080,#000080,#000080)"></i><i style="background:linear-gradient(90deg,#8f0000,#900000,#900000,#910000,#920000,#980000,#9e0000,#a40000,#ab0000,#b50000,#bf0000,#ca0000,#d40000,#dc0000,#e50000,#ed0000,#f50000,#fb0000,#ff0200,#ff0700,#ff0d00,#ff1d00,#ff2e00,#ff3e00,#ff4e00,#ff6600,#ff7e00,#ff9600,#ffad00,#ffcc00,#ffeb00,#f4ff0b,#d5ff2a,#ccff33,#c4ff3b,#bcff43,#b4ff4b,#acff53,#a3ff5c,#9bff64,#93ff6c,#77ff88,#5cffa3,#40ffbf,#24ffdb,#0afff5,#00efff,#00d4ff,#00baff,#0098ff,#0076ff,#0053ff,#0031ff,#0015ff,#0000f8,#0000dd,#0000c1,#0000b5,#0000aa,#00009f,#000093,#00008e,#000089,#000084,#000080,#000080,#000080,#000080,#000080,#000080,#000080,#000080,#000080,#000080,#000080,#000080,#000080,#000080,#000080,#000080,#000080)"></i><i style="background:linear-gradient(90deg,#8f0000,#900000,#900000,#910000,#920000,#980000,#9e0000,#a30000,#a90000,#b30000,#bd0000,#c80000,#d20000,#da0000,#e20000,#ea0000,#f20000,#f80000,#fd0000,#ff0400,#ff0900,#ff1a00,#ff2a00,#ff3a00,#ff4b00,#ff6000,#ff7500,#ff8a00,#ff9f00,#ffc300,#ffe800,#f2ff0d,#cdff32,#c3ff3c,#b9ff46,#afff50,#a5ff5a,#9bff64,#91ff6e,#87ff78,#7dff82,#58ffa7,#34ffcb,#0ffff0,#00e9ff,#00cfff,#00b5ff,#009aff,#0080ff,#0063ff,#0046ff,#002aff,#000dff,#0000f5,#0000df,#0000c9,#0000b2,#0000a9,#00009f,#000095,#00008c,#000089,#000086,#000083,#000080,#000080,#000080,#000080,#000080,#000080,#000080,#000080,#000080,#000080,#000080,#000080,#000080,#000080,#000080,#000080,#000080)"></i><i style="background:linear-gradient(90deg,#8f0000,#900000,#900000,#910000,#920000,#970000,#9d0000,#a20000,#a80000,#b20000,#bc0000,#c60000,#cf0000,#d70000,#df0000,#e70000,#ef0000,#f50000,#fa0000,#ff0000,#ff0600,#ff1600,#ff2700,#ff3700,#ff4700,#ff5900,#ff6c00,#ff7e00,#ff9000,#ffba00,#ffe400,#f0ff0f,#c6ff39,#baff45,#aeff51,#a3ff5c,#97ff68,#8bff74,#7fff80,#73ff8c,#68ff97,#3affc5,#0cfff3,#00ddff,#00afff,#0095ff,#007aff,#0060ff,#0046ff,#002fff,#0017ff,#0000ff,#0000e7,#0000d6,#0000c6,#0000b5,#0000a4,#00009c,#000094,#00008c,#000085,#000083,#000082,#000081,#000080,#000080,#000080,#000080,#000080,#000080,#000080,#000080,#000080,#000080,#000080,#000080,#000080,#000080,#000080,#000080,#000080)"></i><i style="background:linear-gradient(90deg,#8f0000,#900000,#900000,#910000,#920000,#970000,#9c0000,#a10000,#a60000,#b00000,#ba0000,#c30000,#cd0000,#d50000,#dc0000,#e40000,#ec0000,#f10000,#f70000,#fc0000,#ff0200,#ff1200,#ff2200,#ff3200,#ff4200,#ff5200,#ff6200,#ff7200,#ff8200,#ffaf00,#ffdd00,#f3ff0c,#c5ff3a,#b6ff49,#a7ff58,#97ff68,#88ff77,#7aff85,#6cff93,#5effa1,#50ffaf,#1affe5,#00e3ff,#00adff,#0077ff,#005eff,#0045ff,#002cff,#0013ff,#0000ff,#0000ec,#0000da,#0000c7,#0000bb,#0000af,#0000a3,#000097,#000091,#00008b,#000085,#000080,#000080,#000080,#000080,#000080,#000080,#000080,#000080,#000080,#000080,#000080,#000080,#000080,#000080,#000080,#000080,#000080,#000080,#000080,#000080,#000080)"></i><i style="background:linear-gradient(90deg,#8f0000,#900000,#900000,#910000,#920000,#970000,#9b0000,#a00000,#a50000,#ae0000,#b70000,#c00000,#c90000,#d10000,#d80000,#df0000,#e70000,#ec0000,#f20000,#f80000,#fe0000,#ff0e00,#ff1d00,#ff2c00,#ff3b00,#ff4900,#ff5700,#ff6500,#ff7300,#ffa100,#ffcf00,#fffc00,#d4ff2b,#bdff42,#a7ff58,#90ff6f,#7aff85,#68ff97,#56ffa9,#44ffbb,#32ffcd,#00f6ff,#00bbff,#007fff,#0044ff,#002eff,#0019ff,#0004ff,#0000ed,#0000de,#0000cf,#0000c1,#0000b2,#0000a9,#0000a1,#000099,#000090,#00008c,#000088,#000084,#000080,#000080,#000080,#000080,#000080,#000080,#000080,#000080,#000080,#000080,#000080,#000080,#000080,#000080,#000080,#000080,#000080,#000080,#000080,#000080,#000080)"></i><i style="background:linear-gradient(90deg,#8f0000,#900000,#900000,#910000,#920000,#960000,#9b0000,#9f0000,#a30000,#ac0000,#b40000,#bd0000,#c60000,#cd0000,#d40000,#db0000,#e20000,#e80000,#ee0000,#f40000,#fa0000,#ff0900,#ff1700,#ff2600,#ff3400,#ff4000,#ff4c00,#ff5800,#ff6500,#ff9200,#ffc000,#ffee00,#e2ff1d,#c5ff3a,#a7ff58,#89ff76,#6bff94,#56ffa9,#40ffbf,#2bffd4,#15ffea,#00d4ff,#0093ff,#0052ff,#0011ff,#0000fe,#0000ec,#0000db,#0000c9,#0000be,#0000b2,#0000a7,#00009c,#000097,#000092,#00008e,#000089,#000087,#000084,#000082,#000080,#000080,#000080,#000080,#000080,#000080,#000080,#000080,#000080,#000080,#000080,#000080,#000080,#000080,#000080,#000080,#000080,#000080,#000080,#000080,#000080)"></i><i style="background:linear-gradient(90deg,#8f0000,#900000,#900000,#910000,#920000,#960000,#9a0000,#9e0000,#a20000,#aa0000,#b20000,#ba0000,#c20000,#c90000,#cf0000,#d60000,#dd0000,#e30000,#e90000,#f00000,#f60000,#ff0500,#ff1200,#ff1f00,#ff2d00,#ff3700,#ff4100,#ff4c00,#ff5600,#ff8400,#ffb200,#ffdf00,#f1ff0e,#ccff33,#a7ff58,#82ff7d,#5dffa2,#44ffbb,#2bffd4,#11ffee,#00f7ff,#00b1ff,#006bff,#0025ff,#0000dd,#0000cf,#0000c1,#0000b3,#0000a5,#00009d,#000095,#00008e,#000086,#000085,#000084,#000083,#000082,#000081,#000081,#000080,#000080,#000080,#000080,#000080,#000080,#000080,#000080,#000080,#000080,#000080,#000080,#000080,#000080,#000080,#000080,#000080,#000080,#000080,#000080,#000080,#000080)"></i><i style="background:linear-gradient(90deg,#8f0000,#900000,#900000,#910000,#920000,#960000,#990000,#9d0000,#a10000,#a80000,#b00000,#b70000,#be0000,#c50000,#cb0000,#d20000,#d80000,#df0000,#e60000,#ec0000,#f30000,#ff0000,#ff0d00,#ff1900,#ff2500,#ff2e00,#ff3600,#ff3f00,#ff4800,#ff7400,#ffa100,#ffcd00,#fffa00,#d7ff28,#a9ff56,#7cff83,#4effb1,#39ffc6,#24ffdb,#0ffff0,#00f9ff,#00bbff,#007dff,#0040ff,#0002ff,#0000f8,#0000ee,#0000e5,#0000dc,#0000d0,#0000c5,#0000b9,#0000ad,#0000a6,#00009e,#000096,#00008f,#00008c,#00008a,#000087,#000085,#000083,#000082,#000081,#000080,#000080,#000080,#000080,#000080,#000080,#000080,#000080,#000080,#000080,#000080,#000080,#000080,#000080,#000080,#000080,#000080)"></i><i style="background:linear-gradient(90deg,#8f0000,#900000,#900000,#910000,#920000,#950000,#990000,#9d0000,#a00000,#a70000,#ad0000,#b40000,#bb0000,#c10000,#c80000,#ce0000,#d50000,#db0000,#e20000,#e80000,#ef0000,#fb0000,#ff0700,#ff1300,#ff1e00,#ff2500,#ff2c00,#ff3200,#ff3900,#ff6400,#ff8e00,#ffb900,#ffe400,#e4ff1b,#adff52,#76ff89,#40ffbf,#32ffcd,#24ffdb,#16ffe9,#08fff7,#00d8ff,#00a9ff,#007aff,#004aff,#0047ff,#0043ff,#003fff,#003bff,#0028ff,#0015ff,#0003ff,#0000ef,#0000dc,#0000ca,#0000b7,#0000a5,#00009e,#000098,#000092,#00008c,#000089,#000086,#000083,#000080,#000080,#000080,#000080,#000080,#000080,#000080,#000080,#000080,#000080,#000080,#000080,#000080,#000080,#000080,#000080,#000080)"></i><i style="background:linear-gradient(90deg,#8f0000,#900000,#900000,#910000,#920000,#950000,#990000,#9c0000,#a00000,#a50000,#ab0000,#b10000,#b70000,#be0000,#c40000,#cb0000,#d10000,#d80000,#de0000,#e50000,#eb0000,#f60000,#ff0200,#ff0c00,#ff1700,#ff1c00,#ff2100,#ff2600,#ff2a00,#ff5300,#ff7c00,#ffa500,#ffce00,#f0ff0f,#b1ff4e,#71ff8e,#31ffce,#2bffd4,#24ffdb,#1dffe2,#17ffe8,#00f5ff,#00d4ff,#00b4ff,#0093ff,#0095ff,#0096ff,#0098ff,#009aff,#007fff,#0065ff,#004bff,#0031ff,#0014ff,#0000f5,#0000d8,#0000ba,#0000b1,#0000a7,#00009d,#000093,#00008e,#000089,#000084,#000080,#000080,#000080,#000080,#000080,#000080,#000080,#000080,#000080,#000080,#000080,#000080,#000080,#000080,#000080,#000080,#000080)"></i></div>
<div class="cb" style="left:194px;top:15px;background:linear-gradient(180deg,#800000,#9f0000,#bf0000,#df0000,#ff0000,#ff2000,#ff4000,#ff6000,#ff8000,#ff9f00,#ffbf00,#ffdf00,#ffff00,#dfff20,#bfff40,#9fff60,#80ff80,#60ff9f,#40ffbf,#20ffdf,#00ffff,#00dfff,#00bfff,#009fff,#0080ff,#0060ff,#0040ff,#0020ff,#0000ff,#0000df,#0000bf,#00009f,#000080)"></div>
<div class="cb" style="left:431px;top:15px;background:linear-gradient(180deg,#800000,#9f0000,#bf0000,#df0000,#ff0000,#ff2000,#ff4000,#ff6000,#ff8000,#ff9f00,#ffbf00,#ffdf00,#ffff00,#dfff20,#bfff40,#9fff60,#80ff80,#60ff9f,#40ffbf,#20ffdf,#00ffff,#00dfff,#00bfff,#009fff,#0080ff,#0060ff,#0040ff,#0020ff,#0000ff,#0000df,#0000bf,#00009f,#000080)"></div>
<div class="cb" style="left:194px;top:142px;background:linear-gradient(180deg,#800000,#9f0000,#bf0000,#df0000,#ff0000,#ff2000,#ff4000,#ff6000,#ff8000,#ff9f00,#ffbf00,#ffdf00,#ffff00,#dfff20,#bfff40,#9fff60,#80ff80,#60ff9f,#40ffbf,#20ffdf,#00ffff,#00dfff,#00bfff,#009fff,#0080ff,#0060ff,#0040ff,#0020ff,#0000ff,#0000df,#0000bf,#00009f,#000080)"></div>
<div class="cb" style="left:431px;top:142px;background:linear-gradient(180deg,#800000,#9f0000,#bf0000,#df0000,#ff0000,#ff2000,#ff4000,#ff6000,#ff8000,#ff9f00,#ffbf00,#ffdf00,#ffff00,#dfff20,#bfff40,#9fff60,#80ff80,#60ff9f,#40ffbf,#20ffdf,#00ffff,#00dfff,#00bfff,#009fff,#0080ff,#0060ff,#0040ff,#0020ff,#0000ff,#0000df,#0000bf,#00009f,#000080)"></div>
<div class="t" style="left:88.0px;top:1.7px">(a)</div>
<div class="yt" style="left:6.3px;top:10.9px">180</div>
<div class="yt" style="left:6.3px;top:32.5px">90</div>
<div class="yt" style="left:6.3px;top:54.1px">0</div>
<div class="yt" style="left:6.3px;top:75.7px">-90</div>
<div class="yt" style="left:6.3px;top:97.3px">-180</div>
<div class="xt" style="left:18.0px;top:104.2px">1</div>
<div class="xt" style="left:44.7px;top:104.2px">2</div>
<div class="xt" style="left:71.3px;top:104.2px">4</div>
<div class="xt" style="left:98.0px;top:104.2px">8</div>
<div class="xt" style="left:124.7px;top:104.2px">16</div>
<div class="xt" style="left:151.3px;top:104.2px">32</div>
<div class="xt" style="left:178.0px;top:104.2px">64</div>
<div class="xl" style="left:78.0px;top:111.8px">k(a+b)</div>
<div class="yl" style="left:-28.8px;top:54.0px">angle [deg]</div>
<div class="cl" style="left:202.5px;top:12.0px">0</div>
<div class="cl" style="left:202.5px;top:23.1px">-5</div>
<div class="cl" style="left:202.5px;top:34.2px">-10</div>
<div class="cl" style="left:202.5px;top:45.3px">-15</div>
<div class="cl" style="left:202.5px;top:56.3px">-20</div>
<div class="cl" style="left:202.5px;top:67.4px">-25</div>
<div class="cl" style="left:202.5px;top:78.5px">-30</div>
<div class="cl" style="left:202.5px;top:89.6px">-35</div>
<div class="dl" style="left:169.4px;top:15px;height:86px;background:repeating-linear-gradient(180deg,#fff 0,#fff 0.90px,transparent 0.90px,transparent 4.80px,#fff 4.80px,#fff 8.5px)"></div>
<div class="t" style="left:325.0px;top:1.7px">(b)</div>
<div class="yt" style="left:243.3px;top:10.9px">180</div>
<div class="yt" style="left:243.3px;top:32.5px">90</div>
<div class="yt" style="left:243.3px;top:54.1px">0</div>
<div class="yt" style="left:243.3px;top:75.7px">-90</div>
<div class="yt" style="left:243.3px;top:97.3px">-180</div>
<div class="xt" style="left:255.0px;top:104.2px">1</div>
<div class="xt" style="left:281.7px;top:104.2px">2</div>
<div class="xt" style="left:308.3px;top:104.2px">4</div>
<div class="xt" style="left:335.0px;top:104.2px">8</div>
<div class="xt" style="left:361.7px;top:104.2px">16</div>
<div class="xt" style="left:388.3px;top:104.2px">32</div>
<div class="xt" style="left:415.0px;top:104.2px">64</div>
<div class="xl" style="left:315.0px;top:111.8px">k(a+b)</div>
<div class="yl" style="left:208.2px;top:54.0px">angle [deg]</div>
<div class="cl" style="left:439.5px;top:12.0px">0</div>
<div class="cl" style="left:439.5px;top:23.1px">-5</div>
<div class="cl" style="left:439.5px;top:34.2px">-10</div>
<div class="cl" style="left:439.5px;top:45.3px">-15</div>
<div class="cl" style="left:439.5px;top:56.3px">-20</div>
<div class="cl" style="left:439.5px;top:67.4px">-25</div>
<div class="cl" style="left:439.5px;top:78.5px">-30</div>
<div class="cl" style="left:439.5px;top:89.6px">-35</div>
<div class="dl" style="left:406.4px;top:15px;height:86px;background:repeating-linear-gradient(180deg,#fff 0,#fff 0.90px,transparent 0.90px,transparent 4.80px,#fff 4.80px,#fff 8.5px)"></div>
<div class="t" style="left:88.0px;top:128.7px">(c)</div>
<div class="yt" style="left:6.3px;top:137.9px">180</div>
<div class="yt" style="left:6.3px;top:159.5px">90</div>
<div class="yt" style="left:6.3px;top:181.1px">0</div>
<div class="yt" style="left:6.3px;top:202.7px">-90</div>
<div class="yt" style="left:6.3px;top:224.3px">-180</div>
<div class="xt" style="left:18.0px;top:231.2px">1</div>
<div class="xt" style="left:44.7px;top:231.2px">2</div>
<div class="xt" style="left:71.3px;top:231.2px">4</div>
<div class="xt" style="left:98.0px;top:231.2px">8</div>
<div class="xt" style="left:124.7px;top:231.2px">16</div>
<div class="xt" style="left:151.3px;top:231.2px">32</div>
<div class="xt" style="left:178.0px;top:231.2px">64</div>
<div class="xl" style="left:78.0px;top:238.8px">k(a+b)</div>
<div class="yl" style="left:-28.8px;top:181.0px">angle [deg]</div>
<div class="cl" style="left:202.5px;top:139.0px">0</div>
<div class="cl" style="left:202.5px;top:150.1px">-5</div>
<div class="cl" style="left:202.5px;top:161.2px">-10</div>
<div class="cl" style="left:202.5px;top:172.3px">-15</div>
<div class="cl" style="left:202.5px;top:183.3px">-20</div>
<div class="cl" style="left:202.5px;top:194.4px">-25</div>
<div class="cl" style="left:202.5px;top:205.5px">-30</div>
<div class="cl" style="left:202.5px;top:216.6px">-35</div>
<div class="dl" style="left:169.4px;top:142px;height:86px;background:repeating-linear-gradient(180deg,#fff 0,#fff 1.50px,transparent 1.50px,transparent 5.40px,#fff 5.40px,#fff 8.5px)"></div>
<div class="t" style="left:325.0px;top:128.7px">(d)</div>
<div class="yt" style="left:243.3px;top:137.9px">180</div>
<div class="yt" style="left:243.3px;top:159.5px">90</div>
<div class="yt" style="left:243.3px;top:181.1px">0</div>
<div class="yt" style="left:243.3px;top:202.7px">-90</div>
<div class="yt" style="left:243.3px;top:224.3px">-180</div>
<div class="xt" style="left:255.0px;top:231.2px">1</div>
<div class="xt" style="left:281.7px;top:231.2px">2</div>
<div class="xt" style="left:308.3px;top:231.2px">4</div>
<div class="xt" style="left:335.0px;top:231.2px">8</div>
<div class="xt" style="left:361.7px;top:231.2px">16</div>
<div class="xt" style="left:388.3px;top:231.2px">32</div>
<div class="xt" style="left:415.0px;top:231.2px">64</div>
<div class="xl" style="left:315.0px;top:238.8px">k(a+b)</div>
<div class="yl" style="left:208.2px;top:181.0px">angle [deg]</div>
<div class="cl" style="left:439.5px;top:139.0px">0</div>
<div class="cl" style="left:439.5px;top:150.1px">-5</div>
<div class="cl" style="left:439.5px;top:161.2px">-10</div>
<div class="cl" style="left:439.5px;top:172.3px">-15</div>
<div class="cl" style="left:439.5px;top:183.3px">-20</div>
<div class="cl" style="left:439.5px;top:194.4px">-25</div>
<div class="cl" style="left:439.5px;top:205.5px">-30</div>
<div class="cl" style="left:439.5px;top:216.6px">-35</div>
<div class="dl" style="left:406.4px;top:142px;height:86px;background:repeating-linear-gradient(180deg,#fff 0,#fff 1.50px,transparent 1.50px,transparent 5.40px,#fff 5.40px,#fff 8.5px)"></div>
</body></html>
